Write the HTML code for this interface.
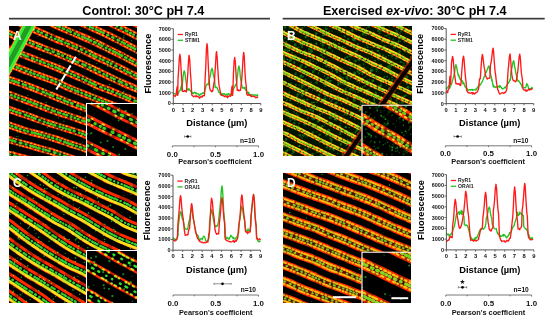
<!DOCTYPE html>
<html><head><meta charset="utf-8"><style>
html,body{margin:0;padding:0;background:#fff;}
svg{display:block;}
</style></head><body>
<svg width="550" height="322" viewBox="0 0 550 322" font-family='"Liberation Sans", Arial, sans-serif'>
<defs><filter id="bl" x="-5%" y="-5%" width="110%" height="110%"><feGaussianBlur stdDeviation="0.65"/></filter><filter id="bl2" x="-5%" y="-5%" width="110%" height="110%"><feGaussianBlur stdDeviation="0.7"/></filter><clipPath id="c1"><rect x="9" y="26" width="128" height="130"/></clipPath><clipPath id="ci1"><rect x="86" y="103" width="51" height="53"/></clipPath><clipPath id="c2"><rect x="283" y="26" width="129" height="130"/></clipPath><clipPath id="ci2"><rect x="361.5" y="104.7" width="51" height="51.3"/></clipPath><clipPath id="c3"><rect x="9" y="173" width="128" height="130"/></clipPath><clipPath id="ci3"><rect x="86" y="250" width="51" height="53"/></clipPath><clipPath id="c4"><rect x="283" y="173" width="128" height="130"/></clipPath><clipPath id="ci4"><rect x="361.5" y="251.7" width="50" height="51.3"/></clipPath></defs>
<rect width="550" height="322" fill="#fff"/>
<text x="82.3" y="14.7" font-size="12.6" font-weight="bold">Control: 30°C pH 7.4</text>
<text x="322.9" y="14.7" font-size="12.6" font-weight="bold">Exercised <tspan font-style="italic">ex-vivo</tspan>: 30°C pH 7.4</text>
<rect x="9" y="17.8" width="261" height="1.7" fill="#3a3a3a"/>
<rect x="282.7" y="17.8" width="262" height="1.7" fill="#3a3a3a"/>
<g clip-path="url(#c1)">
<g filter="url(#bl)">
<rect x="6" y="23" width="134" height="136" fill="#000"/>
<g fill="none"><path d="M-1 -61.2C1.3 -59.9 8.3 -56.2 13 -53.7C17.7 -51.2 22.3 -48.5 27 -46.1C31.7 -43.7 36.3 -41.4 41 -39.2C45.7 -36.9 50.3 -34.9 55 -32.6C59.7 -30.4 64.3 -28.1 69 -25.7C73.7 -23.2 78.3 -20.4 83 -17.8C87.7 -15.1 92.3 -12.4 97 -9.8C101.7 -7.2 106.3 -4.6 111 -2C115.7 0.6 120.3 3.4 125 5.9C129.7 8.4 134.3 10.7 139 13.1C143.7 15.5 150.7 19 153 20.2" stroke="#ff2200" stroke-width="7.4"/><path d="M-1 -61.2C1.3 -59.9 8.3 -56.2 13 -53.7C17.7 -51.2 22.3 -48.5 27 -46.1C31.7 -43.7 36.3 -41.4 41 -39.2C45.7 -36.9 50.3 -34.9 55 -32.6C59.7 -30.4 64.3 -28.1 69 -25.7C73.7 -23.2 78.3 -20.4 83 -17.8C87.7 -15.1 92.3 -12.4 97 -9.8C101.7 -7.2 106.3 -4.6 111 -2C115.7 0.6 120.3 3.4 125 5.9C129.7 8.4 134.3 10.7 139 13.1C143.7 15.5 150.7 19 153 20.2" stroke="#000" stroke-width="3.0" opacity="1"/><path d="M-1 -61.2C1.3 -59.9 8.3 -56.2 13 -53.7C17.7 -51.2 22.3 -48.5 27 -46.1C31.7 -43.7 36.3 -41.4 41 -39.2C45.7 -36.9 50.3 -34.9 55 -32.6C59.7 -30.4 64.3 -28.1 69 -25.7C73.7 -23.2 78.3 -20.4 83 -17.8C87.7 -15.1 92.3 -12.4 97 -9.8C101.7 -7.2 106.3 -4.6 111 -2C115.7 0.6 120.3 3.4 125 5.9C129.7 8.4 134.3 10.7 139 13.1C143.7 15.5 150.7 19 153 20.2" stroke="#000" stroke-width="8.4" stroke-dasharray="8.2 13.4 6.2 18.4 6.1 15.6 6.3 7 5.3 22" stroke-dashoffset="24.5" opacity="0.3"/><path d="M-1 -45.6C1.3 -44.5 8.3 -41 13 -38.8C17.7 -36.6 22.3 -34.6 27 -32.4C31.7 -30.2 36.3 -27.7 41 -25.5C45.7 -23.3 50.3 -21.4 55 -19C59.7 -16.7 64.3 -14 69 -11.5C73.7 -8.9 78.3 -6.3 83 -3.7C87.7 -1.2 92.3 1.3 97 3.7C101.7 6.2 106.3 8.6 111 11C115.7 13.4 120.3 15.8 125 18.1C129.7 20.5 134.3 22.7 139 25.3C143.7 27.8 150.7 31.9 153 33.2" stroke="#ff2200" stroke-width="7.4"/><path d="M-1 -45.6C1.3 -44.5 8.3 -41 13 -38.8C17.7 -36.6 22.3 -34.6 27 -32.4C31.7 -30.2 36.3 -27.7 41 -25.5C45.7 -23.3 50.3 -21.4 55 -19C59.7 -16.7 64.3 -14 69 -11.5C73.7 -8.9 78.3 -6.3 83 -3.7C87.7 -1.2 92.3 1.3 97 3.7C101.7 6.2 106.3 8.6 111 11C115.7 13.4 120.3 15.8 125 18.1C129.7 20.5 134.3 22.7 139 25.3C143.7 27.8 150.7 31.9 153 33.2" stroke="#000" stroke-width="3.0" opacity="1"/><path d="M-1 -45.6C1.3 -44.5 8.3 -41 13 -38.8C17.7 -36.6 22.3 -34.6 27 -32.4C31.7 -30.2 36.3 -27.7 41 -25.5C45.7 -23.3 50.3 -21.4 55 -19C59.7 -16.7 64.3 -14 69 -11.5C73.7 -8.9 78.3 -6.3 83 -3.7C87.7 -1.2 92.3 1.3 97 3.7C101.7 6.2 106.3 8.6 111 11C115.7 13.4 120.3 15.8 125 18.1C129.7 20.5 134.3 22.7 139 25.3C143.7 27.8 150.7 31.9 153 33.2" stroke="#000" stroke-width="8.4" stroke-dasharray="7.2 7.2 8.6 13 6.4 9.1 4.7 24.9 8.4 17.2" stroke-dashoffset="23.4" opacity="0.3"/><path d="M-1 -31.1C1.3 -30.1 8.3 -27.2 13 -25.1C17.7 -22.9 22.3 -20.6 27 -18.4C31.7 -16.2 36.3 -14.2 41 -12C45.7 -9.8 50.3 -7.5 55 -5.1C59.7 -2.6 64.3 0.2 69 2.7C73.7 5.2 78.3 7.6 83 9.9C87.7 12.2 92.3 14.2 97 16.4C101.7 18.7 106.3 21.2 111 23.5C115.7 25.8 120.3 27.8 125 30.2C129.7 32.5 134.3 34.9 139 37.5C143.7 40.1 150.7 44.2 153 45.6" stroke="#ff2200" stroke-width="7.4"/><path d="M-1 -31.1C1.3 -30.1 8.3 -27.2 13 -25.1C17.7 -22.9 22.3 -20.6 27 -18.4C31.7 -16.2 36.3 -14.2 41 -12C45.7 -9.8 50.3 -7.5 55 -5.1C59.7 -2.6 64.3 0.2 69 2.7C73.7 5.2 78.3 7.6 83 9.9C87.7 12.2 92.3 14.2 97 16.4C101.7 18.7 106.3 21.2 111 23.5C115.7 25.8 120.3 27.8 125 30.2C129.7 32.5 134.3 34.9 139 37.5C143.7 40.1 150.7 44.2 153 45.6" stroke="#000" stroke-width="3.0" opacity="1"/><path d="M-1 -31.1C1.3 -30.1 8.3 -27.2 13 -25.1C17.7 -22.9 22.3 -20.6 27 -18.4C31.7 -16.2 36.3 -14.2 41 -12C45.7 -9.8 50.3 -7.5 55 -5.1C59.7 -2.6 64.3 0.2 69 2.7C73.7 5.2 78.3 7.6 83 9.9C87.7 12.2 92.3 14.2 97 16.4C101.7 18.7 106.3 21.2 111 23.5C115.7 25.8 120.3 27.8 125 30.2C129.7 32.5 134.3 34.9 139 37.5C143.7 40.1 150.7 44.2 153 45.6" stroke="#000" stroke-width="8.4" stroke-dasharray="5 14.2 5 19.4 11.7 17.6 5.1 21.4 6.3 7.7" stroke-dashoffset="4.6" opacity="0.3"/><path d="M-1 -16.3C1.3 -15.3 8.3 -12.2 13 -10.2C17.7 -8.2 22.3 -6.3 27 -4.1C31.7 -1.9 36.3 0.5 41 2.9C45.7 5.2 50.3 7.6 55 10C59.7 12.4 64.3 14.9 69 17.2C73.7 19.4 78.3 21.6 83 23.7C87.7 25.8 92.3 27.8 97 30C101.7 32.1 106.3 34.3 111 36.6C115.7 38.8 120.3 41.2 125 43.7C129.7 46.1 134.3 48.7 139 51.2C143.7 53.7 150.7 57.4 153 58.6" stroke="#ff2200" stroke-width="7.4"/><path d="M-1 -16.3C1.3 -15.3 8.3 -12.2 13 -10.2C17.7 -8.2 22.3 -6.3 27 -4.1C31.7 -1.9 36.3 0.5 41 2.9C45.7 5.2 50.3 7.6 55 10C59.7 12.4 64.3 14.9 69 17.2C73.7 19.4 78.3 21.6 83 23.7C87.7 25.8 92.3 27.8 97 30C101.7 32.1 106.3 34.3 111 36.6C115.7 38.8 120.3 41.2 125 43.7C129.7 46.1 134.3 48.7 139 51.2C143.7 53.7 150.7 57.4 153 58.6" stroke="#000" stroke-width="3.0" opacity="1"/><path d="M-1 -16.3C1.3 -15.3 8.3 -12.2 13 -10.2C17.7 -8.2 22.3 -6.3 27 -4.1C31.7 -1.9 36.3 0.5 41 2.9C45.7 5.2 50.3 7.6 55 10C59.7 12.4 64.3 14.9 69 17.2C73.7 19.4 78.3 21.6 83 23.7C87.7 25.8 92.3 27.8 97 30C101.7 32.1 106.3 34.3 111 36.6C115.7 38.8 120.3 41.2 125 43.7C129.7 46.1 134.3 48.7 139 51.2C143.7 53.7 150.7 57.4 153 58.6" stroke="#000" stroke-width="8.4" stroke-dasharray="9.1 24.7 9.1 12.4 11.4 7.5 9.1 8.1 4.6 13.3" stroke-dashoffset="15" opacity="0.3"/><path d="M-1 -1.2C1.3 -0.2 8.3 2.7 13 4.8C17.7 6.9 22.3 9.2 27 11.4C31.7 13.6 36.3 15.9 41 18.1C45.7 20.4 50.3 22.7 55 24.9C59.7 27 64.3 29.1 69 31.1C73.7 33.1 78.3 34.9 83 37C87.7 39 92.3 41.1 97 43.3C101.7 45.5 106.3 47.9 111 50.2C115.7 52.5 120.3 54.8 125 57.2C129.7 59.6 134.3 62.3 139 64.6C143.7 66.9 150.7 70.2 153 71.3" stroke="#ff2200" stroke-width="7.4"/><path d="M-1 -1.2C1.3 -0.2 8.3 2.7 13 4.8C17.7 6.9 22.3 9.2 27 11.4C31.7 13.6 36.3 15.9 41 18.1C45.7 20.4 50.3 22.7 55 24.9C59.7 27 64.3 29.1 69 31.1C73.7 33.1 78.3 34.9 83 37C87.7 39 92.3 41.1 97 43.3C101.7 45.5 106.3 47.9 111 50.2C115.7 52.5 120.3 54.8 125 57.2C129.7 59.6 134.3 62.3 139 64.6C143.7 66.9 150.7 70.2 153 71.3" stroke="#000" stroke-width="3.0" opacity="1"/><path d="M-1 -1.2C1.3 -0.2 8.3 2.7 13 4.8C17.7 6.9 22.3 9.2 27 11.4C31.7 13.6 36.3 15.9 41 18.1C45.7 20.4 50.3 22.7 55 24.9C59.7 27 64.3 29.1 69 31.1C73.7 33.1 78.3 34.9 83 37C87.7 39 92.3 41.1 97 43.3C101.7 45.5 106.3 47.9 111 50.2C115.7 52.5 120.3 54.8 125 57.2C129.7 59.6 134.3 62.3 139 64.6C143.7 66.9 150.7 70.2 153 71.3" stroke="#000" stroke-width="8.4" stroke-dasharray="8.1 7.5 7.3 14.2 7.1 23.3 5.7 24.6 7.2 15.1" stroke-dashoffset="21.4" opacity="0.3"/><path d="M-1 13.7C1.3 14.7 8.3 17.9 13 20C17.7 22.1 22.3 24.3 27 26.4C31.7 28.5 36.3 30.6 41 32.7C45.7 34.7 50.3 36.8 55 38.7C59.7 40.7 64.3 42.3 69 44.2C73.7 46.2 78.3 48.1 83 50.3C87.7 52.5 92.3 55 97 57.2C101.7 59.5 106.3 61.3 111 63.6C115.7 65.8 120.3 68.3 125 70.6C129.7 72.9 134.3 75.2 139 77.4C143.7 79.5 150.7 82.4 153 83.4" stroke="#ff2200" stroke-width="7.4"/><path d="M-1 13.7C1.3 14.7 8.3 17.9 13 20C17.7 22.1 22.3 24.3 27 26.4C31.7 28.5 36.3 30.6 41 32.7C45.7 34.7 50.3 36.8 55 38.7C59.7 40.7 64.3 42.3 69 44.2C73.7 46.2 78.3 48.1 83 50.3C87.7 52.5 92.3 55 97 57.2C101.7 59.5 106.3 61.3 111 63.6C115.7 65.8 120.3 68.3 125 70.6C129.7 72.9 134.3 75.2 139 77.4C143.7 79.5 150.7 82.4 153 83.4" stroke="#000" stroke-width="3.0" opacity="1"/><path d="M-1 13.7C1.3 14.7 8.3 17.9 13 20C17.7 22.1 22.3 24.3 27 26.4C31.7 28.5 36.3 30.6 41 32.7C45.7 34.7 50.3 36.8 55 38.7C59.7 40.7 64.3 42.3 69 44.2C73.7 46.2 78.3 48.1 83 50.3C87.7 52.5 92.3 55 97 57.2C101.7 59.5 106.3 61.3 111 63.6C115.7 65.8 120.3 68.3 125 70.6C129.7 72.9 134.3 75.2 139 77.4C143.7 79.5 150.7 82.4 153 83.4" stroke="#000" stroke-width="8.4" stroke-dasharray="11 11 6.5 24.8 8.6 8.5 4.6 10.9 11.4 21.4" stroke-dashoffset="0.5" opacity="0.3"/><path d="M-1 29.6C1.3 30.6 8.3 33.3 13 35.3C17.7 37.3 22.3 39.6 27 41.6C31.7 43.6 36.3 45.4 41 47.2C45.7 49.1 50.3 50.7 55 52.5C59.7 54.4 64.3 56.4 69 58.4C73.7 60.4 78.3 62.4 83 64.4C87.7 66.5 92.3 68.6 97 70.8C101.7 73 106.3 75.4 111 77.6C115.7 79.8 120.3 81.9 125 84C129.7 86.1 134.3 88 139 89.9C143.7 91.9 150.7 94.8 153 95.8" stroke="#ff2200" stroke-width="7.4"/><path d="M-1 29.6C1.3 30.6 8.3 33.3 13 35.3C17.7 37.3 22.3 39.6 27 41.6C31.7 43.6 36.3 45.4 41 47.2C45.7 49.1 50.3 50.7 55 52.5C59.7 54.4 64.3 56.4 69 58.4C73.7 60.4 78.3 62.4 83 64.4C87.7 66.5 92.3 68.6 97 70.8C101.7 73 106.3 75.4 111 77.6C115.7 79.8 120.3 81.9 125 84C129.7 86.1 134.3 88 139 89.9C143.7 91.9 150.7 94.8 153 95.8" stroke="#000" stroke-width="3.0" opacity="1"/><path d="M-1 29.6C1.3 30.6 8.3 33.3 13 35.3C17.7 37.3 22.3 39.6 27 41.6C31.7 43.6 36.3 45.4 41 47.2C45.7 49.1 50.3 50.7 55 52.5C59.7 54.4 64.3 56.4 69 58.4C73.7 60.4 78.3 62.4 83 64.4C87.7 66.5 92.3 68.6 97 70.8C101.7 73 106.3 75.4 111 77.6C115.7 79.8 120.3 81.9 125 84C129.7 86.1 134.3 88 139 89.9C143.7 91.9 150.7 94.8 153 95.8" stroke="#000" stroke-width="8.4" stroke-dasharray="11.3 20.9 8.4 19.2 10.6 9 5.1 17 7.3 23.7" stroke-dashoffset="9.9" opacity="0.3"/><path d="M-1 45.4C1.3 46.4 8.3 49.1 13 50.9C17.7 52.7 22.3 54.5 27 56.3C31.7 58.1 36.3 59.8 41 61.6C45.7 63.3 50.3 65.1 55 67C59.7 68.9 64.3 71 69 73C73.7 75 78.3 77 83 79.1C87.7 81.2 92.3 83.6 97 85.6C101.7 87.6 106.3 89.1 111 90.9C115.7 92.8 120.3 94.8 125 96.7C129.7 98.7 134.3 100.5 139 102.5C143.7 104.6 150.7 108.1 153 109.2" stroke="#ff2200" stroke-width="7.4"/><path d="M-1 45.4C1.3 46.4 8.3 49.1 13 50.9C17.7 52.7 22.3 54.5 27 56.3C31.7 58.1 36.3 59.8 41 61.6C45.7 63.3 50.3 65.1 55 67C59.7 68.9 64.3 71 69 73C73.7 75 78.3 77 83 79.1C87.7 81.2 92.3 83.6 97 85.6C101.7 87.6 106.3 89.1 111 90.9C115.7 92.8 120.3 94.8 125 96.7C129.7 98.7 134.3 100.5 139 102.5C143.7 104.6 150.7 108.1 153 109.2" stroke="#000" stroke-width="3.0" opacity="1"/><path d="M-1 45.4C1.3 46.4 8.3 49.1 13 50.9C17.7 52.7 22.3 54.5 27 56.3C31.7 58.1 36.3 59.8 41 61.6C45.7 63.3 50.3 65.1 55 67C59.7 68.9 64.3 71 69 73C73.7 75 78.3 77 83 79.1C87.7 81.2 92.3 83.6 97 85.6C101.7 87.6 106.3 89.1 111 90.9C115.7 92.8 120.3 94.8 125 96.7C129.7 98.7 134.3 100.5 139 102.5C143.7 104.6 150.7 108.1 153 109.2" stroke="#000" stroke-width="8.4" stroke-dasharray="11.1 15.1 3.4 11.2 8.9 8.4 6.1 24.6 4.2 14.3" stroke-dashoffset="19.5" opacity="0.3"/><path d="M-1 61.1C1.3 61.9 8.3 64.2 13 65.8C17.7 67.5 22.3 69.4 27 71.2C31.7 72.9 36.3 74.6 41 76.3C45.7 78 50.3 79.5 55 81.4C59.7 83.4 64.3 85.9 69 87.9C73.7 89.9 78.3 91.7 83 93.5C87.7 95.4 92.3 97.2 97 99C101.7 100.8 106.3 102.6 111 104.4C115.7 106.1 120.3 107.7 125 109.6C129.7 111.5 134.3 113.6 139 115.7C143.7 117.8 150.7 121.1 153 122.2" stroke="#ff2200" stroke-width="7.4"/><path d="M-1 61.1C1.3 61.9 8.3 64.2 13 65.8C17.7 67.5 22.3 69.4 27 71.2C31.7 72.9 36.3 74.6 41 76.3C45.7 78 50.3 79.5 55 81.4C59.7 83.4 64.3 85.9 69 87.9C73.7 89.9 78.3 91.7 83 93.5C87.7 95.4 92.3 97.2 97 99C101.7 100.8 106.3 102.6 111 104.4C115.7 106.1 120.3 107.7 125 109.6C129.7 111.5 134.3 113.6 139 115.7C143.7 117.8 150.7 121.1 153 122.2" stroke="#000" stroke-width="3.0" opacity="1"/><path d="M-1 61.1C1.3 61.9 8.3 64.2 13 65.8C17.7 67.5 22.3 69.4 27 71.2C31.7 72.9 36.3 74.6 41 76.3C45.7 78 50.3 79.5 55 81.4C59.7 83.4 64.3 85.9 69 87.9C73.7 89.9 78.3 91.7 83 93.5C87.7 95.4 92.3 97.2 97 99C101.7 100.8 106.3 102.6 111 104.4C115.7 106.1 120.3 107.7 125 109.6C129.7 111.5 134.3 113.6 139 115.7C143.7 117.8 150.7 121.1 153 122.2" stroke="#000" stroke-width="8.4" stroke-dasharray="8 22.9 3.2 15.7 8 23.4 3.5 13.6 9.4 9.9" stroke-dashoffset="19.9" opacity="0.3"/><path d="M-1 76.2C1.3 77 8.3 79.3 13 80.8C17.7 82.4 22.3 84 27 85.7C31.7 87.4 36.3 89.2 41 91.1C45.7 92.9 50.3 95 55 96.8C59.7 98.7 64.3 100.6 69 102.4C73.7 104.1 78.3 105.7 83 107.4C87.7 109.1 92.3 111 97 112.6C101.7 114.3 106.3 115.7 111 117.5C115.7 119.2 120.3 121.2 125 123.3C129.7 125.3 134.3 127.5 139 129.6C143.7 131.6 150.7 134.6 153 135.6" stroke="#ff2200" stroke-width="7.4"/><path d="M-1 76.2C1.3 77 8.3 79.3 13 80.8C17.7 82.4 22.3 84 27 85.7C31.7 87.4 36.3 89.2 41 91.1C45.7 92.9 50.3 95 55 96.8C59.7 98.7 64.3 100.6 69 102.4C73.7 104.1 78.3 105.7 83 107.4C87.7 109.1 92.3 111 97 112.6C101.7 114.3 106.3 115.7 111 117.5C115.7 119.2 120.3 121.2 125 123.3C129.7 125.3 134.3 127.5 139 129.6C143.7 131.6 150.7 134.6 153 135.6" stroke="#000" stroke-width="3.0" opacity="1"/><path d="M-1 76.2C1.3 77 8.3 79.3 13 80.8C17.7 82.4 22.3 84 27 85.7C31.7 87.4 36.3 89.2 41 91.1C45.7 92.9 50.3 95 55 96.8C59.7 98.7 64.3 100.6 69 102.4C73.7 104.1 78.3 105.7 83 107.4C87.7 109.1 92.3 111 97 112.6C101.7 114.3 106.3 115.7 111 117.5C115.7 119.2 120.3 121.2 125 123.3C129.7 125.3 134.3 127.5 139 129.6C143.7 131.6 150.7 134.6 153 135.6" stroke="#000" stroke-width="8.4" stroke-dasharray="7.7 13.1 5.2 20.2 5.3 19.8 8.9 12 10.2 12.1" stroke-dashoffset="25.1" opacity="0.3"/><path d="M-1 90.8C1.3 91.6 8.3 94.1 13 95.8C17.7 97.5 22.3 99.1 27 100.9C31.7 102.6 36.3 104.3 41 106.1C45.7 107.8 50.3 109.8 55 111.4C59.7 113.1 64.3 114.3 69 115.9C73.7 117.4 78.3 119.2 83 120.8C87.7 122.5 92.3 124.2 97 125.9C101.7 127.6 106.3 129.2 111 131.1C115.7 132.9 120.3 135.1 125 137.1C129.7 139 134.3 140.9 139 142.8C143.7 144.6 150.7 147.1 153 148" stroke="#ff2200" stroke-width="7.4"/><path d="M-1 90.8C1.3 91.6 8.3 94.1 13 95.8C17.7 97.5 22.3 99.1 27 100.9C31.7 102.6 36.3 104.3 41 106.1C45.7 107.8 50.3 109.8 55 111.4C59.7 113.1 64.3 114.3 69 115.9C73.7 117.4 78.3 119.2 83 120.8C87.7 122.5 92.3 124.2 97 125.9C101.7 127.6 106.3 129.2 111 131.1C115.7 132.9 120.3 135.1 125 137.1C129.7 139 134.3 140.9 139 142.8C143.7 144.6 150.7 147.1 153 148" stroke="#000" stroke-width="3.0" opacity="1"/><path d="M-1 90.8C1.3 91.6 8.3 94.1 13 95.8C17.7 97.5 22.3 99.1 27 100.9C31.7 102.6 36.3 104.3 41 106.1C45.7 107.8 50.3 109.8 55 111.4C59.7 113.1 64.3 114.3 69 115.9C73.7 117.4 78.3 119.2 83 120.8C87.7 122.5 92.3 124.2 97 125.9C101.7 127.6 106.3 129.2 111 131.1C115.7 132.9 120.3 135.1 125 137.1C129.7 139 134.3 140.9 139 142.8C143.7 144.6 150.7 147.1 153 148" stroke="#000" stroke-width="8.4" stroke-dasharray="3.5 21.4 11.9 15.5 3.7 7.8 11.2 9.4 9.9 20.4" stroke-dashoffset="12.1" opacity="0.3"/><path d="M-1 105.8C1.3 106.6 8.3 109.2 13 110.8C17.7 112.5 22.3 113.9 27 115.5C31.7 117.2 36.3 119 41 120.6C45.7 122.3 50.3 123.8 55 125.3C59.7 126.7 64.3 128 69 129.5C73.7 130.9 78.3 132.3 83 134C87.7 135.7 92.3 137.8 97 139.6C101.7 141.5 106.3 143.3 111 145.1C115.7 146.9 120.3 148.6 125 150.3C129.7 151.9 134.3 153.5 139 155.2C143.7 156.9 150.7 159.6 153 160.4" stroke="#ff2200" stroke-width="7.4"/><path d="M-1 105.8C1.3 106.6 8.3 109.2 13 110.8C17.7 112.5 22.3 113.9 27 115.5C31.7 117.2 36.3 119 41 120.6C45.7 122.3 50.3 123.8 55 125.3C59.7 126.7 64.3 128 69 129.5C73.7 130.9 78.3 132.3 83 134C87.7 135.7 92.3 137.8 97 139.6C101.7 141.5 106.3 143.3 111 145.1C115.7 146.9 120.3 148.6 125 150.3C129.7 151.9 134.3 153.5 139 155.2C143.7 156.9 150.7 159.6 153 160.4" stroke="#000" stroke-width="3.0" opacity="1"/><path d="M-1 105.8C1.3 106.6 8.3 109.2 13 110.8C17.7 112.5 22.3 113.9 27 115.5C31.7 117.2 36.3 119 41 120.6C45.7 122.3 50.3 123.8 55 125.3C59.7 126.7 64.3 128 69 129.5C73.7 130.9 78.3 132.3 83 134C87.7 135.7 92.3 137.8 97 139.6C101.7 141.5 106.3 143.3 111 145.1C115.7 146.9 120.3 148.6 125 150.3C129.7 151.9 134.3 153.5 139 155.2C143.7 156.9 150.7 159.6 153 160.4" stroke="#000" stroke-width="8.4" stroke-dasharray="5.1 10.3 11.1 19.9 5.3 9.1 9.3 8.7 11.3 8.4" stroke-dashoffset="20.1" opacity="0.3"/><path d="M-1 121.7C1.3 122.5 8.3 124.9 13 126.5C17.7 128 22.3 129.8 27 131.1C31.7 132.5 36.3 133.4 41 134.6C45.7 135.9 50.3 137.2 55 138.7C59.7 140.1 64.3 142 69 143.5C73.7 145.1 78.3 146.5 83 148.1C87.7 149.8 92.3 151.8 97 153.6C101.7 155.4 106.3 157.4 111 159C115.7 160.6 120.3 161.7 125 163.2C129.7 164.8 134.3 166.8 139 168.3C143.7 169.8 150.7 171.7 153 172.4" stroke="#ff2200" stroke-width="7.4"/><path d="M-1 121.7C1.3 122.5 8.3 124.9 13 126.5C17.7 128 22.3 129.8 27 131.1C31.7 132.5 36.3 133.4 41 134.6C45.7 135.9 50.3 137.2 55 138.7C59.7 140.1 64.3 142 69 143.5C73.7 145.1 78.3 146.5 83 148.1C87.7 149.8 92.3 151.8 97 153.6C101.7 155.4 106.3 157.4 111 159C115.7 160.6 120.3 161.7 125 163.2C129.7 164.8 134.3 166.8 139 168.3C143.7 169.8 150.7 171.7 153 172.4" stroke="#000" stroke-width="3.0" opacity="1"/><path d="M-1 121.7C1.3 122.5 8.3 124.9 13 126.5C17.7 128 22.3 129.8 27 131.1C31.7 132.5 36.3 133.4 41 134.6C45.7 135.9 50.3 137.2 55 138.7C59.7 140.1 64.3 142 69 143.5C73.7 145.1 78.3 146.5 83 148.1C87.7 149.8 92.3 151.8 97 153.6C101.7 155.4 106.3 157.4 111 159C115.7 160.6 120.3 161.7 125 163.2C129.7 164.8 134.3 166.8 139 168.3C143.7 169.8 150.7 171.7 153 172.4" stroke="#000" stroke-width="8.4" stroke-dasharray="6.4 7 9.3 6.6 5.7 21.6 7.2 11.6 10.7 10.3" stroke-dashoffset="29.5" opacity="0.3"/><path d="M-1 137C1.3 137.6 8.3 139.6 13 140.8C17.7 142.1 22.3 143.4 27 144.7C31.7 146 36.3 147.4 41 148.8C45.7 150.1 50.3 151.3 55 152.7C59.7 154.2 64.3 155.9 69 157.5C73.7 159.1 78.3 160.6 83 162.2C87.7 163.9 92.3 165.6 97 167.2C101.7 168.7 106.3 170 111 171.4C115.7 172.8 120.3 174 125 175.4C129.7 176.8 134.3 178.2 139 179.7C143.7 181.3 150.7 183.9 153 184.8" stroke="#ff2200" stroke-width="7.4"/><path d="M-1 137C1.3 137.6 8.3 139.6 13 140.8C17.7 142.1 22.3 143.4 27 144.7C31.7 146 36.3 147.4 41 148.8C45.7 150.1 50.3 151.3 55 152.7C59.7 154.2 64.3 155.9 69 157.5C73.7 159.1 78.3 160.6 83 162.2C87.7 163.9 92.3 165.6 97 167.2C101.7 168.7 106.3 170 111 171.4C115.7 172.8 120.3 174 125 175.4C129.7 176.8 134.3 178.2 139 179.7C143.7 181.3 150.7 183.9 153 184.8" stroke="#000" stroke-width="3.0" opacity="1"/><path d="M-1 137C1.3 137.6 8.3 139.6 13 140.8C17.7 142.1 22.3 143.4 27 144.7C31.7 146 36.3 147.4 41 148.8C45.7 150.1 50.3 151.3 55 152.7C59.7 154.2 64.3 155.9 69 157.5C73.7 159.1 78.3 160.6 83 162.2C87.7 163.9 92.3 165.6 97 167.2C101.7 168.7 106.3 170 111 171.4C115.7 172.8 120.3 174 125 175.4C129.7 176.8 134.3 178.2 139 179.7C143.7 181.3 150.7 183.9 153 184.8" stroke="#000" stroke-width="8.4" stroke-dasharray="9.3 11.9 11.9 21.5 8.1 7.7 6.3 17.4 11.5 8.9" stroke-dashoffset="9" opacity="0.3"/><path d="M-1 151.9C1.3 152.5 8.3 154.2 13 155.3C17.7 156.5 22.3 157.7 27 158.9C31.7 160.2 36.3 161.3 41 162.7C45.7 164 50.3 165.7 55 167.1C59.7 168.6 64.3 170 69 171.5C73.7 173.1 78.3 174.9 83 176.4C87.7 177.8 92.3 178.9 97 180.2C101.7 181.5 106.3 182.9 111 184.2C115.7 185.5 120.3 186.6 125 188.1C129.7 189.5 134.3 191.2 139 192.9C143.7 194.6 150.7 197.2 153 198.1" stroke="#ff2200" stroke-width="7.4"/><path d="M-1 151.9C1.3 152.5 8.3 154.2 13 155.3C17.7 156.5 22.3 157.7 27 158.9C31.7 160.2 36.3 161.3 41 162.7C45.7 164 50.3 165.7 55 167.1C59.7 168.6 64.3 170 69 171.5C73.7 173.1 78.3 174.9 83 176.4C87.7 177.8 92.3 178.9 97 180.2C101.7 181.5 106.3 182.9 111 184.2C115.7 185.5 120.3 186.6 125 188.1C129.7 189.5 134.3 191.2 139 192.9C143.7 194.6 150.7 197.2 153 198.1" stroke="#000" stroke-width="3.0" opacity="1"/><path d="M-1 151.9C1.3 152.5 8.3 154.2 13 155.3C17.7 156.5 22.3 157.7 27 158.9C31.7 160.2 36.3 161.3 41 162.7C45.7 164 50.3 165.7 55 167.1C59.7 168.6 64.3 170 69 171.5C73.7 173.1 78.3 174.9 83 176.4C87.7 177.8 92.3 178.9 97 180.2C101.7 181.5 106.3 182.9 111 184.2C115.7 185.5 120.3 186.6 125 188.1C129.7 189.5 134.3 191.2 139 192.9C143.7 194.6 150.7 197.2 153 198.1" stroke="#000" stroke-width="8.4" stroke-dasharray="4.6 10 10.6 21.5 8.5 14.8 9.1 10.5 3.3 12.7" stroke-dashoffset="18.7" opacity="0.3"/><path d="M33 18 L0.1 80" stroke="#ff2a10" stroke-width="13"/><path d="M33 18 L0.1 80" stroke="#000" stroke-width="10.6"/></g>
<g fill="none" style="mix-blend-mode:screen">
<g fill="#1a8a1a" opacity="0.9"><circle cx="95.8" cy="143.5" r="0.6"/><circle cx="124.4" cy="155.9" r="0.7"/><circle cx="50.1" cy="52.5" r="0.7"/><circle cx="125.8" cy="30.8" r="0.6"/><circle cx="135.4" cy="128.8" r="0.7"/><circle cx="45.2" cy="31.2" r="0.7"/><circle cx="115.1" cy="42.7" r="0.5"/><circle cx="30.9" cy="99.3" r="0.7"/><circle cx="58" cy="152.7" r="0.7"/><circle cx="76.1" cy="49.9" r="0.4"/><circle cx="71.1" cy="143.3" r="0.7"/><circle cx="126.1" cy="61.2" r="0.6"/><circle cx="70.2" cy="55.2" r="0.7"/><circle cx="27.8" cy="95.4" r="0.6"/><circle cx="49.5" cy="33.2" r="0.5"/><circle cx="59.2" cy="63.3" r="0.6"/><circle cx="52.5" cy="77.3" r="0.5"/><circle cx="20.5" cy="41.3" r="0.6"/><circle cx="100.2" cy="72.7" r="0.5"/><circle cx="89.2" cy="61.3" r="0.6"/><circle cx="115.3" cy="82.1" r="0.5"/><circle cx="46.1" cy="102.5" r="0.8"/><circle cx="81.6" cy="132.2" r="0.4"/><circle cx="135.7" cy="91" r="0.8"/><circle cx="134.7" cy="101.6" r="0.8"/><circle cx="18.1" cy="136.4" r="0.5"/><circle cx="14.1" cy="66.5" r="0.6"/><circle cx="90.8" cy="50.3" r="0.7"/><circle cx="13.5" cy="151.7" r="0.8"/><circle cx="61.8" cy="70.3" r="0.6"/><circle cx="131.3" cy="112.8" r="0.8"/><circle cx="93.9" cy="155.6" r="0.4"/><circle cx="122.6" cy="69.1" r="0.4"/><circle cx="45.9" cy="37" r="0.8"/><circle cx="93.9" cy="89.2" r="0.8"/><circle cx="52.4" cy="92.4" r="0.7"/><circle cx="69.5" cy="48.9" r="0.7"/><circle cx="38" cy="36.5" r="0.5"/><circle cx="58.6" cy="117.9" r="0.6"/><circle cx="127.5" cy="95.7" r="0.5"/><circle cx="123" cy="29.9" r="0.5"/><circle cx="107.6" cy="66.5" r="0.8"/><circle cx="19.6" cy="37.2" r="0.5"/><circle cx="98.8" cy="137" r="0.5"/><circle cx="55" cy="122.9" r="0.7"/><circle cx="80.2" cy="112.9" r="0.6"/><circle cx="21.6" cy="41.7" r="0.6"/><circle cx="11.6" cy="71.5" r="0.6"/><circle cx="135" cy="101.7" r="0.5"/><circle cx="72.2" cy="89.5" r="0.7"/><circle cx="99.7" cy="68" r="0.8"/><circle cx="72.9" cy="30.9" r="0.6"/><circle cx="28.8" cy="109.1" r="0.7"/><circle cx="91.4" cy="70" r="0.5"/><circle cx="19.8" cy="69.9" r="0.6"/><circle cx="17.9" cy="132.4" r="0.6"/><circle cx="19.1" cy="63.5" r="0.5"/><circle cx="43.2" cy="72.1" r="0.5"/><circle cx="16.9" cy="136.6" r="0.7"/><circle cx="85.1" cy="121.5" r="0.7"/><circle cx="79.1" cy="54.1" r="0.7"/><circle cx="72.9" cy="129.4" r="0.8"/><circle cx="95.8" cy="89.2" r="0.4"/><circle cx="123.6" cy="91.7" r="0.8"/><circle cx="19.5" cy="33.6" r="0.7"/><circle cx="11.9" cy="150.7" r="0.4"/><circle cx="108.6" cy="124.3" r="0.7"/><circle cx="85" cy="116.9" r="0.8"/><circle cx="122.1" cy="82.4" r="0.4"/><circle cx="106" cy="63.3" r="0.6"/><circle cx="44.3" cy="45.7" r="0.5"/><circle cx="94.2" cy="95.9" r="0.5"/><circle cx="106" cy="132" r="0.7"/><circle cx="82.4" cy="142.2" r="0.5"/><circle cx="97.1" cy="104.1" r="0.7"/><circle cx="53.7" cy="61.5" r="0.4"/><circle cx="63.9" cy="121.2" r="0.7"/><circle cx="131.4" cy="40.7" r="0.6"/><circle cx="19.3" cy="146.8" r="0.5"/><circle cx="52.8" cy="125.8" r="0.8"/><circle cx="132.9" cy="83.8" r="0.5"/><circle cx="128.4" cy="104.1" r="0.8"/><circle cx="32.3" cy="133.6" r="0.8"/><circle cx="134.1" cy="74" r="0.6"/><circle cx="96.9" cy="63.6" r="0.7"/><circle cx="130.1" cy="95" r="0.7"/><circle cx="40.6" cy="54.3" r="0.5"/><circle cx="47.4" cy="127.5" r="0.7"/><circle cx="39.5" cy="76.9" r="0.8"/><circle cx="60.4" cy="79.7" r="0.8"/><circle cx="109.8" cy="84.6" r="0.8"/><circle cx="53.2" cy="30.8" r="0.5"/><circle cx="123.8" cy="37.6" r="0.8"/><circle cx="72.1" cy="57.2" r="0.5"/><circle cx="125.2" cy="133.3" r="0.7"/><circle cx="107.8" cy="135.4" r="0.6"/><circle cx="56" cy="55" r="0.4"/><circle cx="80.1" cy="29.8" r="0.7"/><circle cx="83.8" cy="138.1" r="0.5"/><circle cx="110.8" cy="91.1" r="0.5"/><circle cx="91.7" cy="102.4" r="0.8"/><circle cx="106.8" cy="120.3" r="0.6"/><circle cx="128.2" cy="30.1" r="0.6"/><circle cx="124.1" cy="35.7" r="0.6"/><circle cx="107.9" cy="32.3" r="0.6"/><circle cx="93.9" cy="69.8" r="0.7"/><circle cx="56.3" cy="115.3" r="0.6"/><circle cx="24.1" cy="100.2" r="0.6"/><circle cx="59.2" cy="137.7" r="0.7"/><circle cx="96.8" cy="44.9" r="0.6"/></g>
<path d="M-1 -61.2C1.3 -59.9 8.3 -56.2 13 -53.7C17.7 -51.2 22.3 -48.5 27 -46.1C31.7 -43.7 36.3 -41.4 41 -39.2C45.7 -36.9 50.3 -34.9 55 -32.6C59.7 -30.4 64.3 -28.1 69 -25.7C73.7 -23.2 78.3 -20.4 83 -17.8C87.7 -15.1 92.3 -12.4 97 -9.8C101.7 -7.2 106.3 -4.6 111 -2C115.7 0.6 120.3 3.4 125 5.9C129.7 8.4 134.3 10.7 139 13.1C143.7 15.5 150.7 19 153 20.2" stroke="#0a4a0a" stroke-width="2.4" stroke-dasharray="6 2.4 7.8 3.5 3.5 2.7 7.7 3.4 4.2 2.4 5.1 3.7" opacity="0.9"/>
<path d="M-1 -61.2C1.3 -59.9 8.3 -56.2 13 -53.7C17.7 -51.2 22.3 -48.5 27 -46.1C31.7 -43.7 36.3 -41.4 41 -39.2C45.7 -36.9 50.3 -34.9 55 -32.6C59.7 -30.4 64.3 -28.1 69 -25.7C73.7 -23.2 78.3 -20.4 83 -17.8C87.7 -15.1 92.3 -12.4 97 -9.8C101.7 -7.2 106.3 -4.6 111 -2C115.7 0.6 120.3 3.4 125 5.9C129.7 8.4 134.3 10.7 139 13.1C143.7 15.5 150.7 19 153 20.2" stroke="#40c820" stroke-width="2.6" stroke-linecap="round" stroke-dasharray="1 3.2 0.7 2.3 0.7 2.7 0.2 2.3 0.4 4.1 0.3 3.7 0.9 4.9 0.7 4.3 0.1 3.9" stroke-dashoffset="8.8" opacity="1"/>
<path d="M-1 -63.8C1.3 -62.6 8.3 -58.9 13 -56.4C17.7 -53.8 22.3 -51.1 27 -48.7C31.7 -46.2 36.3 -43.9 41 -41.7C45.7 -39.4 50.3 -37.4 55 -35.1C59.7 -32.9 64.3 -30.7 69 -28.3C73.7 -25.8 78.3 -23.1 83 -20.4C87.7 -17.8 92.3 -15.1 97 -12.5C101.7 -9.8 106.3 -7.3 111 -4.7C115.7 -2 120.3 0.8 125 3.3C129.7 5.9 134.3 8.2 139 10.6C143.7 13 150.7 16.5 153 17.7" stroke="#60d020" stroke-width="1.5" stroke-linecap="round" stroke-dasharray="0.2 4.7 0.4 4 0.2 2.2 0.3 4.7 1 4 0.8 2.9 0.7 3.4 1.2 3.4" stroke-dashoffset="6.7" opacity="0.8"/>
<path d="M-1 -58.5C1.3 -57.2 8.3 -53.5 13 -51C17.7 -48.5 22.3 -45.9 27 -43.5C31.7 -41.1 36.3 -38.9 41 -36.6C45.7 -34.4 50.3 -32.3 55 -30.1C59.7 -27.8 64.3 -25.5 69 -23C73.7 -20.5 78.3 -17.7 83 -15.1C87.7 -12.4 92.3 -9.7 97 -7.1C101.7 -4.5 106.3 -2 111 0.6C115.7 3.2 120.3 5.9 125 8.4C129.7 10.9 134.3 13.2 139 15.6C143.7 18 150.7 21.6 153 22.8" stroke="#60d020" stroke-width="1.5" stroke-linecap="round" stroke-dasharray="0.6 4.8 1.1 5 0.4 4.6 0.7 3.5 0.7 2.3 1.1 3.8 0.3 4.2 0.3 3.1" stroke-dashoffset="6" opacity="0.8"/>
<path d="M-1 -45.6C1.3 -44.5 8.3 -41 13 -38.8C17.7 -36.6 22.3 -34.6 27 -32.4C31.7 -30.2 36.3 -27.7 41 -25.5C45.7 -23.3 50.3 -21.4 55 -19C59.7 -16.7 64.3 -14 69 -11.5C73.7 -8.9 78.3 -6.3 83 -3.7C87.7 -1.2 92.3 1.3 97 3.7C101.7 6.2 106.3 8.6 111 11C115.7 13.4 120.3 15.8 125 18.1C129.7 20.5 134.3 22.7 139 25.3C143.7 27.8 150.7 31.9 153 33.2" stroke="#0a4a0a" stroke-width="2.4" stroke-dasharray="4.3 1.5 5.6 2.2 4.4 1.3 4.5 1.2 7.4 2.1 6.3 2.8" opacity="0.9"/>
<path d="M-1 -45.6C1.3 -44.5 8.3 -41 13 -38.8C17.7 -36.6 22.3 -34.6 27 -32.4C31.7 -30.2 36.3 -27.7 41 -25.5C45.7 -23.3 50.3 -21.4 55 -19C59.7 -16.7 64.3 -14 69 -11.5C73.7 -8.9 78.3 -6.3 83 -3.7C87.7 -1.2 92.3 1.3 97 3.7C101.7 6.2 106.3 8.6 111 11C115.7 13.4 120.3 15.8 125 18.1C129.7 20.5 134.3 22.7 139 25.3C143.7 27.8 150.7 31.9 153 33.2" stroke="#40c820" stroke-width="2.6" stroke-linecap="round" stroke-dasharray="0.7 3 0.1 4 0.2 2.7 1.3 3.1 0.6 4.1 0.5 3.1 0.5 4.1 0.2 3.1 1.4 3.9" stroke-dashoffset="4.3" opacity="1"/>
<path d="M-1 -48.2C1.3 -47.1 8.3 -43.6 13 -41.4C17.7 -39.2 22.3 -37.1 27 -34.9C31.7 -32.7 36.3 -30.2 41 -28C45.7 -25.8 50.3 -24 55 -21.6C59.7 -19.3 64.3 -16.7 69 -14.2C73.7 -11.6 78.3 -9 83 -6.4C87.7 -3.9 92.3 -1.4 97 1.1C101.7 3.6 106.3 6 111 8.5C115.7 10.9 120.3 13.3 125 15.6C129.7 18 134.3 20.2 139 22.7C143.7 25.2 150.7 29.3 153 30.6" stroke="#60d020" stroke-width="1.5" stroke-linecap="round" stroke-dasharray="0.5 2.1 1.1 4.8 1.2 3.4 0.8 2.9 1 3.7 0.5 2.9 0.6 4 1 2.3" stroke-dashoffset="8.4" opacity="0.8"/>
<path d="M-1 -42.9C1.3 -41.8 8.3 -38.4 13 -36.3C17.7 -34.1 22.3 -32.1 27 -29.9C31.7 -27.7 36.3 -25.2 41 -23C45.7 -20.7 50.3 -18.8 55 -16.4C59.7 -14.1 64.3 -11.4 69 -8.8C73.7 -6.2 78.3 -3.6 83 -1C87.7 1.5 92.3 3.9 97 6.3C101.7 8.8 106.3 11.1 111 13.5C115.7 15.9 120.3 18.3 125 20.7C129.7 23 134.3 25.3 139 27.8C143.7 30.4 150.7 34.6 153 35.9" stroke="#60d020" stroke-width="1.5" stroke-linecap="round" stroke-dasharray="1 4.4 0.4 2.4 0.9 4.8 0.5 2.3 0.5 4.5 1 2.7 0.4 3.5 0.5 4.6" stroke-dashoffset="4.2" opacity="0.8"/>
<path d="M-1 -31.1C1.3 -30.1 8.3 -27.2 13 -25.1C17.7 -22.9 22.3 -20.6 27 -18.4C31.7 -16.2 36.3 -14.2 41 -12C45.7 -9.8 50.3 -7.5 55 -5.1C59.7 -2.6 64.3 0.2 69 2.7C73.7 5.2 78.3 7.6 83 9.9C87.7 12.2 92.3 14.2 97 16.4C101.7 18.7 106.3 21.2 111 23.5C115.7 25.8 120.3 27.8 125 30.2C129.7 32.5 134.3 34.9 139 37.5C143.7 40.1 150.7 44.2 153 45.6" stroke="#0a4a0a" stroke-width="2.4" stroke-dasharray="4.2 3.5 3.4 3.3 2.5 3.5 6.3 1.3 2.3 1.8 3.1 2.9" opacity="0.9"/>
<path d="M-1 -31.1C1.3 -30.1 8.3 -27.2 13 -25.1C17.7 -22.9 22.3 -20.6 27 -18.4C31.7 -16.2 36.3 -14.2 41 -12C45.7 -9.8 50.3 -7.5 55 -5.1C59.7 -2.6 64.3 0.2 69 2.7C73.7 5.2 78.3 7.6 83 9.9C87.7 12.2 92.3 14.2 97 16.4C101.7 18.7 106.3 21.2 111 23.5C115.7 25.8 120.3 27.8 125 30.2C129.7 32.5 134.3 34.9 139 37.5C143.7 40.1 150.7 44.2 153 45.6" stroke="#40c820" stroke-width="2.6" stroke-linecap="round" stroke-dasharray="0.7 3.7 0.5 4.9 0.2 4 0.8 5 1.3 3.4 0.7 3.1 0.3 4 1.3 3.4 1.3 2.7" stroke-dashoffset="2.4" opacity="1"/>
<path d="M-1 -33.6C1.3 -32.6 8.3 -29.7 13 -27.6C17.7 -25.5 22.3 -23.1 27 -20.9C31.7 -18.8 36.3 -16.8 41 -14.6C45.7 -12.4 50.3 -10.2 55 -7.7C59.7 -5.3 64.3 -2.5 69 -0C73.7 2.5 78.3 5 83 7.3C87.7 9.6 92.3 11.6 97 13.9C101.7 16.2 106.3 18.7 111 21C115.7 23.3 120.3 25.3 125 27.6C129.7 29.9 134.3 32.3 139 34.8C143.7 37.4 150.7 41.5 153 42.9" stroke="#60d020" stroke-width="1.5" stroke-linecap="round" stroke-dasharray="1.2 4.8 0.7 3.7 0.6 2.1 0.6 5 0.7 4.4 0.4 4.2 0.8 5 0.5 3.4" stroke-dashoffset="2.4" opacity="0.8"/>
<path d="M-1 -28.5C1.3 -27.5 8.3 -24.7 13 -22.5C17.7 -20.4 22.3 -18.1 27 -15.9C31.7 -13.7 36.3 -11.6 41 -9.4C45.7 -7.1 50.3 -4.8 55 -2.4C59.7 0.1 64.3 2.9 69 5.3C73.7 7.8 78.3 10.2 83 12.5C87.7 14.8 92.3 16.7 97 19C101.7 21.2 106.3 23.7 111 26C115.7 28.3 120.3 30.4 125 32.7C129.7 35.1 134.3 37.6 139 40.2C143.7 42.7 150.7 46.9 153 48.3" stroke="#60d020" stroke-width="1.5" stroke-linecap="round" stroke-dasharray="0.9 2.2 0.9 4.5 0.4 3.1 0.5 4.6 0.4 4.7 0.3 2.1 1 2.2 0.8 3.6" stroke-dashoffset="8" opacity="0.8"/>
<path d="M-1 -16.3C1.3 -15.3 8.3 -12.2 13 -10.2C17.7 -8.2 22.3 -6.3 27 -4.1C31.7 -1.9 36.3 0.5 41 2.9C45.7 5.2 50.3 7.6 55 10C59.7 12.4 64.3 14.9 69 17.2C73.7 19.4 78.3 21.6 83 23.7C87.7 25.8 92.3 27.8 97 30C101.7 32.1 106.3 34.3 111 36.6C115.7 38.8 120.3 41.2 125 43.7C129.7 46.1 134.3 48.7 139 51.2C143.7 53.7 150.7 57.4 153 58.6" stroke="#0a4a0a" stroke-width="2.4" stroke-dasharray="2.3 2.2 5.2 1.8 4.4 3.3 3.1 1.9 3.7 1.7 2.2 3.9" opacity="0.9"/>
<path d="M-1 -16.3C1.3 -15.3 8.3 -12.2 13 -10.2C17.7 -8.2 22.3 -6.3 27 -4.1C31.7 -1.9 36.3 0.5 41 2.9C45.7 5.2 50.3 7.6 55 10C59.7 12.4 64.3 14.9 69 17.2C73.7 19.4 78.3 21.6 83 23.7C87.7 25.8 92.3 27.8 97 30C101.7 32.1 106.3 34.3 111 36.6C115.7 38.8 120.3 41.2 125 43.7C129.7 46.1 134.3 48.7 139 51.2C143.7 53.7 150.7 57.4 153 58.6" stroke="#40c820" stroke-width="2.6" stroke-linecap="round" stroke-dasharray="0.8 3 1.2 2.1 0.2 2.1 0.1 2 0.9 4.2 0.6 4.8 1.1 5 1.1 3.6 0.2 2.4" stroke-dashoffset="2.9" opacity="1"/>
<path d="M-1 -18.8C1.3 -17.8 8.3 -14.8 13 -12.7C17.7 -10.7 22.3 -8.9 27 -6.7C31.7 -4.5 36.3 -2.1 41 0.2C45.7 2.5 50.3 4.9 55 7.3C59.7 9.7 64.3 12.2 69 14.6C73.7 16.9 78.3 19 83 21.2C87.7 23.3 92.3 25.3 97 27.4C101.7 29.6 106.3 31.7 111 34C115.7 36.3 120.3 38.6 125 41C129.7 43.4 134.3 46 139 48.5C143.7 51 150.7 54.7 153 56" stroke="#60d020" stroke-width="1.5" stroke-linecap="round" stroke-dasharray="0.3 3.9 0.3 3.6 0.6 3.2 0.3 4.2 1 3 0.6 4.1 0.3 3.8 0.5 4.1" stroke-dashoffset="5.7" opacity="0.8"/>
<path d="M-1 -13.8C1.3 -12.7 8.3 -9.7 13 -7.7C17.7 -5.6 22.3 -3.7 27 -1.5C31.7 0.7 36.3 3.2 41 5.6C45.7 7.9 50.3 10.3 55 12.7C59.7 15.1 64.3 17.5 69 19.8C73.7 22 78.3 24.1 83 26.2C87.7 28.4 92.3 30.3 97 32.5C101.7 34.6 106.3 36.8 111 39.2C115.7 41.5 120.3 43.9 125 46.3C129.7 48.8 134.3 51.4 139 53.9C143.7 56.4 150.7 60 153 61.2" stroke="#60d020" stroke-width="1.5" stroke-linecap="round" stroke-dasharray="0.5 2.8 0.6 2.9 1 4.4 0.7 2.7 0.7 4.3 0.7 2 0.3 3.2 1 3.3" stroke-dashoffset="5.6" opacity="0.8"/>
<path d="M-1 -1.2C1.3 -0.2 8.3 2.7 13 4.8C17.7 6.9 22.3 9.2 27 11.4C31.7 13.6 36.3 15.9 41 18.1C45.7 20.4 50.3 22.7 55 24.9C59.7 27 64.3 29.1 69 31.1C73.7 33.1 78.3 34.9 83 37C87.7 39 92.3 41.1 97 43.3C101.7 45.5 106.3 47.9 111 50.2C115.7 52.5 120.3 54.8 125 57.2C129.7 59.6 134.3 62.3 139 64.6C143.7 66.9 150.7 70.2 153 71.3" stroke="#0a4a0a" stroke-width="2.4" stroke-dasharray="4.9 1.2 5.4 1.3 7.6 1.9 7.6 2.6 6.7 2.5 3.3 4" opacity="0.9"/>
<path d="M-1 -1.2C1.3 -0.2 8.3 2.7 13 4.8C17.7 6.9 22.3 9.2 27 11.4C31.7 13.6 36.3 15.9 41 18.1C45.7 20.4 50.3 22.7 55 24.9C59.7 27 64.3 29.1 69 31.1C73.7 33.1 78.3 34.9 83 37C87.7 39 92.3 41.1 97 43.3C101.7 45.5 106.3 47.9 111 50.2C115.7 52.5 120.3 54.8 125 57.2C129.7 59.6 134.3 62.3 139 64.6C143.7 66.9 150.7 70.2 153 71.3" stroke="#40c820" stroke-width="2.6" stroke-linecap="round" stroke-dasharray="0.9 3.4 1.3 3.7 0.6 2.6 0.5 4.4 0.3 3.4 0.9 3.3 0.6 2.1 1.2 2.2 0.7 2.3" stroke-dashoffset="2.8" opacity="1"/>
<path d="M-1 -3.7C1.3 -2.7 8.3 0.1 13 2.2C17.7 4.3 22.3 6.5 27 8.7C31.7 10.9 36.3 13.2 41 15.5C45.7 17.7 50.3 20.1 55 22.3C59.7 24.5 64.3 26.6 69 28.6C73.7 30.6 78.3 32.4 83 34.5C87.7 36.5 92.3 38.5 97 40.7C101.7 42.9 106.3 45.3 111 47.6C115.7 49.9 120.3 52.1 125 54.5C129.7 56.9 134.3 59.6 139 62C143.7 64.3 150.7 67.6 153 68.7" stroke="#60d020" stroke-width="1.5" stroke-linecap="round" stroke-dasharray="1 4.8 0.2 2.9 0.9 3.1 1.2 2.4 0.3 4.2 0.9 4.8 0.3 2 0.3 4.8" stroke-dashoffset="3.9" opacity="0.8"/>
<path d="M-1 1.3C1.3 2.4 8.3 5.3 13 7.5C17.7 9.6 22.3 11.9 27 14.1C31.7 16.3 36.3 18.6 41 20.8C45.7 23 50.3 25.3 55 27.5C59.7 29.6 64.3 31.6 69 33.6C73.7 35.6 78.3 37.5 83 39.5C87.7 41.5 92.3 43.6 97 45.9C101.7 48.1 106.3 50.6 111 52.9C115.7 55.2 120.3 57.5 125 59.9C129.7 62.3 134.3 64.9 139 67.2C143.7 69.5 150.7 72.7 153 73.8" stroke="#60d020" stroke-width="1.5" stroke-linecap="round" stroke-dasharray="0.6 2.8 0.4 2.4 1 2.1 0.9 3.5 0.4 2.7 0.2 4.5 0.8 4.2 0.7 2.2" stroke-dashoffset="6.4" opacity="0.8"/>
<path d="M-1 13.7C1.3 14.7 8.3 17.9 13 20C17.7 22.1 22.3 24.3 27 26.4C31.7 28.5 36.3 30.6 41 32.7C45.7 34.7 50.3 36.8 55 38.7C59.7 40.7 64.3 42.3 69 44.2C73.7 46.2 78.3 48.1 83 50.3C87.7 52.5 92.3 55 97 57.2C101.7 59.5 106.3 61.3 111 63.6C115.7 65.8 120.3 68.3 125 70.6C129.7 72.9 134.3 75.2 139 77.4C143.7 79.5 150.7 82.4 153 83.4" stroke="#0a4a0a" stroke-width="2.4" stroke-dasharray="5.4 1.6 3.5 2.6 3.2 3.1 2.2 1.1 3.7 1.3 7.1 3.3" opacity="0.9"/>
<path d="M-1 13.7C1.3 14.7 8.3 17.9 13 20C17.7 22.1 22.3 24.3 27 26.4C31.7 28.5 36.3 30.6 41 32.7C45.7 34.7 50.3 36.8 55 38.7C59.7 40.7 64.3 42.3 69 44.2C73.7 46.2 78.3 48.1 83 50.3C87.7 52.5 92.3 55 97 57.2C101.7 59.5 106.3 61.3 111 63.6C115.7 65.8 120.3 68.3 125 70.6C129.7 72.9 134.3 75.2 139 77.4C143.7 79.5 150.7 82.4 153 83.4" stroke="#40c820" stroke-width="2.6" stroke-linecap="round" stroke-dasharray="0.8 4.2 0.1 2.7 0.8 4.4 0.9 3 0.4 4.6 0.8 4.6 0.2 4.4 0.2 3.1 0.6 2.2" stroke-dashoffset="8.4" opacity="1"/>
<path d="M-1 11.1C1.3 12.1 8.3 15.2 13 17.3C17.7 19.4 22.3 21.6 27 23.7C31.7 25.8 36.3 28 41 30.1C45.7 32.2 50.3 34.3 55 36.2C59.7 38.1 64.3 39.8 69 41.7C73.7 43.6 78.3 45.6 83 47.7C87.7 49.9 92.3 52.4 97 54.6C101.7 56.8 106.3 58.6 111 60.9C115.7 63.1 120.3 65.7 125 68C129.7 70.3 134.3 72.7 139 74.8C143.7 77 150.7 79.9 153 80.9" stroke="#60d020" stroke-width="1.5" stroke-linecap="round" stroke-dasharray="0.6 2.2 0.9 3 0.8 4 1.2 3.7 0.8 4.9 0.5 3 0.9 3.9 0.5 4.8" stroke-dashoffset="8.8" opacity="0.8"/>
<path d="M-1 16.3C1.3 17.4 8.3 20.6 13 22.7C17.7 24.8 22.3 27 27 29.1C31.7 31.2 36.3 33.2 41 35.3C45.7 37.3 50.3 39.3 55 41.2C59.7 43.2 64.3 44.8 69 46.8C73.7 48.7 78.3 50.7 83 52.9C87.7 55.1 92.3 57.7 97 59.9C101.7 62.1 106.3 64 111 66.3C115.7 68.5 120.3 71 125 73.3C129.7 75.5 134.3 77.8 139 79.9C143.7 82 150.7 84.9 153 85.9" stroke="#60d020" stroke-width="1.5" stroke-linecap="round" stroke-dasharray="1.2 4.1 1 4.7 0.8 4.7 0.8 3 0.7 2.5 1.2 2.5 0.5 2.4 1 4.2" stroke-dashoffset="7.6" opacity="0.8"/>
<path d="M-1 29.6C1.3 30.6 8.3 33.3 13 35.3C17.7 37.3 22.3 39.6 27 41.6C31.7 43.6 36.3 45.4 41 47.2C45.7 49.1 50.3 50.7 55 52.5C59.7 54.4 64.3 56.4 69 58.4C73.7 60.4 78.3 62.4 83 64.4C87.7 66.5 92.3 68.6 97 70.8C101.7 73 106.3 75.4 111 77.6C115.7 79.8 120.3 81.9 125 84C129.7 86.1 134.3 88 139 89.9C143.7 91.9 150.7 94.8 153 95.8" stroke="#0a4a0a" stroke-width="2.4" stroke-dasharray="2.4 1.9 3.1 2.3 2.6 2.9 4.3 1.7 7.3 4 6.1 1.3" opacity="0.9"/>
<path d="M-1 29.6C1.3 30.6 8.3 33.3 13 35.3C17.7 37.3 22.3 39.6 27 41.6C31.7 43.6 36.3 45.4 41 47.2C45.7 49.1 50.3 50.7 55 52.5C59.7 54.4 64.3 56.4 69 58.4C73.7 60.4 78.3 62.4 83 64.4C87.7 66.5 92.3 68.6 97 70.8C101.7 73 106.3 75.4 111 77.6C115.7 79.8 120.3 81.9 125 84C129.7 86.1 134.3 88 139 89.9C143.7 91.9 150.7 94.8 153 95.8" stroke="#40c820" stroke-width="2.6" stroke-linecap="round" stroke-dasharray="0.8 4.1 0.7 2.5 0.6 4.7 0.2 2.2 1 4.5 0.9 4.7 0.8 4 0.7 4.4 0.1 3.2" stroke-dashoffset="3.3" opacity="1"/>
<path d="M-1 26.9C1.3 27.9 8.3 30.6 13 32.6C17.7 34.6 22.3 37 27 39C31.7 41 36.3 42.9 41 44.7C45.7 46.6 50.3 48.1 55 50C59.7 51.8 64.3 53.9 69 55.8C73.7 57.8 78.3 59.7 83 61.7C87.7 63.8 92.3 65.9 97 68.1C101.7 70.3 106.3 72.7 111 74.9C115.7 77.2 120.3 79.4 125 81.5C129.7 83.5 134.3 85.5 139 87.4C143.7 89.4 150.7 92.3 153 93.2" stroke="#60d020" stroke-width="1.5" stroke-linecap="round" stroke-dasharray="0.3 3.4 0.9 2.4 1.2 2.6 1.1 2.1 0.7 2.2 0.5 4.4 0.8 4.7 0.7 2.3" stroke-dashoffset="0.7" opacity="0.8"/>
<path d="M-1 32.3C1.3 33.2 8.3 35.9 13 37.9C17.7 39.9 22.3 42.2 27 44.2C31.7 46.1 36.3 47.9 41 49.8C45.7 51.6 50.3 53.2 55 55C59.7 56.9 64.3 59 69 61C73.7 63 78.3 65 83 67.1C87.7 69.2 92.3 71.3 97 73.5C101.7 75.7 106.3 78 111 80.2C115.7 82.4 120.3 84.5 125 86.5C129.7 88.6 134.3 90.5 139 92.5C143.7 94.4 150.7 97.4 153 98.3" stroke="#60d020" stroke-width="1.5" stroke-linecap="round" stroke-dasharray="0.7 4.8 1.2 4.3 0.3 2.5 0.8 3.8 1.1 3.4 0.5 2.4 1 4.7 0.9 2.5" stroke-dashoffset="5.6" opacity="0.8"/>
<path d="M-1 45.4C1.3 46.4 8.3 49.1 13 50.9C17.7 52.7 22.3 54.5 27 56.3C31.7 58.1 36.3 59.8 41 61.6C45.7 63.3 50.3 65.1 55 67C59.7 68.9 64.3 71 69 73C73.7 75 78.3 77 83 79.1C87.7 81.2 92.3 83.6 97 85.6C101.7 87.6 106.3 89.1 111 90.9C115.7 92.8 120.3 94.8 125 96.7C129.7 98.7 134.3 100.5 139 102.5C143.7 104.6 150.7 108.1 153 109.2" stroke="#0a4a0a" stroke-width="2.4" stroke-dasharray="3.3 3.4 3 2.8 2.2 4 5.2 1.7 2.8 1.1 3.6 3.5" opacity="0.9"/>
<path d="M-1 45.4C1.3 46.4 8.3 49.1 13 50.9C17.7 52.7 22.3 54.5 27 56.3C31.7 58.1 36.3 59.8 41 61.6C45.7 63.3 50.3 65.1 55 67C59.7 68.9 64.3 71 69 73C73.7 75 78.3 77 83 79.1C87.7 81.2 92.3 83.6 97 85.6C101.7 87.6 106.3 89.1 111 90.9C115.7 92.8 120.3 94.8 125 96.7C129.7 98.7 134.3 100.5 139 102.5C143.7 104.6 150.7 108.1 153 109.2" stroke="#40c820" stroke-width="2.6" stroke-linecap="round" stroke-dasharray="0.4 4.8 1.4 3.7 0.3 3 1 3.1 0.9 4.1 0.3 2.9 1 3.5 0.8 2.4 1.3 2.1" stroke-dashoffset="6.8" opacity="1"/>
<path d="M-1 42.8C1.3 43.7 8.3 46.5 13 48.4C17.7 50.2 22.3 52 27 53.8C31.7 55.6 36.3 57.3 41 59C45.7 60.8 50.3 62.5 55 64.4C59.7 66.3 64.3 68.3 69 70.3C73.7 72.3 78.3 74.3 83 76.4C87.7 78.5 92.3 81 97 83C101.7 85 106.3 86.5 111 88.4C115.7 90.3 120.3 92.3 125 94.2C129.7 96.1 134.3 97.9 139 100C143.7 102 150.7 105.5 153 106.6" stroke="#60d020" stroke-width="1.5" stroke-linecap="round" stroke-dasharray="0.5 4.3 0.5 4.4 0.8 4.9 0.9 4.7 0.6 4.1 0.9 2.6 1 3.6 1.1 3.5" stroke-dashoffset="7.8" opacity="0.8"/>
<path d="M-1 48.1C1.3 49 8.3 51.7 13 53.5C17.7 55.3 22.3 57.1 27 58.8C31.7 60.6 36.3 62.3 41 64.1C45.7 65.9 50.3 67.7 55 69.6C59.7 71.6 64.3 73.7 69 75.7C73.7 77.7 78.3 79.6 83 81.7C87.7 83.8 92.3 86.3 97 88.2C101.7 90.2 106.3 91.6 111 93.5C115.7 95.3 120.3 97.3 125 99.2C129.7 101.2 134.3 103 139 105.1C143.7 107.2 150.7 110.8 153 111.9" stroke="#60d020" stroke-width="1.5" stroke-linecap="round" stroke-dasharray="0.5 3.1 0.8 2.2 0.6 4.7 0.9 4.8 1.1 2.3 0.5 4.2 0.6 4.4 0.7 2.6" stroke-dashoffset="2.6" opacity="0.8"/>
<path d="M-1 61.1C1.3 61.9 8.3 64.2 13 65.8C17.7 67.5 22.3 69.4 27 71.2C31.7 72.9 36.3 74.6 41 76.3C45.7 78 50.3 79.5 55 81.4C59.7 83.4 64.3 85.9 69 87.9C73.7 89.9 78.3 91.7 83 93.5C87.7 95.4 92.3 97.2 97 99C101.7 100.8 106.3 102.6 111 104.4C115.7 106.1 120.3 107.7 125 109.6C129.7 111.5 134.3 113.6 139 115.7C143.7 117.8 150.7 121.1 153 122.2" stroke="#0a4a0a" stroke-width="2.4" stroke-dasharray="3.5 2.6 5.3 1.3 5.3 2.5 3.3 1 6.7 2.4 5 2.1" opacity="0.9"/>
<path d="M-1 61.1C1.3 61.9 8.3 64.2 13 65.8C17.7 67.5 22.3 69.4 27 71.2C31.7 72.9 36.3 74.6 41 76.3C45.7 78 50.3 79.5 55 81.4C59.7 83.4 64.3 85.9 69 87.9C73.7 89.9 78.3 91.7 83 93.5C87.7 95.4 92.3 97.2 97 99C101.7 100.8 106.3 102.6 111 104.4C115.7 106.1 120.3 107.7 125 109.6C129.7 111.5 134.3 113.6 139 115.7C143.7 117.8 150.7 121.1 153 122.2" stroke="#40c820" stroke-width="2.6" stroke-linecap="round" stroke-dasharray="0.6 3.7 0.8 3.1 0.9 3.1 0.7 3.1 0.1 2.2 1.3 3.4 0.3 3.9 1.2 3.1 0.6 4.8" stroke-dashoffset="8.3" opacity="1"/>
<path d="M-1 58.5C1.3 59.3 8.3 61.6 13 63.3C17.7 65 22.3 66.9 27 68.6C31.7 70.4 36.3 72 41 73.7C45.7 75.4 50.3 76.8 55 78.8C59.7 80.7 64.3 83.2 69 85.2C73.7 87.3 78.3 89 83 90.9C87.7 92.8 92.3 94.6 97 96.5C101.7 98.3 106.3 100.1 111 101.8C115.7 103.6 120.3 105.2 125 107C129.7 108.9 134.3 110.9 139 113C143.7 115.1 150.7 118.4 153 119.5" stroke="#60d020" stroke-width="1.5" stroke-linecap="round" stroke-dasharray="1 3.4 0.6 2.2 0.9 2.6 1 4.6 0.7 3.8 0.8 2.8 0.5 2.9 0.8 4.6" stroke-dashoffset="6.7" opacity="0.8"/>
<path d="M-1 63.6C1.3 64.4 8.3 66.7 13 68.3C17.7 70 22.3 71.9 27 73.7C31.7 75.5 36.3 77.2 41 78.9C45.7 80.7 50.3 82.2 55 84.1C59.7 86.1 64.3 88.6 69 90.6C73.7 92.6 78.3 94.3 83 96.1C87.7 97.9 92.3 99.7 97 101.5C101.7 103.3 106.3 105.1 111 106.9C115.7 108.7 120.3 110.3 125 112.2C129.7 114.1 134.3 116.2 139 118.3C143.7 120.5 150.7 123.8 153 124.9" stroke="#60d020" stroke-width="1.5" stroke-linecap="round" stroke-dasharray="0.8 2.3 0.6 3.4 0.9 4.5 0.7 4.4 0.7 2.7 0.3 2.9 0.7 4.2 1.1 3.2" stroke-dashoffset="2.8" opacity="0.8"/>
<path d="M-1 76.2C1.3 77 8.3 79.3 13 80.8C17.7 82.4 22.3 84 27 85.7C31.7 87.4 36.3 89.2 41 91.1C45.7 92.9 50.3 95 55 96.8C59.7 98.7 64.3 100.6 69 102.4C73.7 104.1 78.3 105.7 83 107.4C87.7 109.1 92.3 111 97 112.6C101.7 114.3 106.3 115.7 111 117.5C115.7 119.2 120.3 121.2 125 123.3C129.7 125.3 134.3 127.5 139 129.6C143.7 131.6 150.7 134.6 153 135.6" stroke="#0a4a0a" stroke-width="2.4" stroke-dasharray="5.9 1.3 4.8 1.6 4.9 1.2 2.5 2.6 6.3 1.5 5.3 3.1" opacity="0.9"/>
<path d="M-1 76.2C1.3 77 8.3 79.3 13 80.8C17.7 82.4 22.3 84 27 85.7C31.7 87.4 36.3 89.2 41 91.1C45.7 92.9 50.3 95 55 96.8C59.7 98.7 64.3 100.6 69 102.4C73.7 104.1 78.3 105.7 83 107.4C87.7 109.1 92.3 111 97 112.6C101.7 114.3 106.3 115.7 111 117.5C115.7 119.2 120.3 121.2 125 123.3C129.7 125.3 134.3 127.5 139 129.6C143.7 131.6 150.7 134.6 153 135.6" stroke="#40c820" stroke-width="2.6" stroke-linecap="round" stroke-dasharray="1.2 3.3 1.4 4.9 1.2 3 0.3 2.6 1.3 2.2 0.6 4.5 0.4 2.4 0.4 4.1 0.9 2.3" stroke-dashoffset="1.4" opacity="1"/>
<path d="M-1 73.7C1.3 74.5 8.3 76.7 13 78.3C17.7 79.9 22.3 81.4 27 83.1C31.7 84.8 36.3 86.5 41 88.4C45.7 90.2 50.3 92.3 55 94.2C59.7 96.1 64.3 98 69 99.8C73.7 101.6 78.3 103.2 83 104.9C87.7 106.6 92.3 108.4 97 110.1C101.7 111.8 106.3 113.1 111 114.9C115.7 116.6 120.3 118.6 125 120.6C129.7 122.6 134.3 124.8 139 126.9C143.7 128.9 150.7 132 153 133" stroke="#60d020" stroke-width="1.5" stroke-linecap="round" stroke-dasharray="0.8 3.6 0.9 2.7 0.7 4.5 1.2 4.3 1.1 2.6 0.7 4.9 0.8 2.5 0.6 2.6" stroke-dashoffset="7.4" opacity="0.8"/>
<path d="M-1 78.7C1.3 79.5 8.3 81.8 13 83.4C17.7 85 22.3 86.6 27 88.4C31.7 90.1 36.3 91.9 41 93.7C45.7 95.6 50.3 97.6 55 99.5C59.7 101.4 64.3 103.2 69 105C73.7 106.7 78.3 108.2 83 109.9C87.7 111.6 92.3 113.5 97 115.1C101.7 116.8 106.3 118.3 111 120.1C115.7 121.9 120.3 123.9 125 125.9C129.7 128 134.3 130.2 139 132.2C143.7 134.3 150.7 137.2 153 138.2" stroke="#60d020" stroke-width="1.5" stroke-linecap="round" stroke-dasharray="0.4 3.3 0.7 3.5 1 2.1 0.4 2.6 0.6 4.7 0.9 3.3 0.5 4.4 0.8 4.1" stroke-dashoffset="8" opacity="0.8"/>
<path d="M-1 90.8C1.3 91.6 8.3 94.1 13 95.8C17.7 97.5 22.3 99.1 27 100.9C31.7 102.6 36.3 104.3 41 106.1C45.7 107.8 50.3 109.8 55 111.4C59.7 113.1 64.3 114.3 69 115.9C73.7 117.4 78.3 119.2 83 120.8C87.7 122.5 92.3 124.2 97 125.9C101.7 127.6 106.3 129.2 111 131.1C115.7 132.9 120.3 135.1 125 137.1C129.7 139 134.3 140.9 139 142.8C143.7 144.6 150.7 147.1 153 148" stroke="#0a4a0a" stroke-width="2.4" stroke-dasharray="3.4 1.4 3.7 2.9 7 2.4 2.7 3.5 5 2.3 6.4 1.1" opacity="0.9"/>
<path d="M-1 90.8C1.3 91.6 8.3 94.1 13 95.8C17.7 97.5 22.3 99.1 27 100.9C31.7 102.6 36.3 104.3 41 106.1C45.7 107.8 50.3 109.8 55 111.4C59.7 113.1 64.3 114.3 69 115.9C73.7 117.4 78.3 119.2 83 120.8C87.7 122.5 92.3 124.2 97 125.9C101.7 127.6 106.3 129.2 111 131.1C115.7 132.9 120.3 135.1 125 137.1C129.7 139 134.3 140.9 139 142.8C143.7 144.6 150.7 147.1 153 148" stroke="#40c820" stroke-width="2.6" stroke-linecap="round" stroke-dasharray="0.3 2.1 0.4 3.4 0.3 2.1 0.2 3.1 0.7 2.5 0.7 3.9 0.5 3.6 0.3 3.1 0.6 4" stroke-dashoffset="7" opacity="1"/>
<path d="M-1 88.2C1.3 89.1 8.3 91.5 13 93.2C17.7 94.8 22.3 96.5 27 98.2C31.7 99.9 36.3 101.6 41 103.4C45.7 105.2 50.3 107.2 55 108.8C59.7 110.5 64.3 111.8 69 113.4C73.7 114.9 78.3 116.6 83 118.3C87.7 120 92.3 121.7 97 123.3C101.7 125 106.3 126.5 111 128.4C115.7 130.2 120.3 132.4 125 134.4C129.7 136.3 134.3 138.3 139 140.1C143.7 142 150.7 144.5 153 145.4" stroke="#60d020" stroke-width="1.5" stroke-linecap="round" stroke-dasharray="0.5 4 0.5 4.6 0.3 3.8 0.4 3 0.6 2.6 0.7 4.7 1.2 2.3 0.3 3.2" stroke-dashoffset="8.6" opacity="0.8"/>
<path d="M-1 93.3C1.3 94.2 8.3 96.7 13 98.4C17.7 100.1 22.3 101.8 27 103.5C31.7 105.3 36.3 107 41 108.7C45.7 110.5 50.3 112.4 55 114C59.7 115.6 64.3 116.8 69 118.4C73.7 120 78.3 121.7 83 123.4C87.7 125 92.3 126.8 97 128.5C101.7 130.3 106.3 131.9 111 133.7C115.7 135.6 120.3 137.8 125 139.8C129.7 141.7 134.3 143.6 139 145.4C143.7 147.2 150.7 149.6 153 150.5" stroke="#60d020" stroke-width="1.5" stroke-linecap="round" stroke-dasharray="0.9 3.1 1.2 4.7 0.6 4.8 1 4.1 1 4.8 0.9 4 0.7 4.9 0.5 4.6" stroke-dashoffset="2.1" opacity="0.8"/>
<path d="M-1 105.8C1.3 106.6 8.3 109.2 13 110.8C17.7 112.5 22.3 113.9 27 115.5C31.7 117.2 36.3 119 41 120.6C45.7 122.3 50.3 123.8 55 125.3C59.7 126.7 64.3 128 69 129.5C73.7 130.9 78.3 132.3 83 134C87.7 135.7 92.3 137.8 97 139.6C101.7 141.5 106.3 143.3 111 145.1C115.7 146.9 120.3 148.6 125 150.3C129.7 151.9 134.3 153.5 139 155.2C143.7 156.9 150.7 159.6 153 160.4" stroke="#0a4a0a" stroke-width="2.4" stroke-dasharray="3.3 2.9 7.5 3.5 5.7 2.5 4.6 3.1 6.6 3 4.9 3.2" opacity="0.9"/>
<path d="M-1 105.8C1.3 106.6 8.3 109.2 13 110.8C17.7 112.5 22.3 113.9 27 115.5C31.7 117.2 36.3 119 41 120.6C45.7 122.3 50.3 123.8 55 125.3C59.7 126.7 64.3 128 69 129.5C73.7 130.9 78.3 132.3 83 134C87.7 135.7 92.3 137.8 97 139.6C101.7 141.5 106.3 143.3 111 145.1C115.7 146.9 120.3 148.6 125 150.3C129.7 151.9 134.3 153.5 139 155.2C143.7 156.9 150.7 159.6 153 160.4" stroke="#40c820" stroke-width="2.6" stroke-linecap="round" stroke-dasharray="0.6 2.8 0.2 2.6 1.4 3.9 0.6 4.9 0.2 3 0.6 2.7 1.2 2.8 0.7 4.9 0.7 2.7" stroke-dashoffset="5.4" opacity="1"/>
<path d="M-1 103.2C1.3 104 8.3 106.5 13 108.2C17.7 109.8 22.3 111.2 27 112.9C31.7 114.5 36.3 116.4 41 118.1C45.7 119.7 50.3 121.3 55 122.7C59.7 124.2 64.3 125.5 69 126.9C73.7 128.4 78.3 129.7 83 131.4C87.7 133.1 92.3 135.1 97 136.9C101.7 138.8 106.3 140.6 111 142.4C115.7 144.2 120.3 145.9 125 147.6C129.7 149.3 134.3 150.9 139 152.7C143.7 154.4 150.7 157.1 153 157.9" stroke="#60d020" stroke-width="1.5" stroke-linecap="round" stroke-dasharray="1.1 3.1 0.3 3.3 1 2.5 0.5 2.6 1.1 4.5 0.3 2.4 0.4 4.3 0.3 3.7" stroke-dashoffset="6.3" opacity="0.8"/>
<path d="M-1 108.4C1.3 109.3 8.3 111.9 13 113.5C17.7 115.2 22.3 116.6 27 118.2C31.7 119.8 36.3 121.6 41 123.2C45.7 124.8 50.3 126.3 55 127.8C59.7 129.2 64.3 130.5 69 132C73.7 133.5 78.3 134.9 83 136.6C87.7 138.3 92.3 140.4 97 142.3C101.7 144.2 106.3 146 111 147.8C115.7 149.5 120.3 151.2 125 152.9C129.7 154.5 134.3 156.1 139 157.7C143.7 159.4 150.7 162.1 153 162.9" stroke="#60d020" stroke-width="1.5" stroke-linecap="round" stroke-dasharray="1.1 4.9 0.6 4.6 1.2 5 1 3.8 0.3 3.7 0.2 4.4 0.4 3.4 0.3 4.4" stroke-dashoffset="4" opacity="0.8"/>
<path d="M-1 121.7C1.3 122.5 8.3 124.9 13 126.5C17.7 128 22.3 129.8 27 131.1C31.7 132.5 36.3 133.4 41 134.6C45.7 135.9 50.3 137.2 55 138.7C59.7 140.1 64.3 142 69 143.5C73.7 145.1 78.3 146.5 83 148.1C87.7 149.8 92.3 151.8 97 153.6C101.7 155.4 106.3 157.4 111 159C115.7 160.6 120.3 161.7 125 163.2C129.7 164.8 134.3 166.8 139 168.3C143.7 169.8 150.7 171.7 153 172.4" stroke="#0a4a0a" stroke-width="2.4" stroke-dasharray="3.7 1.7 7.4 1.1 7.3 2.7 6.8 2.3 3.5 2.3 3.1 1.1" opacity="0.9"/>
<path d="M-1 121.7C1.3 122.5 8.3 124.9 13 126.5C17.7 128 22.3 129.8 27 131.1C31.7 132.5 36.3 133.4 41 134.6C45.7 135.9 50.3 137.2 55 138.7C59.7 140.1 64.3 142 69 143.5C73.7 145.1 78.3 146.5 83 148.1C87.7 149.8 92.3 151.8 97 153.6C101.7 155.4 106.3 157.4 111 159C115.7 160.6 120.3 161.7 125 163.2C129.7 164.8 134.3 166.8 139 168.3C143.7 169.8 150.7 171.7 153 172.4" stroke="#40c820" stroke-width="2.6" stroke-linecap="round" stroke-dasharray="0.5 3.9 0.4 2.3 1 2 1.2 2 0.4 3.3 0.4 3.6 1.1 3.5 0.7 3.8 0.5 3.2" stroke-dashoffset="3.6" opacity="1"/>
<path d="M-1 119C1.3 119.8 8.3 122.2 13 123.8C17.7 125.4 22.3 127.2 27 128.6C31.7 130 36.3 130.9 41 132.1C45.7 133.4 50.3 134.7 55 136.1C59.7 137.6 64.3 139.4 69 140.9C73.7 142.5 78.3 143.8 83 145.5C87.7 147.1 92.3 149.1 97 150.9C101.7 152.7 106.3 154.7 111 156.4C115.7 158 120.3 159.1 125 160.7C129.7 162.3 134.3 164.2 139 165.8C143.7 167.3 150.7 169.2 153 169.9" stroke="#60d020" stroke-width="1.5" stroke-linecap="round" stroke-dasharray="0.5 3.6 1.2 3.9 0.3 2.8 0.7 2.3 0.8 4.1 0.8 3.6 0.5 3.1 0.5 3.5" stroke-dashoffset="7.8" opacity="0.8"/>
<path d="M-1 124.4C1.3 125.2 8.3 127.6 13 129.1C17.7 130.7 22.3 132.4 27 133.7C31.7 135 36.3 135.9 41 137.1C45.7 138.4 50.3 139.7 55 141.2C59.7 142.7 64.3 144.5 69 146.2C73.7 147.8 78.3 149.1 83 150.8C87.7 152.5 92.3 154.5 97 156.3C101.7 158.1 106.3 160 111 161.6C115.7 163.2 120.3 164.2 125 165.8C129.7 167.3 134.3 169.3 139 170.8C143.7 172.3 150.7 174.3 153 175" stroke="#60d020" stroke-width="1.5" stroke-linecap="round" stroke-dasharray="0.6 4.1 0.6 3.4 1.1 2.8 1.1 2.3 0.9 3.1 1.1 2.3 1 4.5 1.2 4.2" stroke-dashoffset="1.7" opacity="0.8"/>
<path d="M-1 137C1.3 137.6 8.3 139.6 13 140.8C17.7 142.1 22.3 143.4 27 144.7C31.7 146 36.3 147.4 41 148.8C45.7 150.1 50.3 151.3 55 152.7C59.7 154.2 64.3 155.9 69 157.5C73.7 159.1 78.3 160.6 83 162.2C87.7 163.9 92.3 165.6 97 167.2C101.7 168.7 106.3 170 111 171.4C115.7 172.8 120.3 174 125 175.4C129.7 176.8 134.3 178.2 139 179.7C143.7 181.3 150.7 183.9 153 184.8" stroke="#0a4a0a" stroke-width="2.4" stroke-dasharray="6.5 3.9 8 1.8 6.4 1.5 2.4 2.8 4.4 2.8 4.1 1" opacity="0.9"/>
<path d="M-1 137C1.3 137.6 8.3 139.6 13 140.8C17.7 142.1 22.3 143.4 27 144.7C31.7 146 36.3 147.4 41 148.8C45.7 150.1 50.3 151.3 55 152.7C59.7 154.2 64.3 155.9 69 157.5C73.7 159.1 78.3 160.6 83 162.2C87.7 163.9 92.3 165.6 97 167.2C101.7 168.7 106.3 170 111 171.4C115.7 172.8 120.3 174 125 175.4C129.7 176.8 134.3 178.2 139 179.7C143.7 181.3 150.7 183.9 153 184.8" stroke="#40c820" stroke-width="2.6" stroke-linecap="round" stroke-dasharray="0.4 2.1 1.2 2.3 0.3 2.2 1.2 3.8 0.3 2.6 0.4 2.5 0.7 4.8 1.3 4.9 0.2 4.3" stroke-dashoffset="3.1" opacity="1"/>
<path d="M-1 134.3C1.3 135 8.3 137 13 138.3C17.7 139.6 22.3 140.8 27 142.2C31.7 143.5 36.3 144.9 41 146.2C45.7 147.6 50.3 148.7 55 150.1C59.7 151.5 64.3 153.2 69 154.8C73.7 156.4 78.3 157.9 83 159.6C87.7 161.2 92.3 163 97 164.5C101.7 166.1 106.3 167.5 111 168.9C115.7 170.3 120.3 171.5 125 172.9C129.7 174.3 134.3 175.6 139 177.2C143.7 178.7 150.7 181.3 153 182.1" stroke="#60d020" stroke-width="1.5" stroke-linecap="round" stroke-dasharray="0.7 2.9 0.9 3 1.1 2.6 0.6 4.2 0.3 2.2 0.3 4.1 1.2 3.4 0.6 2.3" stroke-dashoffset="0.9" opacity="0.8"/>
<path d="M-1 139.6C1.3 140.3 8.3 142.1 13 143.4C17.7 144.7 22.3 145.9 27 147.2C31.7 148.5 36.3 149.9 41 151.3C45.7 152.7 50.3 153.9 55 155.3C59.7 156.8 64.3 158.6 69 160.2C73.7 161.8 78.3 163.3 83 164.9C87.7 166.5 92.3 168.3 97 169.8C101.7 171.3 106.3 172.5 111 173.9C115.7 175.3 120.3 176.5 125 178C129.7 179.4 134.3 180.7 139 182.3C143.7 183.9 150.7 186.6 153 187.4" stroke="#60d020" stroke-width="1.5" stroke-linecap="round" stroke-dasharray="0.4 3.5 0.5 3 0.8 4.7 0.3 2.4 0.4 4.5 0.6 4.6 0.7 2.5 0.8 2.5" stroke-dashoffset="7.4" opacity="0.8"/>
<path d="M-1 151.9C1.3 152.5 8.3 154.2 13 155.3C17.7 156.5 22.3 157.7 27 158.9C31.7 160.2 36.3 161.3 41 162.7C45.7 164 50.3 165.7 55 167.1C59.7 168.6 64.3 170 69 171.5C73.7 173.1 78.3 174.9 83 176.4C87.7 177.8 92.3 178.9 97 180.2C101.7 181.5 106.3 182.9 111 184.2C115.7 185.5 120.3 186.6 125 188.1C129.7 189.5 134.3 191.2 139 192.9C143.7 194.6 150.7 197.2 153 198.1" stroke="#0a4a0a" stroke-width="2.4" stroke-dasharray="3.1 3.2 7.2 2.2 4 1.4 6.8 2.1 7.8 2.4 5.4 2" opacity="0.9"/>
<path d="M-1 151.9C1.3 152.5 8.3 154.2 13 155.3C17.7 156.5 22.3 157.7 27 158.9C31.7 160.2 36.3 161.3 41 162.7C45.7 164 50.3 165.7 55 167.1C59.7 168.6 64.3 170 69 171.5C73.7 173.1 78.3 174.9 83 176.4C87.7 177.8 92.3 178.9 97 180.2C101.7 181.5 106.3 182.9 111 184.2C115.7 185.5 120.3 186.6 125 188.1C129.7 189.5 134.3 191.2 139 192.9C143.7 194.6 150.7 197.2 153 198.1" stroke="#40c820" stroke-width="2.6" stroke-linecap="round" stroke-dasharray="0.8 4.2 0.4 3.9 1.4 3.1 0.3 4.8 0.2 4.9 1.3 3 0.7 2.4 0.9 2.1 1.2 2.3" stroke-dashoffset="8.3" opacity="1"/>
<path d="M-1 149.3C1.3 149.9 8.3 151.6 13 152.8C17.7 154 22.3 155.2 27 156.4C31.7 157.6 36.3 158.7 41 160.1C45.7 161.4 50.3 163 55 164.5C59.7 165.9 64.3 167.3 69 168.8C73.7 170.4 78.3 172.3 83 173.7C87.7 175.2 92.3 176.4 97 177.7C101.7 179 106.3 180.4 111 181.7C115.7 183 120.3 184.1 125 185.5C129.7 186.9 134.3 188.6 139 190.2C143.7 191.9 150.7 194.5 153 195.4" stroke="#60d020" stroke-width="1.5" stroke-linecap="round" stroke-dasharray="0.4 3.1 0.2 3.1 0.3 4.8 1 4.9 0.6 3.9 0.7 4.9 0.8 4.4 0.5 4.2" stroke-dashoffset="6.7" opacity="0.8"/>
<path d="M-1 154.5C1.3 155 8.3 156.7 13 157.8C17.7 159 22.3 160.2 27 161.5C31.7 162.7 36.3 163.9 41 165.3C45.7 166.7 50.3 168.3 55 169.8C59.7 171.3 64.3 172.7 69 174.2C73.7 175.7 78.3 177.5 83 178.9C87.7 180.4 92.3 181.4 97 182.7C101.7 184 106.3 185.4 111 186.8C115.7 188.1 120.3 189.2 125 190.7C129.7 192.1 134.3 193.9 139 195.6C143.7 197.3 150.7 199.9 153 200.8" stroke="#60d020" stroke-width="1.5" stroke-linecap="round" stroke-dasharray="0.6 2.7 0.3 4.4 1.1 2.6 0.7 3.9 0.3 4.6 0.4 4 0.7 4.1 0.8 2.5" stroke-dashoffset="0.5" opacity="0.8"/>
<path d="M33 18 L0.1 80" stroke="#34f034" stroke-width="11.4"/>
<path d="M33 18 L0.1 80" stroke="#000" stroke-width="5" opacity="0.35"/>
</g>
</g>
<g clip-path="url(#ci1)"><g filter="url(#bl2)"><rect x="83" y="100" width="57" height="59" fill="#000"/>
<g fill="none"><path d="M76 92C78.3 93.2 85.3 96.6 90 98.9C94.7 101.2 99.3 103.5 104 105.9C108.7 108.3 113.3 111 118 113.3C122.7 115.7 127.3 117.7 132 120C136.7 122.3 143.7 125.9 146 127.1" stroke="#ff2a0a" stroke-width="10"/><path d="M76 92C78.3 93.2 85.3 96.6 90 98.9C94.7 101.2 99.3 103.5 104 105.9C108.7 108.3 113.3 111 118 113.3C122.7 115.7 127.3 117.7 132 120C136.7 122.3 143.7 125.9 146 127.1" stroke="#000" stroke-width="4.2" opacity="1"/><path d="M76 92C78.3 93.2 85.3 96.6 90 98.9C94.7 101.2 99.3 103.5 104 105.9C108.7 108.3 113.3 111 118 113.3C122.7 115.7 127.3 117.7 132 120C136.7 122.3 143.7 125.9 146 127.1" stroke="#000" stroke-width="11" stroke-dasharray="5.8 20 4.1 12 6.6 13.9 9.6 10.5 6.1 8.2" stroke-dashoffset="22.8" opacity="0.3"/><path d="M76 113.5C78.3 114.7 85.3 118.5 90 121C94.7 123.4 99.3 125.9 104 128.2C108.7 130.5 113.3 132.6 118 134.9C122.7 137.2 127.3 139.6 132 141.9C136.7 144.3 143.7 147.9 146 149.1" stroke="#ff2a0a" stroke-width="10"/><path d="M76 113.5C78.3 114.7 85.3 118.5 90 121C94.7 123.4 99.3 125.9 104 128.2C108.7 130.5 113.3 132.6 118 134.9C122.7 137.2 127.3 139.6 132 141.9C136.7 144.3 143.7 147.9 146 149.1" stroke="#000" stroke-width="4.2" opacity="1"/><path d="M76 113.5C78.3 114.7 85.3 118.5 90 121C94.7 123.4 99.3 125.9 104 128.2C108.7 130.5 113.3 132.6 118 134.9C122.7 137.2 127.3 139.6 132 141.9C136.7 144.3 143.7 147.9 146 149.1" stroke="#000" stroke-width="11" stroke-dasharray="3.6 24.9 10.3 21.9 9.1 11.6 3.9 21.2 8 6.9" stroke-dashoffset="24" opacity="0.3"/><path d="M76 140.2C78.3 141.3 85.3 144.6 90 146.9C94.7 149.2 99.3 151.7 104 154C108.7 156.4 113.3 158.7 118 161.1C122.7 163.4 127.3 165.8 132 168.1C136.7 170.4 143.7 173.7 146 174.8" stroke="#ff2a0a" stroke-width="10"/><path d="M76 140.2C78.3 141.3 85.3 144.6 90 146.9C94.7 149.2 99.3 151.7 104 154C108.7 156.4 113.3 158.7 118 161.1C122.7 163.4 127.3 165.8 132 168.1C136.7 170.4 143.7 173.7 146 174.8" stroke="#000" stroke-width="4.2" opacity="1"/><path d="M76 140.2C78.3 141.3 85.3 144.6 90 146.9C94.7 149.2 99.3 151.7 104 154C108.7 156.4 113.3 158.7 118 161.1C122.7 163.4 127.3 165.8 132 168.1C136.7 170.4 143.7 173.7 146 174.8" stroke="#000" stroke-width="11" stroke-dasharray="3.9 16.2 7 14.5 3.3 6.6 4.1 24.2 9.9 11.5" stroke-dashoffset="8.9" opacity="0.3"/></g>
<g fill="none" style="mix-blend-mode:screen"><g fill="#1fa01f" opacity="0.8"><circle cx="135.7" cy="120.8" r="0.6"/><circle cx="118.7" cy="120.6" r="1"/><circle cx="118.2" cy="111.6" r="0.6"/><circle cx="86" cy="112.3" r="0.7"/><circle cx="90.3" cy="134" r="0.7"/><circle cx="99.5" cy="129.4" r="0.8"/><circle cx="125.7" cy="110.9" r="1.2"/><circle cx="131.6" cy="123.4" r="0.7"/><circle cx="87.8" cy="124.8" r="0.7"/><circle cx="115.7" cy="116.4" r="1.1"/><circle cx="100.8" cy="142.4" r="1"/><circle cx="92.8" cy="103.8" r="0.7"/><circle cx="113.2" cy="147.1" r="1"/><circle cx="87.6" cy="133.8" r="0.8"/><circle cx="119.1" cy="154.7" r="1.1"/><circle cx="124.6" cy="134.5" r="0.8"/><circle cx="132.1" cy="113.6" r="0.8"/><circle cx="119.4" cy="108.3" r="0.8"/><circle cx="92.3" cy="104.3" r="1"/><circle cx="125.3" cy="149.1" r="1.1"/><circle cx="91.4" cy="133" r="1"/><circle cx="107.5" cy="141.1" r="1.1"/></g><path d="M76 92C78.3 93.2 85.3 96.6 90 98.9C94.7 101.2 99.3 103.5 104 105.9C108.7 108.3 113.3 111 118 113.3C122.7 115.7 127.3 117.7 132 120C136.7 122.3 143.7 125.9 146 127.1" stroke="#0a3a0a" stroke-width="3.5" stroke-dasharray="3.5 2 3.9 2.4 6.9 3 5 3.7 5.8 4 5.9 1.2" opacity="0.9"/><path d="M76 92C78.3 93.2 85.3 96.6 90 98.9C94.7 101.2 99.3 103.5 104 105.9C108.7 108.3 113.3 111 118 113.3C122.7 115.7 127.3 117.7 132 120C136.7 122.3 143.7 125.9 146 127.1" stroke="#40d020" stroke-width="3.0" stroke-linecap="round" stroke-dasharray="1.2 5.9 1.4 8.1 0.9 7.1 1.1 5.4 1.5 3.7 0.2 6.7 0.8 5.3 1.4 7.2 1.5 8.4" stroke-dashoffset="7" opacity="1"/><path d="M76 88.7C78.3 89.9 85.3 93.3 90 95.6C94.7 97.9 99.3 100.2 104 102.6C108.7 105 113.3 107.7 118 110C122.7 112.4 127.3 114.4 132 116.7C136.7 119 143.7 122.6 146 123.8" stroke="#60e020" stroke-width="1.8" stroke-linecap="round" stroke-dasharray="0.6 8.9 1.4 11.1 1.1 5.7 0.5 8.6 1.7 12 1.2 9.6 1.7 9.3 1.3 5.5" stroke-dashoffset="4.7" opacity="0.9"/><path d="M76 95.3C78.3 96.5 85.3 99.9 90 102.2C94.7 104.5 99.3 106.8 104 109.2C108.7 111.6 113.3 114.3 118 116.6C122.7 119 127.3 121 132 123.3C136.7 125.6 143.7 129.2 146 130.4" stroke="#60e020" stroke-width="1.8" stroke-linecap="round" stroke-dasharray="1.7 8.9 0.7 5.5 1.7 6.6 1.8 5.5 0.9 12 1.4 5.1 0.6 10.5 1.7 9.4" stroke-dashoffset="1.3" opacity="0.9"/><path d="M76 113.5C78.3 114.7 85.3 118.5 90 121C94.7 123.4 99.3 125.9 104 128.2C108.7 130.5 113.3 132.6 118 134.9C122.7 137.2 127.3 139.6 132 141.9C136.7 144.3 143.7 147.9 146 149.1" stroke="#0a3a0a" stroke-width="3.5" stroke-dasharray="5.1 3 2.1 2.9 4.3 2.4 5.4 2.8 6.8 3.5 3.1 3.9" opacity="0.9"/><path d="M76 113.5C78.3 114.7 85.3 118.5 90 121C94.7 123.4 99.3 125.9 104 128.2C108.7 130.5 113.3 132.6 118 134.9C122.7 137.2 127.3 139.6 132 141.9C136.7 144.3 143.7 147.9 146 149.1" stroke="#40d020" stroke-width="3.0" stroke-linecap="round" stroke-dasharray="1.5 4.4 1.1 5.6 1.5 6.3 0.9 7 0.2 5.5 0.4 4.1 0.4 8.7 0.9 6.5 1.1 3.7" stroke-dashoffset="6.8" opacity="1"/><path d="M76 110.2C78.3 111.4 85.3 115.2 90 117.7C94.7 120.1 99.3 122.6 104 124.9C108.7 127.2 113.3 129.3 118 131.6C122.7 133.9 127.3 136.3 132 138.6C136.7 141 143.7 144.6 146 145.8" stroke="#60e020" stroke-width="1.8" stroke-linecap="round" stroke-dasharray="1.7 7.9 1.6 7.2 0.8 7.3 0.9 11.1 1.7 10.1 0.9 12.5 0.6 11.9 1.7 10.8" stroke-dashoffset="8.6" opacity="0.9"/><path d="M76 116.8C78.3 118 85.3 121.8 90 124.3C94.7 126.7 99.3 129.2 104 131.5C108.7 133.8 113.3 135.9 118 138.2C122.7 140.5 127.3 142.9 132 145.2C136.7 147.6 143.7 151.2 146 152.4" stroke="#60e020" stroke-width="1.8" stroke-linecap="round" stroke-dasharray="0.4 11.9 1.2 11.7 0.6 11.4 1.7 7.1 0.7 11 1.5 5.1 1.4 8.3 0.7 7.5" stroke-dashoffset="7.3" opacity="0.9"/><path d="M76 140.2C78.3 141.3 85.3 144.6 90 146.9C94.7 149.2 99.3 151.7 104 154C108.7 156.4 113.3 158.7 118 161.1C122.7 163.4 127.3 165.8 132 168.1C136.7 170.4 143.7 173.7 146 174.8" stroke="#0a3a0a" stroke-width="3.5" stroke-dasharray="5.2 3.5 4.9 1.4 7.4 1.8 6.8 3.9 6.6 3.3 5.1 2.7" opacity="0.9"/><path d="M76 140.2C78.3 141.3 85.3 144.6 90 146.9C94.7 149.2 99.3 151.7 104 154C108.7 156.4 113.3 158.7 118 161.1C122.7 163.4 127.3 165.8 132 168.1C136.7 170.4 143.7 173.7 146 174.8" stroke="#40d020" stroke-width="3.0" stroke-linecap="round" stroke-dasharray="0.9 3.7 0.3 7 0.4 6 1.5 8.5 1.5 6.7 0.7 6.2 1 5.7 0.4 3.9 0.3 7.1" stroke-dashoffset="6.7" opacity="1"/><path d="M76 136.9C78.3 138 85.3 141.3 90 143.6C94.7 145.9 99.3 148.4 104 150.7C108.7 153.1 113.3 155.4 118 157.8C122.7 160.1 127.3 162.5 132 164.8C136.7 167.1 143.7 170.4 146 171.5" stroke="#60e020" stroke-width="1.8" stroke-linecap="round" stroke-dasharray="0.4 8.7 0.8 10.9 0.9 11.8 0.7 6.1 1.6 8.3 1.5 10.3 1.6 10.1 1.8 5.8" stroke-dashoffset="3.6" opacity="0.9"/><path d="M76 143.5C78.3 144.6 85.3 147.9 90 150.2C94.7 152.5 99.3 155 104 157.3C108.7 159.7 113.3 162 118 164.4C122.7 166.7 127.3 169.1 132 171.4C136.7 173.7 143.7 177 146 178.1" stroke="#60e020" stroke-width="1.8" stroke-linecap="round" stroke-dasharray="0.4 5.9 0.6 6.1 0.7 11.9 1.6 8.6 1.7 11.4 0.7 8.1 1.2 11.2 0.7 6" stroke-dashoffset="2" opacity="0.9"/></g>
</g></g>
<path d="M86.5 156V103.5H137" fill="none" stroke="#fff" stroke-width="1.1"/>
</g>
<text x="13" y="39.5" font-size="12" font-weight="bold" fill="#fff">A</text>
<g clip-path="url(#c2)">
<g filter="url(#bl)">
<rect x="280" y="23" width="135" height="136" fill="#051505"/>
<g fill="none"><path d="M273 -72.5C275.3 -71.5 282.3 -68.3 287 -66.3C291.7 -64.3 296.3 -62.5 301 -60.5C305.7 -58.6 310.3 -56.4 315 -54.3C319.7 -52.2 324.3 -50 329 -47.7C333.7 -45.5 338.3 -43.1 343 -40.6C347.7 -38.2 352.3 -35.3 357 -33.1C361.7 -30.8 366.3 -29.1 371 -27C375.7 -24.9 380.3 -22.7 385 -20.7C389.7 -18.6 394.3 -17.1 399 -15C403.7 -12.8 408.3 -10.2 413 -8C417.7 -5.7 424.7 -2.3 427 -1.2" stroke="#ff2a00" stroke-width="4.2"/><path d="M273 -72.5C275.3 -71.5 282.3 -68.3 287 -66.3C291.7 -64.3 296.3 -62.5 301 -60.5C305.7 -58.6 310.3 -56.4 315 -54.3C319.7 -52.2 324.3 -50 329 -47.7C333.7 -45.5 338.3 -43.1 343 -40.6C347.7 -38.2 352.3 -35.3 357 -33.1C361.7 -30.8 366.3 -29.1 371 -27C375.7 -24.9 380.3 -22.7 385 -20.7C389.7 -18.6 394.3 -17.1 399 -15C403.7 -12.8 408.3 -10.2 413 -8C417.7 -5.7 424.7 -2.3 427 -1.2" stroke="#000" stroke-width="1.2" opacity="0.7"/><path d="M273 -72.5C275.3 -71.5 282.3 -68.3 287 -66.3C291.7 -64.3 296.3 -62.5 301 -60.5C305.7 -58.6 310.3 -56.4 315 -54.3C319.7 -52.2 324.3 -50 329 -47.7C333.7 -45.5 338.3 -43.1 343 -40.6C347.7 -38.2 352.3 -35.3 357 -33.1C361.7 -30.8 366.3 -29.1 371 -27C375.7 -24.9 380.3 -22.7 385 -20.7C389.7 -18.6 394.3 -17.1 399 -15C403.7 -12.8 408.3 -10.2 413 -8C417.7 -5.7 424.7 -2.3 427 -1.2" stroke="#000" stroke-width="5.2" stroke-dasharray="9.7 16.9 4.1 8.2 7.7 15.4 7.8 24.6 11.8 11.6" stroke-dashoffset="2.2" opacity="0.3"/><path d="M273 -62.9C275.3 -62 282.3 -59.4 287 -57.3C291.7 -55.2 296.3 -52.4 301 -50.2C305.7 -48.1 310.3 -46.6 315 -44.4C319.7 -42.1 324.3 -39 329 -36.7C333.7 -34.3 338.3 -32.4 343 -30.2C347.7 -28.1 352.3 -25.9 357 -23.8C361.7 -21.7 366.3 -19.5 371 -17.4C375.7 -15.4 380.3 -13.5 385 -11.4C389.7 -9.3 394.3 -7.3 399 -4.9C403.7 -2.5 408.3 0.6 413 3C417.7 5.5 424.7 8.6 427 9.7" stroke="#ff2a00" stroke-width="4.2"/><path d="M273 -62.9C275.3 -62 282.3 -59.4 287 -57.3C291.7 -55.2 296.3 -52.4 301 -50.2C305.7 -48.1 310.3 -46.6 315 -44.4C319.7 -42.1 324.3 -39 329 -36.7C333.7 -34.3 338.3 -32.4 343 -30.2C347.7 -28.1 352.3 -25.9 357 -23.8C361.7 -21.7 366.3 -19.5 371 -17.4C375.7 -15.4 380.3 -13.5 385 -11.4C389.7 -9.3 394.3 -7.3 399 -4.9C403.7 -2.5 408.3 0.6 413 3C417.7 5.5 424.7 8.6 427 9.7" stroke="#000" stroke-width="1.2" opacity="0.7"/><path d="M273 -62.9C275.3 -62 282.3 -59.4 287 -57.3C291.7 -55.2 296.3 -52.4 301 -50.2C305.7 -48.1 310.3 -46.6 315 -44.4C319.7 -42.1 324.3 -39 329 -36.7C333.7 -34.3 338.3 -32.4 343 -30.2C347.7 -28.1 352.3 -25.9 357 -23.8C361.7 -21.7 366.3 -19.5 371 -17.4C375.7 -15.4 380.3 -13.5 385 -11.4C389.7 -9.3 394.3 -7.3 399 -4.9C403.7 -2.5 408.3 0.6 413 3C417.7 5.5 424.7 8.6 427 9.7" stroke="#000" stroke-width="5.2" stroke-dasharray="3.6 19.2 6.3 15.6 4.6 9.3 5.6 21.2 10.5 21" stroke-dashoffset="10.1" opacity="0.3"/><path d="M273 -53C275.3 -52 282.3 -49.3 287 -47.1C291.7 -44.9 296.3 -42.2 301 -39.8C305.7 -37.4 310.3 -35.2 315 -32.8C319.7 -30.4 324.3 -27.7 329 -25.5C333.7 -23.2 338.3 -21.2 343 -19.1C347.7 -17.1 352.3 -15.1 357 -13.1C361.7 -11.1 366.3 -9.1 371 -7.1C375.7 -5 380.3 -2.8 385 -0.6C389.7 1.6 394.3 3.8 399 6.1C403.7 8.5 408.3 11 413 13.4C417.7 15.7 424.7 19.1 427 20.2" stroke="#ff2a00" stroke-width="4.2"/><path d="M273 -53C275.3 -52 282.3 -49.3 287 -47.1C291.7 -44.9 296.3 -42.2 301 -39.8C305.7 -37.4 310.3 -35.2 315 -32.8C319.7 -30.4 324.3 -27.7 329 -25.5C333.7 -23.2 338.3 -21.2 343 -19.1C347.7 -17.1 352.3 -15.1 357 -13.1C361.7 -11.1 366.3 -9.1 371 -7.1C375.7 -5 380.3 -2.8 385 -0.6C389.7 1.6 394.3 3.8 399 6.1C403.7 8.5 408.3 11 413 13.4C417.7 15.7 424.7 19.1 427 20.2" stroke="#000" stroke-width="1.2" opacity="0.7"/><path d="M273 -53C275.3 -52 282.3 -49.3 287 -47.1C291.7 -44.9 296.3 -42.2 301 -39.8C305.7 -37.4 310.3 -35.2 315 -32.8C319.7 -30.4 324.3 -27.7 329 -25.5C333.7 -23.2 338.3 -21.2 343 -19.1C347.7 -17.1 352.3 -15.1 357 -13.1C361.7 -11.1 366.3 -9.1 371 -7.1C375.7 -5 380.3 -2.8 385 -0.6C389.7 1.6 394.3 3.8 399 6.1C403.7 8.5 408.3 11 413 13.4C417.7 15.7 424.7 19.1 427 20.2" stroke="#000" stroke-width="5.2" stroke-dasharray="4.4 13.6 10.7 11.6 10.4 22.7 5 21.6 7.2 15.9" stroke-dashoffset="23.3" opacity="0.3"/><path d="M273 -43.1C275.3 -41.9 282.3 -38.5 287 -36.1C291.7 -33.7 296.3 -31.2 301 -28.8C305.7 -26.3 310.3 -23.7 315 -21.5C319.7 -19.2 324.3 -17.3 329 -15.3C333.7 -13.3 338.3 -11.7 343 -9.6C347.7 -7.6 352.3 -5.2 357 -3C361.7 -0.8 366.3 1.2 371 3.4C375.7 5.6 380.3 8.1 385 10.4C389.7 12.7 394.3 14.8 399 17.1C403.7 19.3 408.3 21.7 413 23.8C417.7 26 424.7 29 427 30.1" stroke="#ff2a00" stroke-width="4.2"/><path d="M273 -43.1C275.3 -41.9 282.3 -38.5 287 -36.1C291.7 -33.7 296.3 -31.2 301 -28.8C305.7 -26.3 310.3 -23.7 315 -21.5C319.7 -19.2 324.3 -17.3 329 -15.3C333.7 -13.3 338.3 -11.7 343 -9.6C347.7 -7.6 352.3 -5.2 357 -3C361.7 -0.8 366.3 1.2 371 3.4C375.7 5.6 380.3 8.1 385 10.4C389.7 12.7 394.3 14.8 399 17.1C403.7 19.3 408.3 21.7 413 23.8C417.7 26 424.7 29 427 30.1" stroke="#000" stroke-width="1.2" opacity="0.7"/><path d="M273 -43.1C275.3 -41.9 282.3 -38.5 287 -36.1C291.7 -33.7 296.3 -31.2 301 -28.8C305.7 -26.3 310.3 -23.7 315 -21.5C319.7 -19.2 324.3 -17.3 329 -15.3C333.7 -13.3 338.3 -11.7 343 -9.6C347.7 -7.6 352.3 -5.2 357 -3C361.7 -0.8 366.3 1.2 371 3.4C375.7 5.6 380.3 8.1 385 10.4C389.7 12.7 394.3 14.8 399 17.1C403.7 19.3 408.3 21.7 413 23.8C417.7 26 424.7 29 427 30.1" stroke="#000" stroke-width="5.2" stroke-dasharray="7 19.4 9.5 10.7 7.4 22.8 8.3 11 4.4 9.3" stroke-dashoffset="10.5" opacity="0.3"/><path d="M273 -32.8C275.3 -31.6 282.3 -27.9 287 -25.6C291.7 -23.2 296.3 -20.9 301 -18.8C305.7 -16.6 310.3 -14.5 315 -12.5C319.7 -10.5 324.3 -8.8 329 -6.8C333.7 -4.8 338.3 -3 343 -0.7C347.7 1.5 352.3 4.5 357 6.8C361.7 9.2 366.3 11.2 371 13.5C375.7 15.8 380.3 18.4 385 20.6C389.7 22.8 394.3 24.6 399 26.8C403.7 29 408.3 31.6 413 33.7C417.7 35.9 424.7 38.6 427 39.5" stroke="#ff2a00" stroke-width="4.2"/><path d="M273 -32.8C275.3 -31.6 282.3 -27.9 287 -25.6C291.7 -23.2 296.3 -20.9 301 -18.8C305.7 -16.6 310.3 -14.5 315 -12.5C319.7 -10.5 324.3 -8.8 329 -6.8C333.7 -4.8 338.3 -3 343 -0.7C347.7 1.5 352.3 4.5 357 6.8C361.7 9.2 366.3 11.2 371 13.5C375.7 15.8 380.3 18.4 385 20.6C389.7 22.8 394.3 24.6 399 26.8C403.7 29 408.3 31.6 413 33.7C417.7 35.9 424.7 38.6 427 39.5" stroke="#000" stroke-width="1.2" opacity="0.7"/><path d="M273 -32.8C275.3 -31.6 282.3 -27.9 287 -25.6C291.7 -23.2 296.3 -20.9 301 -18.8C305.7 -16.6 310.3 -14.5 315 -12.5C319.7 -10.5 324.3 -8.8 329 -6.8C333.7 -4.8 338.3 -3 343 -0.7C347.7 1.5 352.3 4.5 357 6.8C361.7 9.2 366.3 11.2 371 13.5C375.7 15.8 380.3 18.4 385 20.6C389.7 22.8 394.3 24.6 399 26.8C403.7 29 408.3 31.6 413 33.7C417.7 35.9 424.7 38.6 427 39.5" stroke="#000" stroke-width="5.2" stroke-dasharray="7.1 24 10.8 15.3 10.8 16.7 4.1 7.9 6.6 23.6" stroke-dashoffset="22.7" opacity="0.3"/><path d="M273 -22.1C275.3 -21 282.3 -17.7 287 -15.5C291.7 -13.4 296.3 -11.3 301 -9.3C305.7 -7.2 310.3 -5.4 315 -3.4C319.7 -1.4 324.3 0.6 329 2.8C333.7 5 338.3 7.6 343 9.9C347.7 12.2 352.3 14.4 357 16.7C361.7 19.1 366.3 21.7 371 23.9C375.7 26.2 380.3 28.2 385 30.2C389.7 32.3 394.3 34 399 36.1C403.7 38.2 408.3 40.9 413 43C417.7 45 424.7 47.5 427 48.4" stroke="#ff2a00" stroke-width="4.2"/><path d="M273 -22.1C275.3 -21 282.3 -17.7 287 -15.5C291.7 -13.4 296.3 -11.3 301 -9.3C305.7 -7.2 310.3 -5.4 315 -3.4C319.7 -1.4 324.3 0.6 329 2.8C333.7 5 338.3 7.6 343 9.9C347.7 12.2 352.3 14.4 357 16.7C361.7 19.1 366.3 21.7 371 23.9C375.7 26.2 380.3 28.2 385 30.2C389.7 32.3 394.3 34 399 36.1C403.7 38.2 408.3 40.9 413 43C417.7 45 424.7 47.5 427 48.4" stroke="#000" stroke-width="1.2" opacity="0.7"/><path d="M273 -22.1C275.3 -21 282.3 -17.7 287 -15.5C291.7 -13.4 296.3 -11.3 301 -9.3C305.7 -7.2 310.3 -5.4 315 -3.4C319.7 -1.4 324.3 0.6 329 2.8C333.7 5 338.3 7.6 343 9.9C347.7 12.2 352.3 14.4 357 16.7C361.7 19.1 366.3 21.7 371 23.9C375.7 26.2 380.3 28.2 385 30.2C389.7 32.3 394.3 34 399 36.1C403.7 38.2 408.3 40.9 413 43C417.7 45 424.7 47.5 427 48.4" stroke="#000" stroke-width="5.2" stroke-dasharray="6.2 14.1 10.7 10.7 9.7 14.3 9.4 18.7 11 18.9" stroke-dashoffset="7.5" opacity="0.3"/><path d="M273 -11.8C275.3 -10.9 282.3 -8 287 -6.1C291.7 -4.2 296.3 -2.5 301 -0.3C305.7 1.8 310.3 4.6 315 6.9C319.7 9.1 324.3 10.9 329 13.2C333.7 15.6 338.3 18.6 343 21C347.7 23.5 352.3 25.8 357 27.9C361.7 30 366.3 31.6 371 33.7C375.7 35.7 380.3 38.2 385 40.2C389.7 42.2 394.3 43.8 399 45.9C403.7 48.1 408.3 50.8 413 53C417.7 55.3 424.7 58.6 427 59.7" stroke="#ff2a00" stroke-width="4.2"/><path d="M273 -11.8C275.3 -10.9 282.3 -8 287 -6.1C291.7 -4.2 296.3 -2.5 301 -0.3C305.7 1.8 310.3 4.6 315 6.9C319.7 9.1 324.3 10.9 329 13.2C333.7 15.6 338.3 18.6 343 21C347.7 23.5 352.3 25.8 357 27.9C361.7 30 366.3 31.6 371 33.7C375.7 35.7 380.3 38.2 385 40.2C389.7 42.2 394.3 43.8 399 45.9C403.7 48.1 408.3 50.8 413 53C417.7 55.3 424.7 58.6 427 59.7" stroke="#000" stroke-width="1.2" opacity="0.7"/><path d="M273 -11.8C275.3 -10.9 282.3 -8 287 -6.1C291.7 -4.2 296.3 -2.5 301 -0.3C305.7 1.8 310.3 4.6 315 6.9C319.7 9.1 324.3 10.9 329 13.2C333.7 15.6 338.3 18.6 343 21C347.7 23.5 352.3 25.8 357 27.9C361.7 30 366.3 31.6 371 33.7C375.7 35.7 380.3 38.2 385 40.2C389.7 42.2 394.3 43.8 399 45.9C403.7 48.1 408.3 50.8 413 53C417.7 55.3 424.7 58.6 427 59.7" stroke="#000" stroke-width="5.2" stroke-dasharray="11.7 20.5 5.8 11.8 3.7 12 7.2 11.2 3.8 10" stroke-dashoffset="1.5" opacity="0.3"/><path d="M273 -2.5C275.3 -1.4 282.3 1.9 287 3.9C291.7 5.9 296.3 7.4 301 9.6C305.7 11.8 310.3 14.5 315 17C319.7 19.4 324.3 21.9 329 24.2C333.7 26.4 338.3 28.3 343 30.6C347.7 32.8 352.3 35.4 357 37.5C361.7 39.7 366.3 41.4 371 43.4C375.7 45.3 380.3 47.1 385 49.2C389.7 51.3 394.3 53.5 399 55.8C403.7 58.2 408.3 61 413 63.4C417.7 65.8 424.7 69 427 70.1" stroke="#ff2a00" stroke-width="4.2"/><path d="M273 -2.5C275.3 -1.4 282.3 1.9 287 3.9C291.7 5.9 296.3 7.4 301 9.6C305.7 11.8 310.3 14.5 315 17C319.7 19.4 324.3 21.9 329 24.2C333.7 26.4 338.3 28.3 343 30.6C347.7 32.8 352.3 35.4 357 37.5C361.7 39.7 366.3 41.4 371 43.4C375.7 45.3 380.3 47.1 385 49.2C389.7 51.3 394.3 53.5 399 55.8C403.7 58.2 408.3 61 413 63.4C417.7 65.8 424.7 69 427 70.1" stroke="#000" stroke-width="1.2" opacity="0.7"/><path d="M273 -2.5C275.3 -1.4 282.3 1.9 287 3.9C291.7 5.9 296.3 7.4 301 9.6C305.7 11.8 310.3 14.5 315 17C319.7 19.4 324.3 21.9 329 24.2C333.7 26.4 338.3 28.3 343 30.6C347.7 32.8 352.3 35.4 357 37.5C361.7 39.7 366.3 41.4 371 43.4C375.7 45.3 380.3 47.1 385 49.2C389.7 51.3 394.3 53.5 399 55.8C403.7 58.2 408.3 61 413 63.4C417.7 65.8 424.7 69 427 70.1" stroke="#000" stroke-width="5.2" stroke-dasharray="10.4 18.5 3.3 23.4 10.2 15.3 6.9 19.7 3.5 13.3" stroke-dashoffset="11.5" opacity="0.3"/><path d="M273 7.1C275.3 8.2 282.3 11.1 287 13.5C291.7 15.8 296.3 18.8 301 21.1C305.7 23.5 310.3 25.6 315 27.8C319.7 30.1 324.3 32.4 329 34.6C333.7 36.8 338.3 38.7 343 40.8C347.7 42.9 352.3 45.2 357 47.2C361.7 49.3 366.3 50.9 371 53C375.7 55.1 380.3 57.6 385 59.9C389.7 62.2 394.3 64.4 399 66.8C403.7 69.2 408.3 71.7 413 74.1C417.7 76.4 424.7 79.7 427 80.8" stroke="#ff2a00" stroke-width="4.2"/><path d="M273 7.1C275.3 8.2 282.3 11.1 287 13.5C291.7 15.8 296.3 18.8 301 21.1C305.7 23.5 310.3 25.6 315 27.8C319.7 30.1 324.3 32.4 329 34.6C333.7 36.8 338.3 38.7 343 40.8C347.7 42.9 352.3 45.2 357 47.2C361.7 49.3 366.3 50.9 371 53C375.7 55.1 380.3 57.6 385 59.9C389.7 62.2 394.3 64.4 399 66.8C403.7 69.2 408.3 71.7 413 74.1C417.7 76.4 424.7 79.7 427 80.8" stroke="#000" stroke-width="1.2" opacity="0.7"/><path d="M273 7.1C275.3 8.2 282.3 11.1 287 13.5C291.7 15.8 296.3 18.8 301 21.1C305.7 23.5 310.3 25.6 315 27.8C319.7 30.1 324.3 32.4 329 34.6C333.7 36.8 338.3 38.7 343 40.8C347.7 42.9 352.3 45.2 357 47.2C361.7 49.3 366.3 50.9 371 53C375.7 55.1 380.3 57.6 385 59.9C389.7 62.2 394.3 64.4 399 66.8C403.7 69.2 408.3 71.7 413 74.1C417.7 76.4 424.7 79.7 427 80.8" stroke="#000" stroke-width="5.2" stroke-dasharray="4.1 12.7 3.9 15.5 11.1 20.5 9 14.6 4.4 8.5" stroke-dashoffset="15.9" opacity="0.3"/><path d="M273 16.9C275.3 18 282.3 20.7 287 23.1C291.7 25.4 296.3 28.7 301 31.1C305.7 33.5 310.3 35.2 315 37.3C319.7 39.3 324.3 41.2 329 43.3C333.7 45.4 338.3 47.7 343 49.9C347.7 52 352.3 53.7 357 55.9C361.7 58.1 366.3 60.7 371 63C375.7 65.2 380.3 67.1 385 69.4C389.7 71.7 394.3 74.4 399 76.8C403.7 79.2 408.3 81.4 413 83.6C417.7 85.7 424.7 88.6 427 89.6" stroke="#ff2a00" stroke-width="4.2"/><path d="M273 16.9C275.3 18 282.3 20.7 287 23.1C291.7 25.4 296.3 28.7 301 31.1C305.7 33.5 310.3 35.2 315 37.3C319.7 39.3 324.3 41.2 329 43.3C333.7 45.4 338.3 47.7 343 49.9C347.7 52 352.3 53.7 357 55.9C361.7 58.1 366.3 60.7 371 63C375.7 65.2 380.3 67.1 385 69.4C389.7 71.7 394.3 74.4 399 76.8C403.7 79.2 408.3 81.4 413 83.6C417.7 85.7 424.7 88.6 427 89.6" stroke="#000" stroke-width="1.2" opacity="0.7"/><path d="M273 16.9C275.3 18 282.3 20.7 287 23.1C291.7 25.4 296.3 28.7 301 31.1C305.7 33.5 310.3 35.2 315 37.3C319.7 39.3 324.3 41.2 329 43.3C333.7 45.4 338.3 47.7 343 49.9C347.7 52 352.3 53.7 357 55.9C361.7 58.1 366.3 60.7 371 63C375.7 65.2 380.3 67.1 385 69.4C389.7 71.7 394.3 74.4 399 76.8C403.7 79.2 408.3 81.4 413 83.6C417.7 85.7 424.7 88.6 427 89.6" stroke="#000" stroke-width="5.2" stroke-dasharray="10.3 20.7 5.3 24.6 9.4 8.6 4.5 9.9 11.6 20.4" stroke-dashoffset="29.1" opacity="0.3"/><path d="M273 27.6C275.3 28.7 282.3 32.3 287 34.7C291.7 37 296.3 39.5 301 41.6C305.7 43.8 310.3 45.4 315 47.5C319.7 49.6 324.3 52 329 54.2C333.7 56.4 338.3 58.7 343 60.9C347.7 63 352.3 64.7 357 67C361.7 69.3 366.3 72.5 371 74.8C375.7 77.2 380.3 79.1 385 81.2C389.7 83.3 394.3 85.2 399 87.3C403.7 89.4 408.3 91.7 413 93.8C417.7 95.9 424.7 98.8 427 99.8" stroke="#ff2a00" stroke-width="4.2"/><path d="M273 27.6C275.3 28.7 282.3 32.3 287 34.7C291.7 37 296.3 39.5 301 41.6C305.7 43.8 310.3 45.4 315 47.5C319.7 49.6 324.3 52 329 54.2C333.7 56.4 338.3 58.7 343 60.9C347.7 63 352.3 64.7 357 67C361.7 69.3 366.3 72.5 371 74.8C375.7 77.2 380.3 79.1 385 81.2C389.7 83.3 394.3 85.2 399 87.3C403.7 89.4 408.3 91.7 413 93.8C417.7 95.9 424.7 98.8 427 99.8" stroke="#000" stroke-width="1.2" opacity="0.7"/><path d="M273 27.6C275.3 28.7 282.3 32.3 287 34.7C291.7 37 296.3 39.5 301 41.6C305.7 43.8 310.3 45.4 315 47.5C319.7 49.6 324.3 52 329 54.2C333.7 56.4 338.3 58.7 343 60.9C347.7 63 352.3 64.7 357 67C361.7 69.3 366.3 72.5 371 74.8C375.7 77.2 380.3 79.1 385 81.2C389.7 83.3 394.3 85.2 399 87.3C403.7 89.4 408.3 91.7 413 93.8C417.7 95.9 424.7 98.8 427 99.8" stroke="#000" stroke-width="5.2" stroke-dasharray="6.8 24.9 4.7 7.5 5.2 13.5 11.2 23.7 6.6 17" stroke-dashoffset="11.8" opacity="0.3"/><path d="M273 38.6C275.3 39.7 282.3 43.2 287 45.4C291.7 47.6 296.3 49.9 301 51.9C305.7 53.9 310.3 55.4 315 57.4C319.7 59.4 324.3 61.7 329 64C333.7 66.3 338.3 68.8 343 71.2C347.7 73.5 352.3 75.7 357 78C361.7 80.3 366.3 82.7 371 84.9C375.7 87.1 380.3 89.2 385 91.3C389.7 93.4 394.3 95.5 399 97.6C403.7 99.7 408.3 101.7 413 103.8C417.7 105.9 424.7 109.1 427 110.1" stroke="#ff2a00" stroke-width="4.2"/><path d="M273 38.6C275.3 39.7 282.3 43.2 287 45.4C291.7 47.6 296.3 49.9 301 51.9C305.7 53.9 310.3 55.4 315 57.4C319.7 59.4 324.3 61.7 329 64C333.7 66.3 338.3 68.8 343 71.2C347.7 73.5 352.3 75.7 357 78C361.7 80.3 366.3 82.7 371 84.9C375.7 87.1 380.3 89.2 385 91.3C389.7 93.4 394.3 95.5 399 97.6C403.7 99.7 408.3 101.7 413 103.8C417.7 105.9 424.7 109.1 427 110.1" stroke="#000" stroke-width="1.2" opacity="0.7"/><path d="M273 38.6C275.3 39.7 282.3 43.2 287 45.4C291.7 47.6 296.3 49.9 301 51.9C305.7 53.9 310.3 55.4 315 57.4C319.7 59.4 324.3 61.7 329 64C333.7 66.3 338.3 68.8 343 71.2C347.7 73.5 352.3 75.7 357 78C361.7 80.3 366.3 82.7 371 84.9C375.7 87.1 380.3 89.2 385 91.3C389.7 93.4 394.3 95.5 399 97.6C403.7 99.7 408.3 101.7 413 103.8C417.7 105.9 424.7 109.1 427 110.1" stroke="#000" stroke-width="5.2" stroke-dasharray="6.6 6.6 8.8 8.6 6.1 20.5 4.1 12.9 10.6 17.4" stroke-dashoffset="1.8" opacity="0.3"/><path d="M273 48C275.3 49.1 282.3 52.5 287 54.5C291.7 56.6 296.3 58.3 301 60.3C305.7 62.4 310.3 64.7 315 67C319.7 69.2 324.3 71.3 329 73.7C333.7 76.1 338.3 79.2 343 81.6C347.7 83.9 352.3 85.9 357 88C361.7 90.1 366.3 92 371 94.1C375.7 96.1 380.3 98.2 385 100.3C389.7 102.4 394.3 104.4 399 106.7C403.7 109 408.3 111.7 413 114C417.7 116.4 424.7 119.6 427 120.7" stroke="#ff2a00" stroke-width="4.2"/><path d="M273 48C275.3 49.1 282.3 52.5 287 54.5C291.7 56.6 296.3 58.3 301 60.3C305.7 62.4 310.3 64.7 315 67C319.7 69.2 324.3 71.3 329 73.7C333.7 76.1 338.3 79.2 343 81.6C347.7 83.9 352.3 85.9 357 88C361.7 90.1 366.3 92 371 94.1C375.7 96.1 380.3 98.2 385 100.3C389.7 102.4 394.3 104.4 399 106.7C403.7 109 408.3 111.7 413 114C417.7 116.4 424.7 119.6 427 120.7" stroke="#000" stroke-width="1.2" opacity="0.7"/><path d="M273 48C275.3 49.1 282.3 52.5 287 54.5C291.7 56.6 296.3 58.3 301 60.3C305.7 62.4 310.3 64.7 315 67C319.7 69.2 324.3 71.3 329 73.7C333.7 76.1 338.3 79.2 343 81.6C347.7 83.9 352.3 85.9 357 88C361.7 90.1 366.3 92 371 94.1C375.7 96.1 380.3 98.2 385 100.3C389.7 102.4 394.3 104.4 399 106.7C403.7 109 408.3 111.7 413 114C417.7 116.4 424.7 119.6 427 120.7" stroke="#000" stroke-width="5.2" stroke-dasharray="10.1 23.3 10.1 13.9 9.4 20.4 6.7 11.4 7.3 7.6" stroke-dashoffset="11.4" opacity="0.3"/><path d="M273 57.6C275.3 58.6 282.3 61.8 287 63.9C291.7 66.1 296.3 68.3 301 70.5C305.7 72.8 310.3 75 315 77.3C319.7 79.6 324.3 82.1 329 84.5C333.7 86.8 338.3 89.4 343 91.6C347.7 93.7 352.3 95.2 357 97.2C361.7 99.3 366.3 101.6 371 103.8C375.7 105.9 380.3 107.8 385 110C389.7 112.3 394.3 114.7 399 117C403.7 119.3 408.3 121.4 413 123.8C417.7 126.1 424.7 129.9 427 131.1" stroke="#ff2a00" stroke-width="4.2"/><path d="M273 57.6C275.3 58.6 282.3 61.8 287 63.9C291.7 66.1 296.3 68.3 301 70.5C305.7 72.8 310.3 75 315 77.3C319.7 79.6 324.3 82.1 329 84.5C333.7 86.8 338.3 89.4 343 91.6C347.7 93.7 352.3 95.2 357 97.2C361.7 99.3 366.3 101.6 371 103.8C375.7 105.9 380.3 107.8 385 110C389.7 112.3 394.3 114.7 399 117C403.7 119.3 408.3 121.4 413 123.8C417.7 126.1 424.7 129.9 427 131.1" stroke="#000" stroke-width="1.2" opacity="0.7"/><path d="M273 57.6C275.3 58.6 282.3 61.8 287 63.9C291.7 66.1 296.3 68.3 301 70.5C305.7 72.8 310.3 75 315 77.3C319.7 79.6 324.3 82.1 329 84.5C333.7 86.8 338.3 89.4 343 91.6C347.7 93.7 352.3 95.2 357 97.2C361.7 99.3 366.3 101.6 371 103.8C375.7 105.9 380.3 107.8 385 110C389.7 112.3 394.3 114.7 399 117C403.7 119.3 408.3 121.4 413 123.8C417.7 126.1 424.7 129.9 427 131.1" stroke="#000" stroke-width="5.2" stroke-dasharray="8.9 6.3 6.1 7.4 3.5 11.2 10.3 10.7 7.4 19.1" stroke-dashoffset="13.8" opacity="0.3"/><path d="M273 66.9C275.3 68.1 282.3 71.8 287 74.1C291.7 76.5 296.3 78.6 301 80.9C305.7 83.2 310.3 85.5 315 87.8C319.7 90.1 324.3 92.7 329 94.8C333.7 96.8 338.3 98.3 343 100.3C347.7 102.3 352.3 104.7 357 106.8C361.7 108.9 366.3 110.8 371 113.1C375.7 115.3 380.3 117.9 385 120.3C389.7 122.7 394.3 125 399 127.3C403.7 129.6 408.3 132 413 134.2C417.7 136.5 424.7 139.7 427 140.8" stroke="#ff2a00" stroke-width="4.2"/><path d="M273 66.9C275.3 68.1 282.3 71.8 287 74.1C291.7 76.5 296.3 78.6 301 80.9C305.7 83.2 310.3 85.5 315 87.8C319.7 90.1 324.3 92.7 329 94.8C333.7 96.8 338.3 98.3 343 100.3C347.7 102.3 352.3 104.7 357 106.8C361.7 108.9 366.3 110.8 371 113.1C375.7 115.3 380.3 117.9 385 120.3C389.7 122.7 394.3 125 399 127.3C403.7 129.6 408.3 132 413 134.2C417.7 136.5 424.7 139.7 427 140.8" stroke="#000" stroke-width="1.2" opacity="0.7"/><path d="M273 66.9C275.3 68.1 282.3 71.8 287 74.1C291.7 76.5 296.3 78.6 301 80.9C305.7 83.2 310.3 85.5 315 87.8C319.7 90.1 324.3 92.7 329 94.8C333.7 96.8 338.3 98.3 343 100.3C347.7 102.3 352.3 104.7 357 106.8C361.7 108.9 366.3 110.8 371 113.1C375.7 115.3 380.3 117.9 385 120.3C389.7 122.7 394.3 125 399 127.3C403.7 129.6 408.3 132 413 134.2C417.7 136.5 424.7 139.7 427 140.8" stroke="#000" stroke-width="5.2" stroke-dasharray="9 9.7 7.1 7.2 3.3 14.9 10.9 16.7 3.1 12.9" stroke-dashoffset="8.2" opacity="0.3"/><path d="M273 77.1C275.3 78.3 282.3 82 287 84.4C291.7 86.7 296.3 89.2 301 91.4C305.7 93.6 310.3 95.4 315 97.6C319.7 99.7 324.3 102 329 104C333.7 106.1 338.3 107.9 343 110C347.7 112 352.3 114.2 357 116.4C361.7 118.6 366.3 120.8 371 123.2C375.7 125.5 380.3 128 385 130.4C389.7 132.8 394.3 135.4 399 137.6C403.7 139.8 408.3 141.8 413 143.7C417.7 145.7 424.7 148.4 427 149.4" stroke="#ff2a00" stroke-width="4.2"/><path d="M273 77.1C275.3 78.3 282.3 82 287 84.4C291.7 86.7 296.3 89.2 301 91.4C305.7 93.6 310.3 95.4 315 97.6C319.7 99.7 324.3 102 329 104C333.7 106.1 338.3 107.9 343 110C347.7 112 352.3 114.2 357 116.4C361.7 118.6 366.3 120.8 371 123.2C375.7 125.5 380.3 128 385 130.4C389.7 132.8 394.3 135.4 399 137.6C403.7 139.8 408.3 141.8 413 143.7C417.7 145.7 424.7 148.4 427 149.4" stroke="#000" stroke-width="1.2" opacity="0.7"/><path d="M273 77.1C275.3 78.3 282.3 82 287 84.4C291.7 86.7 296.3 89.2 301 91.4C305.7 93.6 310.3 95.4 315 97.6C319.7 99.7 324.3 102 329 104C333.7 106.1 338.3 107.9 343 110C347.7 112 352.3 114.2 357 116.4C361.7 118.6 366.3 120.8 371 123.2C375.7 125.5 380.3 128 385 130.4C389.7 132.8 394.3 135.4 399 137.6C403.7 139.8 408.3 141.8 413 143.7C417.7 145.7 424.7 148.4 427 149.4" stroke="#000" stroke-width="5.2" stroke-dasharray="7 11.2 3.1 13.4 11.9 6.6 9.7 14.6 6 24.3" stroke-dashoffset="26.6" opacity="0.3"/><path d="M273 87.5C275.3 88.8 282.3 92.9 287 95.2C291.7 97.5 296.3 99.3 301 101.4C305.7 103.5 310.3 105.7 315 107.6C319.7 109.6 324.3 111.1 329 113.2C333.7 115.3 338.3 117.8 343 120C347.7 122.3 352.3 124.6 357 127C361.7 129.4 366.3 132 371 134.4C375.7 136.8 380.3 139.2 385 141.3C389.7 143.5 394.3 145.2 399 147.2C403.7 149.1 408.3 151 413 153C417.7 155 424.7 158.3 427 159.4" stroke="#ff2a00" stroke-width="4.2"/><path d="M273 87.5C275.3 88.8 282.3 92.9 287 95.2C291.7 97.5 296.3 99.3 301 101.4C305.7 103.5 310.3 105.7 315 107.6C319.7 109.6 324.3 111.1 329 113.2C333.7 115.3 338.3 117.8 343 120C347.7 122.3 352.3 124.6 357 127C361.7 129.4 366.3 132 371 134.4C375.7 136.8 380.3 139.2 385 141.3C389.7 143.5 394.3 145.2 399 147.2C403.7 149.1 408.3 151 413 153C417.7 155 424.7 158.3 427 159.4" stroke="#000" stroke-width="1.2" opacity="0.7"/><path d="M273 87.5C275.3 88.8 282.3 92.9 287 95.2C291.7 97.5 296.3 99.3 301 101.4C305.7 103.5 310.3 105.7 315 107.6C319.7 109.6 324.3 111.1 329 113.2C333.7 115.3 338.3 117.8 343 120C347.7 122.3 352.3 124.6 357 127C361.7 129.4 366.3 132 371 134.4C375.7 136.8 380.3 139.2 385 141.3C389.7 143.5 394.3 145.2 399 147.2C403.7 149.1 408.3 151 413 153C417.7 155 424.7 158.3 427 159.4" stroke="#000" stroke-width="5.2" stroke-dasharray="7.6 17.5 10.8 19.9 5.6 9.7 8.9 12.5 8 21.2" stroke-dashoffset="29.6" opacity="0.3"/><path d="M273 98.7C275.3 99.7 282.3 102.4 287 104.5C291.7 106.6 296.3 109.1 301 111C305.7 113 310.3 114.2 315 116.3C319.7 118.3 324.3 120.9 329 123.3C333.7 125.7 338.3 128.2 343 130.6C347.7 133.1 352.3 135.9 357 138.1C361.7 140.3 366.3 141.6 371 143.7C375.7 145.9 380.3 148.8 385 150.8C389.7 152.9 394.3 154.1 399 156.1C403.7 158 408.3 160.1 413 162.5C417.7 164.9 424.7 168.9 427 170.2" stroke="#ff2a00" stroke-width="4.2"/><path d="M273 98.7C275.3 99.7 282.3 102.4 287 104.5C291.7 106.6 296.3 109.1 301 111C305.7 113 310.3 114.2 315 116.3C319.7 118.3 324.3 120.9 329 123.3C333.7 125.7 338.3 128.2 343 130.6C347.7 133.1 352.3 135.9 357 138.1C361.7 140.3 366.3 141.6 371 143.7C375.7 145.9 380.3 148.8 385 150.8C389.7 152.9 394.3 154.1 399 156.1C403.7 158 408.3 160.1 413 162.5C417.7 164.9 424.7 168.9 427 170.2" stroke="#000" stroke-width="1.2" opacity="0.7"/><path d="M273 98.7C275.3 99.7 282.3 102.4 287 104.5C291.7 106.6 296.3 109.1 301 111C305.7 113 310.3 114.2 315 116.3C319.7 118.3 324.3 120.9 329 123.3C333.7 125.7 338.3 128.2 343 130.6C347.7 133.1 352.3 135.9 357 138.1C361.7 140.3 366.3 141.6 371 143.7C375.7 145.9 380.3 148.8 385 150.8C389.7 152.9 394.3 154.1 399 156.1C403.7 158 408.3 160.1 413 162.5C417.7 164.9 424.7 168.9 427 170.2" stroke="#000" stroke-width="5.2" stroke-dasharray="5.9 20.6 8.3 18.4 6.8 23.1 7.8 8.1 12 7.6" stroke-dashoffset="24.3" opacity="0.3"/><path d="M273 108C275.3 108.9 282.3 111.9 287 113.9C291.7 115.9 296.3 117.8 301 119.9C305.7 122 310.3 124.1 315 126.4C319.7 128.7 324.3 131.3 329 133.7C333.7 136.1 338.3 138.5 343 140.7C347.7 143 352.3 145.2 357 147.3C361.7 149.3 366.3 151 371 153.1C375.7 155.1 380.3 157.4 385 159.6C389.7 161.7 394.3 163.6 399 165.9C403.7 168.2 408.3 171.2 413 173.6C417.7 175.9 424.7 178.9 427 179.9" stroke="#ff2a00" stroke-width="4.2"/><path d="M273 108C275.3 108.9 282.3 111.9 287 113.9C291.7 115.9 296.3 117.8 301 119.9C305.7 122 310.3 124.1 315 126.4C319.7 128.7 324.3 131.3 329 133.7C333.7 136.1 338.3 138.5 343 140.7C347.7 143 352.3 145.2 357 147.3C361.7 149.3 366.3 151 371 153.1C375.7 155.1 380.3 157.4 385 159.6C389.7 161.7 394.3 163.6 399 165.9C403.7 168.2 408.3 171.2 413 173.6C417.7 175.9 424.7 178.9 427 179.9" stroke="#000" stroke-width="1.2" opacity="0.7"/><path d="M273 108C275.3 108.9 282.3 111.9 287 113.9C291.7 115.9 296.3 117.8 301 119.9C305.7 122 310.3 124.1 315 126.4C319.7 128.7 324.3 131.3 329 133.7C333.7 136.1 338.3 138.5 343 140.7C347.7 143 352.3 145.2 357 147.3C361.7 149.3 366.3 151 371 153.1C375.7 155.1 380.3 157.4 385 159.6C389.7 161.7 394.3 163.6 399 165.9C403.7 168.2 408.3 171.2 413 173.6C417.7 175.9 424.7 178.9 427 179.9" stroke="#000" stroke-width="5.2" stroke-dasharray="4.8 14.9 6.9 20.1 9.2 8.8 9 8.1 8.7 20.3" stroke-dashoffset="6.8" opacity="0.3"/><path d="M273 117.3C275.3 118.4 282.3 121.9 287 124C291.7 126.1 296.3 127.9 301 130.1C305.7 132.3 310.3 134.9 315 137.2C319.7 139.6 324.3 142 329 144.3C333.7 146.5 338.3 148.7 343 150.8C347.7 152.9 352.3 154.7 357 156.8C361.7 158.8 366.3 160.9 371 163.1C375.7 165.3 380.3 167.6 385 169.9C389.7 172.1 394.3 174.3 399 176.7C403.7 179 408.3 181.5 413 183.9C417.7 186.2 424.7 189.5 427 190.6" stroke="#ff2a00" stroke-width="4.2"/><path d="M273 117.3C275.3 118.4 282.3 121.9 287 124C291.7 126.1 296.3 127.9 301 130.1C305.7 132.3 310.3 134.9 315 137.2C319.7 139.6 324.3 142 329 144.3C333.7 146.5 338.3 148.7 343 150.8C347.7 152.9 352.3 154.7 357 156.8C361.7 158.8 366.3 160.9 371 163.1C375.7 165.3 380.3 167.6 385 169.9C389.7 172.1 394.3 174.3 399 176.7C403.7 179 408.3 181.5 413 183.9C417.7 186.2 424.7 189.5 427 190.6" stroke="#000" stroke-width="1.2" opacity="0.7"/><path d="M273 117.3C275.3 118.4 282.3 121.9 287 124C291.7 126.1 296.3 127.9 301 130.1C305.7 132.3 310.3 134.9 315 137.2C319.7 139.6 324.3 142 329 144.3C333.7 146.5 338.3 148.7 343 150.8C347.7 152.9 352.3 154.7 357 156.8C361.7 158.8 366.3 160.9 371 163.1C375.7 165.3 380.3 167.6 385 169.9C389.7 172.1 394.3 174.3 399 176.7C403.7 179 408.3 181.5 413 183.9C417.7 186.2 424.7 189.5 427 190.6" stroke="#000" stroke-width="5.2" stroke-dasharray="3.2 6.7 4.7 7.5 3.3 11.2 7.4 21.4 6.2 15.2" stroke-dashoffset="15.4" opacity="0.3"/><path d="M273 127.8C275.3 128.9 282.3 132.1 287 134.4C291.7 136.7 296.3 139.6 301 141.9C305.7 144.1 310.3 145.8 315 148C319.7 150.1 324.3 152.6 329 154.7C333.7 156.9 338.3 158.8 343 160.8C347.7 162.9 352.3 164.9 357 167.1C361.7 169.2 366.3 171.5 371 173.7C375.7 175.9 380.3 177.8 385 180.2C389.7 182.6 394.3 185.8 399 188.1C403.7 190.5 408.3 192.1 413 194.2C417.7 196.3 424.7 199.7 427 200.7" stroke="#ff2a00" stroke-width="4.2"/><path d="M273 127.8C275.3 128.9 282.3 132.1 287 134.4C291.7 136.7 296.3 139.6 301 141.9C305.7 144.1 310.3 145.8 315 148C319.7 150.1 324.3 152.6 329 154.7C333.7 156.9 338.3 158.8 343 160.8C347.7 162.9 352.3 164.9 357 167.1C361.7 169.2 366.3 171.5 371 173.7C375.7 175.9 380.3 177.8 385 180.2C389.7 182.6 394.3 185.8 399 188.1C403.7 190.5 408.3 192.1 413 194.2C417.7 196.3 424.7 199.7 427 200.7" stroke="#000" stroke-width="1.2" opacity="0.7"/><path d="M273 127.8C275.3 128.9 282.3 132.1 287 134.4C291.7 136.7 296.3 139.6 301 141.9C305.7 144.1 310.3 145.8 315 148C319.7 150.1 324.3 152.6 329 154.7C333.7 156.9 338.3 158.8 343 160.8C347.7 162.9 352.3 164.9 357 167.1C361.7 169.2 366.3 171.5 371 173.7C375.7 175.9 380.3 177.8 385 180.2C389.7 182.6 394.3 185.8 399 188.1C403.7 190.5 408.3 192.1 413 194.2C417.7 196.3 424.7 199.7 427 200.7" stroke="#000" stroke-width="5.2" stroke-dasharray="11.8 11.6 10.2 23.5 9.8 14.3 4.7 17 3.6 21.1" stroke-dashoffset="20.7" opacity="0.3"/><path d="M273 137.7C275.3 138.8 282.3 142.3 287 144.6C291.7 146.9 296.3 149.2 301 151.5C305.7 153.8 310.3 156.3 315 158.4C319.7 160.5 324.3 162.1 329 164.1C333.7 166 338.3 168 343 170.1C347.7 172.3 352.3 174.8 357 177C361.7 179.2 366.3 181 371 183.3C375.7 185.6 380.3 188.6 385 190.9C389.7 193.2 394.3 195 399 197.2C403.7 199.4 408.3 201.8 413 203.9C417.7 206 424.7 208.8 427 209.7" stroke="#ff2a00" stroke-width="4.2"/><path d="M273 137.7C275.3 138.8 282.3 142.3 287 144.6C291.7 146.9 296.3 149.2 301 151.5C305.7 153.8 310.3 156.3 315 158.4C319.7 160.5 324.3 162.1 329 164.1C333.7 166 338.3 168 343 170.1C347.7 172.3 352.3 174.8 357 177C361.7 179.2 366.3 181 371 183.3C375.7 185.6 380.3 188.6 385 190.9C389.7 193.2 394.3 195 399 197.2C403.7 199.4 408.3 201.8 413 203.9C417.7 206 424.7 208.8 427 209.7" stroke="#000" stroke-width="1.2" opacity="0.7"/><path d="M273 137.7C275.3 138.8 282.3 142.3 287 144.6C291.7 146.9 296.3 149.2 301 151.5C305.7 153.8 310.3 156.3 315 158.4C319.7 160.5 324.3 162.1 329 164.1C333.7 166 338.3 168 343 170.1C347.7 172.3 352.3 174.8 357 177C361.7 179.2 366.3 181 371 183.3C375.7 185.6 380.3 188.6 385 190.9C389.7 193.2 394.3 195 399 197.2C403.7 199.4 408.3 201.8 413 203.9C417.7 206 424.7 208.8 427 209.7" stroke="#000" stroke-width="5.2" stroke-dasharray="11.3 14.9 8.9 22.3 5.1 24.5 7.9 11.8 4 23.3" stroke-dashoffset="14.2" opacity="0.3"/><path d="M273 149.2C275.3 150.2 282.3 152.8 287 155C291.7 157.1 296.3 160.1 301 162.1C305.7 164.1 310.3 165.1 315 167.1C319.7 169 324.3 171.7 329 173.9C333.7 176.1 338.3 178.4 343 180.5C347.7 182.7 352.3 184.6 357 186.9C361.7 189.3 366.3 192.2 371 194.6C375.7 197 380.3 199.4 385 201.4C389.7 203.3 394.3 204.4 399 206.4C403.7 208.3 408.3 210.6 413 212.9C417.7 215.2 424.7 218.7 427 219.9" stroke="#ff2a00" stroke-width="4.2"/><path d="M273 149.2C275.3 150.2 282.3 152.8 287 155C291.7 157.1 296.3 160.1 301 162.1C305.7 164.1 310.3 165.1 315 167.1C319.7 169 324.3 171.7 329 173.9C333.7 176.1 338.3 178.4 343 180.5C347.7 182.7 352.3 184.6 357 186.9C361.7 189.3 366.3 192.2 371 194.6C375.7 197 380.3 199.4 385 201.4C389.7 203.3 394.3 204.4 399 206.4C403.7 208.3 408.3 210.6 413 212.9C417.7 215.2 424.7 218.7 427 219.9" stroke="#000" stroke-width="1.2" opacity="0.7"/><path d="M273 149.2C275.3 150.2 282.3 152.8 287 155C291.7 157.1 296.3 160.1 301 162.1C305.7 164.1 310.3 165.1 315 167.1C319.7 169 324.3 171.7 329 173.9C333.7 176.1 338.3 178.4 343 180.5C347.7 182.7 352.3 184.6 357 186.9C361.7 189.3 366.3 192.2 371 194.6C375.7 197 380.3 199.4 385 201.4C389.7 203.3 394.3 204.4 399 206.4C403.7 208.3 408.3 210.6 413 212.9C417.7 215.2 424.7 218.7 427 219.9" stroke="#000" stroke-width="5.2" stroke-dasharray="3.8 13 7.4 13.6 7.6 6 4.4 19.1 4.9 11" stroke-dashoffset="1.7" opacity="0.3"/><path d="M273 158.4C275.3 159.5 282.3 162.9 287 164.8C291.7 166.8 296.3 168.1 301 170.1C305.7 172.1 310.3 174.6 315 176.8C319.7 179.1 324.3 181 329 183.4C333.7 185.7 338.3 188.6 343 191C347.7 193.4 352.3 195.5 357 197.6C361.7 199.8 366.3 201.6 371 203.7C375.7 205.7 380.3 207.9 385 210C389.7 212.1 394.3 214.1 399 216.2C403.7 218.4 408.3 220.7 413 222.9C417.7 225.2 424.7 228.6 427 229.7" stroke="#ff2a00" stroke-width="4.2"/><path d="M273 158.4C275.3 159.5 282.3 162.9 287 164.8C291.7 166.8 296.3 168.1 301 170.1C305.7 172.1 310.3 174.6 315 176.8C319.7 179.1 324.3 181 329 183.4C333.7 185.7 338.3 188.6 343 191C347.7 193.4 352.3 195.5 357 197.6C361.7 199.8 366.3 201.6 371 203.7C375.7 205.7 380.3 207.9 385 210C389.7 212.1 394.3 214.1 399 216.2C403.7 218.4 408.3 220.7 413 222.9C417.7 225.2 424.7 228.6 427 229.7" stroke="#000" stroke-width="1.2" opacity="0.7"/><path d="M273 158.4C275.3 159.5 282.3 162.9 287 164.8C291.7 166.8 296.3 168.1 301 170.1C305.7 172.1 310.3 174.6 315 176.8C319.7 179.1 324.3 181 329 183.4C333.7 185.7 338.3 188.6 343 191C347.7 193.4 352.3 195.5 357 197.6C361.7 199.8 366.3 201.6 371 203.7C375.7 205.7 380.3 207.9 385 210C389.7 212.1 394.3 214.1 399 216.2C403.7 218.4 408.3 220.7 413 222.9C417.7 225.2 424.7 228.6 427 229.7" stroke="#000" stroke-width="5.2" stroke-dasharray="11.6 20.5 9.2 21 9.6 17.4 9.8 7.5 7 24.9" stroke-dashoffset="3" opacity="0.3"/></g>
<g fill="none" style="mix-blend-mode:screen">
<g fill="#0d5a0d" opacity="0.9"><circle cx="327.3" cy="96.7" r="0.6"/><circle cx="410" cy="109.7" r="1.4"/><circle cx="302.6" cy="91.7" r="1.2"/><circle cx="386.5" cy="108.1" r="1.1"/><circle cx="353.1" cy="39.8" r="1.2"/><circle cx="313.3" cy="124.2" r="1"/><circle cx="310.8" cy="46.2" r="1"/><circle cx="410.4" cy="150.3" r="1.3"/><circle cx="285.3" cy="132.6" r="0.9"/><circle cx="314.4" cy="69.9" r="0.9"/><circle cx="335.9" cy="87.6" r="1"/><circle cx="337.5" cy="60.9" r="0.6"/><circle cx="292.3" cy="27.5" r="0.6"/><circle cx="394.3" cy="96.4" r="1"/><circle cx="321.5" cy="81" r="1.1"/><circle cx="396.9" cy="77.5" r="0.7"/><circle cx="382.3" cy="148" r="0.9"/><circle cx="294.1" cy="58.9" r="1.3"/><circle cx="338.9" cy="108.7" r="1.1"/><circle cx="395.9" cy="45.4" r="0.9"/><circle cx="372.7" cy="80.5" r="1.3"/><circle cx="389.3" cy="79" r="0.9"/><circle cx="394.2" cy="73.4" r="0.6"/><circle cx="299" cy="89" r="1.4"/><circle cx="396.6" cy="100.3" r="1.1"/><circle cx="396.7" cy="32.7" r="1.2"/><circle cx="381" cy="85.6" r="1.2"/><circle cx="336.1" cy="98.3" r="1.2"/><circle cx="285.8" cy="155.6" r="1.2"/><circle cx="392.4" cy="80.1" r="1.1"/><circle cx="409" cy="115.8" r="0.9"/><circle cx="347.5" cy="82.8" r="0.8"/><circle cx="398.2" cy="154.7" r="1.2"/><circle cx="375.4" cy="103.4" r="1"/><circle cx="408.8" cy="69.1" r="0.7"/><circle cx="295.2" cy="55.7" r="1.3"/><circle cx="370.8" cy="69.1" r="0.8"/><circle cx="375.4" cy="92" r="0.8"/><circle cx="326.8" cy="143.2" r="0.9"/><circle cx="345.3" cy="26.3" r="0.8"/><circle cx="342.3" cy="150.3" r="0.8"/><circle cx="387.4" cy="91.9" r="0.6"/><circle cx="394.5" cy="111.4" r="1.1"/><circle cx="379.5" cy="33.3" r="1"/><circle cx="361.7" cy="144.7" r="1.2"/><circle cx="346.5" cy="151" r="0.8"/><circle cx="397.3" cy="132.2" r="0.6"/><circle cx="305.3" cy="149.3" r="1.1"/><circle cx="372.3" cy="126.4" r="0.8"/><circle cx="403" cy="74.8" r="1.3"/><circle cx="387.8" cy="81.1" r="1.1"/><circle cx="407" cy="77" r="1.4"/><circle cx="323.2" cy="48.5" r="0.7"/><circle cx="401.5" cy="152.6" r="0.7"/><circle cx="384.7" cy="35.7" r="0.6"/><circle cx="297.3" cy="152.1" r="0.6"/><circle cx="391.6" cy="116.7" r="1.2"/><circle cx="286.6" cy="135.3" r="1.2"/><circle cx="329.5" cy="131.7" r="1"/><circle cx="313.8" cy="118.8" r="1.2"/><circle cx="387.6" cy="61.4" r="1.1"/><circle cx="299.4" cy="130.6" r="0.7"/><circle cx="351.9" cy="138.6" r="1.1"/><circle cx="354.6" cy="118.8" r="0.9"/><circle cx="307.8" cy="148.9" r="0.7"/><circle cx="362.6" cy="78.8" r="1.4"/><circle cx="366.2" cy="61.9" r="1.2"/><circle cx="376.4" cy="149.2" r="1.1"/><circle cx="305.9" cy="32.1" r="1.2"/><circle cx="368.6" cy="58.7" r="0.7"/><circle cx="326.3" cy="135.4" r="1.1"/><circle cx="291.2" cy="103.8" r="1.1"/><circle cx="384.3" cy="112.1" r="0.7"/><circle cx="312.4" cy="90.1" r="0.7"/><circle cx="410" cy="102.3" r="1"/><circle cx="380.4" cy="109.2" r="1.3"/><circle cx="299.5" cy="108.2" r="1.1"/><circle cx="329" cy="31.4" r="0.8"/><circle cx="296.9" cy="100.4" r="1.3"/><circle cx="402.6" cy="29.1" r="1.3"/><circle cx="359.6" cy="65.6" r="1.3"/><circle cx="378.5" cy="36.4" r="0.6"/><circle cx="404.1" cy="123.4" r="0.6"/><circle cx="295.2" cy="150.5" r="0.7"/><circle cx="302" cy="70.6" r="0.8"/><circle cx="352.4" cy="28.9" r="0.6"/><circle cx="371" cy="119.1" r="0.8"/><circle cx="354.4" cy="152.7" r="0.8"/><circle cx="398.3" cy="128.7" r="1.1"/><circle cx="385.6" cy="119.2" r="1.1"/><circle cx="299.6" cy="123.2" r="0.7"/><circle cx="334.1" cy="128.7" r="0.6"/><circle cx="324.1" cy="50.3" r="1.2"/><circle cx="314.5" cy="49.3" r="1"/><circle cx="312" cy="47.3" r="0.8"/><circle cx="341.6" cy="148.2" r="0.8"/><circle cx="340.1" cy="89.8" r="0.7"/><circle cx="288.4" cy="133.2" r="1"/><circle cx="347.8" cy="140.3" r="1"/><circle cx="289.4" cy="92.4" r="0.9"/><circle cx="330" cy="149.5" r="0.8"/><circle cx="354.3" cy="107" r="1.2"/><circle cx="383.1" cy="129.6" r="0.9"/><circle cx="331.1" cy="101.2" r="1"/><circle cx="348.9" cy="86.7" r="0.7"/><circle cx="298.9" cy="123.4" r="0.8"/><circle cx="357.4" cy="133.7" r="0.6"/><circle cx="339.6" cy="108.9" r="0.8"/><circle cx="327.8" cy="123.5" r="0.8"/><circle cx="286.6" cy="86.4" r="0.7"/><circle cx="290.4" cy="97.9" r="1.3"/><circle cx="313.4" cy="61.3" r="0.8"/><circle cx="297.1" cy="96.7" r="1.1"/><circle cx="379.2" cy="153.7" r="0.8"/><circle cx="330.1" cy="81.2" r="1.3"/><circle cx="373.4" cy="65.8" r="0.8"/><circle cx="399.9" cy="33.1" r="0.9"/><circle cx="353.7" cy="146.9" r="1.1"/><circle cx="287.9" cy="115.7" r="1.4"/><circle cx="396.8" cy="103.2" r="1"/><circle cx="395.5" cy="42.9" r="1.2"/><circle cx="329.1" cy="81.1" r="1.2"/><circle cx="397.2" cy="148" r="1.2"/><circle cx="357.5" cy="137.5" r="1.2"/><circle cx="398.7" cy="46.7" r="1.1"/><circle cx="324.6" cy="142.2" r="1.2"/><circle cx="288.9" cy="30.7" r="0.8"/><circle cx="357.2" cy="49.4" r="0.7"/><circle cx="363.1" cy="73" r="1.1"/><circle cx="290.9" cy="59.5" r="1.4"/><circle cx="306.7" cy="82.2" r="0.9"/><circle cx="363.2" cy="34.1" r="1.3"/><circle cx="286.9" cy="110.2" r="1"/><circle cx="327" cy="147.2" r="1.2"/><circle cx="405.9" cy="143.2" r="0.6"/><circle cx="308.3" cy="144.6" r="0.9"/><circle cx="301.7" cy="39.8" r="0.7"/><circle cx="311" cy="47.1" r="0.8"/><circle cx="394.2" cy="42" r="1"/><circle cx="324.8" cy="124.9" r="0.7"/><circle cx="389.3" cy="108.7" r="1.1"/><circle cx="316.7" cy="63.1" r="0.7"/><circle cx="359.1" cy="69.6" r="1.1"/><circle cx="403.9" cy="127" r="1"/><circle cx="288.3" cy="111.9" r="0.9"/><circle cx="326.1" cy="153.7" r="0.8"/><circle cx="338.6" cy="70.1" r="0.6"/><circle cx="378.1" cy="50.9" r="1.2"/><circle cx="284.4" cy="97.9" r="1.1"/><circle cx="395.8" cy="33.2" r="1.1"/><circle cx="389.9" cy="39" r="0.6"/><circle cx="287.8" cy="47.9" r="1.4"/><circle cx="353.6" cy="98.3" r="1"/><circle cx="293.9" cy="136" r="0.9"/><circle cx="365.8" cy="58.2" r="0.8"/><circle cx="407.2" cy="83.2" r="1.2"/><circle cx="364.7" cy="133.7" r="1.1"/><circle cx="290" cy="114.3" r="1"/><circle cx="297.8" cy="115.7" r="1.3"/><circle cx="296" cy="128" r="0.7"/><circle cx="372.1" cy="57.6" r="0.7"/><circle cx="328.4" cy="130.6" r="1.3"/><circle cx="397.6" cy="65.1" r="0.8"/><circle cx="357.5" cy="44.1" r="0.7"/><circle cx="315.7" cy="27.9" r="1.1"/><circle cx="404.3" cy="47.7" r="0.8"/><circle cx="337.7" cy="153.5" r="0.7"/><circle cx="370.8" cy="75.8" r="1.4"/><circle cx="409.1" cy="101.7" r="0.7"/><circle cx="408.6" cy="72.7" r="1"/><circle cx="347.1" cy="86.9" r="0.8"/><circle cx="370.5" cy="47.5" r="0.7"/><circle cx="284.1" cy="30.9" r="1.1"/><circle cx="383.4" cy="47.8" r="0.6"/><circle cx="292.8" cy="119" r="1.2"/><circle cx="285.1" cy="38.1" r="1.1"/><circle cx="360" cy="46.6" r="0.7"/><circle cx="404.5" cy="112.1" r="1.3"/><circle cx="339.9" cy="75.1" r="0.7"/><circle cx="298.7" cy="100.2" r="0.6"/><circle cx="344.3" cy="119.9" r="0.7"/><circle cx="295.8" cy="84.9" r="1.1"/><circle cx="283" cy="143.6" r="0.9"/><circle cx="359.6" cy="152.2" r="0.8"/><circle cx="370.1" cy="107.6" r="0.8"/><circle cx="398.1" cy="129" r="0.8"/><circle cx="290.2" cy="32" r="1"/><circle cx="284" cy="55.9" r="0.9"/><circle cx="292.8" cy="150.5" r="1.3"/><circle cx="284.3" cy="50" r="1.1"/><circle cx="322.9" cy="45.3" r="1.2"/><circle cx="300.7" cy="104.1" r="0.8"/><circle cx="295.5" cy="137.5" r="0.7"/><circle cx="367.7" cy="81.1" r="0.8"/><circle cx="394.4" cy="94.6" r="1.2"/><circle cx="316.6" cy="82.5" r="1.2"/><circle cx="302.9" cy="61.4" r="1.4"/><circle cx="321.4" cy="54.8" r="1.2"/><circle cx="305.8" cy="67" r="1.2"/><circle cx="321.2" cy="118.2" r="1.1"/><circle cx="388.8" cy="140.6" r="1.3"/><circle cx="371.5" cy="124.9" r="0.8"/><circle cx="345.6" cy="127.1" r="1.1"/><circle cx="369.2" cy="116.3" r="1.3"/><circle cx="363" cy="90.1" r="0.6"/><circle cx="359.8" cy="77.1" r="0.6"/><circle cx="308.7" cy="106.8" r="0.8"/><circle cx="372.9" cy="85.5" r="1.2"/><circle cx="293.2" cy="40.9" r="1"/><circle cx="387.4" cy="139.3" r="0.9"/><circle cx="352.3" cy="134" r="1.4"/><circle cx="389.2" cy="96.9" r="1.2"/><circle cx="374" cy="46.6" r="1.2"/><circle cx="303.3" cy="84.1" r="0.9"/><circle cx="388.5" cy="143.9" r="1"/><circle cx="335.9" cy="118.7" r="0.8"/><circle cx="291.1" cy="83.2" r="0.8"/><circle cx="289.8" cy="60.9" r="1.3"/><circle cx="329.7" cy="98.9" r="0.8"/><circle cx="330.6" cy="147.7" r="1.3"/><circle cx="369.3" cy="92.4" r="1.2"/><circle cx="366.2" cy="151.7" r="1.4"/><circle cx="354.7" cy="100.8" r="0.9"/><circle cx="403.3" cy="71.7" r="0.8"/><circle cx="394.5" cy="91.1" r="1.1"/><circle cx="384.1" cy="131.9" r="1.3"/><circle cx="373.9" cy="46.5" r="1.3"/><circle cx="318" cy="121.2" r="1.2"/><circle cx="344.1" cy="91.7" r="0.8"/><circle cx="312.5" cy="118.4" r="1.2"/><circle cx="355.2" cy="105.5" r="1.4"/><circle cx="302.3" cy="85.6" r="1.4"/><circle cx="303" cy="153.3" r="1.2"/><circle cx="392.2" cy="117.8" r="0.8"/><circle cx="303.2" cy="100" r="1.3"/><circle cx="318.9" cy="138" r="0.6"/><circle cx="330.7" cy="117.7" r="0.6"/><circle cx="355.2" cy="154.3" r="0.7"/><circle cx="286.1" cy="139.4" r="1.3"/><circle cx="289.9" cy="117.9" r="0.9"/><circle cx="284.3" cy="153" r="0.8"/><circle cx="320.8" cy="43.6" r="0.9"/><circle cx="378.4" cy="59.5" r="1.1"/><circle cx="400.2" cy="120.3" r="0.7"/><circle cx="318.5" cy="79.6" r="1.1"/><circle cx="393" cy="89.5" r="0.9"/><circle cx="392.1" cy="55.8" r="1.3"/><circle cx="408.4" cy="93.3" r="1.2"/><circle cx="297.7" cy="94.5" r="1.2"/><circle cx="313.1" cy="118" r="1"/><circle cx="406.7" cy="137.3" r="0.8"/><circle cx="299.6" cy="94.1" r="0.7"/><circle cx="300.8" cy="109.6" r="0.9"/><circle cx="371.5" cy="65.4" r="0.7"/><circle cx="356.1" cy="55.6" r="1.3"/><circle cx="308.5" cy="65.8" r="0.8"/><circle cx="317.4" cy="151.9" r="1.2"/><circle cx="329.4" cy="47.5" r="1.3"/><circle cx="373.7" cy="143.3" r="1.3"/><circle cx="305.2" cy="149.5" r="1.1"/><circle cx="311" cy="82.5" r="0.9"/><circle cx="387.9" cy="133.5" r="1.1"/><circle cx="391.6" cy="149.1" r="1.2"/><circle cx="363.1" cy="152.2" r="1.2"/><circle cx="301.8" cy="130" r="1.4"/><circle cx="389.8" cy="65.1" r="0.9"/><circle cx="368" cy="122.6" r="1.1"/><circle cx="317.1" cy="132" r="0.7"/><circle cx="308.7" cy="88.1" r="0.9"/><circle cx="392" cy="34.8" r="0.7"/><circle cx="372.3" cy="94.9" r="0.7"/><circle cx="380.2" cy="139.4" r="1.3"/><circle cx="339.2" cy="109.4" r="0.9"/><circle cx="312.8" cy="64.8" r="0.7"/><circle cx="395.1" cy="104.7" r="0.7"/><circle cx="360.1" cy="137.8" r="1"/><circle cx="389.4" cy="37.7" r="0.9"/><circle cx="410.7" cy="132" r="1.2"/><circle cx="319.7" cy="127.3" r="1.1"/><circle cx="368.7" cy="126.3" r="0.7"/><circle cx="393.9" cy="122.1" r="0.6"/><circle cx="373.9" cy="98.6" r="0.8"/><circle cx="397.4" cy="118.5" r="1.2"/><circle cx="396.5" cy="103" r="1"/><circle cx="340.4" cy="77.4" r="1.1"/><circle cx="389" cy="72.2" r="0.9"/><circle cx="373.4" cy="120.8" r="0.7"/><circle cx="298.5" cy="126.7" r="1.1"/><circle cx="283.8" cy="57.9" r="1.3"/><circle cx="360.3" cy="104.3" r="0.9"/><circle cx="364.8" cy="32.8" r="1.2"/><circle cx="356.6" cy="128" r="0.8"/><circle cx="310.4" cy="53" r="1.2"/><circle cx="349.9" cy="46.6" r="0.6"/><circle cx="368.7" cy="26.5" r="1.3"/><circle cx="327.3" cy="78.6" r="0.7"/><circle cx="309.2" cy="49.2" r="1.2"/><circle cx="290.9" cy="61.4" r="0.8"/><circle cx="307.8" cy="40.8" r="1.2"/><circle cx="285.6" cy="46.1" r="1.1"/><circle cx="300.9" cy="75.9" r="1.3"/><circle cx="333.7" cy="89.8" r="0.6"/><circle cx="355" cy="75.3" r="1.3"/><circle cx="373.4" cy="33.1" r="1.3"/><circle cx="376.3" cy="63.6" r="0.8"/><circle cx="327.9" cy="77.8" r="1.4"/><circle cx="411.9" cy="147" r="0.9"/><circle cx="305.3" cy="79.5" r="1"/><circle cx="390.1" cy="93.7" r="0.8"/><circle cx="292.9" cy="58.4" r="1"/><circle cx="324.2" cy="84.3" r="1.1"/><circle cx="292.2" cy="55.3" r="0.9"/><circle cx="368.7" cy="89.3" r="0.8"/><circle cx="306.8" cy="109.3" r="0.9"/><circle cx="391" cy="65.7" r="1.4"/><circle cx="321.7" cy="155.7" r="1.3"/><circle cx="386.8" cy="138.9" r="1.1"/><circle cx="377.4" cy="115.8" r="0.9"/><circle cx="370.4" cy="152.8" r="0.7"/><circle cx="290.5" cy="120.7" r="0.9"/><circle cx="372" cy="51.1" r="1.3"/><circle cx="350.3" cy="141.7" r="1.2"/><circle cx="359.8" cy="35.9" r="0.9"/><circle cx="355.2" cy="151.2" r="1.3"/><circle cx="396.6" cy="43.9" r="0.7"/><circle cx="404.6" cy="41.7" r="0.9"/><circle cx="376.8" cy="69.2" r="1.3"/><circle cx="295.5" cy="74.1" r="1.1"/><circle cx="385.1" cy="102.6" r="1.3"/><circle cx="322.8" cy="119.9" r="1"/><circle cx="304.3" cy="44.4" r="0.7"/><circle cx="396.2" cy="30.3" r="1"/><circle cx="318.6" cy="61.5" r="0.8"/><circle cx="360.1" cy="98.6" r="1.3"/><circle cx="382.7" cy="38.7" r="0.9"/><circle cx="310.4" cy="109.6" r="1.3"/><circle cx="332.6" cy="99.4" r="1"/><circle cx="323.9" cy="109.3" r="0.7"/><circle cx="400.2" cy="41.4" r="0.8"/><circle cx="312.9" cy="110.9" r="1.4"/><circle cx="292.3" cy="57.2" r="0.9"/><circle cx="326.5" cy="84.9" r="0.9"/><circle cx="313.1" cy="71.9" r="1.3"/><circle cx="303.3" cy="102.4" r="1.3"/><circle cx="324.2" cy="57.3" r="0.6"/><circle cx="304.9" cy="43.3" r="1.4"/><circle cx="314.5" cy="104.6" r="0.8"/><circle cx="361.6" cy="142.8" r="1.4"/><circle cx="343" cy="78" r="0.9"/><circle cx="379.6" cy="86.3" r="1.4"/><circle cx="394.1" cy="102.7" r="1"/><circle cx="338" cy="49.6" r="0.7"/><circle cx="355.3" cy="132.5" r="0.8"/><circle cx="344.3" cy="36.1" r="0.9"/><circle cx="397.5" cy="31.4" r="1"/><circle cx="302.2" cy="28.3" r="1.2"/><circle cx="367.6" cy="31.5" r="0.6"/><circle cx="330.3" cy="117.7" r="1.4"/><circle cx="371.3" cy="133.5" r="0.8"/><circle cx="286.8" cy="146.4" r="1.4"/><circle cx="292" cy="52.8" r="0.8"/><circle cx="409" cy="73.1" r="1.1"/><circle cx="326.3" cy="29.1" r="1.3"/><circle cx="366" cy="35.5" r="0.8"/><circle cx="389" cy="26.7" r="0.8"/><circle cx="321.6" cy="41.7" r="1.1"/><circle cx="384.3" cy="142.2" r="0.8"/><circle cx="350.6" cy="56.2" r="1.4"/><circle cx="400.7" cy="62.1" r="1.1"/><circle cx="364.4" cy="48.4" r="1.1"/><circle cx="325" cy="34.9" r="1"/><circle cx="335" cy="104.3" r="1.2"/><circle cx="293.2" cy="108.5" r="0.8"/><circle cx="291.1" cy="47.9" r="1.2"/><circle cx="353.2" cy="38.8" r="1.3"/><circle cx="332.7" cy="27.9" r="1"/><circle cx="349.2" cy="59.8" r="1"/><circle cx="338.2" cy="27.4" r="1.3"/><circle cx="372.2" cy="70.4" r="1.3"/><circle cx="363.6" cy="64.1" r="0.9"/><circle cx="381.9" cy="116.3" r="1"/><circle cx="357.1" cy="115.8" r="1.1"/><circle cx="333.8" cy="42.9" r="0.9"/><circle cx="286.6" cy="150.9" r="1.3"/><circle cx="283.6" cy="74.2" r="1.1"/><circle cx="322.5" cy="113.4" r="0.9"/><circle cx="405.5" cy="142.5" r="0.8"/><circle cx="283.4" cy="40.2" r="0.7"/><circle cx="299.3" cy="79" r="0.9"/><circle cx="328.6" cy="129.7" r="1"/><circle cx="397.2" cy="117.3" r="0.7"/><circle cx="352.3" cy="90.7" r="0.6"/><circle cx="364.5" cy="90.6" r="0.8"/><circle cx="330.9" cy="155" r="1.3"/><circle cx="308.9" cy="51.8" r="0.9"/><circle cx="345.1" cy="60.1" r="0.8"/><circle cx="398.1" cy="83.3" r="0.9"/><circle cx="317.3" cy="107.4" r="0.9"/><circle cx="333.7" cy="150.4" r="0.8"/><circle cx="402.1" cy="132.9" r="0.7"/><circle cx="352.4" cy="30.6" r="1.3"/><circle cx="351.1" cy="43.1" r="0.7"/><circle cx="357.2" cy="129.8" r="1.4"/><circle cx="329.6" cy="47.5" r="1.3"/><circle cx="364" cy="86.2" r="0.6"/><circle cx="401.7" cy="31.3" r="0.7"/><circle cx="394" cy="154.7" r="1.4"/><circle cx="343.7" cy="83.9" r="1.4"/><circle cx="295.1" cy="43.8" r="0.8"/><circle cx="398.3" cy="41.8" r="1"/><circle cx="323.2" cy="82.7" r="1"/><circle cx="378" cy="143.1" r="1.2"/><circle cx="393" cy="120.9" r="1.3"/><circle cx="332.4" cy="51.3" r="0.8"/><circle cx="301.1" cy="136.9" r="0.7"/><circle cx="345.6" cy="102.6" r="0.9"/><circle cx="308.4" cy="148.1" r="0.9"/><circle cx="396.6" cy="136.6" r="0.9"/><circle cx="340.9" cy="144.1" r="1.2"/><circle cx="342.4" cy="98.6" r="0.6"/><circle cx="363" cy="94.1" r="0.7"/><circle cx="290.9" cy="48" r="0.7"/><circle cx="386" cy="57" r="0.9"/><circle cx="397.9" cy="93.3" r="0.6"/><circle cx="384.2" cy="122.9" r="1"/><circle cx="403.5" cy="118" r="0.7"/><circle cx="342.2" cy="131" r="1.1"/><circle cx="291.6" cy="35.5" r="0.7"/><circle cx="340.5" cy="83.7" r="1.1"/><circle cx="361.8" cy="131.9" r="0.6"/><circle cx="340.1" cy="32" r="0.8"/><circle cx="347.3" cy="111.5" r="1.3"/><circle cx="291.4" cy="65" r="0.9"/><circle cx="296.4" cy="113.4" r="0.9"/><circle cx="396.4" cy="58.2" r="1.2"/><circle cx="340.3" cy="120.5" r="1"/><circle cx="335.2" cy="119" r="1.3"/><circle cx="289.3" cy="33.7" r="0.8"/><circle cx="306.3" cy="110.7" r="1.2"/><circle cx="369.3" cy="130.5" r="0.8"/><circle cx="285.2" cy="154" r="0.7"/><circle cx="307.1" cy="111.8" r="1.1"/><circle cx="380.4" cy="98.3" r="1.3"/><circle cx="316.6" cy="99.2" r="1.1"/><circle cx="312.8" cy="132.6" r="1.3"/><circle cx="340.4" cy="89" r="0.6"/><circle cx="409" cy="123.5" r="0.9"/><circle cx="312.2" cy="59.6" r="0.7"/><circle cx="358.2" cy="133.8" r="1.2"/><circle cx="302.8" cy="76.6" r="1.2"/><circle cx="410.1" cy="101.1" r="0.9"/><circle cx="319.7" cy="134.8" r="1.2"/><circle cx="292.7" cy="125.7" r="0.8"/><circle cx="393.1" cy="39.5" r="0.9"/><circle cx="367.7" cy="99.9" r="0.9"/><circle cx="336.8" cy="48.3" r="0.8"/><circle cx="392.6" cy="43.2" r="1.3"/><circle cx="372.3" cy="149" r="0.6"/><circle cx="350.4" cy="89.1" r="1.3"/><circle cx="375.4" cy="144.6" r="1.2"/><circle cx="403.6" cy="65.7" r="1.1"/><circle cx="322.1" cy="48.4" r="0.9"/><circle cx="301.5" cy="65.2" r="1.2"/><circle cx="319.2" cy="118.6" r="1"/><circle cx="289" cy="76.8" r="1.2"/><circle cx="383.1" cy="26.3" r="1.2"/><circle cx="336.3" cy="120.7" r="0.6"/><circle cx="331.9" cy="30.9" r="0.6"/><circle cx="301.1" cy="110.9" r="1.1"/><circle cx="288.4" cy="39.6" r="1.1"/><circle cx="347.5" cy="120.2" r="0.9"/><circle cx="389.4" cy="88.7" r="0.8"/><circle cx="371.4" cy="83.2" r="1.3"/><circle cx="350.3" cy="104.3" r="1"/><circle cx="376.1" cy="93.2" r="1.1"/><circle cx="393.4" cy="132.1" r="1.2"/><circle cx="325.2" cy="91.4" r="1"/><circle cx="302" cy="93.7" r="0.6"/><circle cx="379.3" cy="152.6" r="0.7"/><circle cx="405.4" cy="95.6" r="1.2"/><circle cx="360.5" cy="135.4" r="0.6"/><circle cx="362.4" cy="87.1" r="0.8"/><circle cx="387.2" cy="35.9" r="0.7"/><circle cx="408.9" cy="68.8" r="0.7"/><circle cx="399.2" cy="141.6" r="0.9"/><circle cx="335.8" cy="146.5" r="0.8"/><circle cx="330.5" cy="125.9" r="0.8"/><circle cx="351.3" cy="45.2" r="1.2"/><circle cx="404.7" cy="138.5" r="1.3"/><circle cx="373.2" cy="119.6" r="1.1"/><circle cx="389.7" cy="68.8" r="1.3"/><circle cx="286.4" cy="41.9" r="1"/><circle cx="379.6" cy="55.6" r="0.9"/><circle cx="302.1" cy="138.3" r="0.7"/><circle cx="329" cy="134.5" r="0.6"/><circle cx="303" cy="141.5" r="1.1"/><circle cx="409.3" cy="123.6" r="1.1"/><circle cx="345.7" cy="112.9" r="1"/><circle cx="287.6" cy="50.7" r="1.2"/><circle cx="342.4" cy="50.1" r="1.1"/><circle cx="379.5" cy="54.4" r="1.3"/><circle cx="306.3" cy="57.8" r="0.7"/><circle cx="300.6" cy="77.2" r="1"/><circle cx="295.5" cy="119.4" r="1.3"/><circle cx="283.1" cy="83.2" r="0.9"/><circle cx="316.7" cy="127.5" r="1"/><circle cx="317.4" cy="115.2" r="0.7"/><circle cx="364.7" cy="151.2" r="1.2"/><circle cx="388" cy="34.1" r="0.7"/><circle cx="376.2" cy="50.9" r="0.7"/><circle cx="283.9" cy="59.4" r="1.2"/><circle cx="357.5" cy="124.4" r="0.7"/><circle cx="366.8" cy="105.9" r="1.1"/><circle cx="318.3" cy="73.6" r="0.8"/><circle cx="396.8" cy="138.1" r="1.2"/><circle cx="284.9" cy="27.3" r="1.2"/><circle cx="344.2" cy="74.1" r="1.2"/><circle cx="379.6" cy="140.5" r="1.4"/><circle cx="346.7" cy="77.7" r="1.4"/><circle cx="284.9" cy="113.9" r="1"/><circle cx="339.6" cy="82.6" r="0.6"/><circle cx="366.5" cy="28.1" r="0.7"/><circle cx="401.1" cy="28.6" r="1.3"/><circle cx="322.1" cy="60.8" r="0.9"/><circle cx="323.1" cy="131.4" r="0.8"/><circle cx="289.7" cy="149" r="1.4"/><circle cx="399.5" cy="51.6" r="1.3"/><circle cx="340.6" cy="145.6" r="0.7"/><circle cx="290.1" cy="100.3" r="1.1"/><circle cx="316.7" cy="91.3" r="0.6"/><circle cx="292.1" cy="153.6" r="0.9"/><circle cx="324.9" cy="96.5" r="0.9"/><circle cx="373.1" cy="149.8" r="0.8"/><circle cx="339.8" cy="88.9" r="0.9"/><circle cx="365.1" cy="85.9" r="0.9"/><circle cx="397.8" cy="130.3" r="0.9"/><circle cx="302" cy="87.3" r="1"/><circle cx="380.9" cy="84.1" r="0.8"/><circle cx="295" cy="119.8" r="1.4"/><circle cx="319.1" cy="95.1" r="1.3"/><circle cx="401.1" cy="30.1" r="0.8"/><circle cx="294" cy="111.8" r="0.8"/><circle cx="410.8" cy="120.2" r="0.9"/><circle cx="360" cy="144.1" r="0.9"/><circle cx="368.3" cy="100.3" r="1"/><circle cx="285.5" cy="109.8" r="1"/><circle cx="289.2" cy="146.2" r="1.2"/><circle cx="382.6" cy="27.9" r="0.8"/><circle cx="318.9" cy="121" r="1.2"/><circle cx="395.3" cy="73.4" r="1.2"/><circle cx="389.1" cy="126.4" r="0.9"/><circle cx="382.1" cy="41.7" r="1.1"/><circle cx="376.3" cy="71.4" r="0.7"/><circle cx="347.3" cy="34.6" r="1.2"/><circle cx="304.6" cy="124.2" r="1.2"/><circle cx="331" cy="77.3" r="1.1"/><circle cx="347.6" cy="79.3" r="1"/><circle cx="339.6" cy="126.1" r="1.3"/><circle cx="331.1" cy="142.3" r="1.1"/><circle cx="397.3" cy="52.4" r="0.7"/><circle cx="400" cy="137.6" r="1"/><circle cx="383.8" cy="91.6" r="0.7"/><circle cx="341.4" cy="103.6" r="0.9"/><circle cx="390.7" cy="60.9" r="0.6"/><circle cx="399.3" cy="152.1" r="1.2"/><circle cx="375.6" cy="111.7" r="0.8"/><circle cx="399.8" cy="102.6" r="0.8"/><circle cx="297.6" cy="103.5" r="0.6"/><circle cx="326.3" cy="59.8" r="1.1"/><circle cx="411.4" cy="154.7" r="1"/><circle cx="324.8" cy="122.1" r="0.9"/><circle cx="402.8" cy="96.5" r="0.8"/><circle cx="350.2" cy="143.6" r="1.1"/><circle cx="381.7" cy="105.6" r="1.1"/><circle cx="402.5" cy="125.2" r="0.8"/><circle cx="403.6" cy="101.7" r="1"/><circle cx="380.2" cy="30.9" r="0.9"/><circle cx="408.4" cy="71.5" r="1.2"/><circle cx="375" cy="141.1" r="1.3"/><circle cx="306.3" cy="90.1" r="1.4"/><circle cx="329.2" cy="153.8" r="1.2"/><circle cx="350.9" cy="144.8" r="1.2"/><circle cx="283.4" cy="152" r="1.2"/><circle cx="391.5" cy="154.4" r="0.8"/><circle cx="368.4" cy="111.2" r="1.2"/><circle cx="384.1" cy="28.5" r="1.4"/><circle cx="361.4" cy="123.7" r="1.1"/><circle cx="328.9" cy="129.9" r="0.8"/><circle cx="306.2" cy="152.6" r="1.3"/><circle cx="367.6" cy="47.3" r="1"/><circle cx="394.5" cy="47.2" r="1.4"/><circle cx="343.2" cy="108.2" r="1"/><circle cx="388.8" cy="89" r="0.9"/><circle cx="285.3" cy="50" r="1"/><circle cx="336.3" cy="102.9" r="1.3"/><circle cx="411.5" cy="123.3" r="1.4"/><circle cx="312.5" cy="154" r="1.2"/><circle cx="363.8" cy="68" r="1.2"/><circle cx="406.2" cy="121.6" r="1.4"/><circle cx="325.9" cy="111.5" r="1.4"/><circle cx="392" cy="77.2" r="0.9"/><circle cx="305.5" cy="103.3" r="1.2"/><circle cx="367" cy="43.6" r="1"/><circle cx="386.1" cy="151.4" r="1.4"/><circle cx="341.5" cy="92" r="1.4"/><circle cx="382.8" cy="46.7" r="0.7"/><circle cx="285.7" cy="111.8" r="0.7"/><circle cx="381.2" cy="81.3" r="1.3"/><circle cx="288.1" cy="129.9" r="0.8"/><circle cx="355.3" cy="91.8" r="0.7"/><circle cx="316.9" cy="102.3" r="0.7"/><circle cx="356.8" cy="51" r="1.2"/><circle cx="364.2" cy="102.6" r="0.6"/><circle cx="290.9" cy="105.7" r="1.1"/><circle cx="283.3" cy="61.9" r="0.7"/><circle cx="370" cy="95.1" r="0.9"/><circle cx="362.8" cy="34.6" r="0.8"/><circle cx="307.6" cy="136.1" r="0.8"/><circle cx="373.8" cy="120" r="0.8"/><circle cx="302" cy="47" r="1"/><circle cx="345" cy="36.9" r="0.8"/><circle cx="401.7" cy="78.7" r="0.8"/><circle cx="312.8" cy="27.6" r="1.1"/><circle cx="335.8" cy="70.4" r="0.9"/><circle cx="384.5" cy="46.2" r="1.1"/><circle cx="307.4" cy="99.6" r="1.2"/><circle cx="384.9" cy="100.3" r="0.8"/><circle cx="291.5" cy="78" r="0.6"/><circle cx="398.6" cy="154.5" r="1.3"/><circle cx="385.9" cy="121.4" r="1.2"/><circle cx="407.2" cy="79.1" r="0.7"/><circle cx="360.9" cy="136" r="0.8"/><circle cx="368.3" cy="75.4" r="0.8"/><circle cx="375" cy="145.3" r="0.9"/><circle cx="298.6" cy="40.4" r="0.8"/><circle cx="366.6" cy="82" r="0.8"/><circle cx="306.8" cy="150.9" r="0.6"/><circle cx="325.8" cy="62.2" r="1.4"/><circle cx="358.2" cy="144.1" r="0.7"/><circle cx="324.6" cy="141.1" r="1.3"/><circle cx="404.9" cy="77" r="0.7"/><circle cx="409.3" cy="154" r="1.2"/><circle cx="364.8" cy="81.8" r="0.6"/><circle cx="361.2" cy="140.5" r="0.9"/><circle cx="333.2" cy="116.7" r="1.1"/><circle cx="303.3" cy="91.3" r="1"/><circle cx="358" cy="71.4" r="1.4"/><circle cx="325.1" cy="27" r="0.7"/><circle cx="410.8" cy="139.2" r="0.9"/><circle cx="294.2" cy="62.5" r="1.3"/><circle cx="347.1" cy="77" r="1.3"/><circle cx="369.1" cy="149.1" r="1.3"/><circle cx="304" cy="100.1" r="1"/><circle cx="311.6" cy="51.2" r="1.4"/><circle cx="347.4" cy="142.4" r="1.1"/><circle cx="389.9" cy="125.7" r="1"/><circle cx="291" cy="63.7" r="0.7"/><circle cx="364.4" cy="67.7" r="0.9"/><circle cx="411" cy="57" r="0.7"/><circle cx="354" cy="47.4" r="1.1"/><circle cx="379" cy="130" r="1.3"/><circle cx="338.1" cy="100.6" r="0.9"/><circle cx="362.8" cy="42.3" r="0.6"/><circle cx="333.1" cy="149.2" r="1.2"/><circle cx="283" cy="41.5" r="0.9"/><circle cx="297" cy="76.7" r="0.9"/><circle cx="331.5" cy="139.7" r="1.2"/><circle cx="355.5" cy="61.1" r="1.3"/><circle cx="323" cy="42.6" r="1.2"/><circle cx="298.6" cy="128.1" r="1.1"/><circle cx="307.6" cy="32.9" r="1"/><circle cx="370.4" cy="102.8" r="0.9"/><circle cx="375.4" cy="35.6" r="1.2"/><circle cx="368" cy="131.5" r="0.6"/><circle cx="293.6" cy="151.9" r="1.2"/><circle cx="325.3" cy="86.1" r="1"/><circle cx="393.2" cy="128.8" r="1"/><circle cx="314.8" cy="77.4" r="0.9"/><circle cx="382.7" cy="56.2" r="0.9"/><circle cx="338.9" cy="29.7" r="0.7"/><circle cx="319.3" cy="57.5" r="0.8"/><circle cx="346.4" cy="145.2" r="0.9"/><circle cx="378.4" cy="29.9" r="0.7"/><circle cx="410.7" cy="132.6" r="1"/><circle cx="372.4" cy="66.7" r="1.1"/><circle cx="371.9" cy="135" r="1.4"/><circle cx="373.4" cy="129.5" r="1.2"/><circle cx="320" cy="114.5" r="1.1"/><circle cx="308.3" cy="117.6" r="0.6"/><circle cx="374.3" cy="100.5" r="0.9"/><circle cx="289.6" cy="27.7" r="0.9"/><circle cx="313.2" cy="35.8" r="0.6"/><circle cx="370.4" cy="114.1" r="1.4"/><circle cx="383.2" cy="55.6" r="1.1"/><circle cx="363.7" cy="128" r="0.7"/><circle cx="291.4" cy="127.6" r="0.8"/><circle cx="341.5" cy="130.6" r="1.2"/><circle cx="385.2" cy="113.1" r="1.2"/><circle cx="319.1" cy="37.3" r="1.1"/><circle cx="398.6" cy="144.8" r="1.4"/><circle cx="373.3" cy="149" r="0.8"/><circle cx="352.6" cy="38.2" r="0.9"/><circle cx="354.6" cy="73" r="1.4"/><circle cx="327.2" cy="26.2" r="0.8"/><circle cx="385" cy="90" r="1.1"/><circle cx="302.6" cy="32.8" r="1"/><circle cx="404.6" cy="51.2" r="1.1"/><circle cx="294.6" cy="29.3" r="1.1"/><circle cx="383.1" cy="81.7" r="1.3"/><circle cx="302.5" cy="45.1" r="0.9"/><circle cx="408.5" cy="111.3" r="1"/><circle cx="405.3" cy="152.6" r="0.8"/><circle cx="347.4" cy="57.1" r="1.2"/><circle cx="411.7" cy="41.7" r="1.3"/><circle cx="395.7" cy="75.4" r="1.1"/><circle cx="354.1" cy="100" r="1.4"/><circle cx="316.7" cy="77.3" r="1.2"/><circle cx="355.4" cy="51.9" r="0.8"/><circle cx="366.5" cy="94.8" r="0.9"/><circle cx="325.7" cy="98.3" r="0.9"/><circle cx="343.2" cy="115.5" r="0.6"/><circle cx="396.2" cy="36.2" r="0.9"/><circle cx="371" cy="71.1" r="1.3"/><circle cx="363.3" cy="103" r="1.3"/><circle cx="386.7" cy="139.4" r="1.4"/><circle cx="295.5" cy="88.1" r="1.3"/><circle cx="386.4" cy="85.1" r="0.7"/><circle cx="353.1" cy="84.4" r="1.2"/><circle cx="303.3" cy="62.4" r="1.1"/><circle cx="360.8" cy="118.7" r="0.8"/><circle cx="288.8" cy="121.7" r="0.6"/><circle cx="332.9" cy="155.5" r="0.9"/><circle cx="374.5" cy="137.3" r="0.8"/><circle cx="365.3" cy="76.6" r="0.7"/><circle cx="305.8" cy="37" r="1.2"/><circle cx="399.6" cy="74.2" r="0.9"/><circle cx="345" cy="58.1" r="1.1"/><circle cx="317.6" cy="68.6" r="0.7"/><circle cx="408.6" cy="104.6" r="0.7"/><circle cx="344.7" cy="114.3" r="0.9"/><circle cx="368.4" cy="111.4" r="0.9"/><circle cx="311.9" cy="102.5" r="1"/><circle cx="401.3" cy="56.9" r="1.3"/><circle cx="316.2" cy="33.6" r="1.3"/><circle cx="307.6" cy="32.5" r="1.2"/><circle cx="302" cy="95.4" r="1.3"/><circle cx="359.3" cy="82.9" r="0.8"/><circle cx="345.7" cy="89.3" r="1.1"/><circle cx="392.9" cy="51.6" r="1.1"/><circle cx="373.3" cy="74.4" r="0.7"/><circle cx="354.5" cy="40.1" r="1.4"/><circle cx="324.7" cy="99.2" r="1.4"/><circle cx="304.6" cy="26.6" r="0.8"/><circle cx="410.6" cy="30.5" r="1.2"/><circle cx="329.7" cy="117.9" r="1"/><circle cx="296.9" cy="126.1" r="0.9"/><circle cx="398.4" cy="29" r="0.8"/><circle cx="379.8" cy="103" r="1"/><circle cx="410.1" cy="148.8" r="0.8"/><circle cx="298.9" cy="107.9" r="0.8"/><circle cx="347.5" cy="98.3" r="1.1"/><circle cx="300.8" cy="44.2" r="1.3"/><circle cx="304.1" cy="86.7" r="0.6"/><circle cx="349.9" cy="92.4" r="1"/><circle cx="375.1" cy="44" r="0.7"/><circle cx="384.4" cy="121.4" r="0.9"/><circle cx="324.3" cy="101.1" r="0.9"/><circle cx="386.2" cy="35.8" r="0.9"/><circle cx="393.1" cy="63.7" r="1.2"/><circle cx="395.4" cy="35.3" r="1.3"/><circle cx="368.5" cy="83" r="1.2"/><circle cx="322.1" cy="126.3" r="1.4"/><circle cx="408.7" cy="27.1" r="0.7"/><circle cx="399.3" cy="121.4" r="1"/><circle cx="289.6" cy="103.2" r="0.6"/><circle cx="303.6" cy="135.3" r="1.4"/><circle cx="386.2" cy="105.2" r="0.8"/><circle cx="314.9" cy="76.9" r="0.6"/><circle cx="284.4" cy="132.8" r="1.2"/><circle cx="377.9" cy="121.3" r="1"/><circle cx="362.1" cy="129.3" r="0.9"/><circle cx="300.3" cy="42.3" r="0.7"/><circle cx="411.2" cy="150.1" r="0.9"/><circle cx="309.9" cy="60.6" r="1.3"/><circle cx="379.8" cy="102.4" r="1"/><circle cx="399.5" cy="38.2" r="1.2"/><circle cx="299.9" cy="135.2" r="1.3"/><circle cx="409.2" cy="80.7" r="0.8"/><circle cx="400" cy="155.5" r="0.6"/><circle cx="317.4" cy="100.7" r="0.8"/><circle cx="380.8" cy="99.1" r="1.2"/><circle cx="349.2" cy="31.1" r="1.1"/><circle cx="355.1" cy="135.8" r="1.2"/><circle cx="333.9" cy="147.9" r="1.1"/><circle cx="315.3" cy="36.3" r="1.1"/><circle cx="298.4" cy="41.2" r="1.3"/><circle cx="352.5" cy="88.4" r="1.3"/><circle cx="296" cy="72.7" r="0.6"/><circle cx="402.6" cy="148.3" r="1.2"/><circle cx="310.3" cy="134.3" r="0.9"/><circle cx="288" cy="144.9" r="0.6"/><circle cx="361.3" cy="101.7" r="1.4"/><circle cx="378.4" cy="30.8" r="1.3"/><circle cx="379.7" cy="146.6" r="0.8"/><circle cx="326.5" cy="65.9" r="1.2"/><circle cx="286.7" cy="100.2" r="1.1"/><circle cx="335.7" cy="139.3" r="0.8"/><circle cx="316.5" cy="43.9" r="1.1"/><circle cx="367.4" cy="90.3" r="1.3"/><circle cx="382.1" cy="136.6" r="1.1"/><circle cx="367.2" cy="31" r="0.7"/><circle cx="355.5" cy="27.5" r="0.9"/><circle cx="357.9" cy="43.9" r="0.9"/><circle cx="358.5" cy="37.7" r="1.3"/><circle cx="408.3" cy="52.4" r="1"/><circle cx="295.2" cy="45" r="1.4"/><circle cx="299.1" cy="80" r="1.1"/><circle cx="311.9" cy="116.3" r="1.2"/><circle cx="332.3" cy="71.4" r="0.8"/><circle cx="341.8" cy="138.3" r="0.8"/><circle cx="401.5" cy="109.8" r="0.9"/><circle cx="391.2" cy="120.9" r="1.1"/><circle cx="300.3" cy="67.6" r="1.3"/><circle cx="315.9" cy="69.2" r="0.9"/><circle cx="409.5" cy="144.8" r="0.7"/><circle cx="369.2" cy="33.3" r="0.9"/><circle cx="310.9" cy="49.9" r="1"/><circle cx="337.1" cy="72" r="1.2"/><circle cx="300.5" cy="66.7" r="0.9"/><circle cx="318.6" cy="72.7" r="0.8"/><circle cx="381.1" cy="119.9" r="0.9"/><circle cx="399.5" cy="36.8" r="1.2"/><circle cx="391.2" cy="98.8" r="0.8"/><circle cx="348.2" cy="38.9" r="1.2"/><circle cx="389.3" cy="88.3" r="1.1"/><circle cx="389.1" cy="145" r="1.4"/><circle cx="384.3" cy="76.9" r="1"/><circle cx="368.8" cy="63" r="0.6"/><circle cx="297.4" cy="47.6" r="0.9"/><circle cx="402.1" cy="141.6" r="1.3"/><circle cx="320.8" cy="108.4" r="0.7"/><circle cx="408.1" cy="87" r="1.3"/><circle cx="324.3" cy="144" r="1.2"/><circle cx="338.3" cy="82.8" r="1"/><circle cx="406.8" cy="116.4" r="0.8"/><circle cx="326" cy="79.8" r="1.4"/><circle cx="353.9" cy="89.8" r="1"/><circle cx="340.6" cy="132.4" r="1.1"/><circle cx="307.4" cy="135.6" r="1.2"/><circle cx="346.1" cy="85.1" r="0.9"/><circle cx="381.4" cy="112.9" r="0.8"/><circle cx="346.8" cy="115.1" r="0.8"/><circle cx="364.7" cy="61.6" r="0.7"/><circle cx="402.2" cy="139" r="0.7"/><circle cx="402.9" cy="54.3" r="0.6"/><circle cx="409.2" cy="71.6" r="1.3"/><circle cx="388.5" cy="66.9" r="1.3"/><circle cx="290.9" cy="28.4" r="0.7"/><circle cx="359.2" cy="60.1" r="1.2"/><circle cx="358.1" cy="144.1" r="1.3"/><circle cx="391.1" cy="129.5" r="1.1"/><circle cx="400.6" cy="31.1" r="0.6"/><circle cx="366.3" cy="90.8" r="1.2"/><circle cx="323.1" cy="33.1" r="1.2"/><circle cx="373.9" cy="35.9" r="0.6"/><circle cx="307.2" cy="65" r="1"/><circle cx="320.6" cy="154.7" r="1"/><circle cx="369.3" cy="79.8" r="0.8"/><circle cx="355" cy="56.1" r="0.8"/><circle cx="307.1" cy="75.1" r="0.8"/><circle cx="337.3" cy="78.9" r="0.8"/><circle cx="300.3" cy="52.4" r="1"/><circle cx="327.8" cy="131.1" r="0.9"/><circle cx="350.2" cy="78.5" r="0.9"/><circle cx="376" cy="116.7" r="0.8"/><circle cx="287.5" cy="97.2" r="1.2"/><circle cx="372.2" cy="125.2" r="1.1"/><circle cx="294.2" cy="123.3" r="1.2"/><circle cx="377.4" cy="96.8" r="0.8"/><circle cx="304.3" cy="53.9" r="0.6"/><circle cx="378.2" cy="95.9" r="0.6"/><circle cx="355.4" cy="95.2" r="0.7"/><circle cx="384.2" cy="105.9" r="0.7"/><circle cx="377.5" cy="88.5" r="1.2"/><circle cx="319.4" cy="127.1" r="0.9"/><circle cx="402.3" cy="102.4" r="1.3"/><circle cx="408.5" cy="65.3" r="1.1"/><circle cx="390.3" cy="144" r="1"/><circle cx="316.3" cy="124.5" r="0.7"/><circle cx="303.5" cy="103.2" r="1"/><circle cx="392.6" cy="72.4" r="1.4"/><circle cx="317.4" cy="109.2" r="1.1"/><circle cx="299.4" cy="29.7" r="1"/><circle cx="285.3" cy="49.6" r="1"/><circle cx="358.3" cy="92.1" r="0.9"/><circle cx="411.1" cy="87.7" r="0.8"/><circle cx="400.9" cy="66.7" r="0.7"/><circle cx="362.2" cy="123.1" r="1.3"/><circle cx="302.1" cy="109.9" r="0.9"/><circle cx="335.5" cy="113.4" r="1"/></g>
<g fill="#1a9a1a" opacity="0.9"><circle cx="351.9" cy="114.9" r="0.7"/><circle cx="376.9" cy="134.9" r="0.5"/><circle cx="325.6" cy="49.6" r="0.8"/><circle cx="380.9" cy="64.6" r="0.8"/><circle cx="295.3" cy="142.7" r="0.4"/><circle cx="347.5" cy="121.8" r="0.8"/><circle cx="311.6" cy="125.7" r="0.5"/><circle cx="340.8" cy="123" r="0.5"/><circle cx="347.3" cy="114.2" r="0.5"/><circle cx="360.1" cy="88.8" r="0.7"/><circle cx="330.2" cy="138.4" r="0.7"/><circle cx="375.1" cy="60.8" r="0.7"/><circle cx="408.2" cy="88.8" r="0.5"/><circle cx="388.8" cy="55.6" r="0.6"/><circle cx="343.2" cy="109" r="0.8"/><circle cx="338.9" cy="43.8" r="0.8"/><circle cx="395.2" cy="129.1" r="0.6"/><circle cx="398.8" cy="41.2" r="0.7"/><circle cx="314.8" cy="67.5" r="0.6"/><circle cx="286.6" cy="153.3" r="0.5"/><circle cx="361" cy="72.7" r="0.6"/><circle cx="333.8" cy="148.6" r="0.8"/><circle cx="362.8" cy="80.5" r="0.8"/><circle cx="381.6" cy="148.1" r="0.6"/><circle cx="331.6" cy="77.1" r="0.8"/><circle cx="390.1" cy="53" r="0.8"/><circle cx="288.7" cy="84.3" r="0.5"/><circle cx="311.7" cy="43.6" r="0.5"/><circle cx="373.1" cy="80.9" r="0.6"/><circle cx="403.7" cy="72.9" r="0.5"/><circle cx="291" cy="124.6" r="0.4"/><circle cx="382.3" cy="93.6" r="0.5"/><circle cx="331.9" cy="68.7" r="0.7"/><circle cx="288.8" cy="48.6" r="0.4"/><circle cx="295.1" cy="57.5" r="0.6"/><circle cx="381.7" cy="97" r="0.8"/><circle cx="287.3" cy="59.5" r="0.8"/><circle cx="368" cy="92.4" r="0.5"/><circle cx="383.9" cy="68" r="0.6"/><circle cx="405.7" cy="80.8" r="0.7"/><circle cx="407.7" cy="32.7" r="0.4"/><circle cx="289.6" cy="125.8" r="0.4"/><circle cx="290.9" cy="27" r="0.4"/><circle cx="387.1" cy="76.8" r="0.7"/><circle cx="405.8" cy="59.7" r="0.6"/><circle cx="346" cy="127" r="0.7"/><circle cx="393.5" cy="62.3" r="0.5"/><circle cx="362.2" cy="74.6" r="0.7"/><circle cx="305.5" cy="106.8" r="0.5"/><circle cx="387.4" cy="51.8" r="0.4"/><circle cx="299.2" cy="145.9" r="0.8"/><circle cx="323" cy="35.4" r="0.8"/><circle cx="319.1" cy="59.6" r="0.5"/><circle cx="391" cy="45.3" r="0.5"/><circle cx="298.8" cy="46.9" r="0.5"/><circle cx="391.7" cy="81.3" r="0.6"/><circle cx="385.9" cy="58.6" r="0.5"/><circle cx="344.7" cy="51.5" r="0.8"/><circle cx="357.1" cy="81.2" r="0.8"/><circle cx="380.4" cy="150.2" r="0.7"/><circle cx="284.8" cy="66.4" r="0.5"/><circle cx="374.1" cy="124.9" r="0.6"/><circle cx="399.8" cy="53.9" r="0.7"/><circle cx="304.7" cy="102.7" r="0.6"/><circle cx="324.4" cy="53.8" r="0.8"/><circle cx="360.4" cy="26.8" r="0.5"/><circle cx="338.2" cy="84.8" r="0.8"/><circle cx="283.5" cy="145.5" r="0.8"/><circle cx="368.1" cy="111.7" r="0.5"/><circle cx="346.5" cy="43" r="0.4"/><circle cx="362.4" cy="102.2" r="0.6"/><circle cx="346.4" cy="103" r="0.7"/><circle cx="308.9" cy="64" r="0.6"/><circle cx="367" cy="136.3" r="0.6"/><circle cx="382.5" cy="150.3" r="0.8"/><circle cx="405.9" cy="68.3" r="0.6"/><circle cx="323.3" cy="154.4" r="0.6"/><circle cx="355.1" cy="74.1" r="0.5"/><circle cx="382.4" cy="107.4" r="0.8"/><circle cx="361.6" cy="91" r="0.7"/><circle cx="301.2" cy="75.1" r="0.7"/><circle cx="293.9" cy="32.9" r="0.5"/><circle cx="299.3" cy="85" r="0.6"/><circle cx="338" cy="136.3" r="0.5"/><circle cx="340.2" cy="134.3" r="0.8"/><circle cx="402.8" cy="62.3" r="0.5"/><circle cx="350.5" cy="68.2" r="0.5"/><circle cx="319.3" cy="142.4" r="0.5"/><circle cx="342.8" cy="46.5" r="0.8"/><circle cx="336.7" cy="139.8" r="0.6"/><circle cx="337.8" cy="126.7" r="0.6"/><circle cx="407.2" cy="87.2" r="0.5"/><circle cx="305.1" cy="51.2" r="0.7"/><circle cx="300.3" cy="142.8" r="0.5"/><circle cx="374.3" cy="154.9" r="0.4"/><circle cx="294.8" cy="116.5" r="0.5"/><circle cx="388.3" cy="80.2" r="0.7"/><circle cx="311.8" cy="46.2" r="0.8"/><circle cx="402.9" cy="108.6" r="0.6"/><circle cx="329.2" cy="95.2" r="0.8"/><circle cx="354.7" cy="64" r="0.8"/><circle cx="359.2" cy="73.6" r="0.8"/><circle cx="313.3" cy="147.5" r="0.5"/><circle cx="387.1" cy="145" r="0.8"/><circle cx="389" cy="34.8" r="0.7"/><circle cx="305.8" cy="137.4" r="0.4"/><circle cx="370" cy="152.8" r="0.5"/><circle cx="370.7" cy="70.2" r="0.8"/><circle cx="349.5" cy="54.6" r="0.8"/><circle cx="385.7" cy="71.6" r="0.5"/><circle cx="367.2" cy="136.6" r="0.8"/><circle cx="377.2" cy="56" r="0.6"/><circle cx="333" cy="77.5" r="0.7"/><circle cx="324.4" cy="75.9" r="0.6"/><circle cx="369.7" cy="81.8" r="0.5"/><circle cx="354.5" cy="38.6" r="0.8"/><circle cx="303.6" cy="33.2" r="0.4"/><circle cx="369.5" cy="153.9" r="0.5"/><circle cx="411.8" cy="59" r="0.4"/><circle cx="349.1" cy="127.6" r="0.6"/><circle cx="368.2" cy="49.5" r="0.6"/><circle cx="302.9" cy="44.6" r="0.5"/><circle cx="344.9" cy="139.1" r="0.5"/><circle cx="284" cy="146.7" r="0.8"/><circle cx="408" cy="63.5" r="0.8"/><circle cx="367.2" cy="132.9" r="0.7"/><circle cx="292.4" cy="46.7" r="0.5"/><circle cx="384.6" cy="42" r="0.6"/><circle cx="304.3" cy="152.8" r="0.6"/><circle cx="394.1" cy="113.2" r="0.8"/><circle cx="334.5" cy="54.9" r="0.7"/><circle cx="404.8" cy="49.9" r="0.7"/><circle cx="379.7" cy="97.7" r="0.8"/><circle cx="307.8" cy="118.1" r="0.6"/><circle cx="371.6" cy="95.8" r="0.6"/><circle cx="342.8" cy="111.9" r="0.4"/><circle cx="300.6" cy="97.8" r="0.4"/><circle cx="396.9" cy="74.4" r="0.6"/><circle cx="389.8" cy="110.9" r="0.6"/><circle cx="358" cy="59.6" r="0.6"/><circle cx="378.6" cy="71.8" r="0.4"/><circle cx="314" cy="102.2" r="0.8"/><circle cx="329.1" cy="67.5" r="0.6"/><circle cx="376.2" cy="55.4" r="0.8"/><circle cx="335.1" cy="119.4" r="0.8"/><circle cx="366.9" cy="82.2" r="0.7"/><circle cx="405.8" cy="52.5" r="0.4"/><circle cx="344.8" cy="47.6" r="0.7"/><circle cx="390.9" cy="100" r="0.8"/><circle cx="363.8" cy="70.5" r="0.8"/><circle cx="353.5" cy="106.4" r="0.8"/><circle cx="297.3" cy="91.5" r="0.6"/><circle cx="287.7" cy="103.3" r="0.8"/><circle cx="322.9" cy="56.8" r="0.6"/><circle cx="335.4" cy="40.3" r="0.5"/><circle cx="376.3" cy="112.9" r="0.6"/><circle cx="341.1" cy="48.8" r="0.8"/><circle cx="385.7" cy="129.2" r="0.4"/><circle cx="384.9" cy="72.5" r="0.4"/><circle cx="302.3" cy="121.1" r="0.5"/><circle cx="350.6" cy="117.2" r="0.7"/><circle cx="308.3" cy="123" r="0.6"/><circle cx="352.3" cy="52.3" r="0.4"/><circle cx="335.1" cy="47.1" r="0.8"/><circle cx="406.1" cy="79.5" r="0.4"/><circle cx="390.2" cy="153.2" r="0.6"/><circle cx="374.2" cy="102.4" r="0.7"/><circle cx="350.7" cy="134.9" r="0.6"/><circle cx="410.4" cy="57.1" r="0.6"/><circle cx="381.1" cy="150.2" r="0.8"/><circle cx="365" cy="146.4" r="0.4"/><circle cx="374.2" cy="132.8" r="0.8"/><circle cx="334.4" cy="64.8" r="0.5"/><circle cx="341.5" cy="32.3" r="0.7"/><circle cx="289.2" cy="56.2" r="0.8"/><circle cx="342.4" cy="154.2" r="0.6"/><circle cx="402.6" cy="48.3" r="0.4"/><circle cx="404" cy="63.5" r="0.5"/><circle cx="356" cy="131.7" r="0.6"/><circle cx="331" cy="80.2" r="0.5"/><circle cx="339.9" cy="140.3" r="0.8"/><circle cx="287.6" cy="150.3" r="0.8"/><circle cx="404.2" cy="96.6" r="0.6"/><circle cx="398.2" cy="35.6" r="0.6"/><circle cx="391.4" cy="30.1" r="0.4"/><circle cx="313.8" cy="126.8" r="0.5"/><circle cx="335.3" cy="43.8" r="0.4"/><circle cx="374.5" cy="99.2" r="0.6"/><circle cx="301.2" cy="89.3" r="0.7"/><circle cx="333.9" cy="86.1" r="0.7"/><circle cx="322.1" cy="128.7" r="0.5"/><circle cx="405.8" cy="33.3" r="0.4"/><circle cx="382.7" cy="112.1" r="0.8"/><circle cx="367" cy="153.3" r="0.5"/><circle cx="314.2" cy="118.3" r="0.7"/><circle cx="289.4" cy="50.4" r="0.8"/><circle cx="367" cy="45.5" r="0.5"/><circle cx="376.3" cy="97.8" r="0.5"/><circle cx="321.9" cy="129.3" r="0.7"/><circle cx="394.7" cy="102.5" r="0.6"/><circle cx="406.5" cy="62.9" r="0.4"/><circle cx="356" cy="35.3" r="0.5"/><circle cx="400.7" cy="47.7" r="0.8"/><circle cx="312.3" cy="103.4" r="0.4"/><circle cx="291" cy="40.5" r="0.7"/><circle cx="311.4" cy="85.2" r="0.7"/><circle cx="325.9" cy="156" r="0.8"/><circle cx="338.2" cy="95.6" r="0.6"/><circle cx="407.7" cy="67" r="0.7"/><circle cx="358.5" cy="80.5" r="0.5"/><circle cx="374" cy="119.6" r="0.7"/><circle cx="356.1" cy="30.7" r="0.5"/><circle cx="379.1" cy="66.9" r="0.5"/><circle cx="367.2" cy="80" r="0.5"/><circle cx="359.3" cy="110.7" r="0.8"/><circle cx="312" cy="48.9" r="0.7"/><circle cx="299.8" cy="146.2" r="0.8"/><circle cx="405.8" cy="110.7" r="0.5"/><circle cx="316" cy="43.1" r="0.7"/><circle cx="373.1" cy="114.2" r="0.6"/></g>
<path d="M273 -73.1C275.3 -72.1 282.3 -68.8 287 -66.8C291.7 -64.8 296.3 -63.1 301 -61.1C305.7 -59.1 310.3 -57 315 -54.9C319.7 -52.8 324.3 -50.6 329 -48.4C333.7 -46.1 338.3 -43.7 343 -41.3C347.7 -38.8 352.3 -36 357 -33.7C361.7 -31.4 366.3 -29.7 371 -27.6C375.7 -25.5 380.3 -23.2 385 -21.2C389.7 -19.2 394.3 -17.6 399 -15.5C403.7 -13.4 408.3 -10.8 413 -8.6C417.7 -6.3 424.7 -2.9 427 -1.8" stroke="#38d820" stroke-width="2.2" stroke-linecap="round" stroke-dasharray="0.9 3.1 0.8 1.5 1.4 2.8 0.6 1.3 0.6 1.7 1 2.5 2 2 1.5 2.7 0.8 2.5" stroke-dashoffset="8.8" opacity="1"/>
<path d="M273 -73.9C275.3 -72.8 282.3 -69.6 287 -67.6C291.7 -65.5 296.3 -63.8 301 -61.8C305.7 -59.8 310.3 -57.7 315 -55.6C319.7 -53.5 324.3 -51.4 329 -49.1C333.7 -46.9 338.3 -44.5 343 -42.1C347.7 -39.6 352.3 -36.8 357 -34.5C361.7 -32.2 366.3 -30.4 371 -28.3C375.7 -26.2 380.3 -23.9 385 -21.9C389.7 -19.9 394.3 -18.3 399 -16.2C403.7 -14.1 408.3 -11.6 413 -9.3C417.7 -7 424.7 -3.7 427 -2.6" stroke="#40e020" stroke-width="1.2" stroke-linecap="round" stroke-dasharray="3 1.8 2.6 1.7 2.5 1.8 2.4 1.2 1 2.3 1 1.6 2.2 1.6 1.3 2.6" stroke-dashoffset="1.1" opacity="0.9"/>
<path d="M273 -71.1C275.3 -70.1 282.3 -67 287 -65C291.7 -63 296.3 -61.3 301 -59.3C305.7 -57.3 310.3 -55.1 315 -53C319.7 -50.8 324.3 -48.6 329 -46.3C333.7 -44 338.3 -41.7 343 -39.2C347.7 -36.8 352.3 -33.9 357 -31.7C361.7 -29.4 366.3 -27.8 371 -25.7C375.7 -23.7 380.3 -21.4 385 -19.4C389.7 -17.4 394.3 -15.8 399 -13.7C403.7 -11.5 408.3 -8.9 413 -6.6C417.7 -4.3 424.7 -0.9 427 0.3" stroke="#40e020" stroke-width="1.2" stroke-linecap="round" stroke-dasharray="0.6 2.7 2.8 2.4 2.1 2.8 1.8 1.2 1.4 1.9 2.6 2.2 0.7 2.3 2.6 1.2" stroke-dashoffset="8.3" opacity="0.9"/>
<path d="M273 -63.5C275.3 -62.6 282.3 -60 287 -57.9C291.7 -55.8 296.3 -53 301 -50.8C305.7 -48.7 310.3 -47.2 315 -45C319.7 -42.7 324.3 -39.7 329 -37.3C333.7 -35 338.3 -33 343 -30.9C347.7 -28.7 352.3 -26.5 357 -24.4C361.7 -22.2 366.3 -20.1 371 -18C375.7 -15.9 380.3 -14.1 385 -12C389.7 -9.9 394.3 -7.9 399 -5.5C403.7 -3.1 408.3 -0.1 413 2.4C417.7 4.8 424.7 7.9 427 9.1" stroke="#38d820" stroke-width="2.2" stroke-linecap="round" stroke-dasharray="0.9 2.2 0.6 2.1 1.3 1.9 0.6 1.4 1.2 2.4 0.9 1.2 1.2 3.4 1.4 2.3 1.2 2" stroke-dashoffset="5.3" opacity="1"/>
<path d="M273 -64.2C275.3 -63.3 282.3 -60.7 287 -58.6C291.7 -56.5 296.3 -53.7 301 -51.5C305.7 -49.4 310.3 -48 315 -45.8C319.7 -43.5 324.3 -40.5 329 -38.1C333.7 -35.8 338.3 -33.8 343 -31.6C347.7 -29.5 352.3 -27.3 357 -25.1C361.7 -23 366.3 -20.8 371 -18.7C375.7 -16.6 380.3 -14.8 385 -12.7C389.7 -10.7 394.3 -8.7 399 -6.3C403.7 -3.9 408.3 -0.9 413 1.6C417.7 4 424.7 7.2 427 8.3" stroke="#40e020" stroke-width="1.2" stroke-linecap="round" stroke-dasharray="1 2.8 1.6 2.3 0.7 1.7 0.9 1.4 2.1 2.3 2.1 1.7 2.6 2.6 2 1.8" stroke-dashoffset="6.6" opacity="0.9"/>
<path d="M273 -61.6C275.3 -60.7 282.3 -58.2 287 -56.1C291.7 -53.9 296.3 -51.1 301 -48.9C305.7 -46.7 310.3 -45.2 315 -42.9C319.7 -40.7 324.3 -37.6 329 -35.2C333.7 -32.9 338.3 -31 343 -28.9C347.7 -26.7 352.3 -24.6 357 -22.5C361.7 -20.4 366.3 -18.2 371 -16.2C375.7 -14.1 380.3 -12.2 385 -10.1C389.7 -8 394.3 -6 399 -3.5C403.7 -1.1 408.3 2 413 4.5C417.7 6.9 424.7 10 427 11.1" stroke="#40e020" stroke-width="1.2" stroke-linecap="round" stroke-dasharray="1.2 1.5 0.6 2.5 0.9 1.7 1.7 2 2.5 1.3 2.1 2 1.1 1.6 1.5 1.2" stroke-dashoffset="0.5" opacity="0.9"/>
<path d="M273 -53.5C275.3 -52.5 282.3 -49.8 287 -47.7C291.7 -45.5 296.3 -42.8 301 -40.4C305.7 -38.1 310.3 -35.8 315 -33.4C319.7 -31 324.3 -28.4 329 -26.1C333.7 -23.8 338.3 -21.8 343 -19.7C347.7 -17.6 352.3 -15.6 357 -13.6C361.7 -11.6 366.3 -9.7 371 -7.6C375.7 -5.6 380.3 -3.4 385 -1.2C389.7 1 394.3 3.2 399 5.5C403.7 7.8 408.3 10.4 413 12.7C417.7 15.1 424.7 18.5 427 19.6" stroke="#38d820" stroke-width="2.2" stroke-linecap="round" stroke-dasharray="1.2 2.7 0.6 1.3 1.9 2.4 0.4 2.9 1.7 1.8 1.6 3.4 1.4 3.2 0.5 1.4 1 1.5" stroke-dashoffset="8.9" opacity="1"/>
<path d="M273 -54.2C275.3 -53.3 282.3 -50.6 287 -48.4C291.7 -46.2 296.3 -43.6 301 -41.2C305.7 -38.9 310.3 -36.6 315 -34.2C319.7 -31.8 324.3 -29.1 329 -26.8C333.7 -24.5 338.3 -22.5 343 -20.4C347.7 -18.3 352.3 -16.3 357 -14.3C361.7 -12.3 366.3 -10.4 371 -8.4C375.7 -6.3 380.3 -4.1 385 -2C389.7 0.2 394.3 2.4 399 4.7C403.7 7 408.3 9.6 413 12C417.7 14.3 424.7 17.7 427 18.9" stroke="#40e020" stroke-width="1.2" stroke-linecap="round" stroke-dasharray="0.9 2 0.7 1.1 2.4 2.3 1.5 2.7 2.3 2 2.4 2.2 0.7 1.5 1.8 1.6" stroke-dashoffset="5" opacity="0.9"/>
<path d="M273 -51.7C275.3 -50.7 282.3 -47.9 287 -45.7C291.7 -43.5 296.3 -40.8 301 -38.4C305.7 -36 310.3 -33.7 315 -31.4C319.7 -29 324.3 -26.3 329 -24.1C333.7 -21.8 338.3 -19.9 343 -17.8C347.7 -15.8 352.3 -13.8 357 -11.8C361.7 -9.8 366.3 -7.8 371 -5.7C375.7 -3.6 380.3 -1.4 385 0.8C389.7 3 394.3 5.3 399 7.6C403.7 9.9 408.3 12.4 413 14.8C417.7 17.1 424.7 20.4 427 21.5" stroke="#40e020" stroke-width="1.2" stroke-linecap="round" stroke-dasharray="2.2 1.6 2 1.6 2.2 1 2.9 2.1 1.4 1.9 0.9 2.8 1.7 2 0.8 2" stroke-dashoffset="2.4" opacity="0.9"/>
<path d="M273 -43.7C275.3 -42.5 282.3 -39.1 287 -36.7C291.7 -34.3 296.3 -31.8 301 -29.4C305.7 -26.9 310.3 -24.3 315 -22.1C319.7 -19.8 324.3 -17.8 329 -15.9C333.7 -13.9 338.3 -12.2 343 -10.2C347.7 -8.1 352.3 -5.8 357 -3.6C361.7 -1.4 366.3 0.5 371 2.8C375.7 5 380.3 7.5 385 9.7C389.7 12 394.3 14.2 399 16.4C403.7 18.7 408.3 21.1 413 23.3C417.7 25.4 424.7 28.5 427 29.5" stroke="#38d820" stroke-width="2.2" stroke-linecap="round" stroke-dasharray="0.6 3 2.1 3.5 1.6 2.4 1.8 2.2 0.4 3.4 0.5 1.3 1.7 2.4 1.5 2.7 1.1 1.4" stroke-dashoffset="4.8" opacity="1"/>
<path d="M273 -44.4C275.3 -43.3 282.3 -39.9 287 -37.5C291.7 -35.1 296.3 -32.6 301 -30.2C305.7 -27.7 310.3 -25.1 315 -22.8C319.7 -20.6 324.3 -18.6 329 -16.6C333.7 -14.6 338.3 -12.9 343 -10.9C347.7 -8.8 352.3 -6.5 357 -4.3C361.7 -2.2 366.3 -0.2 371 2C375.7 4.2 380.3 6.7 385 8.9C389.7 11.2 394.3 13.4 399 15.7C403.7 17.9 408.3 20.3 413 22.5C417.7 24.7 424.7 27.8 427 28.8" stroke="#40e020" stroke-width="1.2" stroke-linecap="round" stroke-dasharray="3 2.1 2.7 2.8 2.2 1.4 2.8 2.6 2.5 1.1 2.7 2.3 2 1.2 2.5 2.5" stroke-dashoffset="2.4" opacity="0.9"/>
<path d="M273 -41.7C275.3 -40.5 282.3 -37 287 -34.7C291.7 -32.3 296.3 -29.7 301 -27.3C305.7 -24.9 310.3 -22.3 315 -20.1C319.7 -17.9 324.3 -16 329 -14C333.7 -12.1 338.3 -10.4 343 -8.4C347.7 -6.3 352.3 -3.9 357 -1.7C361.7 0.5 366.3 2.6 371 4.8C375.7 7.1 380.3 9.5 385 11.8C389.7 14.1 394.3 16.2 399 18.5C403.7 20.7 408.3 23 413 25.1C417.7 27.3 424.7 30.3 427 31.3" stroke="#40e020" stroke-width="1.2" stroke-linecap="round" stroke-dasharray="0.8 2.4 1 1.8 2.3 2 2.4 1.3 2.6 2.1 1.8 1.2 1.9 1.8 2.8 1.3" stroke-dashoffset="4.9" opacity="0.9"/>
<path d="M273 -33.5C275.3 -32.3 282.3 -28.5 287 -26.2C291.7 -23.8 296.3 -21.6 301 -19.4C305.7 -17.2 310.3 -15.1 315 -13.1C319.7 -11.1 324.3 -9.3 329 -7.4C333.7 -5.4 338.3 -3.6 343 -1.3C347.7 0.9 352.3 3.8 357 6.2C361.7 8.6 366.3 10.6 371 12.9C375.7 15.2 380.3 17.7 385 20C389.7 22.2 394.3 24 399 26.2C403.7 28.5 408.3 31.1 413 33.2C417.7 35.3 424.7 38 427 39" stroke="#38d820" stroke-width="2.2" stroke-linecap="round" stroke-dasharray="2 3.4 1.7 2.1 0.8 3 1.8 3.4 1.5 3.2 0.8 1.8 1.2 1.5 1.9 3.1 2 1.6" stroke-dashoffset="5.9" opacity="1"/>
<path d="M273 -34.3C275.3 -33.1 282.3 -29.3 287 -27C291.7 -24.6 296.3 -22.3 301 -20.1C305.7 -17.9 310.3 -15.8 315 -13.8C319.7 -11.8 324.3 -10 329 -8.1C333.7 -6.1 338.3 -4.3 343 -2.1C347.7 0.2 352.3 3.1 357 5.4C361.7 7.8 366.3 9.8 371 12.1C375.7 14.4 380.3 16.9 385 19.2C389.7 21.4 394.3 23.3 399 25.5C403.7 27.7 408.3 30.4 413 32.5C417.7 34.6 424.7 37.3 427 38.2" stroke="#40e020" stroke-width="1.2" stroke-linecap="round" stroke-dasharray="0.6 1.2 1.8 2.4 2.1 1.2 1.3 2 0.5 2.2 1.7 2.1 3 1.9 2.9 2.2" stroke-dashoffset="4.1" opacity="0.9"/>
<path d="M273 -31.4C275.3 -30.2 282.3 -26.5 287 -24.1C291.7 -21.8 296.3 -19.6 301 -17.4C305.7 -15.3 310.3 -13.2 315 -11.3C319.7 -9.3 324.3 -7.5 329 -5.5C333.7 -3.5 338.3 -1.7 343 0.6C347.7 2.9 352.3 5.9 357 8.3C361.7 10.6 366.3 12.7 371 15C375.7 17.2 380.3 19.8 385 22C389.7 24.1 394.3 26 399 28.1C403.7 30.3 408.3 32.9 413 35C417.7 37.1 424.7 39.9 427 40.8" stroke="#40e020" stroke-width="1.2" stroke-linecap="round" stroke-dasharray="1 2.6 1.3 1.6 1.4 2 1.4 2.6 1 1.5 2.1 1 1.4 2.7 2.8 2.3" stroke-dashoffset="1.7" opacity="0.9"/>
<path d="M273 -22.8C275.3 -21.7 282.3 -18.3 287 -16.1C291.7 -14 296.3 -11.9 301 -9.8C305.7 -7.8 310.3 -5.9 315 -3.9C319.7 -1.9 324.3 0 329 2.2C333.7 4.4 338.3 7 343 9.3C347.7 11.6 352.3 13.8 357 16.1C361.7 18.4 366.3 21 371 23.3C375.7 25.6 380.3 27.6 385 29.7C389.7 31.7 394.3 33.4 399 35.5C403.7 37.7 408.3 40.4 413 42.4C417.7 44.5 424.7 46.9 427 47.8" stroke="#38d820" stroke-width="2.2" stroke-linecap="round" stroke-dasharray="1.1 2.2 0.6 3.3 0.7 1.9 2.2 2.7 1.9 1.2 1.5 2.1 2.1 3.2 1.5 3.4 1.7 1.4" stroke-dashoffset="5.4" opacity="1"/>
<path d="M273 -23.5C275.3 -22.4 282.3 -19 287 -16.9C291.7 -14.7 296.3 -12.6 301 -10.5C305.7 -8.5 310.3 -6.6 315 -4.6C319.7 -2.6 324.3 -0.7 329 1.5C333.7 3.7 338.3 6.2 343 8.5C347.7 10.8 352.3 13 357 15.3C361.7 17.6 366.3 20.3 371 22.5C375.7 24.8 380.3 26.9 385 28.9C389.7 31 394.3 32.7 399 34.8C403.7 36.9 408.3 39.7 413 41.7C417.7 43.7 424.7 46.1 427 47" stroke="#40e020" stroke-width="1.2" stroke-linecap="round" stroke-dasharray="2.9 1.3 2 1.1 1.6 2.5 1.6 2.9 1.3 2.6 0.6 1.8 2.7 2.4 2.4 1.8" stroke-dashoffset="5.3" opacity="0.9"/>
<path d="M273 -20.7C275.3 -19.6 282.3 -16.3 287 -14.2C291.7 -12.1 296.3 -10 301 -8C305.7 -6 310.3 -4.1 315 -2.1C319.7 -0.1 324.3 1.9 329 4.2C333.7 6.4 338.3 9 343 11.3C347.7 13.7 352.3 15.8 357 18.2C361.7 20.5 366.3 23.1 371 25.3C375.7 27.5 380.3 29.5 385 31.5C389.7 33.5 394.3 35.2 399 37.3C403.7 39.5 408.3 42.2 413 44.3C417.7 46.4 424.7 48.9 427 49.8" stroke="#40e020" stroke-width="1.2" stroke-linecap="round" stroke-dasharray="2.2 1.9 2 2.1 1.5 2 1.9 2.2 2.3 2.4 2.8 2.9 0.5 2.4 2.6 2.1" stroke-dashoffset="1.3" opacity="0.9"/>
<path d="M273 -12.4C275.3 -11.5 282.3 -8.6 287 -6.7C291.7 -4.8 296.3 -3.1 301 -0.9C305.7 1.3 310.3 4 315 6.3C319.7 8.5 324.3 10.2 329 12.6C333.7 15 338.3 17.9 343 20.4C347.7 22.8 352.3 25.2 357 27.3C361.7 29.4 366.3 31.1 371 33.1C375.7 35.2 380.3 37.6 385 39.6C389.7 41.7 394.3 43.2 399 45.3C403.7 47.5 408.3 50.1 413 52.4C417.7 54.7 424.7 57.9 427 59" stroke="#38d820" stroke-width="2.2" stroke-linecap="round" stroke-dasharray="1.1 2.6 1.9 3.1 0.9 2.5 1.5 1.5 1.5 2.2 1.4 3.2 0.8 1.4 1.2 1.3 2.1 3.1" stroke-dashoffset="1.8" opacity="1"/>
<path d="M273 -13.2C275.3 -12.2 282.3 -9.3 287 -7.4C291.7 -5.5 296.3 -3.8 301 -1.6C305.7 0.5 310.3 3.3 315 5.5C319.7 7.7 324.3 9.5 329 11.8C333.7 14.2 338.3 17.1 343 19.6C347.7 22.1 352.3 24.4 357 26.6C361.7 28.7 366.3 30.3 371 32.4C375.7 34.5 380.3 36.9 385 38.9C389.7 41 394.3 42.5 399 44.6C403.7 46.7 408.3 49.4 413 51.6C417.7 53.9 424.7 57.1 427 58.2" stroke="#40e020" stroke-width="1.2" stroke-linecap="round" stroke-dasharray="1.7 2.9 0.6 2.5 1.5 1.3 2.7 2.3 1.5 1.4 2.7 1.3 2 2.3 1.3 2.9" stroke-dashoffset="8.7" opacity="0.9"/>
<path d="M273 -10.5C275.3 -9.6 282.3 -6.8 287 -4.9C291.7 -3 296.3 -1.2 301 1C305.7 3.1 310.3 5.9 315 8.2C319.7 10.5 324.3 12.3 329 14.7C333.7 17 338.3 20 343 22.5C347.7 24.9 352.3 27.2 357 29.3C361.7 31.4 366.3 32.9 371 35C375.7 37 380.3 39.4 385 41.5C389.7 43.5 394.3 45.1 399 47.2C403.7 49.4 408.3 52.1 413 54.5C417.7 56.8 424.7 60 427 61.1" stroke="#40e020" stroke-width="1.2" stroke-linecap="round" stroke-dasharray="2.5 1.4 3 2.8 2.9 2.8 1.9 1.2 1.5 1.9 1.9 2.5 2.4 1.7 2.4 1.4" stroke-dashoffset="4" opacity="0.9"/>
<path d="M273 -3C275.3 -2 282.3 1.3 287 3.3C291.7 5.3 296.3 6.8 301 9C305.7 11.2 310.3 13.9 315 16.3C319.7 18.8 324.3 21.3 329 23.5C333.7 25.8 338.3 27.7 343 30C347.7 32.2 352.3 34.8 357 37C361.7 39.1 366.3 40.9 371 42.8C375.7 44.8 380.3 46.5 385 48.6C389.7 50.7 394.3 52.8 399 55.2C403.7 57.6 408.3 60.4 413 62.8C417.7 65.2 424.7 68.4 427 69.5" stroke="#38d820" stroke-width="2.2" stroke-linecap="round" stroke-dasharray="2 1.8 0.5 2.5 1 1.5 1.4 2.4 1.4 2.8 1.6 3.2 0.8 1.6 1.2 1.7 0.8 2.7" stroke-dashoffset="1.9" opacity="1"/>
<path d="M273 -3.7C275.3 -2.7 282.3 0.6 287 2.6C291.7 4.6 296.3 6.1 301 8.3C305.7 10.4 310.3 13.1 315 15.5C319.7 18 324.3 20.5 329 22.7C333.7 25 338.3 27 343 29.2C347.7 31.5 352.3 34.1 357 36.3C361.7 38.4 366.3 40.2 371 42.1C375.7 44.1 380.3 45.8 385 47.9C389.7 49.9 394.3 52.1 399 54.4C403.7 56.8 408.3 59.6 413 62C417.7 64.4 424.7 67.6 427 68.7" stroke="#40e020" stroke-width="1.2" stroke-linecap="round" stroke-dasharray="2.7 2.1 2.3 2 2.9 2.2 2.5 2.6 1.3 1.4 1.8 1.9 2.5 1.7 1.8 1.2" stroke-dashoffset="3.3" opacity="0.9"/>
<path d="M273 -1.2C275.3 -0.1 282.3 3.1 287 5.2C291.7 7.2 296.3 8.8 301 11C305.7 13.2 310.3 16 315 18.4C319.7 20.8 324.3 23.3 329 25.6C333.7 27.8 338.3 29.7 343 31.9C347.7 34.1 352.3 36.7 357 38.8C361.7 40.9 366.3 42.7 371 44.7C375.7 46.6 380.3 48.4 385 50.5C389.7 52.6 394.3 54.9 399 57.2C403.7 59.6 408.3 62.5 413 64.9C417.7 67.2 424.7 70.4 427 71.5" stroke="#40e020" stroke-width="1.2" stroke-linecap="round" stroke-dasharray="1.2 1.7 2.9 2.6 1.7 1.8 1.1 1.8 2.9 1.4 2.6 2.2 2.8 2.5 1 2.9" stroke-dashoffset="8.5" opacity="0.9"/>
<path d="M273 6.6C275.3 7.6 282.3 10.5 287 12.9C291.7 15.2 296.3 18.1 301 20.5C305.7 22.9 310.3 24.9 315 27.2C319.7 29.4 324.3 31.8 329 34C333.7 36.2 338.3 38.2 343 40.3C347.7 42.4 352.3 44.6 357 46.7C361.7 48.7 366.3 50.4 371 52.4C375.7 54.5 380.3 56.9 385 59.2C389.7 61.5 394.3 63.8 399 66.2C403.7 68.5 408.3 71.1 413 73.5C417.7 75.8 424.7 79.1 427 80.2" stroke="#38d820" stroke-width="2.2" stroke-linecap="round" stroke-dasharray="1 3.1 1.7 2.9 0.7 2.7 1.6 2.7 1.3 2.5 1.7 3.4 0.3 1.8 1.8 2.5 0.6 1.7" stroke-dashoffset="6.3" opacity="1"/>
<path d="M273 5.8C275.3 6.9 282.3 9.8 287 12.1C291.7 14.4 296.3 17.3 301 19.7C305.7 22.1 310.3 24.1 315 26.4C319.7 28.7 324.3 31.1 329 33.3C333.7 35.5 338.3 37.5 343 39.6C347.7 41.7 352.3 43.9 357 46C361.7 48 366.3 49.6 371 51.7C375.7 53.8 380.3 56.2 385 58.4C389.7 60.7 394.3 63 399 65.4C403.7 67.7 408.3 70.3 413 72.7C417.7 75 424.7 78.4 427 79.5" stroke="#40e020" stroke-width="1.2" stroke-linecap="round" stroke-dasharray="1.5 2.5 2.9 1.8 2.6 1.9 2.4 1.8 0.8 1.6 2.1 2.9 1.3 2 2.8 2.4" stroke-dashoffset="2.4" opacity="0.9"/>
<path d="M273 8.4C275.3 9.5 282.3 12.5 287 14.9C291.7 17.2 296.3 20.2 301 22.6C305.7 25 310.3 27 315 29.2C319.7 31.5 324.3 33.8 329 35.9C333.7 38.1 338.3 40 343 42.1C347.7 44.2 352.3 46.5 357 48.5C361.7 50.6 366.3 52.3 371 54.4C375.7 56.5 380.3 59 385 61.3C389.7 63.6 394.3 65.9 399 68.2C403.7 70.6 408.3 73.1 413 75.4C417.7 77.7 424.7 81 427 82.1" stroke="#40e020" stroke-width="1.2" stroke-linecap="round" stroke-dasharray="2 1.8 0.7 1.9 3 2.3 2.1 2.2 2.7 1.8 0.6 1.8 0.5 2.1 2.7 1.7" stroke-dashoffset="4.3" opacity="0.9"/>
<path d="M273 16.3C275.3 17.3 282.3 20.1 287 22.4C291.7 24.8 296.3 28.1 301 30.5C305.7 32.8 310.3 34.6 315 36.7C319.7 38.7 324.3 40.6 329 42.7C333.7 44.8 338.3 47.2 343 49.3C347.7 51.4 352.3 53.1 357 55.3C361.7 57.5 366.3 60.1 371 62.3C375.7 64.6 380.3 66.4 385 68.7C389.7 71.1 394.3 73.8 399 76.2C403.7 78.6 408.3 80.9 413 83C417.7 85.1 424.7 88 427 89" stroke="#38d820" stroke-width="2.2" stroke-linecap="round" stroke-dasharray="1.9 2.4 1.9 1.8 1.5 2.8 1.8 3.2 2 1.5 0.3 2.2 1.7 2 2.2 3.4 1.4 3.2" stroke-dashoffset="6.4" opacity="1"/>
<path d="M273 15.6C275.3 16.6 282.3 19.3 287 21.6C291.7 24 296.3 27.3 301 29.7C305.7 32.1 310.3 33.9 315 35.9C319.7 38 324.3 39.9 329 42C333.7 44.1 338.3 46.5 343 48.6C347.7 50.7 352.3 52.4 357 54.6C361.7 56.7 366.3 59.3 371 61.6C375.7 63.8 380.3 65.6 385 67.9C389.7 70.3 394.3 73 399 75.4C403.7 77.8 408.3 80.1 413 82.3C417.7 84.4 424.7 87.3 427 88.3" stroke="#40e020" stroke-width="1.2" stroke-linecap="round" stroke-dasharray="1.3 2.6 2.3 2.7 0.7 1.6 1.7 2.5 2.9 1 0.9 2 1.4 1.6 1.6 2" stroke-dashoffset="7.2" opacity="0.9"/>
<path d="M273 18.3C275.3 19.4 282.3 22.2 287 24.5C291.7 26.9 296.3 30.1 301 32.5C305.7 34.8 310.3 36.6 315 38.6C319.7 40.6 324.3 42.5 329 44.6C333.7 46.7 338.3 49 343 51.1C347.7 53.2 352.3 55.1 357 57.3C361.7 59.5 366.3 62.1 371 64.4C375.7 66.7 380.3 68.5 385 70.8C389.7 73.1 394.3 75.8 399 78.2C403.7 80.5 408.3 82.7 413 84.9C417.7 87 424.7 89.8 427 90.8" stroke="#40e020" stroke-width="1.2" stroke-linecap="round" stroke-dasharray="2.4 2 1.3 2 2.2 2.7 1.3 1.5 0.7 1.2 1.8 1.4 2.9 2 2.4 2.7" stroke-dashoffset="0.9" opacity="0.9"/>
<path d="M273 26.9C275.3 28.1 282.3 31.7 287 34C291.7 36.4 296.3 38.9 301 41.1C305.7 43.2 310.3 44.8 315 46.9C319.7 49 324.3 51.4 329 53.6C333.7 55.9 338.3 58.1 343 60.2C347.7 62.4 352.3 64.1 357 66.4C361.7 68.7 366.3 71.8 371 74.2C375.7 76.6 380.3 78.5 385 80.6C389.7 82.7 394.3 84.6 399 86.7C403.7 88.8 408.3 91.1 413 93.2C417.7 95.3 424.7 98.2 427 99.2" stroke="#38d820" stroke-width="2.2" stroke-linecap="round" stroke-dasharray="1.8 2.5 1.3 3 1.4 2.7 0.8 2 1.6 1.4 1.9 2.6 0.8 3 1.1 1.7 1.7 3.1" stroke-dashoffset="1.3" opacity="1"/>
<path d="M273 26.1C275.3 27.3 282.3 30.9 287 33.3C291.7 35.6 296.3 38.2 301 40.3C305.7 42.5 310.3 44.1 315 46.2C319.7 48.3 324.3 50.7 329 52.9C333.7 55.1 338.3 57.4 343 59.5C347.7 61.6 352.3 63.3 357 65.6C361.7 67.9 366.3 71 371 73.4C375.7 75.8 380.3 77.7 385 79.8C389.7 81.9 394.3 83.9 399 86C403.7 88.1 408.3 90.5 413 92.5C417.7 94.6 424.7 97.5 427 98.4" stroke="#40e020" stroke-width="1.2" stroke-linecap="round" stroke-dasharray="0.8 2.5 2.9 2.6 2.2 1.3 1 1.4 2.6 3 0.9 1.8 2.7 2.9 1.7 1" stroke-dashoffset="6.3" opacity="0.9"/>
<path d="M273 29C275.3 30.2 282.3 33.7 287 36C291.7 38.4 296.3 40.8 301 43C305.7 45.1 310.3 46.7 315 48.8C319.7 50.9 324.3 53.3 329 55.5C333.7 57.8 338.3 60.1 343 62.2C347.7 64.4 352.3 66.1 357 68.5C361.7 70.8 366.3 73.9 371 76.3C375.7 78.6 380.3 80.5 385 82.5C389.7 84.6 394.3 86.5 399 88.6C403.7 90.7 408.3 93 413 95.1C417.7 97.1 424.7 100.1 427 101.1" stroke="#40e020" stroke-width="1.2" stroke-linecap="round" stroke-dasharray="2.5 1.3 2.4 1.5 0.7 2.4 0.8 2 2.6 2.3 1.2 2.6 1.4 1.6 2.5 1.5" stroke-dashoffset="2.7" opacity="0.9"/>
<path d="M273 38C275.3 39.1 282.3 42.6 287 44.8C291.7 47.1 296.3 49.4 301 51.4C305.7 53.4 310.3 54.8 315 56.8C319.7 58.8 324.3 61.1 329 63.4C333.7 65.7 338.3 68.2 343 70.5C347.7 72.8 352.3 75 357 77.3C361.7 79.6 366.3 82.1 371 84.3C375.7 86.5 380.3 88.6 385 90.7C389.7 92.9 394.3 95 399 97C403.7 99.1 408.3 101.1 413 103.2C417.7 105.3 424.7 108.4 427 109.5" stroke="#38d820" stroke-width="2.2" stroke-linecap="round" stroke-dasharray="0.8 2.8 1.7 1.2 1 2.2 1.2 2.8 1.9 3.5 1.6 2.1 1.9 3.3 1.3 2.1 1.5 1.6" stroke-dashoffset="5.2" opacity="1"/>
<path d="M273 37.2C275.3 38.4 282.3 41.9 287 44.1C291.7 46.3 296.3 48.7 301 50.7C305.7 52.7 310.3 54.1 315 56.1C319.7 58.1 324.3 60.4 329 62.7C333.7 64.9 338.3 67.4 343 69.7C347.7 72 352.3 74.2 357 76.5C361.7 78.8 366.3 81.3 371 83.6C375.7 85.8 380.3 87.9 385 90C389.7 92.2 394.3 94.3 399 96.3C403.7 98.4 408.3 100.4 413 102.4C417.7 104.5 424.7 107.7 427 108.7" stroke="#40e020" stroke-width="1.2" stroke-linecap="round" stroke-dasharray="1.9 2.6 0.7 1.1 1.5 1.9 1.9 2.8 0.5 2.9 2.7 3 1.2 2.5 2.3 2.2" stroke-dashoffset="2" opacity="0.9"/>
<path d="M273 40C275.3 41.1 282.3 44.5 287 46.7C291.7 48.9 296.3 51.2 301 53.2C305.7 55.2 310.3 56.6 315 58.7C319.7 60.7 324.3 63.1 329 65.4C333.7 67.7 338.3 70.3 343 72.6C347.7 74.9 352.3 77.1 357 79.4C361.7 81.6 366.3 84 371 86.2C375.7 88.4 380.3 90.5 385 92.6C389.7 94.7 394.3 96.8 399 98.9C403.7 101 408.3 103 413 105.1C417.7 107.2 424.7 110.5 427 111.5" stroke="#40e020" stroke-width="1.2" stroke-linecap="round" stroke-dasharray="1.9 2.3 2.6 2.2 1.8 2.9 1.7 2.4 2.4 2.3 1.9 1.6 0.9 2.6 2.3 2.3" stroke-dashoffset="8.3" opacity="0.9"/>
<path d="M273 47.5C275.3 48.6 282.3 51.9 287 54C291.7 56 296.3 57.7 301 59.8C305.7 61.8 310.3 64.1 315 66.4C319.7 68.6 324.3 70.6 329 73.1C333.7 75.5 338.3 78.5 343 80.9C347.7 83.3 352.3 85.3 357 87.4C361.7 89.5 366.3 91.5 371 93.5C375.7 95.6 380.3 97.7 385 99.8C389.7 101.9 394.3 103.8 399 106.1C403.7 108.4 408.3 111.1 413 113.4C417.7 115.7 424.7 119 427 120.1" stroke="#38d820" stroke-width="2.2" stroke-linecap="round" stroke-dasharray="1.8 2.6 1.8 2.1 2.1 2.6 1.9 1.4 0.8 1.3 0.3 1.7 2 2.1 0.4 1.4 1.5 2.7" stroke-dashoffset="3.2" opacity="1"/>
<path d="M273 46.7C275.3 47.8 282.3 51.2 287 53.3C291.7 55.3 296.3 57 301 59C305.7 61.1 310.3 63.4 315 65.6C319.7 67.8 324.3 69.8 329 72.3C333.7 74.7 338.3 77.7 343 80.1C347.7 82.5 352.3 84.6 357 86.7C361.7 88.8 366.3 90.7 371 92.8C375.7 94.9 380.3 97 385 99.1C389.7 101.2 394.3 103.1 399 105.3C403.7 107.6 408.3 110.3 413 112.6C417.7 114.9 424.7 118.2 427 119.3" stroke="#40e020" stroke-width="1.2" stroke-linecap="round" stroke-dasharray="2.9 1 1 2.1 1.1 2.6 0.8 1.7 2.2 1.2 1 1.7 2.1 2 2.9 2.9" stroke-dashoffset="4.2" opacity="0.9"/>
<path d="M273 49.3C275.3 50.4 282.3 53.7 287 55.8C291.7 57.8 296.3 59.5 301 61.6C305.7 63.7 310.3 66.1 315 68.4C319.7 70.6 324.3 72.7 329 75.1C333.7 77.6 338.3 80.6 343 83C347.7 85.3 352.3 87.3 357 89.3C361.7 91.4 366.3 93.3 371 95.3C375.7 97.4 380.3 99.5 385 101.6C389.7 103.7 394.3 105.7 399 108.1C403.7 110.4 408.3 113.1 413 115.5C417.7 117.8 424.7 121 427 122.2" stroke="#40e020" stroke-width="1.2" stroke-linecap="round" stroke-dasharray="1 1.6 2.2 1.2 0.7 1.5 1.9 2.9 1.3 1.2 2.5 2.7 1.4 2 2.2 2.4" stroke-dashoffset="6.5" opacity="0.9"/>
<path d="M273 57C275.3 58.1 282.3 61.2 287 63.3C291.7 65.5 296.3 67.7 301 69.9C305.7 72.1 310.3 74.3 315 76.7C319.7 79 324.3 81.4 329 83.8C333.7 86.2 338.3 88.8 343 91C347.7 93.1 352.3 94.6 357 96.7C361.7 98.7 366.3 101.1 371 103.2C375.7 105.3 380.3 107.2 385 109.4C389.7 111.6 394.3 114.1 399 116.4C403.7 118.7 408.3 120.8 413 123.1C417.7 125.5 424.7 129.3 427 130.5" stroke="#38d820" stroke-width="2.2" stroke-linecap="round" stroke-dasharray="1.6 3.3 2 1.8 1.2 1.9 1.8 1.8 1 1.5 0.7 2.5 0.4 3.1 0.7 1.8 0.3 3.5" stroke-dashoffset="8.8" opacity="1"/>
<path d="M273 56.3C275.3 57.4 282.3 60.5 287 62.6C291.7 64.8 296.3 67 301 69.2C305.7 71.4 310.3 73.5 315 75.9C319.7 78.2 324.3 80.7 329 83C333.7 85.4 338.3 88.1 343 90.2C347.7 92.4 352.3 93.9 357 96C361.7 98 366.3 100.4 371 102.5C375.7 104.6 380.3 106.5 385 108.7C389.7 110.9 394.3 113.3 399 115.6C403.7 117.9 408.3 120 413 122.3C417.7 124.7 424.7 128.5 427 129.8" stroke="#40e020" stroke-width="1.2" stroke-linecap="round" stroke-dasharray="2.3 2.4 0.5 1.9 1 2.4 2.4 1.9 1.5 2.1 0.9 1.1 2 2.5 1.9 2.2" stroke-dashoffset="2.2" opacity="0.9"/>
<path d="M273 58.9C275.3 59.9 282.3 63.1 287 65.3C291.7 67.4 296.3 69.7 301 72C305.7 74.2 310.3 76.4 315 78.7C319.7 81.1 324.3 83.5 329 85.9C333.7 88.2 338.3 90.8 343 92.9C347.7 95 352.3 96.5 357 98.5C361.7 100.5 366.3 102.9 371 105.1C375.7 107.2 380.3 109.2 385 111.4C389.7 113.6 394.3 116.1 399 118.4C403.7 120.7 408.3 122.9 413 125.2C417.7 127.5 424.7 131.3 427 132.5" stroke="#40e020" stroke-width="1.2" stroke-linecap="round" stroke-dasharray="2.1 1.3 0.6 1.6 0.8 2.1 2.7 1.5 2.3 2 1.6 2.2 1.6 2.1 1.1 2.7" stroke-dashoffset="4.6" opacity="0.9"/>
<path d="M273 66.3C275.3 67.5 282.3 71.2 287 73.5C291.7 75.8 296.3 78 301 80.2C305.7 82.5 310.3 84.9 315 87.2C319.7 89.5 324.3 92.1 329 94.2C333.7 96.3 338.3 97.7 343 99.7C347.7 101.7 352.3 104.1 357 106.2C361.7 108.4 366.3 110.2 371 112.5C375.7 114.7 380.3 117.3 385 119.6C389.7 122 394.3 124.4 399 126.7C403.7 129 408.3 131.4 413 133.6C417.7 135.9 424.7 139.1 427 140.2" stroke="#38d820" stroke-width="2.2" stroke-linecap="round" stroke-dasharray="1.5 1.8 1.5 2.9 1 2.1 1.9 1.7 2 1.9 1.6 2 2.1 1.6 1.5 2.1 0.6 2.5" stroke-dashoffset="8.1" opacity="1"/>
<path d="M273 65.5C275.3 66.7 282.3 70.4 287 72.7C291.7 75.1 296.3 77.2 301 79.4C305.7 81.7 310.3 84.1 315 86.4C319.7 88.7 324.3 91.3 329 93.4C333.7 95.5 338.3 97 343 99C347.7 101 352.3 103.4 357 105.5C361.7 107.6 366.3 109.5 371 111.7C375.7 113.9 380.3 116.5 385 118.8C389.7 121.2 394.3 123.6 399 125.9C403.7 128.2 408.3 130.6 413 132.9C417.7 135.2 424.7 138.4 427 139.5" stroke="#40e020" stroke-width="1.2" stroke-linecap="round" stroke-dasharray="1 1.1 2.5 1.9 2.5 1.9 0.5 2.5 2.8 2.5 2.5 2.7 2.7 2.2 1.2 2.5" stroke-dashoffset="8.3" opacity="0.9"/>
<path d="M273 68.2C275.3 69.4 282.3 73.2 287 75.5C291.7 77.9 296.3 80.1 301 82.3C305.7 84.6 310.3 86.9 315 89.2C319.7 91.5 324.3 94 329 96.1C333.7 98.1 338.3 99.5 343 101.5C347.7 103.5 352.3 105.9 357 108.1C361.7 110.3 366.3 112.2 371 114.5C375.7 116.7 380.3 119.3 385 121.7C389.7 124.1 394.3 126.4 399 128.7C403.7 131 408.3 133.4 413 135.6C417.7 137.8 424.7 141 427 142.1" stroke="#40e020" stroke-width="1.2" stroke-linecap="round" stroke-dasharray="1.5 2.9 1.8 1.3 2.1 2.1 2.2 2.5 2.7 1.6 0.5 1.2 0.7 2.2 1.4 1.5" stroke-dashoffset="4.5" opacity="0.9"/>
<path d="M273 76.5C275.3 77.7 282.3 81.3 287 83.7C291.7 86.1 296.3 88.5 301 90.7C305.7 93 310.3 94.9 315 97C319.7 99.1 324.3 101.4 329 103.5C333.7 105.5 338.3 107.3 343 109.4C347.7 111.4 352.3 113.5 357 115.7C361.7 117.9 366.3 120.2 371 122.5C375.7 124.9 380.3 127.4 385 129.8C389.7 132.2 394.3 134.8 399 137C403.7 139.2 408.3 141.2 413 143.2C417.7 145.1 424.7 147.9 427 148.8" stroke="#38d820" stroke-width="2.2" stroke-linecap="round" stroke-dasharray="1.5 2.9 1.1 3.3 0.9 3.4 0.8 3.5 2.2 3.1 0.7 1.4 1.9 1.9 1.1 2.6 1.6 3.1" stroke-dashoffset="5" opacity="1"/>
<path d="M273 75.7C275.3 76.9 282.3 80.5 287 82.9C291.7 85.3 296.3 87.7 301 90C305.7 92.2 310.3 94.1 315 96.2C319.7 98.4 324.3 100.7 329 102.8C333.7 104.8 338.3 106.6 343 108.7C347.7 110.7 352.3 112.8 357 115C361.7 117.2 366.3 119.4 371 121.7C375.7 124.1 380.3 126.6 385 129C389.7 131.4 394.3 134 399 136.3C403.7 138.5 408.3 140.5 413 142.5C417.7 144.4 424.7 147.2 427 148.1" stroke="#40e020" stroke-width="1.2" stroke-linecap="round" stroke-dasharray="2 2.1 1.5 2.3 2.9 2.4 0.9 2.1 0.8 2.9 2.8 2.5 2.7 1.6 0.6 1.7" stroke-dashoffset="2.8" opacity="0.9"/>
<path d="M273 78.5C275.3 79.7 282.3 83.4 287 85.8C291.7 88.2 296.3 90.6 301 92.7C305.7 94.9 310.3 96.8 315 98.9C319.7 100.9 324.3 103.2 329 105.3C333.7 107.4 338.3 109.2 343 111.3C347.7 113.3 352.3 115.5 357 117.7C361.7 120 366.3 122.3 371 124.6C375.7 127 380.3 129.4 385 131.8C389.7 134.2 394.3 136.7 399 138.9C403.7 141.1 408.3 143.1 413 145C417.7 147 424.7 149.7 427 150.7" stroke="#40e020" stroke-width="1.2" stroke-linecap="round" stroke-dasharray="1.2 2.3 1.1 2.4 2.8 2.2 1.7 1.7 1.9 1.7 2.3 2.4 0.8 1.9 0.7 1.4" stroke-dashoffset="7.5" opacity="0.9"/>
<path d="M273 86.9C275.3 88.2 282.3 92.2 287 94.6C291.7 96.9 296.3 98.8 301 100.8C305.7 102.9 310.3 105.1 315 107.1C319.7 109 324.3 110.6 329 112.6C333.7 114.7 338.3 117.1 343 119.4C347.7 121.7 352.3 124 357 126.3C361.7 128.7 366.3 131.3 371 133.7C375.7 136.1 380.3 138.6 385 140.8C389.7 142.9 394.3 144.7 399 146.6C403.7 148.5 408.3 150.4 413 152.4C417.7 154.5 424.7 157.7 427 158.8" stroke="#38d820" stroke-width="2.2" stroke-linecap="round" stroke-dasharray="1.9 1.9 1.2 2.2 2.1 2.7 2.2 3.1 1.7 3 2.2 1.3 0.9 3 0.5 1.8 0.6 2.8" stroke-dashoffset="8.4" opacity="1"/>
<path d="M273 86.1C275.3 87.4 282.3 91.5 287 93.8C291.7 96.1 296.3 98 301 100.1C305.7 102.2 310.3 104.4 315 106.4C319.7 108.3 324.3 109.9 329 111.9C333.7 113.9 338.3 116.4 343 118.7C347.7 120.9 352.3 123.2 357 125.5C361.7 127.9 366.3 130.5 371 132.9C375.7 135.4 380.3 137.9 385 140C389.7 142.2 394.3 143.9 399 145.9C403.7 147.8 408.3 149.7 413 151.7C417.7 153.7 424.7 157 427 158" stroke="#40e020" stroke-width="1.2" stroke-linecap="round" stroke-dasharray="2.3 1.4 2.6 2.2 2 1.9 1.6 3 1.1 2.4 1.2 1.6 2.8 1.8 1.7 2.6" stroke-dashoffset="3.2" opacity="0.9"/>
<path d="M273 89C275.3 90.2 282.3 94.3 287 96.5C291.7 98.8 296.3 100.6 301 102.7C305.7 104.8 310.3 106.9 315 108.9C319.7 110.9 324.3 112.4 329 114.5C333.7 116.6 338.3 119.1 343 121.4C347.7 123.8 352.3 126 357 128.4C361.7 130.8 366.3 133.4 371 135.8C375.7 138.1 380.3 140.6 385 142.7C389.7 144.8 394.3 146.5 399 148.4C403.7 150.4 408.3 152.2 413 154.3C417.7 156.3 424.7 159.7 427 160.7" stroke="#40e020" stroke-width="1.2" stroke-linecap="round" stroke-dasharray="2.3 1.7 2 1.9 1.9 2.1 2.3 1.5 3 2 2.5 1.5 1.3 2.1 1.6 1.4" stroke-dashoffset="0.6" opacity="0.9"/>
<path d="M273 98.1C275.3 99.1 282.3 101.9 287 103.9C291.7 106 296.3 108.5 301 110.5C305.7 112.4 310.3 113.6 315 115.7C319.7 117.7 324.3 120.3 329 122.7C333.7 125.1 338.3 127.5 343 130C347.7 132.4 352.3 135.3 357 137.5C361.7 139.7 366.3 141 371 143.2C375.7 145.3 380.3 148.2 385 150.3C389.7 152.3 394.3 153.6 399 155.5C403.7 157.4 408.3 159.6 413 161.9C417.7 164.2 424.7 168.3 427 169.6" stroke="#38d820" stroke-width="2.2" stroke-linecap="round" stroke-dasharray="1.1 2.1 0.8 3 1.6 2.8 0.6 3.2 2.1 1.2 2.1 1.4 1.1 2.5 1.7 3.2 0.7 1.2" stroke-dashoffset="1.2" opacity="1"/>
<path d="M273 97.3C275.3 98.3 282.3 101.1 287 103.2C291.7 105.3 296.3 107.8 301 109.8C305.7 111.7 310.3 112.9 315 114.9C319.7 117 324.3 119.6 329 121.9C333.7 124.3 338.3 126.7 343 129.2C347.7 131.6 352.3 134.5 357 136.7C361.7 138.9 366.3 140.3 371 142.4C375.7 144.6 380.3 147.5 385 149.6C389.7 151.6 394.3 152.9 399 154.8C403.7 156.7 408.3 158.8 413 161.1C417.7 163.5 424.7 167.5 427 168.8" stroke="#40e020" stroke-width="1.2" stroke-linecap="round" stroke-dasharray="0.6 1.4 1.6 1.3 1.8 2.4 1.9 1.9 1.9 2.5 0.9 1.1 0.7 2.2 2.2 1.5" stroke-dashoffset="6.7" opacity="0.9"/>
<path d="M273 100C275.3 101 282.3 103.7 287 105.8C291.7 107.8 296.3 110.3 301 112.3C305.7 114.3 310.3 115.5 315 117.6C319.7 119.7 324.3 122.3 329 124.7C333.7 127.1 338.3 129.6 343 132.1C347.7 134.5 352.3 137.3 357 139.5C361.7 141.7 366.3 142.9 371 145C375.7 147.1 380.3 150 385 152.1C389.7 154.1 394.3 155.4 399 157.4C403.7 159.3 408.3 161.5 413 163.9C417.7 166.3 424.7 170.3 427 171.6" stroke="#40e020" stroke-width="1.2" stroke-linecap="round" stroke-dasharray="2.9 1.8 2.3 1.8 1.9 2 0.9 2.7 0.9 1 0.5 2.8 2 1.8 1.5 1.9" stroke-dashoffset="4.1" opacity="0.9"/>
<path d="M273 107.4C275.3 108.4 282.3 111.3 287 113.3C291.7 115.3 296.3 117.2 301 119.3C305.7 121.4 310.3 123.5 315 125.7C319.7 128 324.3 130.7 329 133.1C333.7 135.5 338.3 137.8 343 140.1C347.7 142.4 352.3 144.6 357 146.7C361.7 148.7 366.3 150.5 371 152.5C375.7 154.6 380.3 156.9 385 159C389.7 161.1 394.3 163 399 165.3C403.7 167.6 408.3 170.6 413 172.9C417.7 175.3 424.7 178.3 427 179.3" stroke="#38d820" stroke-width="2.2" stroke-linecap="round" stroke-dasharray="1.1 1.5 1.5 3.1 2 2.8 2.1 2.8 1.4 1.7 1.3 2.1 1.9 1.6 1.6 1.8 1.8 2" stroke-dashoffset="2.3" opacity="1"/>
<path d="M273 106.7C275.3 107.7 282.3 110.6 287 112.6C291.7 114.6 296.3 116.5 301 118.6C305.7 120.6 310.3 122.7 315 125C319.7 127.3 324.3 129.9 329 132.3C333.7 134.7 338.3 137 343 139.3C347.7 141.6 352.3 143.9 357 145.9C361.7 148 366.3 149.8 371 151.8C375.7 153.9 380.3 156.2 385 158.3C389.7 160.4 394.3 162.2 399 164.5C403.7 166.8 408.3 169.8 413 172.1C417.7 174.5 424.7 177.5 427 178.5" stroke="#40e020" stroke-width="1.2" stroke-linecap="round" stroke-dasharray="1.2 2.6 1.5 2.4 1.7 1.7 3 2.7 0.7 1.6 1 1.4 1.6 2 1.7 2" stroke-dashoffset="5.2" opacity="0.9"/>
<path d="M273 109.2C275.3 110.2 282.3 113.2 287 115.2C291.7 117.2 296.3 119.1 301 121.2C305.7 123.3 310.3 125.5 315 127.8C319.7 130.1 324.3 132.8 329 135.2C333.7 137.5 338.3 139.9 343 142.1C347.7 144.3 352.3 146.5 357 148.6C361.7 150.6 366.3 152.3 371 154.4C375.7 156.4 380.3 158.7 385 160.9C389.7 163 394.3 164.9 399 167.3C403.7 169.6 408.3 172.7 413 175C417.7 177.4 424.7 180.3 427 181.4" stroke="#40e020" stroke-width="1.2" stroke-linecap="round" stroke-dasharray="1.8 2.4 0.7 1.7 1 1.4 1.9 2.3 2 1.4 2.8 1.1 2.9 2.9 1.5 1.5" stroke-dashoffset="0" opacity="0.9"/>
<path d="M273 116.8C275.3 117.9 282.3 121.3 287 123.4C291.7 125.5 296.3 127.3 301 129.5C305.7 131.7 310.3 134.2 315 136.6C319.7 139 324.3 141.4 329 143.7C333.7 145.9 338.3 148.1 343 150.2C347.7 152.3 352.3 154.2 357 156.2C361.7 158.3 366.3 160.3 371 162.5C375.7 164.7 380.3 167 385 169.3C389.7 171.5 394.3 173.7 399 176C403.7 178.4 408.3 180.9 413 183.2C417.7 185.6 424.7 188.9 427 190" stroke="#38d820" stroke-width="2.2" stroke-linecap="round" stroke-dasharray="0.7 1.4 1.5 3.4 0.7 2.6 0.8 2.2 0.4 3.2 0.4 2.3 1.9 2.1 1.8 2.9 1.2 2.8" stroke-dashoffset="5.8" opacity="1"/>
<path d="M273 116.1C275.3 117.2 282.3 120.6 287 122.7C291.7 124.8 296.3 126.5 301 128.7C305.7 130.9 310.3 133.4 315 135.8C319.7 138.2 324.3 140.6 329 142.9C333.7 145.2 338.3 147.4 343 149.5C347.7 151.6 352.3 153.5 357 155.5C361.7 157.6 366.3 159.6 371 161.8C375.7 163.9 380.3 166.3 385 168.5C389.7 170.7 394.3 172.9 399 175.2C403.7 177.6 408.3 180.1 413 182.4C417.7 184.8 424.7 188.1 427 189.2" stroke="#40e020" stroke-width="1.2" stroke-linecap="round" stroke-dasharray="2.8 1.2 1.1 1.3 2.3 1.1 2.7 1.3 2.4 1.7 2 3 1.4 2.1 0.9 2.5" stroke-dashoffset="6.4" opacity="0.9"/>
<path d="M273 118.6C275.3 119.7 282.3 123.2 287 125.4C291.7 127.5 296.3 129.3 301 131.6C305.7 133.8 310.3 136.3 315 138.7C319.7 141 324.3 143.4 329 145.6C333.7 147.9 338.3 150 343 152.1C347.7 154.2 352.3 156 357 158C361.7 160.1 366.3 162.2 371 164.4C375.7 166.6 380.3 169 385 171.3C389.7 173.6 394.3 175.8 399 178.1C403.7 180.4 408.3 183 413 185.3C417.7 187.6 424.7 190.8 427 191.9" stroke="#40e020" stroke-width="1.2" stroke-linecap="round" stroke-dasharray="1.4 2.3 1.9 1.2 2.9 1.4 2.6 2.8 2.8 1.8 1.2 1.4 1.8 2.1 2.3 1.9" stroke-dashoffset="0.5" opacity="0.9"/>
<path d="M273 127.2C275.3 128.3 282.3 131.4 287 133.8C291.7 136.1 296.3 139 301 141.2C305.7 143.5 310.3 145.2 315 147.4C319.7 149.5 324.3 152 329 154.1C333.7 156.3 338.3 158.2 343 160.3C347.7 162.3 352.3 164.3 357 166.5C361.7 168.6 366.3 170.9 371 173.1C375.7 175.3 380.3 177.1 385 179.5C389.7 181.9 394.3 185.1 399 187.5C403.7 189.8 408.3 191.5 413 193.7C417.7 195.8 424.7 199.1 427 200.2" stroke="#38d820" stroke-width="2.2" stroke-linecap="round" stroke-dasharray="1.7 1.9 1.1 1.8 0.5 2.2 2.2 2.8 0.3 2.1 1.4 3 2.1 2.2 2.1 2.3 2.1 1.6" stroke-dashoffset="1.8" opacity="1"/>
<path d="M273 126.5C275.3 127.6 282.3 130.7 287 133C291.7 135.3 296.3 138.2 301 140.4C305.7 142.7 310.3 144.4 315 146.6C319.7 148.8 324.3 151.3 329 153.4C333.7 155.6 338.3 157.5 343 159.6C347.7 161.6 352.3 163.6 357 165.7C361.7 167.9 366.3 170.1 371 172.3C375.7 174.5 380.3 176.3 385 178.7C389.7 181.1 394.3 184.3 399 186.7C403.7 189.1 408.3 190.8 413 192.9C417.7 195.1 424.7 198.4 427 199.5" stroke="#40e020" stroke-width="1.2" stroke-linecap="round" stroke-dasharray="2.7 2.9 2.3 1.2 1.8 2.4 2.3 2.2 0.6 2.9 3 2.2 1.9 1.5 1.8 2.5" stroke-dashoffset="7.2" opacity="0.9"/>
<path d="M273 129.2C275.3 130.3 282.3 133.5 287 135.8C291.7 138.2 296.3 141.1 301 143.3C305.7 145.6 310.3 147.2 315 149.3C319.7 151.4 324.3 153.9 329 156C333.7 158.1 338.3 160 343 162.1C347.7 164.2 352.3 166.2 357 168.4C361.7 170.5 366.3 172.9 371 175.1C375.7 177.3 380.3 179.2 385 181.6C389.7 184 394.3 187.2 399 189.5C403.7 191.8 408.3 193.5 413 195.6C417.7 197.6 424.7 200.9 427 202" stroke="#40e020" stroke-width="1.2" stroke-linecap="round" stroke-dasharray="2.8 1.5 1.7 1.8 1 1.7 1.5 1.1 0.8 2.3 2 2.2 1.3 2 1.4 2.5" stroke-dashoffset="0" opacity="0.9"/>
<path d="M273 137C275.3 138.2 282.3 141.7 287 144C291.7 146.3 296.3 148.6 301 150.9C305.7 153.2 310.3 155.7 315 157.8C319.7 159.9 324.3 161.5 329 163.5C333.7 165.5 338.3 167.4 343 169.5C347.7 171.7 352.3 174.2 357 176.3C361.7 178.5 366.3 180.3 371 182.7C375.7 185 380.3 187.9 385 190.3C389.7 192.6 394.3 194.5 399 196.6C403.7 198.8 408.3 201.3 413 203.4C417.7 205.5 424.7 208.2 427 209.2" stroke="#38d820" stroke-width="2.2" stroke-linecap="round" stroke-dasharray="1.4 2.8 0.3 3.1 2.1 2.9 0.4 2.6 0.8 1.3 1.1 1.3 1.5 1.6 1.7 2.5 1.6 1.4" stroke-dashoffset="2.4" opacity="1"/>
<path d="M273 136.2C275.3 137.4 282.3 140.9 287 143.2C291.7 145.5 296.3 147.8 301 150.1C305.7 152.4 310.3 155 315 157.1C319.7 159.2 324.3 160.8 329 162.8C333.7 164.8 338.3 166.7 343 168.8C347.7 170.9 352.3 173.4 357 175.6C361.7 177.7 366.3 179.5 371 181.9C375.7 184.2 380.3 187.1 385 189.5C389.7 191.8 394.3 193.7 399 195.9C403.7 198.1 408.3 200.6 413 202.7C417.7 204.8 424.7 207.5 427 208.5" stroke="#40e020" stroke-width="1.2" stroke-linecap="round" stroke-dasharray="0.7 1.8 2.4 1.7 2.4 3 1.5 2.5 0.5 1.2 2.6 1.8 1.5 1.4 2.2 2.6" stroke-dashoffset="8.2" opacity="0.9"/>
<path d="M273 139.1C275.3 140.3 282.3 143.8 287 146.1C291.7 148.3 296.3 150.6 301 152.8C305.7 155.1 310.3 157.6 315 159.6C319.7 161.7 324.3 163.4 329 165.3C333.7 167.3 338.3 169.3 343 171.5C347.7 173.6 352.3 176.2 357 178.4C361.7 180.6 366.3 182.4 371 184.7C375.7 187 380.3 190 385 192.3C389.7 194.6 394.3 196.4 399 198.5C403.7 200.7 408.3 203.1 413 205.2C417.7 207.3 424.7 210.1 427 211" stroke="#40e020" stroke-width="1.2" stroke-linecap="round" stroke-dasharray="0.5 2.5 1.2 2.8 0.6 2.4 2.2 1.1 2.4 1.6 1.7 2.4 3 1.5 1.5 1" stroke-dashoffset="0.1" opacity="0.9"/>
<path d="M273 148.6C275.3 149.6 282.3 152.2 287 154.4C291.7 156.5 296.3 159.5 301 161.6C305.7 163.6 310.3 164.5 315 166.5C319.7 168.5 324.3 171.1 329 173.3C333.7 175.5 338.3 177.7 343 179.9C347.7 182.1 352.3 184 357 186.3C361.7 188.6 366.3 191.5 371 194C375.7 196.4 380.3 198.8 385 200.8C389.7 202.7 394.3 203.9 399 205.8C403.7 207.7 408.3 210.1 413 212.3C417.7 214.6 424.7 218.1 427 219.3" stroke="#38d820" stroke-width="2.2" stroke-linecap="round" stroke-dasharray="1 2.9 0.9 3.3 1.1 1.9 0.4 2.2 1.3 2.9 0.9 2.7 1 2.7 0.5 1.3 1.7 1.9" stroke-dashoffset="8" opacity="1"/>
<path d="M273 147.8C275.3 148.8 282.3 151.5 287 153.6C291.7 155.8 296.3 158.8 301 160.9C305.7 162.9 310.3 163.8 315 165.8C319.7 167.7 324.3 170.3 329 172.6C333.7 174.8 338.3 177 343 179.1C347.7 181.3 352.3 183.2 357 185.5C361.7 187.9 366.3 190.8 371 193.2C375.7 195.6 380.3 198.1 385 200C389.7 202 394.3 203.2 399 205.1C403.7 207 408.3 209.4 413 211.6C417.7 213.8 424.7 217.4 427 218.5" stroke="#40e020" stroke-width="1.2" stroke-linecap="round" stroke-dasharray="2 1.5 1 2.5 1 1.9 1.7 2.9 2.2 3 1.2 1.9 2.1 2.6 2.8 2.2" stroke-dashoffset="1.5" opacity="0.9"/>
<path d="M273 150.6C275.3 151.6 282.3 154.2 287 156.3C291.7 158.4 296.3 161.4 301 163.4C305.7 165.4 310.3 166.4 315 168.3C319.7 170.3 324.3 173 329 175.2C333.7 177.5 338.3 179.8 343 182C347.7 184.1 352.3 186 357 188.4C361.7 190.7 366.3 193.6 371 195.9C375.7 198.3 380.3 200.7 385 202.6C389.7 204.6 394.3 205.7 399 207.6C403.7 209.6 408.3 211.9 413 214.2C417.7 216.5 424.7 220.1 427 221.3" stroke="#40e020" stroke-width="1.2" stroke-linecap="round" stroke-dasharray="2.4 1.8 1.4 1.8 1.4 2.3 2.9 1.3 2 2.6 2.3 1.4 1.7 1.1 1.1 1.6" stroke-dashoffset="7" opacity="0.9"/>
<path d="M273 157.8C275.3 158.9 282.3 162.3 287 164.2C291.7 166.2 296.3 167.5 301 169.5C305.7 171.5 310.3 174 315 176.2C319.7 178.5 324.3 180.4 329 182.7C333.7 185.1 338.3 188 343 190.3C347.7 192.7 352.3 194.9 357 197C361.7 199.2 366.3 201 371 203.1C375.7 205.2 380.3 207.4 385 209.5C389.7 211.5 394.3 213.5 399 215.6C403.7 217.8 408.3 220.1 413 222.3C417.7 224.5 424.7 227.9 427 229.1" stroke="#38d820" stroke-width="2.2" stroke-linecap="round" stroke-dasharray="2.1 3.4 1.4 2.3 1.1 3.2 1.3 1.9 0.6 3.5 1.3 1.2 0.9 2.1 1.9 3.2 1.7 3.3" stroke-dashoffset="0.2" opacity="1"/>
<path d="M273 157.1C275.3 158.1 282.3 161.6 287 163.5C291.7 165.5 296.3 166.8 301 168.8C305.7 170.8 310.3 173.3 315 175.5C319.7 177.7 324.3 179.6 329 181.9C333.7 184.3 338.3 187.2 343 189.5C347.7 191.9 352.3 194.1 357 196.3C361.7 198.4 366.3 200.3 371 202.4C375.7 204.5 380.3 206.7 385 208.8C389.7 210.8 394.3 212.8 399 214.9C403.7 217 408.3 219.3 413 221.5C417.7 223.8 424.7 227.1 427 228.3" stroke="#40e020" stroke-width="1.2" stroke-linecap="round" stroke-dasharray="1.3 1.2 2.9 2.8 1.8 3 0.8 1.6 2.6 1 2.2 2 0.5 2.5 1.3 1" stroke-dashoffset="8.7" opacity="0.9"/>
<path d="M273 159.7C275.3 160.8 282.3 164.1 287 166.1C291.7 168 296.3 169.3 301 171.4C305.7 173.4 310.3 176 315 178.2C319.7 180.4 324.3 182.4 329 184.8C333.7 187.2 338.3 190 343 192.4C347.7 194.8 352.3 196.9 357 199C361.7 201.1 366.3 202.9 371 205C375.7 207 380.3 209.2 385 211.3C389.7 213.4 394.3 215.3 399 217.5C403.7 219.7 408.3 222.1 413 224.3C417.7 226.6 424.7 230 427 231.1" stroke="#40e020" stroke-width="1.2" stroke-linecap="round" stroke-dasharray="1.2 2 0.9 2.5 2.5 2.8 1.3 1.7 2.3 1.2 0.7 2.8 1 1.6 0.6 1.5" stroke-dashoffset="2.4" opacity="0.9"/>
</g>
<path d="M420 50 L341.5 162" stroke="#d02000" stroke-width="6.6" fill="none" opacity="0.6"/>
<path d="M420.4 50.3 L341.9 162.3" stroke="#000" stroke-width="4.2" fill="none" opacity="0.95"/>
</g>
<g clip-path="url(#ci2)"><g filter="url(#bl2)"><rect x="358.5" y="101.7" width="57" height="57.3" fill="#000"/>
<g fill="none"><path d="M351.5 81.8C353.8 83.2 360.8 87.3 365.5 90.2C370.2 93 374.8 95.9 379.5 98.7C384.2 101.4 388.8 104 393.5 106.8C398.2 109.6 402.8 112.6 407.5 115.4C412.2 118.2 419.2 122.3 421.5 123.6" stroke="#ff3000" stroke-width="9.5"/><path d="M351.5 81.8C353.8 83.2 360.8 87.3 365.5 90.2C370.2 93 374.8 95.9 379.5 98.7C384.2 101.4 388.8 104 393.5 106.8C398.2 109.6 402.8 112.6 407.5 115.4C412.2 118.2 419.2 122.3 421.5 123.6" stroke="#000" stroke-width="3.0" opacity="0.7"/><path d="M351.5 81.8C353.8 83.2 360.8 87.3 365.5 90.2C370.2 93 374.8 95.9 379.5 98.7C384.2 101.4 388.8 104 393.5 106.8C398.2 109.6 402.8 112.6 407.5 115.4C412.2 118.2 419.2 122.3 421.5 123.6" stroke="#000" stroke-width="10.5" stroke-dasharray="10.2 12.5 10.5 7.6 7 7.3 8.6 10.1 9.4 13.3" stroke-dashoffset="6.1" opacity="0.35"/><path d="M351.5 111.6C353.8 113 360.8 117.2 365.5 120.1C370.2 123 374.8 126 379.5 128.8C384.2 131.6 388.8 134.1 393.5 136.9C398.2 139.6 402.8 142.8 407.5 145.6C412.2 148.4 419.2 152.5 421.5 153.9" stroke="#ff3000" stroke-width="9.5"/><path d="M351.5 111.6C353.8 113 360.8 117.2 365.5 120.1C370.2 123 374.8 126 379.5 128.8C384.2 131.6 388.8 134.1 393.5 136.9C398.2 139.6 402.8 142.8 407.5 145.6C412.2 148.4 419.2 152.5 421.5 153.9" stroke="#000" stroke-width="3.0" opacity="0.7"/><path d="M351.5 111.6C353.8 113 360.8 117.2 365.5 120.1C370.2 123 374.8 126 379.5 128.8C384.2 131.6 388.8 134.1 393.5 136.9C398.2 139.6 402.8 142.8 407.5 145.6C412.2 148.4 419.2 152.5 421.5 153.9" stroke="#000" stroke-width="10.5" stroke-dasharray="9.6 8.8 3.2 16.2 7.2 17 8.2 13.8 5.4 18.7" stroke-dashoffset="0.8" opacity="0.35"/><path d="M351.5 141.6C353.8 143 360.8 147.1 365.5 150C370.2 152.8 374.8 155.8 379.5 158.7C384.2 161.5 388.8 164.1 393.5 166.9C398.2 169.7 402.8 172.7 407.5 175.5C412.2 178.3 419.2 182.3 421.5 183.7" stroke="#ff3000" stroke-width="9.5"/><path d="M351.5 141.6C353.8 143 360.8 147.1 365.5 150C370.2 152.8 374.8 155.8 379.5 158.7C384.2 161.5 388.8 164.1 393.5 166.9C398.2 169.7 402.8 172.7 407.5 175.5C412.2 178.3 419.2 182.3 421.5 183.7" stroke="#000" stroke-width="3.0" opacity="0.7"/><path d="M351.5 141.6C353.8 143 360.8 147.1 365.5 150C370.2 152.8 374.8 155.8 379.5 158.7C384.2 161.5 388.8 164.1 393.5 166.9C398.2 169.7 402.8 172.7 407.5 175.5C412.2 178.3 419.2 182.3 421.5 183.7" stroke="#000" stroke-width="10.5" stroke-dasharray="7.8 11.6 9.2 17 7.9 21.6 7.2 25 10.2 22.9" stroke-dashoffset="27.3" opacity="0.35"/></g>
<g fill="none" style="mix-blend-mode:screen"><g fill="#0a400a" opacity="0.8"><circle cx="373.1" cy="124.7" r="1.4"/><circle cx="396.6" cy="120.8" r="0.7"/><circle cx="390.4" cy="111.7" r="1.1"/><circle cx="392" cy="154.6" r="1.1"/><circle cx="371" cy="137.4" r="0.9"/><circle cx="388.3" cy="106.5" r="1.3"/><circle cx="402" cy="143.8" r="1.1"/><circle cx="367.3" cy="136.6" r="0.7"/><circle cx="393.5" cy="136.5" r="1.3"/><circle cx="368.6" cy="121.2" r="1.3"/><circle cx="372.9" cy="119.5" r="0.9"/><circle cx="367.3" cy="115.1" r="0.6"/><circle cx="406" cy="151.2" r="1.4"/><circle cx="408.9" cy="145.8" r="0.9"/><circle cx="400.1" cy="122.4" r="0.8"/><circle cx="408.7" cy="129.7" r="0.8"/><circle cx="401.3" cy="107.6" r="1.3"/><circle cx="397.2" cy="151.1" r="1.1"/><circle cx="410.6" cy="114.2" r="0.8"/><circle cx="399.2" cy="152.8" r="1"/><circle cx="393.1" cy="144.4" r="1.1"/><circle cx="389.9" cy="146.3" r="1.3"/><circle cx="393.4" cy="124" r="1"/><circle cx="382.1" cy="133.1" r="1.4"/><circle cx="382.3" cy="125.3" r="1.1"/><circle cx="392.1" cy="115.4" r="1.2"/><circle cx="383.9" cy="125.4" r="0.9"/><circle cx="383.9" cy="107.6" r="1"/><circle cx="386.5" cy="136.9" r="0.9"/><circle cx="385.3" cy="143.7" r="1"/><circle cx="363.4" cy="140.8" r="1"/><circle cx="378.1" cy="147.9" r="1.4"/><circle cx="406.6" cy="152.3" r="1.2"/><circle cx="384.1" cy="116.8" r="0.9"/><circle cx="406.8" cy="133.3" r="0.8"/><circle cx="370.5" cy="127.5" r="0.7"/><circle cx="380.8" cy="110.6" r="0.8"/><circle cx="395.8" cy="143.6" r="1.4"/><circle cx="407.5" cy="151.3" r="1.1"/><circle cx="377.8" cy="105.5" r="0.6"/><circle cx="386.3" cy="132.2" r="1"/><circle cx="410.5" cy="127.1" r="1.3"/><circle cx="379.8" cy="142.1" r="1.2"/><circle cx="366.2" cy="112.1" r="1.4"/><circle cx="374.7" cy="129.5" r="0.7"/><circle cx="388.6" cy="109.8" r="1"/><circle cx="397.8" cy="149.4" r="0.8"/><circle cx="380.8" cy="112.3" r="1"/><circle cx="408.9" cy="147.7" r="1"/><circle cx="400" cy="140.5" r="0.8"/><circle cx="375.3" cy="136.4" r="0.7"/><circle cx="375.8" cy="136.8" r="1.2"/><circle cx="403.5" cy="151.5" r="0.8"/><circle cx="411.9" cy="148.9" r="0.6"/><circle cx="385" cy="118.7" r="1"/><circle cx="383.2" cy="117.3" r="1.3"/><circle cx="370.3" cy="107.9" r="0.7"/><circle cx="399.4" cy="118.4" r="1.3"/><circle cx="395" cy="136.5" r="1"/><circle cx="409.1" cy="129.9" r="1.1"/><circle cx="371.8" cy="118.1" r="1.1"/><circle cx="408.3" cy="145.5" r="0.8"/><circle cx="375.7" cy="107.7" r="0.6"/><circle cx="388" cy="114.2" r="0.8"/><circle cx="410.4" cy="140.8" r="0.8"/><circle cx="374.3" cy="111.8" r="0.6"/><circle cx="386.7" cy="154.6" r="0.9"/><circle cx="372.8" cy="127.5" r="1.3"/><circle cx="365.9" cy="129.1" r="1.2"/><circle cx="398.6" cy="138.4" r="0.7"/><circle cx="381.2" cy="106.3" r="0.9"/><circle cx="403.8" cy="135.1" r="1.2"/><circle cx="370.7" cy="114" r="1"/><circle cx="403.6" cy="154.2" r="1.3"/><circle cx="395.5" cy="126.8" r="0.9"/><circle cx="372.5" cy="119.7" r="0.8"/><circle cx="401.4" cy="111" r="1"/><circle cx="410.5" cy="148.2" r="0.9"/><circle cx="376.5" cy="107.9" r="1.4"/><circle cx="374.2" cy="130.5" r="1.2"/><circle cx="385.9" cy="125.3" r="1.2"/><circle cx="375.1" cy="143.3" r="0.6"/><circle cx="395.7" cy="151" r="1.2"/><circle cx="409.3" cy="145.9" r="0.8"/><circle cx="387.8" cy="121.3" r="1.1"/><circle cx="394.1" cy="147" r="0.8"/><circle cx="379.2" cy="154.3" r="0.9"/><circle cx="374.8" cy="117.9" r="1.1"/><circle cx="402.9" cy="138.5" r="1.2"/><circle cx="388.8" cy="112.1" r="1.3"/><circle cx="400.2" cy="131" r="0.7"/><circle cx="400.5" cy="105.5" r="0.7"/><circle cx="409.7" cy="128.4" r="0.8"/><circle cx="366.5" cy="155.6" r="1.2"/><circle cx="390.5" cy="137.1" r="0.7"/><circle cx="409.1" cy="148.7" r="1.2"/><circle cx="386.9" cy="130.9" r="0.8"/><circle cx="378.9" cy="107.2" r="1"/><circle cx="383.8" cy="110.3" r="0.6"/><circle cx="391.9" cy="151" r="0.8"/><circle cx="392" cy="147.3" r="1.2"/><circle cx="361.8" cy="135.1" r="0.8"/><circle cx="370.9" cy="141.2" r="1.1"/><circle cx="367.4" cy="133.1" r="1.2"/><circle cx="389.8" cy="149.3" r="0.7"/><circle cx="375.4" cy="149" r="1.1"/><circle cx="369.9" cy="142.9" r="0.8"/><circle cx="384.5" cy="123.3" r="1.3"/><circle cx="411.4" cy="109.8" r="1.2"/><circle cx="370.3" cy="134.6" r="1"/></g><g fill="#1fa01f" opacity="0.8"><circle cx="387.7" cy="123.6" r="1.1"/><circle cx="398.2" cy="109.6" r="0.6"/><circle cx="392.4" cy="147.5" r="0.9"/><circle cx="403.5" cy="125.2" r="0.7"/><circle cx="412" cy="145.7" r="1.2"/><circle cx="392.2" cy="149.9" r="0.9"/><circle cx="405.6" cy="131.2" r="1"/><circle cx="365.1" cy="114.5" r="1"/><circle cx="395.6" cy="143" r="0.8"/><circle cx="410.8" cy="134.1" r="0.7"/><circle cx="395" cy="107.5" r="0.7"/><circle cx="381.2" cy="115.8" r="1.1"/><circle cx="382" cy="128.1" r="0.8"/><circle cx="392.3" cy="133.2" r="0.7"/><circle cx="400.1" cy="117.4" r="0.7"/><circle cx="363.8" cy="149.8" r="0.6"/><circle cx="385.6" cy="119.2" r="0.9"/><circle cx="383.2" cy="144.8" r="0.7"/><circle cx="400.1" cy="144.9" r="0.8"/><circle cx="382.8" cy="137.2" r="0.6"/><circle cx="364.4" cy="124.9" r="1.2"/><circle cx="394" cy="105.9" r="0.9"/><circle cx="400.9" cy="144.5" r="1.2"/><circle cx="397.3" cy="147.5" r="1.1"/><circle cx="377.3" cy="110.6" r="1"/><circle cx="402" cy="132.6" r="0.8"/><circle cx="370" cy="107.9" r="0.9"/><circle cx="369" cy="134.3" r="1.1"/><circle cx="386" cy="135.9" r="0.7"/><circle cx="379.3" cy="105.8" r="1"/><circle cx="391" cy="131.8" r="0.9"/><circle cx="405.8" cy="106.6" r="1.2"/><circle cx="374.6" cy="142.2" r="0.9"/><circle cx="400.3" cy="147" r="1"/><circle cx="408.9" cy="122.5" r="1"/><circle cx="391.4" cy="135.4" r="1.2"/><circle cx="406.8" cy="110" r="0.9"/><circle cx="371.2" cy="135.8" r="1"/><circle cx="365.1" cy="137.1" r="0.8"/><circle cx="374.1" cy="146.4" r="0.6"/><circle cx="395.7" cy="148.4" r="0.7"/><circle cx="403.2" cy="120.1" r="1.1"/><circle cx="369.1" cy="116.2" r="0.9"/><circle cx="387.6" cy="142.3" r="0.7"/><circle cx="382.2" cy="153.9" r="1.1"/></g><path d="M351.5 81.8C353.8 83.2 360.8 87.3 365.5 90.2C370.2 93 374.8 95.9 379.5 98.7C384.2 101.4 388.8 104 393.5 106.8C398.2 109.6 402.8 112.6 407.5 115.4C412.2 118.2 419.2 122.3 421.5 123.6" stroke="#30c020" stroke-width="2.8" stroke-linecap="round" stroke-dasharray="1.2 2.9 0.5 3.2 1.3 4.2 0.8 3.6 1.6 5.9 1.6 5.4 0.5 4.6 1.1 3.5 0.3 3" stroke-dashoffset="2.4" opacity="1"/><path d="M351.5 78.8C353.8 80.2 360.8 84.3 365.5 87.2C370.2 90 374.8 92.9 379.5 95.7C384.2 98.4 388.8 101 393.5 103.8C398.2 106.6 402.8 109.6 407.5 112.4C412.2 115.2 419.2 119.3 421.5 120.6" stroke="#80e020" stroke-width="2.0" stroke-linecap="round" stroke-dasharray="0.8 5.7 0.4 5.8 1.6 4.2 0.6 2.5 1.8 6 1.9 5.5 0.7 2.7 1.2 6" stroke-dashoffset="8" opacity="0.9"/><path d="M351.5 84.8C353.8 86.2 360.8 90.3 365.5 93.2C370.2 96 374.8 98.9 379.5 101.7C384.2 104.4 388.8 107 393.5 109.8C398.2 112.6 402.8 115.6 407.5 118.4C412.2 121.2 419.2 125.3 421.5 126.6" stroke="#80e020" stroke-width="2.0" stroke-linecap="round" stroke-dasharray="1.7 4 0.4 5.8 0.7 2.8 1.2 3.4 1.7 4.3 1.4 5.3 0.6 4.6 1.4 5.2" stroke-dashoffset="8.1" opacity="0.9"/><path d="M351.5 111.6C353.8 113 360.8 117.2 365.5 120.1C370.2 123 374.8 126 379.5 128.8C384.2 131.6 388.8 134.1 393.5 136.9C398.2 139.6 402.8 142.8 407.5 145.6C412.2 148.4 419.2 152.5 421.5 153.9" stroke="#30c020" stroke-width="2.8" stroke-linecap="round" stroke-dasharray="0.4 4.1 1.3 3.2 0.9 4.7 1.5 5 0.9 4.9 0.5 4.9 1 5.4 1.4 6 1.7 4.8" stroke-dashoffset="2.9" opacity="1"/><path d="M351.5 108.6C353.8 110 360.8 114.2 365.5 117.1C370.2 120 374.8 123 379.5 125.8C384.2 128.6 388.8 131.1 393.5 133.9C398.2 136.6 402.8 139.8 407.5 142.6C412.2 145.4 419.2 149.5 421.5 150.9" stroke="#80e020" stroke-width="2.0" stroke-linecap="round" stroke-dasharray="1 4.5 1.5 4.3 1.9 4 1.3 4.9 0.4 5.9 0.9 2.6 0.4 3.7 0.5 6.4" stroke-dashoffset="1.6" opacity="0.9"/><path d="M351.5 114.6C353.8 116 360.8 120.2 365.5 123.1C370.2 126 374.8 129 379.5 131.8C384.2 134.6 388.8 137.1 393.5 139.9C398.2 142.6 402.8 145.8 407.5 148.6C412.2 151.4 419.2 155.5 421.5 156.9" stroke="#80e020" stroke-width="2.0" stroke-linecap="round" stroke-dasharray="0.8 5 0.6 5.3 0.9 6 1.3 4 1.1 2.6 0.5 6 1.8 3.4 1.4 2.8" stroke-dashoffset="6.9" opacity="0.9"/><path d="M351.5 141.6C353.8 143 360.8 147.1 365.5 150C370.2 152.8 374.8 155.8 379.5 158.7C384.2 161.5 388.8 164.1 393.5 166.9C398.2 169.7 402.8 172.7 407.5 175.5C412.2 178.3 419.2 182.3 421.5 183.7" stroke="#30c020" stroke-width="2.8" stroke-linecap="round" stroke-dasharray="1.4 3.9 0.6 4.1 0.7 6.1 1.7 3.3 1.1 3.8 1.4 3.3 0.3 3.4 1.3 6.3 1.4 6.4" stroke-dashoffset="9" opacity="1"/><path d="M351.5 138.6C353.8 140 360.8 144.1 365.5 147C370.2 149.8 374.8 152.8 379.5 155.7C384.2 158.5 388.8 161.1 393.5 163.9C398.2 166.7 402.8 169.7 407.5 172.5C412.2 175.3 419.2 179.3 421.5 180.7" stroke="#80e020" stroke-width="2.0" stroke-linecap="round" stroke-dasharray="1 4.2 1.4 4.1 0.8 4.1 1.7 5.1 1.5 2.8 1.3 4.1 0.9 2.6 0.8 2.6" stroke-dashoffset="6" opacity="0.9"/><path d="M351.5 144.6C353.8 146 360.8 150.1 365.5 153C370.2 155.8 374.8 158.8 379.5 161.7C384.2 164.5 388.8 167.1 393.5 169.9C398.2 172.7 402.8 175.7 407.5 178.5C412.2 181.3 419.2 185.3 421.5 186.7" stroke="#80e020" stroke-width="2.0" stroke-linecap="round" stroke-dasharray="0.8 6.3 0.9 3.3 0.4 3 1.4 4.3 1.1 5.6 1.6 2.7 1.2 5 0.4 5.4" stroke-dashoffset="2.1" opacity="0.9"/></g>
</g></g>
<path d="M362.0 156V105.2H412" fill="none" stroke="#fff" stroke-width="1.1"/>
</g>
<text x="287" y="39.5" font-size="12" font-weight="bold" fill="#fff">B</text>
<g clip-path="url(#c3)">
<g filter="url(#bl)">
<rect x="6" y="170" width="134" height="136" fill="#000"/>
<g fill="none"><path d="M-1 39.9C1.3 41.6 8.3 46.7 13 49.9C17.7 53.1 22.3 56.2 27 59.1C31.7 62 36.3 64.6 41 67.4C45.7 70.1 50.3 72.8 55 75.6C59.7 78.4 64.3 81.5 69 84.4C73.7 87.2 78.3 89.9 83 92.7C87.7 95.5 92.3 98.4 97 101C101.7 103.6 106.3 106.2 111 108.3C115.7 110.5 120.3 112.3 125 114.2C129.7 116.1 134.3 117.7 139 119.7C143.7 121.7 150.7 125.1 153 126.1" stroke="#ff2a00" stroke-width="10.0"/><path d="M-1 39.9C1.3 41.6 8.3 46.7 13 49.9C17.7 53.1 22.3 56.2 27 59.1C31.7 62 36.3 64.6 41 67.4C45.7 70.1 50.3 72.8 55 75.6C59.7 78.4 64.3 81.5 69 84.4C73.7 87.2 78.3 89.9 83 92.7C87.7 95.5 92.3 98.4 97 101C101.7 103.6 106.3 106.2 111 108.3C115.7 110.5 120.3 112.3 125 114.2C129.7 116.1 134.3 117.7 139 119.7C143.7 121.7 150.7 125.1 153 126.1" stroke="#000" stroke-width="4.0" opacity="1"/><path d="M-1 39.9C1.3 41.6 8.3 46.7 13 49.9C17.7 53.1 22.3 56.2 27 59.1C31.7 62 36.3 64.6 41 67.4C45.7 70.1 50.3 72.8 55 75.6C59.7 78.4 64.3 81.5 69 84.4C73.7 87.2 78.3 89.9 83 92.7C87.7 95.5 92.3 98.4 97 101C101.7 103.6 106.3 106.2 111 108.3C115.7 110.5 120.3 112.3 125 114.2C129.7 116.1 134.3 117.7 139 119.7C143.7 121.7 150.7 125.1 153 126.1" stroke="#000" stroke-width="11.0" stroke-dasharray="4 10.8 3.5 23.5 8.8 9.7 3.3 22.1 6.3 10" stroke-dashoffset="12.2" opacity="0.25"/><path d="M-1 58.7C1.3 60.1 8.3 64.2 13 67.2C17.7 70.2 22.3 73.6 27 76.7C31.7 79.9 36.3 83.2 41 86.2C45.7 89.1 50.3 91.7 55 94.6C59.7 97.5 64.3 100.8 69 103.6C73.7 106.4 78.3 108.9 83 111.4C87.7 113.9 92.3 116.5 97 118.9C101.7 121.3 106.3 123.5 111 125.7C115.7 127.8 120.3 129.8 125 131.9C129.7 134 134.3 136.2 139 138.4C143.7 140.6 150.7 144.1 153 145.2" stroke="#ff2a00" stroke-width="10.0"/><path d="M-1 58.7C1.3 60.1 8.3 64.2 13 67.2C17.7 70.2 22.3 73.6 27 76.7C31.7 79.9 36.3 83.2 41 86.2C45.7 89.1 50.3 91.7 55 94.6C59.7 97.5 64.3 100.8 69 103.6C73.7 106.4 78.3 108.9 83 111.4C87.7 113.9 92.3 116.5 97 118.9C101.7 121.3 106.3 123.5 111 125.7C115.7 127.8 120.3 129.8 125 131.9C129.7 134 134.3 136.2 139 138.4C143.7 140.6 150.7 144.1 153 145.2" stroke="#000" stroke-width="4.0" opacity="1"/><path d="M-1 58.7C1.3 60.1 8.3 64.2 13 67.2C17.7 70.2 22.3 73.6 27 76.7C31.7 79.9 36.3 83.2 41 86.2C45.7 89.1 50.3 91.7 55 94.6C59.7 97.5 64.3 100.8 69 103.6C73.7 106.4 78.3 108.9 83 111.4C87.7 113.9 92.3 116.5 97 118.9C101.7 121.3 106.3 123.5 111 125.7C115.7 127.8 120.3 129.8 125 131.9C129.7 134 134.3 136.2 139 138.4C143.7 140.6 150.7 144.1 153 145.2" stroke="#000" stroke-width="11.0" stroke-dasharray="4.5 19.8 11.2 7.5 4.6 20.6 3.5 18.9 9.7 23" stroke-dashoffset="16.2" opacity="0.25"/><path d="M-1 74.9C1.3 76.5 8.3 81.1 13 84.3C17.7 87.5 22.3 90.8 27 94.1C31.7 97.4 36.3 101 41 104.2C45.7 107.3 50.3 110.3 55 113.1C59.7 116 64.3 118.8 69 121.5C73.7 124.2 78.3 126.9 83 129.3C87.7 131.7 92.3 133.7 97 136C101.7 138.2 106.3 140.3 111 142.7C115.7 145 120.3 147.6 125 150C129.7 152.4 134.3 155 139 157.1C143.7 159.1 150.7 161.5 153 162.4" stroke="#ff2a00" stroke-width="10.0"/><path d="M-1 74.9C1.3 76.5 8.3 81.1 13 84.3C17.7 87.5 22.3 90.8 27 94.1C31.7 97.4 36.3 101 41 104.2C45.7 107.3 50.3 110.3 55 113.1C59.7 116 64.3 118.8 69 121.5C73.7 124.2 78.3 126.9 83 129.3C87.7 131.7 92.3 133.7 97 136C101.7 138.2 106.3 140.3 111 142.7C115.7 145 120.3 147.6 125 150C129.7 152.4 134.3 155 139 157.1C143.7 159.1 150.7 161.5 153 162.4" stroke="#000" stroke-width="4.0" opacity="1"/><path d="M-1 74.9C1.3 76.5 8.3 81.1 13 84.3C17.7 87.5 22.3 90.8 27 94.1C31.7 97.4 36.3 101 41 104.2C45.7 107.3 50.3 110.3 55 113.1C59.7 116 64.3 118.8 69 121.5C73.7 124.2 78.3 126.9 83 129.3C87.7 131.7 92.3 133.7 97 136C101.7 138.2 106.3 140.3 111 142.7C115.7 145 120.3 147.6 125 150C129.7 152.4 134.3 155 139 157.1C143.7 159.1 150.7 161.5 153 162.4" stroke="#000" stroke-width="11.0" stroke-dasharray="6.8 10.1 8.2 14.4 7.6 17.7 11.8 19.6 8.6 19.3" stroke-dashoffset="8" opacity="0.25"/><path d="M-1 92.7C1.3 94.5 8.3 100 13 103.5C17.7 107.1 22.3 110.6 27 113.8C31.7 117.1 36.3 120.2 41 123.1C45.7 125.9 50.3 128.4 55 131C59.7 133.5 64.3 135.7 69 138.3C73.7 140.9 78.3 143.9 83 146.6C87.7 149.3 92.3 151.9 97 154.5C101.7 157 106.3 159.5 111 162.1C115.7 164.7 120.3 168 125 170.1C129.7 172.1 134.3 172.9 139 174.7C143.7 176.5 150.7 179.9 153 180.9" stroke="#ff2a00" stroke-width="10.0"/><path d="M-1 92.7C1.3 94.5 8.3 100 13 103.5C17.7 107.1 22.3 110.6 27 113.8C31.7 117.1 36.3 120.2 41 123.1C45.7 125.9 50.3 128.4 55 131C59.7 133.5 64.3 135.7 69 138.3C73.7 140.9 78.3 143.9 83 146.6C87.7 149.3 92.3 151.9 97 154.5C101.7 157 106.3 159.5 111 162.1C115.7 164.7 120.3 168 125 170.1C129.7 172.1 134.3 172.9 139 174.7C143.7 176.5 150.7 179.9 153 180.9" stroke="#000" stroke-width="4.0" opacity="1"/><path d="M-1 92.7C1.3 94.5 8.3 100 13 103.5C17.7 107.1 22.3 110.6 27 113.8C31.7 117.1 36.3 120.2 41 123.1C45.7 125.9 50.3 128.4 55 131C59.7 133.5 64.3 135.7 69 138.3C73.7 140.9 78.3 143.9 83 146.6C87.7 149.3 92.3 151.9 97 154.5C101.7 157 106.3 159.5 111 162.1C115.7 164.7 120.3 168 125 170.1C129.7 172.1 134.3 172.9 139 174.7C143.7 176.5 150.7 179.9 153 180.9" stroke="#000" stroke-width="11.0" stroke-dasharray="5.6 12.4 6.8 15.5 7.4 15.4 10.4 12.3 7.6 9.6" stroke-dashoffset="11" opacity="0.25"/><path d="M-1 111.3C1.3 113.2 8.3 119.2 13 122.4C17.7 125.6 22.3 127.7 27 130.5C31.7 133.3 36.3 136.2 41 139C45.7 141.9 50.3 144.6 55 147.5C59.7 150.4 64.3 153.6 69 156.5C73.7 159.3 78.3 162 83 164.7C87.7 167.4 92.3 170.1 97 172.6C101.7 175.1 106.3 177.7 111 179.8C115.7 182 120.3 183.6 125 185.6C129.7 187.6 134.3 189.6 139 191.6C143.7 193.7 150.7 196.7 153 197.7" stroke="#ff2a00" stroke-width="10.0"/><path d="M-1 111.3C1.3 113.2 8.3 119.2 13 122.4C17.7 125.6 22.3 127.7 27 130.5C31.7 133.3 36.3 136.2 41 139C45.7 141.9 50.3 144.6 55 147.5C59.7 150.4 64.3 153.6 69 156.5C73.7 159.3 78.3 162 83 164.7C87.7 167.4 92.3 170.1 97 172.6C101.7 175.1 106.3 177.7 111 179.8C115.7 182 120.3 183.6 125 185.6C129.7 187.6 134.3 189.6 139 191.6C143.7 193.7 150.7 196.7 153 197.7" stroke="#000" stroke-width="4.0" opacity="1"/><path d="M-1 111.3C1.3 113.2 8.3 119.2 13 122.4C17.7 125.6 22.3 127.7 27 130.5C31.7 133.3 36.3 136.2 41 139C45.7 141.9 50.3 144.6 55 147.5C59.7 150.4 64.3 153.6 69 156.5C73.7 159.3 78.3 162 83 164.7C87.7 167.4 92.3 170.1 97 172.6C101.7 175.1 106.3 177.7 111 179.8C115.7 182 120.3 183.6 125 185.6C129.7 187.6 134.3 189.6 139 191.6C143.7 193.7 150.7 196.7 153 197.7" stroke="#000" stroke-width="11.0" stroke-dasharray="4.9 22.9 7.6 8.1 5.4 15.2 5.9 18.4 7.9 14.7" stroke-dashoffset="21.8" opacity="0.25"/><path d="M-1 129.7C1.3 131.3 8.3 136.4 13 139.5C17.7 142.5 22.3 145.2 27 148.1C31.7 151 36.3 153.9 41 157C45.7 160 50.3 163.3 55 166.4C59.7 169.6 64.3 172.9 69 175.8C73.7 178.7 78.3 181.3 83 183.8C87.7 186.4 92.3 188.8 97 191C101.7 193.3 106.3 195.3 111 197.3C115.7 199.2 120.3 200.8 125 203C129.7 205.2 134.3 208.1 139 210.6C143.7 213 150.7 216.6 153 217.8" stroke="#ff2a00" stroke-width="10.0"/><path d="M-1 129.7C1.3 131.3 8.3 136.4 13 139.5C17.7 142.5 22.3 145.2 27 148.1C31.7 151 36.3 153.9 41 157C45.7 160 50.3 163.3 55 166.4C59.7 169.6 64.3 172.9 69 175.8C73.7 178.7 78.3 181.3 83 183.8C87.7 186.4 92.3 188.8 97 191C101.7 193.3 106.3 195.3 111 197.3C115.7 199.2 120.3 200.8 125 203C129.7 205.2 134.3 208.1 139 210.6C143.7 213 150.7 216.6 153 217.8" stroke="#000" stroke-width="4.0" opacity="1"/><path d="M-1 129.7C1.3 131.3 8.3 136.4 13 139.5C17.7 142.5 22.3 145.2 27 148.1C31.7 151 36.3 153.9 41 157C45.7 160 50.3 163.3 55 166.4C59.7 169.6 64.3 172.9 69 175.8C73.7 178.7 78.3 181.3 83 183.8C87.7 186.4 92.3 188.8 97 191C101.7 193.3 106.3 195.3 111 197.3C115.7 199.2 120.3 200.8 125 203C129.7 205.2 134.3 208.1 139 210.6C143.7 213 150.7 216.6 153 217.8" stroke="#000" stroke-width="11.0" stroke-dasharray="9.8 13.8 4.4 23.1 11.5 7.4 4 18.2 6.3 7.8" stroke-dashoffset="18.5" opacity="0.25"/><path d="M-1 146.6C1.3 148.2 8.3 153 13 156.3C17.7 159.5 22.3 162.9 27 166.1C31.7 169.3 36.3 172.2 41 175.4C45.7 178.6 50.3 182.3 55 185.3C59.7 188.2 64.3 190.7 69 193.1C73.7 195.5 78.3 197.4 83 199.8C87.7 202.1 92.3 204.6 97 207C101.7 209.4 106.3 211.6 111 214.2C115.7 216.8 120.3 220.3 125 222.7C129.7 225.1 134.3 226.6 139 228.6C143.7 230.6 150.7 233.7 153 234.7" stroke="#ff2a00" stroke-width="10.0"/><path d="M-1 146.6C1.3 148.2 8.3 153 13 156.3C17.7 159.5 22.3 162.9 27 166.1C31.7 169.3 36.3 172.2 41 175.4C45.7 178.6 50.3 182.3 55 185.3C59.7 188.2 64.3 190.7 69 193.1C73.7 195.5 78.3 197.4 83 199.8C87.7 202.1 92.3 204.6 97 207C101.7 209.4 106.3 211.6 111 214.2C115.7 216.8 120.3 220.3 125 222.7C129.7 225.1 134.3 226.6 139 228.6C143.7 230.6 150.7 233.7 153 234.7" stroke="#000" stroke-width="4.0" opacity="1"/><path d="M-1 146.6C1.3 148.2 8.3 153 13 156.3C17.7 159.5 22.3 162.9 27 166.1C31.7 169.3 36.3 172.2 41 175.4C45.7 178.6 50.3 182.3 55 185.3C59.7 188.2 64.3 190.7 69 193.1C73.7 195.5 78.3 197.4 83 199.8C87.7 202.1 92.3 204.6 97 207C101.7 209.4 106.3 211.6 111 214.2C115.7 216.8 120.3 220.3 125 222.7C129.7 225.1 134.3 226.6 139 228.6C143.7 230.6 150.7 233.7 153 234.7" stroke="#000" stroke-width="11.0" stroke-dasharray="5.5 8.5 8.1 15.3 9.5 24.9 7.2 7.4 9.7 6.8" stroke-dashoffset="5.9" opacity="0.25"/><path d="M-1 163.7C1.3 165.6 8.3 171.5 13 175C17.7 178.6 22.3 181.9 27 185C31.7 188.2 36.3 191 41 193.7C45.7 196.4 50.3 198.8 55 201.4C59.7 204.1 64.3 207.1 69 209.7C73.7 212.3 78.3 214.5 83 217.1C87.7 219.8 92.3 222.7 97 225.5C101.7 228.3 106.3 231.3 111 233.8C115.7 236.3 120.3 238.4 125 240.4C129.7 242.4 134.3 243.9 139 245.8C143.7 247.7 150.7 250.6 153 251.5" stroke="#ff2a00" stroke-width="10.0"/><path d="M-1 163.7C1.3 165.6 8.3 171.5 13 175C17.7 178.6 22.3 181.9 27 185C31.7 188.2 36.3 191 41 193.7C45.7 196.4 50.3 198.8 55 201.4C59.7 204.1 64.3 207.1 69 209.7C73.7 212.3 78.3 214.5 83 217.1C87.7 219.8 92.3 222.7 97 225.5C101.7 228.3 106.3 231.3 111 233.8C115.7 236.3 120.3 238.4 125 240.4C129.7 242.4 134.3 243.9 139 245.8C143.7 247.7 150.7 250.6 153 251.5" stroke="#000" stroke-width="4.0" opacity="1"/><path d="M-1 163.7C1.3 165.6 8.3 171.5 13 175C17.7 178.6 22.3 181.9 27 185C31.7 188.2 36.3 191 41 193.7C45.7 196.4 50.3 198.8 55 201.4C59.7 204.1 64.3 207.1 69 209.7C73.7 212.3 78.3 214.5 83 217.1C87.7 219.8 92.3 222.7 97 225.5C101.7 228.3 106.3 231.3 111 233.8C115.7 236.3 120.3 238.4 125 240.4C129.7 242.4 134.3 243.9 139 245.8C143.7 247.7 150.7 250.6 153 251.5" stroke="#000" stroke-width="11.0" stroke-dasharray="4.2 11 6.5 7.7 9.1 20.8 6.4 18.7 5.8 16.4" stroke-dashoffset="3.5" opacity="0.25"/><path d="M-1 183.4C1.3 184.9 8.3 189.7 13 192.7C17.7 195.7 22.3 198.5 27 201.4C31.7 204.4 36.3 207.6 41 210.5C45.7 213.5 50.3 216.6 55 219.2C59.7 221.9 64.3 223.8 69 226.6C73.7 229.4 78.3 233.1 83 236C87.7 238.9 92.3 241.7 97 244.2C101.7 246.6 106.3 248.6 111 250.8C115.7 253 120.3 255.4 125 257.4C129.7 259.3 134.3 260.5 139 262.5C143.7 264.4 150.7 268 153 269.1" stroke="#ff2a00" stroke-width="10.0"/><path d="M-1 183.4C1.3 184.9 8.3 189.7 13 192.7C17.7 195.7 22.3 198.5 27 201.4C31.7 204.4 36.3 207.6 41 210.5C45.7 213.5 50.3 216.6 55 219.2C59.7 221.9 64.3 223.8 69 226.6C73.7 229.4 78.3 233.1 83 236C87.7 238.9 92.3 241.7 97 244.2C101.7 246.6 106.3 248.6 111 250.8C115.7 253 120.3 255.4 125 257.4C129.7 259.3 134.3 260.5 139 262.5C143.7 264.4 150.7 268 153 269.1" stroke="#000" stroke-width="4.0" opacity="1"/><path d="M-1 183.4C1.3 184.9 8.3 189.7 13 192.7C17.7 195.7 22.3 198.5 27 201.4C31.7 204.4 36.3 207.6 41 210.5C45.7 213.5 50.3 216.6 55 219.2C59.7 221.9 64.3 223.8 69 226.6C73.7 229.4 78.3 233.1 83 236C87.7 238.9 92.3 241.7 97 244.2C101.7 246.6 106.3 248.6 111 250.8C115.7 253 120.3 255.4 125 257.4C129.7 259.3 134.3 260.5 139 262.5C143.7 264.4 150.7 268 153 269.1" stroke="#000" stroke-width="11.0" stroke-dasharray="9.2 7.5 10.3 11.5 5.7 8.3 3.4 11.5 4.1 14.1" stroke-dashoffset="11.4" opacity="0.25"/><path d="M-1 200.5C1.3 201.9 8.3 206.2 13 209.1C17.7 212.1 22.3 215.2 27 218.2C31.7 221.2 36.3 224.1 41 227.2C45.7 230.3 50.3 233.7 55 236.8C59.7 240 64.3 243.2 69 246.1C73.7 248.9 78.3 251.4 83 253.9C87.7 256.4 92.3 258.7 97 261C101.7 263.3 106.3 265.6 111 267.6C115.7 269.7 120.3 271.3 125 273.4C129.7 275.5 134.3 277.8 139 280.1C143.7 282.4 150.7 285.9 153 287.1" stroke="#ff2a00" stroke-width="10.0"/><path d="M-1 200.5C1.3 201.9 8.3 206.2 13 209.1C17.7 212.1 22.3 215.2 27 218.2C31.7 221.2 36.3 224.1 41 227.2C45.7 230.3 50.3 233.7 55 236.8C59.7 240 64.3 243.2 69 246.1C73.7 248.9 78.3 251.4 83 253.9C87.7 256.4 92.3 258.7 97 261C101.7 263.3 106.3 265.6 111 267.6C115.7 269.7 120.3 271.3 125 273.4C129.7 275.5 134.3 277.8 139 280.1C143.7 282.4 150.7 285.9 153 287.1" stroke="#000" stroke-width="4.0" opacity="1"/><path d="M-1 200.5C1.3 201.9 8.3 206.2 13 209.1C17.7 212.1 22.3 215.2 27 218.2C31.7 221.2 36.3 224.1 41 227.2C45.7 230.3 50.3 233.7 55 236.8C59.7 240 64.3 243.2 69 246.1C73.7 248.9 78.3 251.4 83 253.9C87.7 256.4 92.3 258.7 97 261C101.7 263.3 106.3 265.6 111 267.6C115.7 269.7 120.3 271.3 125 273.4C129.7 275.5 134.3 277.8 139 280.1C143.7 282.4 150.7 285.9 153 287.1" stroke="#000" stroke-width="11.0" stroke-dasharray="8.1 14.4 7 6.5 6.7 23.9 3.5 8.4 12 23.4" stroke-dashoffset="21.3" opacity="0.25"/><path d="M-1 217C1.3 218.7 8.3 223.6 13 227C17.7 230.5 22.3 234.4 27 237.7C31.7 241.1 36.3 244.2 41 247.3C45.7 250.4 50.3 253.4 55 256.2C59.7 259.1 64.3 261.9 69 264.3C73.7 266.7 78.3 268.3 83 270.7C87.7 273.1 92.3 276.1 97 278.5C101.7 280.9 106.3 282.6 111 285.1C115.7 287.6 120.3 290.9 125 293.4C129.7 295.8 134.3 297.6 139 299.7C143.7 301.7 150.7 304.6 153 305.6" stroke="#ff2a00" stroke-width="10.0"/><path d="M-1 217C1.3 218.7 8.3 223.6 13 227C17.7 230.5 22.3 234.4 27 237.7C31.7 241.1 36.3 244.2 41 247.3C45.7 250.4 50.3 253.4 55 256.2C59.7 259.1 64.3 261.9 69 264.3C73.7 266.7 78.3 268.3 83 270.7C87.7 273.1 92.3 276.1 97 278.5C101.7 280.9 106.3 282.6 111 285.1C115.7 287.6 120.3 290.9 125 293.4C129.7 295.8 134.3 297.6 139 299.7C143.7 301.7 150.7 304.6 153 305.6" stroke="#000" stroke-width="4.0" opacity="1"/><path d="M-1 217C1.3 218.7 8.3 223.6 13 227C17.7 230.5 22.3 234.4 27 237.7C31.7 241.1 36.3 244.2 41 247.3C45.7 250.4 50.3 253.4 55 256.2C59.7 259.1 64.3 261.9 69 264.3C73.7 266.7 78.3 268.3 83 270.7C87.7 273.1 92.3 276.1 97 278.5C101.7 280.9 106.3 282.6 111 285.1C115.7 287.6 120.3 290.9 125 293.4C129.7 295.8 134.3 297.6 139 299.7C143.7 301.7 150.7 304.6 153 305.6" stroke="#000" stroke-width="11.0" stroke-dasharray="11.5 22.7 10.4 24.2 7.3 24.3 4.1 17.2 4.6 15.3" stroke-dashoffset="1.6" opacity="0.25"/><path d="M-1 235C1.3 236.8 8.3 242.1 13 245.5C17.7 248.9 22.3 252.2 27 255.3C31.7 258.4 36.3 261.3 41 264.1C45.7 266.9 50.3 269.2 55 271.9C59.7 274.6 64.3 277.6 69 280.2C73.7 282.9 78.3 285.5 83 288.1C87.7 290.7 92.3 293.2 97 295.8C101.7 298.5 106.3 301.5 111 304.1C115.7 306.7 120.3 309.5 125 311.5C129.7 313.6 134.3 314.8 139 316.5C143.7 318.2 150.7 320.7 153 321.6" stroke="#ff2a00" stroke-width="10.0"/><path d="M-1 235C1.3 236.8 8.3 242.1 13 245.5C17.7 248.9 22.3 252.2 27 255.3C31.7 258.4 36.3 261.3 41 264.1C45.7 266.9 50.3 269.2 55 271.9C59.7 274.6 64.3 277.6 69 280.2C73.7 282.9 78.3 285.5 83 288.1C87.7 290.7 92.3 293.2 97 295.8C101.7 298.5 106.3 301.5 111 304.1C115.7 306.7 120.3 309.5 125 311.5C129.7 313.6 134.3 314.8 139 316.5C143.7 318.2 150.7 320.7 153 321.6" stroke="#000" stroke-width="4.0" opacity="1"/><path d="M-1 235C1.3 236.8 8.3 242.1 13 245.5C17.7 248.9 22.3 252.2 27 255.3C31.7 258.4 36.3 261.3 41 264.1C45.7 266.9 50.3 269.2 55 271.9C59.7 274.6 64.3 277.6 69 280.2C73.7 282.9 78.3 285.5 83 288.1C87.7 290.7 92.3 293.2 97 295.8C101.7 298.5 106.3 301.5 111 304.1C115.7 306.7 120.3 309.5 125 311.5C129.7 313.6 134.3 314.8 139 316.5C143.7 318.2 150.7 320.7 153 321.6" stroke="#000" stroke-width="11.0" stroke-dasharray="9.1 7.6 8 7.6 8.8 9 4.4 9.2 8 6.1" stroke-dashoffset="1" opacity="0.25"/><path d="M-1 253.8C1.3 255.4 8.3 260.3 13 263.4C17.7 266.5 22.3 269.5 27 272.4C31.7 275.3 36.3 277.9 41 280.7C45.7 283.6 50.3 286.5 55 289.3C59.7 292.2 64.3 295.1 69 297.9C73.7 300.7 78.3 303.5 83 306.3C87.7 309 92.3 312.1 97 314.7C101.7 317.2 106.3 319.3 111 321.5C115.7 323.7 120.3 325.8 125 327.7C129.7 329.6 134.3 331.1 139 332.8C143.7 334.6 150.7 337.4 153 338.3" stroke="#ff2a00" stroke-width="10.0"/><path d="M-1 253.8C1.3 255.4 8.3 260.3 13 263.4C17.7 266.5 22.3 269.5 27 272.4C31.7 275.3 36.3 277.9 41 280.7C45.7 283.6 50.3 286.5 55 289.3C59.7 292.2 64.3 295.1 69 297.9C73.7 300.7 78.3 303.5 83 306.3C87.7 309 92.3 312.1 97 314.7C101.7 317.2 106.3 319.3 111 321.5C115.7 323.7 120.3 325.8 125 327.7C129.7 329.6 134.3 331.1 139 332.8C143.7 334.6 150.7 337.4 153 338.3" stroke="#000" stroke-width="4.0" opacity="1"/><path d="M-1 253.8C1.3 255.4 8.3 260.3 13 263.4C17.7 266.5 22.3 269.5 27 272.4C31.7 275.3 36.3 277.9 41 280.7C45.7 283.6 50.3 286.5 55 289.3C59.7 292.2 64.3 295.1 69 297.9C73.7 300.7 78.3 303.5 83 306.3C87.7 309 92.3 312.1 97 314.7C101.7 317.2 106.3 319.3 111 321.5C115.7 323.7 120.3 325.8 125 327.7C129.7 329.6 134.3 331.1 139 332.8C143.7 334.6 150.7 337.4 153 338.3" stroke="#000" stroke-width="11.0" stroke-dasharray="7.9 9.2 9.6 10.5 8.5 9.4 3.6 7.4 11.1 19" stroke-dashoffset="12.6" opacity="0.25"/><path d="M-1 271.4C1.3 272.9 8.3 277.2 13 280.1C17.7 283.1 22.3 286.3 27 289.3C31.7 292.3 36.3 294.9 41 298C45.7 301.2 50.3 305 55 308.1C59.7 311.2 64.3 313.8 69 316.6C73.7 319.5 78.3 322.7 83 325.1C87.7 327.5 92.3 329 97 331.2C101.7 333.4 106.3 336.1 111 338.3C115.7 340.6 120.3 342.7 125 344.9C129.7 347 134.3 349 139 351.1C143.7 353.3 150.7 356.8 153 357.9" stroke="#ff2a00" stroke-width="10.0"/><path d="M-1 271.4C1.3 272.9 8.3 277.2 13 280.1C17.7 283.1 22.3 286.3 27 289.3C31.7 292.3 36.3 294.9 41 298C45.7 301.2 50.3 305 55 308.1C59.7 311.2 64.3 313.8 69 316.6C73.7 319.5 78.3 322.7 83 325.1C87.7 327.5 92.3 329 97 331.2C101.7 333.4 106.3 336.1 111 338.3C115.7 340.6 120.3 342.7 125 344.9C129.7 347 134.3 349 139 351.1C143.7 353.3 150.7 356.8 153 357.9" stroke="#000" stroke-width="4.0" opacity="1"/><path d="M-1 271.4C1.3 272.9 8.3 277.2 13 280.1C17.7 283.1 22.3 286.3 27 289.3C31.7 292.3 36.3 294.9 41 298C45.7 301.2 50.3 305 55 308.1C59.7 311.2 64.3 313.8 69 316.6C73.7 319.5 78.3 322.7 83 325.1C87.7 327.5 92.3 329 97 331.2C101.7 333.4 106.3 336.1 111 338.3C115.7 340.6 120.3 342.7 125 344.9C129.7 347 134.3 349 139 351.1C143.7 353.3 150.7 356.8 153 357.9" stroke="#000" stroke-width="11.0" stroke-dasharray="11.1 8 10.3 24.1 8.4 19.6 8.1 24.9 9.2 21.4" stroke-dashoffset="17.8" opacity="0.25"/><path d="M-1 287.8C1.3 289.4 8.3 294.5 13 297.9C17.7 301.3 22.3 304.8 27 308C31.7 311.2 36.3 314.2 41 317.3C45.7 320.5 50.3 324 55 327C59.7 329.9 64.3 332.7 69 335.1C73.7 337.6 78.3 339.3 83 341.6C87.7 343.9 92.3 346.7 97 349.1C101.7 351.5 106.3 353.7 111 356.2C115.7 358.7 120.3 361.9 125 364.2C129.7 366.6 134.3 368.5 139 370.5C143.7 372.4 150.7 375.2 153 376.1" stroke="#ff2a00" stroke-width="10.0"/><path d="M-1 287.8C1.3 289.4 8.3 294.5 13 297.9C17.7 301.3 22.3 304.8 27 308C31.7 311.2 36.3 314.2 41 317.3C45.7 320.5 50.3 324 55 327C59.7 329.9 64.3 332.7 69 335.1C73.7 337.6 78.3 339.3 83 341.6C87.7 343.9 92.3 346.7 97 349.1C101.7 351.5 106.3 353.7 111 356.2C115.7 358.7 120.3 361.9 125 364.2C129.7 366.6 134.3 368.5 139 370.5C143.7 372.4 150.7 375.2 153 376.1" stroke="#000" stroke-width="4.0" opacity="1"/><path d="M-1 287.8C1.3 289.4 8.3 294.5 13 297.9C17.7 301.3 22.3 304.8 27 308C31.7 311.2 36.3 314.2 41 317.3C45.7 320.5 50.3 324 55 327C59.7 329.9 64.3 332.7 69 335.1C73.7 337.6 78.3 339.3 83 341.6C87.7 343.9 92.3 346.7 97 349.1C101.7 351.5 106.3 353.7 111 356.2C115.7 358.7 120.3 361.9 125 364.2C129.7 366.6 134.3 368.5 139 370.5C143.7 372.4 150.7 375.2 153 376.1" stroke="#000" stroke-width="11.0" stroke-dasharray="10.9 9.4 7.9 18.2 4.7 21.5 11.6 20.7 7.3 21.4" stroke-dashoffset="29.2" opacity="0.25"/></g>
<g fill="none" style="mix-blend-mode:screen">
<g fill="#22c022" opacity="0.9"><circle cx="43.2" cy="244.8" r="0.5"/><circle cx="133.7" cy="175.9" r="0.8"/><circle cx="79.7" cy="236.7" r="0.7"/><circle cx="99.2" cy="302.3" r="0.6"/><circle cx="127.1" cy="246.8" r="0.4"/><circle cx="74" cy="283.1" r="0.8"/><circle cx="109.2" cy="216.1" r="0.8"/><circle cx="85.7" cy="191.5" r="0.5"/><circle cx="51.5" cy="296" r="0.4"/><circle cx="109.1" cy="293.9" r="0.8"/><circle cx="87.4" cy="243.2" r="0.4"/><circle cx="40.3" cy="184.8" r="0.7"/><circle cx="116.7" cy="241.6" r="0.6"/><circle cx="65.2" cy="261.4" r="0.6"/><circle cx="54.9" cy="217" r="0.4"/><circle cx="127.9" cy="208" r="0.5"/><circle cx="91.6" cy="182.7" r="0.6"/><circle cx="88.1" cy="206.5" r="0.4"/><circle cx="107" cy="277.6" r="0.7"/><circle cx="76.4" cy="209.5" r="0.5"/><circle cx="36.1" cy="290.8" r="0.6"/><circle cx="90.4" cy="300.3" r="0.5"/><circle cx="100.4" cy="177.2" r="0.7"/><circle cx="17.8" cy="257.9" r="0.5"/><circle cx="130.8" cy="194.3" r="0.5"/><circle cx="38.8" cy="256.5" r="0.4"/><circle cx="120.1" cy="259.9" r="0.6"/><circle cx="22.9" cy="216.4" r="0.7"/><circle cx="117.9" cy="182.3" r="0.8"/><circle cx="130.6" cy="248.4" r="0.6"/><circle cx="54.1" cy="188" r="0.7"/><circle cx="112" cy="258.4" r="0.5"/><circle cx="99.9" cy="175.1" r="0.4"/><circle cx="111.6" cy="273.1" r="0.8"/><circle cx="86.7" cy="282.5" r="0.4"/><circle cx="49" cy="221.2" r="0.4"/><circle cx="120.6" cy="284.6" r="0.8"/><circle cx="57.1" cy="205.4" r="0.7"/><circle cx="91.8" cy="180.5" r="0.7"/><circle cx="16.9" cy="203.6" r="0.7"/><circle cx="121.7" cy="273.1" r="0.7"/><circle cx="84.3" cy="262.4" r="0.6"/><circle cx="111.5" cy="288.2" r="0.5"/><circle cx="88.3" cy="173.3" r="0.6"/><circle cx="134" cy="277.3" r="0.5"/><circle cx="132.4" cy="227.6" r="0.4"/><circle cx="38.4" cy="266.6" r="0.6"/><circle cx="114.7" cy="283.6" r="0.5"/><circle cx="9.4" cy="239.1" r="0.8"/><circle cx="105" cy="224.2" r="0.6"/><circle cx="68.2" cy="197.8" r="0.8"/><circle cx="80.9" cy="178.8" r="0.7"/><circle cx="40.4" cy="232.3" r="0.5"/><circle cx="130.1" cy="217.2" r="0.8"/><circle cx="56.5" cy="183.8" r="0.5"/><circle cx="67.6" cy="246.3" r="0.7"/><circle cx="47.4" cy="198.1" r="0.8"/><circle cx="105.2" cy="258.5" r="0.8"/><circle cx="77.8" cy="267.3" r="0.6"/><circle cx="43.5" cy="185.3" r="0.5"/><circle cx="44.7" cy="188.9" r="0.8"/><circle cx="115.3" cy="235.6" r="0.6"/><circle cx="85.1" cy="250.5" r="0.8"/><circle cx="44" cy="191.7" r="0.7"/><circle cx="17.7" cy="244.1" r="0.4"/><circle cx="33.4" cy="209.1" r="0.4"/><circle cx="60" cy="203.3" r="0.4"/><circle cx="130.6" cy="274.9" r="0.4"/><circle cx="76" cy="177.8" r="0.6"/><circle cx="112" cy="283.2" r="0.6"/><circle cx="43.5" cy="279.3" r="0.8"/><circle cx="106.9" cy="200.4" r="0.4"/><circle cx="77.3" cy="238.8" r="0.5"/><circle cx="83.2" cy="300.7" r="0.5"/><circle cx="113.6" cy="291.2" r="0.6"/><circle cx="135.3" cy="257.5" r="0.7"/><circle cx="64.1" cy="279.5" r="0.8"/><circle cx="134.6" cy="293.4" r="0.7"/><circle cx="124.7" cy="276.8" r="0.6"/><circle cx="107.5" cy="255" r="0.7"/><circle cx="68" cy="281" r="0.8"/><circle cx="73.7" cy="290.1" r="0.7"/><circle cx="65.7" cy="293.7" r="0.5"/><circle cx="50.4" cy="266.5" r="0.6"/><circle cx="32.4" cy="225.7" r="0.5"/><circle cx="65.3" cy="188.7" r="0.4"/><circle cx="126.9" cy="226" r="0.6"/><circle cx="89.2" cy="273.2" r="0.7"/><circle cx="51.3" cy="183.6" r="0.6"/><circle cx="102.1" cy="259.4" r="0.7"/><circle cx="18.5" cy="198.6" r="0.7"/><circle cx="68.1" cy="239.2" r="0.5"/><circle cx="99.5" cy="253.1" r="0.8"/><circle cx="55.6" cy="253.6" r="0.5"/><circle cx="73.3" cy="204.7" r="0.5"/><circle cx="19.2" cy="239.3" r="0.6"/><circle cx="21.3" cy="277.3" r="0.7"/><circle cx="93.1" cy="202.5" r="0.5"/><circle cx="94.4" cy="295.8" r="0.7"/><circle cx="14.6" cy="262.2" r="0.7"/><circle cx="90.6" cy="253" r="0.7"/><circle cx="65.9" cy="260" r="0.8"/><circle cx="118.7" cy="267.2" r="0.5"/><circle cx="107" cy="274.6" r="0.6"/><circle cx="132.3" cy="229.9" r="0.7"/><circle cx="96.2" cy="209.4" r="0.7"/><circle cx="85.9" cy="195.3" r="0.4"/><circle cx="75.5" cy="213.3" r="0.4"/><circle cx="97.6" cy="197.7" r="0.8"/><circle cx="69.2" cy="180.1" r="0.7"/><circle cx="25" cy="222.4" r="0.6"/><circle cx="24.4" cy="236.5" r="0.7"/><circle cx="78.9" cy="245.9" r="0.8"/><circle cx="129.8" cy="244.4" r="0.6"/><circle cx="134.3" cy="214.2" r="0.5"/><circle cx="35.7" cy="218.5" r="0.5"/><circle cx="32" cy="226" r="0.5"/><circle cx="76.7" cy="238.4" r="0.6"/><circle cx="15.1" cy="196.9" r="0.7"/><circle cx="46.9" cy="188.7" r="0.6"/><circle cx="133.3" cy="265.4" r="0.4"/><circle cx="92.3" cy="281.7" r="0.7"/><circle cx="119.4" cy="249.7" r="0.7"/><circle cx="81.2" cy="215.7" r="0.4"/><circle cx="44.1" cy="256" r="0.8"/><circle cx="62.3" cy="212.7" r="0.5"/><circle cx="103" cy="246.3" r="0.5"/><circle cx="15.4" cy="206.4" r="0.7"/><circle cx="118.6" cy="259.6" r="0.8"/><circle cx="78.7" cy="281.5" r="0.7"/><circle cx="124.2" cy="266.3" r="0.6"/><circle cx="110.3" cy="250.5" r="0.8"/><circle cx="35.3" cy="276.4" r="0.7"/><circle cx="53.1" cy="272.9" r="0.8"/><circle cx="17.9" cy="274.6" r="0.4"/><circle cx="9.1" cy="233.3" r="0.8"/><circle cx="95.5" cy="274.9" r="0.8"/><circle cx="135.1" cy="279.7" r="0.6"/><circle cx="18.6" cy="229.7" r="0.6"/><circle cx="38" cy="242.5" r="0.8"/><circle cx="72.9" cy="250" r="0.4"/><circle cx="17.3" cy="295" r="0.4"/><circle cx="20.2" cy="294.8" r="0.8"/><circle cx="108.2" cy="254.3" r="0.8"/><circle cx="67.4" cy="206.3" r="0.4"/><circle cx="58.1" cy="194.7" r="0.6"/><circle cx="131.8" cy="186.4" r="0.6"/><circle cx="89.7" cy="255.2" r="0.4"/><circle cx="104.6" cy="210.5" r="0.5"/><circle cx="41.1" cy="189.3" r="0.5"/><circle cx="50" cy="233.6" r="0.5"/><circle cx="83" cy="179.4" r="0.6"/><circle cx="41" cy="178.2" r="0.4"/><circle cx="75.5" cy="240.1" r="0.6"/><circle cx="38.1" cy="268" r="0.6"/><circle cx="99" cy="260.1" r="0.8"/><circle cx="16.6" cy="174" r="0.8"/><circle cx="63.9" cy="214.6" r="0.7"/><circle cx="90.8" cy="205.3" r="0.5"/><circle cx="65.4" cy="277.7" r="0.4"/><circle cx="123.8" cy="195.5" r="0.4"/><circle cx="89" cy="188.1" r="0.7"/><circle cx="76.9" cy="200.9" r="0.6"/><circle cx="63.5" cy="263.1" r="0.6"/><circle cx="123" cy="270.8" r="0.6"/><circle cx="10.1" cy="192.5" r="0.8"/><circle cx="51.4" cy="235" r="0.7"/><circle cx="78.7" cy="287.1" r="0.7"/><circle cx="82.7" cy="230.7" r="0.6"/><circle cx="58.3" cy="183.4" r="0.6"/><circle cx="12.9" cy="268.8" r="0.6"/><circle cx="126.8" cy="240" r="0.4"/><circle cx="55.2" cy="291.6" r="0.5"/><circle cx="29.1" cy="201.1" r="0.5"/><circle cx="27.5" cy="175.5" r="0.7"/><circle cx="129.1" cy="292.4" r="0.4"/><circle cx="99.6" cy="227.7" r="0.6"/><circle cx="119.1" cy="250.4" r="0.8"/><circle cx="20.6" cy="223.5" r="0.6"/><circle cx="88.5" cy="212.9" r="0.8"/><circle cx="97.4" cy="247.9" r="0.4"/><circle cx="72.8" cy="234.3" r="0.7"/><circle cx="98.7" cy="174.3" r="0.7"/><circle cx="85.7" cy="185.8" r="0.4"/><circle cx="16.4" cy="212" r="0.6"/><circle cx="51.4" cy="283.3" r="0.6"/><circle cx="130.7" cy="286.8" r="0.6"/><circle cx="59.2" cy="219.6" r="0.7"/><circle cx="25.7" cy="199" r="0.8"/><circle cx="130.8" cy="185.8" r="0.5"/><circle cx="121.8" cy="212.6" r="0.4"/><circle cx="119.9" cy="265" r="0.7"/><circle cx="15.3" cy="259" r="0.5"/><circle cx="105.7" cy="285.8" r="0.6"/><circle cx="128.9" cy="265.5" r="0.7"/><circle cx="54.5" cy="178.9" r="0.4"/><circle cx="68" cy="178.7" r="0.7"/><circle cx="39.7" cy="277.2" r="0.8"/><circle cx="132.5" cy="191.9" r="0.4"/><circle cx="78.4" cy="208.5" r="0.6"/><circle cx="63.3" cy="210" r="0.4"/><circle cx="112.7" cy="290.8" r="0.7"/><circle cx="127.2" cy="273.6" r="0.6"/><circle cx="87.2" cy="260" r="0.5"/><circle cx="79.7" cy="294.3" r="0.8"/><circle cx="43.5" cy="251.5" r="0.5"/><circle cx="70.7" cy="197.8" r="0.7"/><circle cx="91.1" cy="254.4" r="0.8"/><circle cx="98.5" cy="201.6" r="0.8"/><circle cx="102" cy="268.8" r="0.4"/><circle cx="132" cy="276.2" r="0.4"/><circle cx="81.7" cy="216.9" r="0.7"/><circle cx="115.2" cy="231.2" r="0.8"/><circle cx="11.2" cy="228.6" r="0.5"/><circle cx="109.2" cy="250.6" r="0.5"/><circle cx="69.8" cy="190.1" r="0.4"/><circle cx="28.3" cy="209.5" r="0.6"/><circle cx="41.1" cy="241.4" r="0.5"/><circle cx="53.3" cy="299" r="0.7"/><circle cx="115.5" cy="222.8" r="0.6"/><circle cx="13.3" cy="188.7" r="0.6"/><circle cx="89.4" cy="235.5" r="0.8"/><circle cx="104.6" cy="241.5" r="0.5"/><circle cx="27.8" cy="265.8" r="0.8"/><circle cx="33.6" cy="260.4" r="0.4"/><circle cx="21.8" cy="179" r="0.4"/><circle cx="49.9" cy="292.7" r="0.4"/><circle cx="73.5" cy="267.3" r="0.8"/><circle cx="44.8" cy="213.1" r="0.8"/><circle cx="124.3" cy="173.8" r="0.8"/><circle cx="110.5" cy="205.4" r="0.8"/><circle cx="113.7" cy="277.7" r="0.8"/><circle cx="64.8" cy="238.6" r="0.8"/><circle cx="88.8" cy="203.7" r="0.7"/><circle cx="54.3" cy="205.7" r="0.8"/><circle cx="103.6" cy="235.4" r="0.7"/><circle cx="76.2" cy="284.5" r="0.8"/><circle cx="21" cy="259.3" r="0.8"/><circle cx="36" cy="233.5" r="0.5"/><circle cx="22.6" cy="176" r="0.4"/><circle cx="89.6" cy="238.8" r="0.4"/><circle cx="14" cy="287.3" r="0.5"/><circle cx="62.8" cy="196.6" r="0.6"/><circle cx="121.3" cy="220.7" r="0.7"/><circle cx="21.6" cy="295.1" r="0.4"/><circle cx="50.9" cy="232.2" r="0.5"/><circle cx="73.4" cy="182.1" r="0.8"/><circle cx="45.9" cy="224.4" r="0.5"/><circle cx="100.4" cy="232.2" r="0.7"/><circle cx="66.4" cy="179.5" r="0.8"/><circle cx="97.6" cy="293.8" r="0.7"/><circle cx="75.4" cy="258" r="0.8"/><circle cx="78" cy="276.6" r="0.6"/><circle cx="16.5" cy="231.4" r="0.5"/><circle cx="120.9" cy="200.8" r="0.7"/><circle cx="98.3" cy="243.1" r="0.7"/><circle cx="75.7" cy="239.4" r="0.6"/><circle cx="55" cy="255.4" r="0.4"/><circle cx="94.5" cy="265.9" r="0.5"/><circle cx="44.7" cy="280.6" r="0.6"/><circle cx="22.3" cy="293" r="0.5"/><circle cx="108.1" cy="250" r="0.5"/><circle cx="64.7" cy="302" r="0.8"/><circle cx="53.3" cy="301.5" r="0.6"/><circle cx="87.4" cy="185.4" r="0.4"/><circle cx="103.3" cy="278.6" r="0.4"/><circle cx="93.2" cy="259.2" r="0.7"/><circle cx="77.4" cy="285.8" r="0.6"/><circle cx="63.1" cy="179.1" r="0.4"/><circle cx="38.7" cy="237.2" r="0.8"/><circle cx="61.1" cy="276" r="0.7"/><circle cx="100.6" cy="265.5" r="0.6"/><circle cx="12.8" cy="191.7" r="0.5"/><circle cx="113.9" cy="229.4" r="0.7"/><circle cx="27.4" cy="228.7" r="0.4"/><circle cx="78" cy="213.4" r="0.7"/><circle cx="134.5" cy="251.8" r="0.8"/><circle cx="93.1" cy="204.1" r="0.7"/><circle cx="125.7" cy="185.5" r="0.6"/><circle cx="120.4" cy="293.8" r="0.7"/><circle cx="30.2" cy="299.5" r="0.6"/><circle cx="13.7" cy="275.4" r="0.6"/><circle cx="27.9" cy="235.7" r="0.5"/><circle cx="29" cy="253.5" r="0.7"/><circle cx="51.4" cy="214" r="0.8"/><circle cx="53.4" cy="251.8" r="0.5"/><circle cx="136.7" cy="192.4" r="0.8"/><circle cx="115.2" cy="287" r="0.7"/><circle cx="129.6" cy="285.9" r="0.8"/><circle cx="26.6" cy="178.7" r="0.4"/><circle cx="17.1" cy="260.9" r="0.7"/><circle cx="119.4" cy="275.4" r="0.4"/><circle cx="126.7" cy="239.7" r="0.8"/><circle cx="111.6" cy="221.3" r="0.8"/><circle cx="134.6" cy="207.5" r="0.8"/><circle cx="118.4" cy="218" r="0.6"/><circle cx="25.8" cy="276.8" r="0.5"/><circle cx="14.1" cy="283.2" r="0.6"/><circle cx="35" cy="175.9" r="0.6"/><circle cx="82.8" cy="272.7" r="0.5"/><circle cx="72.4" cy="289.8" r="0.6"/><circle cx="10.1" cy="214.4" r="0.7"/><circle cx="129.2" cy="289.6" r="0.7"/><circle cx="49.1" cy="241.3" r="0.7"/><circle cx="90.8" cy="257.9" r="0.8"/><circle cx="64" cy="236.8" r="0.7"/><circle cx="12.8" cy="292.7" r="0.6"/><circle cx="96.6" cy="274.8" r="0.8"/><circle cx="92.3" cy="228" r="0.6"/><circle cx="73.2" cy="200.7" r="0.7"/><circle cx="65.4" cy="253.2" r="0.5"/><circle cx="87.8" cy="247.7" r="0.7"/><circle cx="120.6" cy="234.9" r="0.4"/><circle cx="42.2" cy="210.1" r="0.5"/><circle cx="113.2" cy="252.2" r="0.7"/><circle cx="121.1" cy="286.9" r="0.8"/><circle cx="9.3" cy="299.4" r="0.6"/><circle cx="64.3" cy="275.5" r="0.7"/><circle cx="135.9" cy="289.2" r="0.8"/><circle cx="69.7" cy="225" r="0.7"/><circle cx="91" cy="174.8" r="0.7"/><circle cx="37" cy="177.3" r="0.7"/><circle cx="105.4" cy="194.7" r="0.6"/><circle cx="26.3" cy="301.3" r="0.8"/><circle cx="33.3" cy="198.5" r="0.8"/><circle cx="83.3" cy="198.4" r="0.8"/><circle cx="68.5" cy="178" r="0.7"/><circle cx="94.3" cy="297.2" r="0.4"/><circle cx="126.1" cy="180.6" r="0.4"/><circle cx="68.3" cy="258" r="0.7"/><circle cx="97" cy="186.3" r="0.5"/><circle cx="29.5" cy="226.3" r="0.6"/><circle cx="76.4" cy="187.7" r="0.8"/><circle cx="69.4" cy="239.4" r="0.7"/><circle cx="28.6" cy="228" r="0.7"/><circle cx="60.4" cy="221.4" r="0.5"/><circle cx="18.2" cy="237.9" r="0.8"/><circle cx="87.2" cy="259" r="0.5"/><circle cx="125.4" cy="240.4" r="0.8"/><circle cx="90" cy="283.1" r="0.6"/><circle cx="127.2" cy="276.7" r="0.4"/><circle cx="121.1" cy="219.7" r="0.4"/><circle cx="109.4" cy="262.5" r="0.5"/><circle cx="75.4" cy="261.5" r="0.7"/><circle cx="65.3" cy="290.1" r="0.6"/><circle cx="30.8" cy="280.1" r="0.5"/><circle cx="85.3" cy="177.2" r="0.7"/><circle cx="38.8" cy="290.5" r="0.7"/><circle cx="19.4" cy="181.4" r="0.7"/><circle cx="50.1" cy="197.8" r="0.5"/><circle cx="30.8" cy="220.6" r="0.7"/><circle cx="55.4" cy="202.1" r="0.6"/><circle cx="13.4" cy="291.3" r="0.7"/><circle cx="40.6" cy="284.8" r="0.4"/><circle cx="73.9" cy="187.6" r="0.8"/><circle cx="113.8" cy="227.8" r="0.4"/><circle cx="95.5" cy="254.9" r="0.8"/><circle cx="65.7" cy="261" r="0.8"/><circle cx="27.6" cy="278" r="0.6"/><circle cx="108.1" cy="275.5" r="0.6"/><circle cx="102" cy="176.7" r="0.6"/><circle cx="34.6" cy="226" r="0.8"/><circle cx="119.5" cy="241.1" r="0.7"/><circle cx="89" cy="296.6" r="0.8"/><circle cx="52.3" cy="275.2" r="0.6"/><circle cx="65" cy="192.5" r="0.5"/><circle cx="28" cy="259.2" r="0.7"/><circle cx="50.8" cy="225.5" r="0.4"/><circle cx="74.3" cy="277.4" r="0.8"/><circle cx="122.1" cy="285.5" r="0.8"/><circle cx="9.6" cy="258.2" r="0.8"/><circle cx="11.1" cy="176.2" r="0.8"/><circle cx="12.7" cy="187.3" r="0.6"/><circle cx="63.1" cy="281.8" r="0.7"/><circle cx="78.1" cy="248.7" r="0.8"/><circle cx="117.9" cy="274.3" r="0.6"/><circle cx="126.1" cy="252.4" r="0.8"/><circle cx="104.8" cy="239.2" r="0.7"/><circle cx="35.9" cy="183.5" r="0.4"/><circle cx="71.8" cy="214.8" r="0.5"/><circle cx="17.1" cy="246.4" r="0.4"/><circle cx="36.6" cy="202.7" r="0.8"/><circle cx="96.4" cy="206" r="0.7"/><circle cx="19.1" cy="298.9" r="0.5"/><circle cx="80.7" cy="193.9" r="0.7"/><circle cx="85.8" cy="215.6" r="0.5"/><circle cx="79.7" cy="207.6" r="0.5"/><circle cx="43.4" cy="228.5" r="0.6"/><circle cx="132.8" cy="294.2" r="0.7"/><circle cx="129.1" cy="204.7" r="0.5"/><circle cx="57.7" cy="252.4" r="0.8"/><circle cx="136.7" cy="182.6" r="0.6"/><circle cx="107.9" cy="260.5" r="0.7"/><circle cx="55.6" cy="296.6" r="0.6"/><circle cx="68.9" cy="201.2" r="0.6"/><circle cx="25" cy="266.2" r="0.5"/><circle cx="68" cy="281.1" r="0.7"/><circle cx="115.6" cy="198" r="0.7"/><circle cx="95.8" cy="230.8" r="0.8"/><circle cx="72.8" cy="285.1" r="0.5"/><circle cx="79.8" cy="227.9" r="0.5"/><circle cx="108.2" cy="206.3" r="0.7"/><circle cx="104.2" cy="270.4" r="0.7"/><circle cx="26.5" cy="220.3" r="0.7"/><circle cx="78.8" cy="242.1" r="0.6"/><circle cx="126.3" cy="206.2" r="0.7"/><circle cx="34.4" cy="230.1" r="0.6"/><circle cx="27.4" cy="218.2" r="0.4"/><circle cx="20.7" cy="223.9" r="0.4"/><circle cx="104.6" cy="227.1" r="0.6"/><circle cx="110.4" cy="179.2" r="0.7"/><circle cx="63.1" cy="184.2" r="0.4"/><circle cx="27.2" cy="266.1" r="0.4"/><circle cx="12.1" cy="247.2" r="0.5"/><circle cx="75.7" cy="213.6" r="0.5"/><circle cx="9.1" cy="213.5" r="0.8"/><circle cx="49.4" cy="200.6" r="0.6"/><circle cx="21.3" cy="203.1" r="0.5"/><circle cx="49.2" cy="280.5" r="0.7"/><circle cx="47.6" cy="247.7" r="0.4"/></g>
<path d="M-1 39.9C1.3 41.6 8.3 46.7 13 49.9C17.7 53.1 22.3 56.2 27 59.1C31.7 62 36.3 64.6 41 67.4C45.7 70.1 50.3 72.8 55 75.6C59.7 78.4 64.3 81.5 69 84.4C73.7 87.2 78.3 89.9 83 92.7C87.7 95.5 92.3 98.4 97 101C101.7 103.6 106.3 106.2 111 108.3C115.7 110.5 120.3 112.3 125 114.2C129.7 116.1 134.3 117.7 139 119.7C143.7 121.7 150.7 125.1 153 126.1" stroke="#30d030" stroke-width="2.4" stroke-linecap="round" stroke-dasharray="0.3 1.7 0.1 1.5 0.8 2.3 0.4 2.6 0.8 2.1 0.2 3.2 0.4 3.6 0.7 4 0.3 1.8" stroke-dashoffset="1.4" opacity="1"/>
<path d="M-1 43.6C1.3 45.2 8.3 50.2 13 53.4C17.7 56.5 22.3 59.5 27 62.4C31.7 65.3 36.3 67.9 41 70.7C45.7 73.4 50.3 76.2 55 79.1C59.7 82 64.3 85.2 69 88.1C73.7 91 78.3 93.7 83 96.4C87.7 99.2 92.3 102.1 97 104.6C101.7 107.2 106.3 109.6 111 111.7C115.7 113.8 120.3 115.5 125 117.4C129.7 119.3 134.3 121.1 139 123.1C143.7 125.2 150.7 128.6 153 129.7" stroke="#70f020" stroke-width="3.0" stroke-linecap="round" stroke-dasharray="3.9 2 2.6 1.4 1 0.8 3.3 1.6 4 0.8 3.5 1.1 4 1.1 1.3 1.6" stroke-dashoffset="4.7" opacity="0.9"/>
<path d="M-1 58.7C1.3 60.1 8.3 64.2 13 67.2C17.7 70.2 22.3 73.6 27 76.7C31.7 79.9 36.3 83.2 41 86.2C45.7 89.1 50.3 91.7 55 94.6C59.7 97.5 64.3 100.8 69 103.6C73.7 106.4 78.3 108.9 83 111.4C87.7 113.9 92.3 116.5 97 118.9C101.7 121.3 106.3 123.5 111 125.7C115.7 127.8 120.3 129.8 125 131.9C129.7 134 134.3 136.2 139 138.4C143.7 140.6 150.7 144.1 153 145.2" stroke="#30d030" stroke-width="2.4" stroke-linecap="round" stroke-dasharray="0.5 1.7 0.4 1.9 0.7 1.6 0.9 4 0.3 3.1 1.1 2.1 1.1 3.3 0.9 2.1 0.9 3.5" stroke-dashoffset="8.1" opacity="1"/>
<path d="M-1 62C1.3 63.4 8.3 67.4 13 70.4C17.7 73.4 22.3 76.9 27 80.1C31.7 83.3 36.3 86.7 41 89.8C45.7 92.8 50.3 95.4 55 98.3C59.7 101.3 64.3 104.5 69 107.3C73.7 110 78.3 112.3 83 114.8C87.7 117.3 92.3 119.8 97 122.2C101.7 124.5 106.3 126.8 111 129C115.7 131.2 120.3 133.2 125 135.4C129.7 137.6 134.3 139.8 139 142.1C143.7 144.4 150.7 147.8 153 149" stroke="#70f020" stroke-width="3.0" stroke-linecap="round" stroke-dasharray="2.5 1 2.8 1.5 3.6 1.4 2.6 1.7 0.9 2 2.1 1.7 2 0.8 0.9 1.7" stroke-dashoffset="3.7" opacity="0.9"/>
<path d="M-1 74.9C1.3 76.5 8.3 81.1 13 84.3C17.7 87.5 22.3 90.8 27 94.1C31.7 97.4 36.3 101 41 104.2C45.7 107.3 50.3 110.3 55 113.1C59.7 116 64.3 118.8 69 121.5C73.7 124.2 78.3 126.9 83 129.3C87.7 131.7 92.3 133.7 97 136C101.7 138.2 106.3 140.3 111 142.7C115.7 145 120.3 147.6 125 150C129.7 152.4 134.3 155 139 157.1C143.7 159.1 150.7 161.5 153 162.4" stroke="#30d030" stroke-width="2.4" stroke-linecap="round" stroke-dasharray="0.9 2.1 0.8 2.1 1 2.4 1.1 3.5 1.1 3.4 0.5 2 1.1 1.6 1.2 1.9 0.8 2.8" stroke-dashoffset="6.2" opacity="1"/>
<path d="M-1 78.3C1.3 79.9 8.3 84.6 13 87.9C17.7 91.1 22.3 94.5 27 97.8C31.7 101.2 36.3 104.7 41 107.9C45.7 111 50.3 113.8 55 116.7C59.7 119.5 64.3 122.2 69 124.8C73.7 127.4 78.3 130.1 83 132.5C87.7 135 92.3 137.1 97 139.4C101.7 141.7 106.3 143.9 111 146.3C115.7 148.7 120.3 151.4 125 153.8C129.7 156.2 134.3 158.7 139 160.7C143.7 162.7 150.7 164.9 153 165.7" stroke="#70f020" stroke-width="3.0" stroke-linecap="round" stroke-dasharray="1 1.4 2.5 2.2 2.5 1.9 1.4 1.5 2.7 1.4 3.3 2.2 0.5 1.5 1.3 1.9" stroke-dashoffset="8.2" opacity="0.9"/>
<path d="M-1 92.7C1.3 94.5 8.3 100 13 103.5C17.7 107.1 22.3 110.6 27 113.8C31.7 117.1 36.3 120.2 41 123.1C45.7 125.9 50.3 128.4 55 131C59.7 133.5 64.3 135.7 69 138.3C73.7 140.9 78.3 143.9 83 146.6C87.7 149.3 92.3 151.9 97 154.5C101.7 157 106.3 159.5 111 162.1C115.7 164.7 120.3 168 125 170.1C129.7 172.1 134.3 172.9 139 174.7C143.7 176.5 150.7 179.9 153 180.9" stroke="#30d030" stroke-width="2.4" stroke-linecap="round" stroke-dasharray="0.6 3.9 0.9 2.1 1.1 3.5 1.1 3.4 0.3 2.3 0.2 3.1 1 2.1 0.7 1.6 0.6 1.6" stroke-dashoffset="1.8" opacity="1"/>
<path d="M-1 96.4C1.3 98.2 8.3 103.8 13 107.3C17.7 110.8 22.3 114.2 27 117.4C31.7 120.6 36.3 123.6 41 126.4C45.7 129.2 50.3 131.7 55 134.2C59.7 136.8 64.3 139 69 141.7C73.7 144.3 78.3 147.5 83 150.2C87.7 153 92.3 155.6 97 158.2C101.7 160.8 106.3 163.3 111 165.8C115.7 168.4 120.3 171.5 125 173.5C129.7 175.5 134.3 176.2 139 177.9C143.7 179.7 150.7 183.1 153 184.2" stroke="#70f020" stroke-width="3.0" stroke-linecap="round" stroke-dasharray="2.7 2.4 3.3 1.9 1.9 1 3.5 2.1 2.9 1.2 2.2 1.3 1.7 1.9 2.9 1.4" stroke-dashoffset="6.5" opacity="0.9"/>
<path d="M-1 111.3C1.3 113.2 8.3 119.2 13 122.4C17.7 125.6 22.3 127.7 27 130.5C31.7 133.3 36.3 136.2 41 139C45.7 141.9 50.3 144.6 55 147.5C59.7 150.4 64.3 153.6 69 156.5C73.7 159.3 78.3 162 83 164.7C87.7 167.4 92.3 170.1 97 172.6C101.7 175.1 106.3 177.7 111 179.8C115.7 182 120.3 183.6 125 185.6C129.7 187.6 134.3 189.6 139 191.6C143.7 193.7 150.7 196.7 153 197.7" stroke="#30d030" stroke-width="2.4" stroke-linecap="round" stroke-dasharray="0.4 2.1 1 2.5 1.1 3.9 0.9 1.6 0.4 3.5 0.3 3.9 0.1 3.7 0.4 2.7 0.7 1.6" stroke-dashoffset="5.7" opacity="1"/>
<path d="M-1 115C1.3 116.8 8.3 122.8 13 125.9C17.7 129 22.3 131 27 133.8C31.7 136.5 36.3 139.4 41 142.3C45.7 145.2 50.3 148 55 151C59.7 154 64.3 157.3 69 160.2C73.7 163.1 78.3 165.8 83 168.5C87.7 171.1 92.3 173.7 97 176.2C101.7 178.6 106.3 181.1 111 183.2C115.7 185.3 120.3 186.9 125 188.9C129.7 190.8 134.3 193 139 195C143.7 197.1 150.7 200.3 153 201.3" stroke="#70f020" stroke-width="3.0" stroke-linecap="round" stroke-dasharray="2.6 2.3 1.7 2.5 0.7 2.5 3.8 1.6 3.8 1.3 2.1 1.3 3.8 1.1 0.8 0.8" stroke-dashoffset="5.3" opacity="0.9"/>
<path d="M-1 129.7C1.3 131.3 8.3 136.4 13 139.5C17.7 142.5 22.3 145.2 27 148.1C31.7 151 36.3 153.9 41 157C45.7 160 50.3 163.3 55 166.4C59.7 169.6 64.3 172.9 69 175.8C73.7 178.7 78.3 181.3 83 183.8C87.7 186.4 92.3 188.8 97 191C101.7 193.3 106.3 195.3 111 197.3C115.7 199.2 120.3 200.8 125 203C129.7 205.2 134.3 208.1 139 210.6C143.7 213 150.7 216.6 153 217.8" stroke="#30d030" stroke-width="2.4" stroke-linecap="round" stroke-dasharray="1.1 2.2 0.8 3.4 0.7 2.5 0.8 1.9 1 2.2 0.4 2.1 1 3.2 0.3 3.9 0.7 2.2" stroke-dashoffset="3.7" opacity="1"/>
<path d="M-1 133C1.3 134.6 8.3 139.6 13 142.7C17.7 145.8 22.3 148.6 27 151.5C31.7 154.5 36.3 157.5 41 160.6C45.7 163.7 50.3 167 55 170.2C59.7 173.3 64.3 176.6 69 179.4C73.7 182.3 78.3 184.7 83 187.2C87.7 189.7 92.3 192 97 194.3C101.7 196.5 106.3 198.5 111 200.6C115.7 202.6 120.3 204.3 125 206.6C129.7 208.9 134.3 211.8 139 214.3C143.7 216.8 150.7 220.3 153 221.5" stroke="#70f020" stroke-width="3.0" stroke-linecap="round" stroke-dasharray="1.9 1.2 3 2 3.4 1.6 3.9 1.9 0.8 1 1.8 1.8 1 1.7 4 2" stroke-dashoffset="5.9" opacity="0.9"/>
<path d="M-1 146.6C1.3 148.2 8.3 153 13 156.3C17.7 159.5 22.3 162.9 27 166.1C31.7 169.3 36.3 172.2 41 175.4C45.7 178.6 50.3 182.3 55 185.3C59.7 188.2 64.3 190.7 69 193.1C73.7 195.5 78.3 197.4 83 199.8C87.7 202.1 92.3 204.6 97 207C101.7 209.4 106.3 211.6 111 214.2C115.7 216.8 120.3 220.3 125 222.7C129.7 225.1 134.3 226.6 139 228.6C143.7 230.6 150.7 233.7 153 234.7" stroke="#30d030" stroke-width="2.4" stroke-linecap="round" stroke-dasharray="1 3.9 0.3 2.2 1.1 2.9 1 3.6 0.2 3.1 1 3.2 0.8 2.6 0.5 3.1 0.2 3.4" stroke-dashoffset="4.9" opacity="1"/>
<path d="M-1 149.9C1.3 151.6 8.3 156.5 13 159.9C17.7 163.2 22.3 166.7 27 169.9C31.7 173.1 36.3 175.9 41 179.1C45.7 182.2 50.3 185.9 55 188.7C59.7 191.6 64.3 194 69 196.4C73.7 198.7 78.3 200.7 83 203C87.7 205.4 92.3 208 97 210.5C101.7 212.9 106.3 215.3 111 217.9C115.7 220.6 120.3 224.1 125 226.4C129.7 228.8 134.3 230.2 139 232.1C143.7 234.1 150.7 237 153 238" stroke="#70f020" stroke-width="3.0" stroke-linecap="round" stroke-dasharray="0.8 1.6 1.9 1.1 2.7 1.7 3.9 1.1 2.5 1 3.8 2 3.2 1.4 3.4 0.9" stroke-dashoffset="2.2" opacity="0.9"/>
<path d="M-1 163.7C1.3 165.6 8.3 171.5 13 175C17.7 178.6 22.3 181.9 27 185C31.7 188.2 36.3 191 41 193.7C45.7 196.4 50.3 198.8 55 201.4C59.7 204.1 64.3 207.1 69 209.7C73.7 212.3 78.3 214.5 83 217.1C87.7 219.8 92.3 222.7 97 225.5C101.7 228.3 106.3 231.3 111 233.8C115.7 236.3 120.3 238.4 125 240.4C129.7 242.4 134.3 243.9 139 245.8C143.7 247.7 150.7 250.6 153 251.5" stroke="#30d030" stroke-width="2.4" stroke-linecap="round" stroke-dasharray="1.2 1.8 0.6 1.9 0.2 3 1.2 2.2 1 4 0.7 1.6 0.5 2.7 0.5 2.4 0.7 1.6" stroke-dashoffset="6.2" opacity="1"/>
<path d="M-1 167.4C1.3 169.3 8.3 175.2 13 178.8C17.7 182.3 22.3 185.6 27 188.6C31.7 191.7 36.3 194.4 41 197C45.7 199.7 50.3 202 55 204.7C59.7 207.4 64.3 210.4 69 213.1C73.7 215.8 78.3 218.1 83 220.8C87.7 223.5 92.3 226.5 97 229.3C101.7 232 106.3 235 111 237.4C115.7 239.9 120.3 241.9 125 243.8C129.7 245.8 134.3 247.2 139 249.1C143.7 250.9 150.7 253.9 153 254.8" stroke="#70f020" stroke-width="3.0" stroke-linecap="round" stroke-dasharray="2.2 1 0.8 1.3 1.9 2.4 3.3 1.7 3.1 1.7 1.9 1.1 3.7 1.2 0.6 2.2" stroke-dashoffset="4" opacity="0.9"/>
<path d="M-1 183.4C1.3 184.9 8.3 189.7 13 192.7C17.7 195.7 22.3 198.5 27 201.4C31.7 204.4 36.3 207.6 41 210.5C45.7 213.5 50.3 216.6 55 219.2C59.7 221.9 64.3 223.8 69 226.6C73.7 229.4 78.3 233.1 83 236C87.7 238.9 92.3 241.7 97 244.2C101.7 246.6 106.3 248.6 111 250.8C115.7 253 120.3 255.4 125 257.4C129.7 259.3 134.3 260.5 139 262.5C143.7 264.4 150.7 268 153 269.1" stroke="#30d030" stroke-width="2.4" stroke-linecap="round" stroke-dasharray="0.5 2.7 0.8 1.7 1 2 0.5 3.2 1.2 1.9 1.1 1.9 0.7 2.7 0.4 2.6 0.2 2.8" stroke-dashoffset="5.1" opacity="1"/>
<path d="M-1 187C1.3 188.5 8.3 193.2 13 196.1C17.7 199.1 22.3 201.7 27 204.7C31.7 207.6 36.3 210.8 41 213.8C45.7 216.9 50.3 220 55 222.8C59.7 225.5 64.3 227.5 69 230.4C73.7 233.2 78.3 236.8 83 239.7C87.7 242.6 92.3 245.3 97 247.7C101.7 250.1 106.3 251.9 111 254.1C115.7 256.2 120.3 258.7 125 260.6C129.7 262.6 134.3 263.9 139 265.9C143.7 267.9 150.7 271.6 153 272.7" stroke="#70f020" stroke-width="3.0" stroke-linecap="round" stroke-dasharray="2.3 1.5 1.7 1 1.9 1.3 1.3 2.4 3.7 0.9 1.2 2.5 0.5 1.1 3.9 2.3" stroke-dashoffset="2.3" opacity="0.9"/>
<path d="M-1 200.5C1.3 201.9 8.3 206.2 13 209.1C17.7 212.1 22.3 215.2 27 218.2C31.7 221.2 36.3 224.1 41 227.2C45.7 230.3 50.3 233.7 55 236.8C59.7 240 64.3 243.2 69 246.1C73.7 248.9 78.3 251.4 83 253.9C87.7 256.4 92.3 258.7 97 261C101.7 263.3 106.3 265.6 111 267.6C115.7 269.7 120.3 271.3 125 273.4C129.7 275.5 134.3 277.8 139 280.1C143.7 282.4 150.7 285.9 153 287.1" stroke="#30d030" stroke-width="2.4" stroke-linecap="round" stroke-dasharray="0.8 2.6 0.6 3.9 1.2 1.9 0.9 3.4 0.4 2.6 1.1 1.5 0.8 1.5 1 3.1 0.2 1.5" stroke-dashoffset="1.9" opacity="1"/>
<path d="M-1 203.8C1.3 205.2 8.3 209.4 13 212.4C17.7 215.4 22.3 218.5 27 221.6C31.7 224.7 36.3 227.7 41 230.8C45.7 234 50.3 237.5 55 240.6C59.7 243.7 64.3 246.9 69 249.7C73.7 252.4 78.3 254.8 83 257.3C87.7 259.7 92.3 262 97 264.3C101.7 266.6 106.3 268.9 111 271C115.7 273.1 120.3 274.8 125 277C129.7 279.1 134.3 281.5 139 283.8C143.7 286.1 150.7 289.6 153 290.8" stroke="#70f020" stroke-width="3.0" stroke-linecap="round" stroke-dasharray="3 2.1 1.2 1.8 1.8 2.4 2 1.1 2 2.4 1.1 2 1.2 1.9 3.6 2.1" stroke-dashoffset="2.8" opacity="0.9"/>
<path d="M-1 217C1.3 218.7 8.3 223.6 13 227C17.7 230.5 22.3 234.4 27 237.7C31.7 241.1 36.3 244.2 41 247.3C45.7 250.4 50.3 253.4 55 256.2C59.7 259.1 64.3 261.9 69 264.3C73.7 266.7 78.3 268.3 83 270.7C87.7 273.1 92.3 276.1 97 278.5C101.7 280.9 106.3 282.6 111 285.1C115.7 287.6 120.3 290.9 125 293.4C129.7 295.8 134.3 297.6 139 299.7C143.7 301.7 150.7 304.6 153 305.6" stroke="#30d030" stroke-width="2.4" stroke-linecap="round" stroke-dasharray="1 2.3 0.8 2.8 1 1.6 0.9 3.3 0.3 3.1 0.5 2.3 0.9 1.6 0.6 2 0.9 2.9" stroke-dashoffset="2" opacity="1"/>
<path d="M-1 220.4C1.3 222.1 8.3 227.1 13 230.6C17.7 234.1 22.3 238.1 27 241.5C31.7 244.9 36.3 247.9 41 251C45.7 254 50.3 256.9 55 259.7C59.7 262.5 64.3 265.2 69 267.6C73.7 269.9 78.3 271.6 83 274C87.7 276.4 92.3 279.5 97 282C101.7 284.5 106.3 286.3 111 288.8C115.7 291.3 120.3 294.7 125 297.1C129.7 299.5 134.3 301.3 139 303.2C143.7 305.2 150.7 308 153 308.9" stroke="#70f020" stroke-width="3.0" stroke-linecap="round" stroke-dasharray="1.1 1.3 1.6 2.3 1.1 2 0.5 0.9 3.5 2.2 2.3 1.9 3 2.4 2.5 1.7" stroke-dashoffset="5.3" opacity="0.9"/>
<path d="M-1 235C1.3 236.8 8.3 242.1 13 245.5C17.7 248.9 22.3 252.2 27 255.3C31.7 258.4 36.3 261.3 41 264.1C45.7 266.9 50.3 269.2 55 271.9C59.7 274.6 64.3 277.6 69 280.2C73.7 282.9 78.3 285.5 83 288.1C87.7 290.7 92.3 293.2 97 295.8C101.7 298.5 106.3 301.5 111 304.1C115.7 306.7 120.3 309.5 125 311.5C129.7 313.6 134.3 314.8 139 316.5C143.7 318.2 150.7 320.7 153 321.6" stroke="#30d030" stroke-width="2.4" stroke-linecap="round" stroke-dasharray="1 3.7 1 2 0.2 3.3 0.5 3.1 0.5 1.7 0.8 2.7 0.6 1.7 0.6 3.7 1.1 3" stroke-dashoffset="5.4" opacity="1"/>
<path d="M-1 238.7C1.3 240.5 8.3 245.9 13 249.2C17.7 252.6 22.3 255.8 27 258.9C31.7 261.9 36.3 264.7 41 267.4C45.7 270.1 50.3 272.4 55 275.1C59.7 277.8 64.3 280.9 69 283.6C73.7 286.4 78.3 289 83 291.7C87.7 294.4 92.3 296.9 97 299.6C101.7 302.3 106.3 305.2 111 307.7C115.7 310.3 120.3 313 125 315C129.7 317 134.3 318.1 139 319.7C143.7 321.4 150.7 324 153 324.9" stroke="#70f020" stroke-width="3.0" stroke-linecap="round" stroke-dasharray="2.3 1 3 1.7 3.8 2 0.5 1.8 1 1 1.3 0.9 2 1.6 2.5 1.5" stroke-dashoffset="1.6" opacity="0.9"/>
<path d="M-1 253.8C1.3 255.4 8.3 260.3 13 263.4C17.7 266.5 22.3 269.5 27 272.4C31.7 275.3 36.3 277.9 41 280.7C45.7 283.6 50.3 286.5 55 289.3C59.7 292.2 64.3 295.1 69 297.9C73.7 300.7 78.3 303.5 83 306.3C87.7 309 92.3 312.1 97 314.7C101.7 317.2 106.3 319.3 111 321.5C115.7 323.7 120.3 325.8 125 327.7C129.7 329.6 134.3 331.1 139 332.8C143.7 334.6 150.7 337.4 153 338.3" stroke="#30d030" stroke-width="2.4" stroke-linecap="round" stroke-dasharray="1 3.8 0.7 2 1 3.9 0.9 3.7 0.8 2.1 0.3 1.5 0.3 2.5 1.1 2.4 1.2 2.9" stroke-dashoffset="6.8" opacity="1"/>
<path d="M-1 257.4C1.3 259 8.3 263.8 13 266.8C17.7 269.9 22.3 272.8 27 275.7C31.7 278.6 36.3 281.2 41 284.1C45.7 286.9 50.3 290 55 292.9C59.7 295.8 64.3 298.8 69 301.6C73.7 304.5 78.3 307.2 83 310C87.7 312.7 92.3 315.7 97 318.2C101.7 320.7 106.3 322.7 111 324.8C115.7 327 120.3 329.1 125 331C129.7 332.9 134.3 334.4 139 336.3C143.7 338.1 150.7 341 153 342" stroke="#70f020" stroke-width="3.0" stroke-linecap="round" stroke-dasharray="3.3 2.3 1.4 0.8 3.5 2.4 0.9 1 1 1.6 1.1 2 2.9 1.7 3 2.1" stroke-dashoffset="4.7" opacity="0.9"/>
<path d="M-1 271.4C1.3 272.9 8.3 277.2 13 280.1C17.7 283.1 22.3 286.3 27 289.3C31.7 292.3 36.3 294.9 41 298C45.7 301.2 50.3 305 55 308.1C59.7 311.2 64.3 313.8 69 316.6C73.7 319.5 78.3 322.7 83 325.1C87.7 327.5 92.3 329 97 331.2C101.7 333.4 106.3 336.1 111 338.3C115.7 340.6 120.3 342.7 125 344.9C129.7 347 134.3 349 139 351.1C143.7 353.3 150.7 356.8 153 357.9" stroke="#30d030" stroke-width="2.4" stroke-linecap="round" stroke-dasharray="1.1 2.3 0.4 2.4 0.5 1.6 1 3.2 1 1.8 0.6 3.4 0.9 3.8 0.7 3.9 1 2.2" stroke-dashoffset="8.3" opacity="1"/>
<path d="M-1 274.7C1.3 276.1 8.3 280.4 13 283.4C17.7 286.4 22.3 289.7 27 292.7C31.7 295.8 36.3 298.5 41 301.7C45.7 304.9 50.3 308.7 55 311.8C59.7 314.9 64.3 317.5 69 320.2C73.7 323 78.3 326.1 83 328.4C87.7 330.8 92.3 332.2 97 334.4C101.7 336.6 106.3 339.4 111 341.7C115.7 344 120.3 346.3 125 348.5C129.7 350.7 134.3 352.7 139 354.9C143.7 357.1 150.7 360.5 153 361.6" stroke="#70f020" stroke-width="3.0" stroke-linecap="round" stroke-dasharray="3.8 1.6 0.9 1.7 3.7 2 3.9 2.2 1.5 1.7 2 1.2 1.4 0.9 3.2 1.8" stroke-dashoffset="2.5" opacity="0.9"/>
<path d="M-1 287.8C1.3 289.4 8.3 294.5 13 297.9C17.7 301.3 22.3 304.8 27 308C31.7 311.2 36.3 314.2 41 317.3C45.7 320.5 50.3 324 55 327C59.7 329.9 64.3 332.7 69 335.1C73.7 337.6 78.3 339.3 83 341.6C87.7 343.9 92.3 346.7 97 349.1C101.7 351.5 106.3 353.7 111 356.2C115.7 358.7 120.3 361.9 125 364.2C129.7 366.6 134.3 368.5 139 370.5C143.7 372.4 150.7 375.2 153 376.1" stroke="#30d030" stroke-width="2.4" stroke-linecap="round" stroke-dasharray="1 1.9 1.2 3.7 0.7 3 1.1 1.7 0.8 2 0.7 2.4 0.8 3.3 0.2 1.7 0.7 3.3" stroke-dashoffset="6" opacity="1"/>
<path d="M-1 291.1C1.3 292.9 8.3 298.1 13 301.5C17.7 305 22.3 308.5 27 311.7C31.7 315 36.3 317.9 41 321C45.7 324.1 50.3 327.5 55 330.4C59.7 333.3 64.3 336 69 338.4C73.7 340.8 78.3 342.5 83 344.9C87.7 347.3 92.3 350.1 97 352.6C101.7 355.1 106.3 357.4 111 359.9C115.7 362.5 120.3 365.6 125 368C129.7 370.3 134.3 372.1 139 374C143.7 375.9 150.7 378.5 153 379.4" stroke="#70f020" stroke-width="3.0" stroke-linecap="round" stroke-dasharray="0.5 2.1 3.1 1.4 2 1.9 1.7 1.6 0.5 2.2 2.6 1.4 2.4 2.4 3.2 1" stroke-dashoffset="6.6" opacity="0.9"/>
</g>
</g>
<g clip-path="url(#ci3)"><g filter="url(#bl2)"><rect x="83" y="247" width="57" height="59" fill="#000"/>
<g fill="none"><path d="M76 234C78.3 235.2 85.3 238.9 90 241.4C94.7 243.9 99.3 246.4 104 249C108.7 251.6 113.3 254.4 118 257C122.7 259.6 127.3 262 132 264.5C136.7 267 143.7 271 146 272.3" stroke="#ff2a00" stroke-width="12"/><path d="M76 234C78.3 235.2 85.3 238.9 90 241.4C94.7 243.9 99.3 246.4 104 249C108.7 251.6 113.3 254.4 118 257C122.7 259.6 127.3 262 132 264.5C136.7 267 143.7 271 146 272.3" stroke="#000" stroke-width="7.5" opacity="1"/><path d="M76 234C78.3 235.2 85.3 238.9 90 241.4C94.7 243.9 99.3 246.4 104 249C108.7 251.6 113.3 254.4 118 257C122.7 259.6 127.3 262 132 264.5C136.7 267 143.7 271 146 272.3" stroke="#000" stroke-width="13" stroke-dasharray="10.4 12 3.9 19 10.4 11.1 4.1 8.6 7.8 14.7" stroke-dashoffset="25.3" opacity="0.25"/><path d="M76 259.2C78.3 260.5 85.3 264.3 90 266.8C94.7 269.3 99.3 271.9 104 274.5C108.7 277.1 113.3 279.8 118 282.4C122.7 285 127.3 287.6 132 290.2C136.7 292.7 143.7 296.5 146 297.8" stroke="#ff2a00" stroke-width="12"/><path d="M76 259.2C78.3 260.5 85.3 264.3 90 266.8C94.7 269.3 99.3 271.9 104 274.5C108.7 277.1 113.3 279.8 118 282.4C122.7 285 127.3 287.6 132 290.2C136.7 292.7 143.7 296.5 146 297.8" stroke="#000" stroke-width="7.5" opacity="1"/><path d="M76 259.2C78.3 260.5 85.3 264.3 90 266.8C94.7 269.3 99.3 271.9 104 274.5C108.7 277.1 113.3 279.8 118 282.4C122.7 285 127.3 287.6 132 290.2C136.7 292.7 143.7 296.5 146 297.8" stroke="#000" stroke-width="13" stroke-dasharray="8.6 24 6.1 14.4 9 11.6 11.7 15.7 7.5 14.2" stroke-dashoffset="16.3" opacity="0.25"/><path d="M76 289.1C78.3 290.2 85.3 293.5 90 296C94.7 298.6 99.3 301.7 104 304.4C108.7 307 113.3 309.2 118 311.8C122.7 314.3 127.3 317.1 132 319.7C136.7 322.2 143.7 326 146 327.3" stroke="#ff2a00" stroke-width="12"/><path d="M76 289.1C78.3 290.2 85.3 293.5 90 296C94.7 298.6 99.3 301.7 104 304.4C108.7 307 113.3 309.2 118 311.8C122.7 314.3 127.3 317.1 132 319.7C136.7 322.2 143.7 326 146 327.3" stroke="#000" stroke-width="7.5" opacity="1"/><path d="M76 289.1C78.3 290.2 85.3 293.5 90 296C94.7 298.6 99.3 301.7 104 304.4C108.7 307 113.3 309.2 118 311.8C122.7 314.3 127.3 317.1 132 319.7C136.7 322.2 143.7 326 146 327.3" stroke="#000" stroke-width="13" stroke-dasharray="6 17.5 4.4 16.3 11.1 16.4 8.3 13.1 7.7 8.3" stroke-dashoffset="0" opacity="0.25"/></g>
<g fill="none" style="mix-blend-mode:screen"><g fill="#1fa01f" opacity="0.8"><circle cx="88.6" cy="286.8" r="1.1"/><circle cx="93.7" cy="285.1" r="0.6"/><circle cx="108.9" cy="288.9" r="1.1"/><circle cx="124.1" cy="289" r="1.1"/><circle cx="112.4" cy="296" r="1.2"/><circle cx="109.4" cy="261" r="1.2"/><circle cx="125.6" cy="282.6" r="1.1"/><circle cx="131.1" cy="262.1" r="0.9"/><circle cx="118.5" cy="278.6" r="0.7"/><circle cx="130.8" cy="282.3" r="1.2"/><circle cx="90.2" cy="263.7" r="1"/><circle cx="95.8" cy="293.7" r="0.9"/><circle cx="94.3" cy="262" r="1.2"/><circle cx="107.2" cy="281.6" r="1.1"/><circle cx="132.3" cy="301.2" r="0.7"/><circle cx="98" cy="299.3" r="0.7"/><circle cx="136.2" cy="266.8" r="0.9"/><circle cx="104.3" cy="288.3" r="1"/><circle cx="130" cy="270.3" r="0.7"/><circle cx="135.5" cy="298.6" r="0.7"/><circle cx="95" cy="271.1" r="0.7"/><circle cx="112.5" cy="302.2" r="0.8"/><circle cx="101.6" cy="269.6" r="1"/><circle cx="96" cy="256.7" r="1.1"/><circle cx="113.5" cy="256.1" r="0.8"/><circle cx="119.1" cy="250.4" r="1.1"/><circle cx="123.2" cy="274.2" r="1.1"/><circle cx="95.4" cy="293.3" r="0.7"/><circle cx="130.3" cy="265.3" r="1.1"/><circle cx="133.7" cy="258" r="0.7"/><circle cx="91.1" cy="257.9" r="1.1"/><circle cx="100.2" cy="267.7" r="0.9"/><circle cx="132.1" cy="276" r="0.6"/><circle cx="103.2" cy="272.1" r="1.2"/><circle cx="103.6" cy="285.2" r="1.1"/></g><path d="M76 234C78.3 235.2 85.3 238.9 90 241.4C94.7 243.9 99.3 246.4 104 249C108.7 251.6 113.3 254.4 118 257C122.7 259.6 127.3 262 132 264.5C136.7 267 143.7 271 146 272.3" stroke="#30e030" stroke-width="2.4" stroke-linecap="round" stroke-dasharray="2.1 7 1.3 6.8 0.7 6.5 1.5 6.6 2.1 6.4 1.8 5.4 1 7.9 0.9 7.7 0.8 5.7" stroke-dashoffset="5.5" opacity="1"/><path d="M76 229.4C78.3 230.6 85.3 234.3 90 236.8C94.7 239.3 99.3 241.8 104 244.4C108.7 247 113.3 249.8 118 252.4C122.7 255 127.3 257.4 132 259.9C136.7 262.4 143.7 266.4 146 267.7" stroke="#60f020" stroke-width="2.2" stroke-linecap="round" stroke-dasharray="1.8 2.4 2.1 2.5 2.3 3.7 2.2 7.2 1.2 4 0.9 3.9 2.3 5.6 1.8 5.9" stroke-dashoffset="1.2" opacity="0.9"/><path d="M76 238.6C78.3 239.8 85.3 243.5 90 246C94.7 248.5 99.3 251 104 253.6C108.7 256.2 113.3 259 118 261.6C122.7 264.2 127.3 266.6 132 269.1C136.7 271.6 143.7 275.6 146 276.9" stroke="#60f020" stroke-width="2.2" stroke-linecap="round" stroke-dasharray="2.4 6.5 2 6 2.3 5.4 2 7.3 1.4 5.2 1.6 6.7 0.6 5.8 0.7 5.9" stroke-dashoffset="7.4" opacity="0.9"/><path d="M76 259.2C78.3 260.5 85.3 264.3 90 266.8C94.7 269.3 99.3 271.9 104 274.5C108.7 277.1 113.3 279.8 118 282.4C122.7 285 127.3 287.6 132 290.2C136.7 292.7 143.7 296.5 146 297.8" stroke="#30e030" stroke-width="2.4" stroke-linecap="round" stroke-dasharray="1.1 5.3 1.1 7.4 0.6 8.6 1.9 5.3 1.2 7.9 0.3 6.4 0.2 8.9 0.8 5.4 2.1 8.5" stroke-dashoffset="6" opacity="1"/><path d="M76 254.6C78.3 255.9 85.3 259.7 90 262.2C94.7 264.7 99.3 267.3 104 269.9C108.7 272.5 113.3 275.2 118 277.8C122.7 280.4 127.3 283 132 285.6C136.7 288.1 143.7 291.9 146 293.2" stroke="#60f020" stroke-width="2.2" stroke-linecap="round" stroke-dasharray="0.7 7.4 0.9 2.6 0.6 4.2 1.3 6.6 1.9 7.9 0.8 5.4 0.4 6.9 1.6 2.6" stroke-dashoffset="3.2" opacity="0.9"/><path d="M76 263.8C78.3 265.1 85.3 268.9 90 271.4C94.7 273.9 99.3 276.5 104 279.1C108.7 281.7 113.3 284.4 118 287C122.7 289.6 127.3 292.2 132 294.8C136.7 297.3 143.7 301.1 146 302.4" stroke="#60f020" stroke-width="2.2" stroke-linecap="round" stroke-dasharray="0.4 3.2 1.5 4.4 0.6 7.6 0.5 4 1.2 5 2.2 7.7 2.2 2.7 0.2 6.1" stroke-dashoffset="9" opacity="0.9"/><path d="M76 289.1C78.3 290.2 85.3 293.5 90 296C94.7 298.6 99.3 301.7 104 304.4C108.7 307 113.3 309.2 118 311.8C122.7 314.3 127.3 317.1 132 319.7C136.7 322.2 143.7 326 146 327.3" stroke="#30e030" stroke-width="2.4" stroke-linecap="round" stroke-dasharray="0.6 7.9 2.2 6.2 0.9 6.3 1.6 7.9 1 6.6 0.6 5.3 0.4 8.1 0.7 6.7 0.4 7.7" stroke-dashoffset="8.2" opacity="1"/><path d="M76 284.5C78.3 285.6 85.3 288.9 90 291.4C94.7 294 99.3 297.1 104 299.8C108.7 302.4 113.3 304.6 118 307.2C122.7 309.7 127.3 312.5 132 315.1C136.7 317.6 143.7 321.4 146 322.7" stroke="#60f020" stroke-width="2.2" stroke-linecap="round" stroke-dasharray="1.6 7.4 0.6 7.5 0.4 4.4 1.2 4.9 1.2 3.6 0.6 4.3 0.6 6.9 1.1 5.3" stroke-dashoffset="4.7" opacity="0.9"/><path d="M76 293.7C78.3 294.8 85.3 298.1 90 300.6C94.7 303.2 99.3 306.3 104 309C108.7 311.6 113.3 313.8 118 316.4C122.7 318.9 127.3 321.7 132 324.3C136.7 326.8 143.7 330.6 146 331.9" stroke="#60f020" stroke-width="2.2" stroke-linecap="round" stroke-dasharray="0.5 7.3 0.7 7.2 0.7 5.1 1.6 7.5 0.9 6.9 1.2 3.5 1 7.1 0.2 7.2" stroke-dashoffset="7.3" opacity="0.9"/></g>
</g></g>
<path d="M86.5 303V250.5H137" fill="none" stroke="#fff" stroke-width="1.1"/>
</g>
<text x="13" y="186.5" font-size="12" font-weight="bold" fill="#fff">C</text>
<g clip-path="url(#c4)">
<g filter="url(#bl)">
<rect x="280" y="170" width="134" height="136" fill="#000"/>
<g fill="none"><path d="M273 83C275.3 83.9 282.3 86.5 287 88.1C291.7 89.8 296.3 91.2 301 92.8C305.7 94.5 310.3 96.2 315 98C319.7 99.8 324.3 101.6 329 103.4C333.7 105.3 338.3 107.1 343 109C347.7 111 352.3 113 357 115C361.7 117 366.3 119 371 121C375.7 122.9 380.3 124.9 385 126.7C389.7 128.5 394.3 130 399 131.8C403.7 133.6 408.3 135.6 413 137.5C417.7 139.4 424.7 142.2 427 143.1" stroke="#ff2a00" stroke-width="9.4"/><path d="M273 83C275.3 83.9 282.3 86.5 287 88.1C291.7 89.8 296.3 91.2 301 92.8C305.7 94.5 310.3 96.2 315 98C319.7 99.8 324.3 101.6 329 103.4C333.7 105.3 338.3 107.1 343 109C347.7 111 352.3 113 357 115C361.7 117 366.3 119 371 121C375.7 122.9 380.3 124.9 385 126.7C389.7 128.5 394.3 130 399 131.8C403.7 133.6 408.3 135.6 413 137.5C417.7 139.4 424.7 142.2 427 143.1" stroke="#000" stroke-width="3.4" opacity="0.6"/><path d="M273 83C275.3 83.9 282.3 86.5 287 88.1C291.7 89.8 296.3 91.2 301 92.8C305.7 94.5 310.3 96.2 315 98C319.7 99.8 324.3 101.6 329 103.4C333.7 105.3 338.3 107.1 343 109C347.7 111 352.3 113 357 115C361.7 117 366.3 119 371 121C375.7 122.9 380.3 124.9 385 126.7C389.7 128.5 394.3 130 399 131.8C403.7 133.6 408.3 135.6 413 137.5C417.7 139.4 424.7 142.2 427 143.1" stroke="#000" stroke-width="10.4" stroke-dasharray="5 15.2 6.3 11 10.2 16.6 8.1 11.1 9.3 7.1" stroke-dashoffset="29.1" opacity="0.25"/><path d="M273 99.5C275.3 100.3 282.3 102.6 287 104.2C291.7 105.7 296.3 107.3 301 108.9C305.7 110.6 310.3 112.3 315 114.1C319.7 115.9 324.3 117.9 329 119.8C333.7 121.7 338.3 123.7 343 125.6C347.7 127.6 352.3 129.6 357 131.6C361.7 133.5 366.3 135.6 371 137.4C375.7 139.3 380.3 140.9 385 142.7C389.7 144.5 394.3 146.5 399 148.3C403.7 150.1 408.3 151.6 413 153.5C417.7 155.4 424.7 158.7 427 159.8" stroke="#ff2a00" stroke-width="9.4"/><path d="M273 99.5C275.3 100.3 282.3 102.6 287 104.2C291.7 105.7 296.3 107.3 301 108.9C305.7 110.6 310.3 112.3 315 114.1C319.7 115.9 324.3 117.9 329 119.8C333.7 121.7 338.3 123.7 343 125.6C347.7 127.6 352.3 129.6 357 131.6C361.7 133.5 366.3 135.6 371 137.4C375.7 139.3 380.3 140.9 385 142.7C389.7 144.5 394.3 146.5 399 148.3C403.7 150.1 408.3 151.6 413 153.5C417.7 155.4 424.7 158.7 427 159.8" stroke="#000" stroke-width="3.4" opacity="0.6"/><path d="M273 99.5C275.3 100.3 282.3 102.6 287 104.2C291.7 105.7 296.3 107.3 301 108.9C305.7 110.6 310.3 112.3 315 114.1C319.7 115.9 324.3 117.9 329 119.8C333.7 121.7 338.3 123.7 343 125.6C347.7 127.6 352.3 129.6 357 131.6C361.7 133.5 366.3 135.6 371 137.4C375.7 139.3 380.3 140.9 385 142.7C389.7 144.5 394.3 146.5 399 148.3C403.7 150.1 408.3 151.6 413 153.5C417.7 155.4 424.7 158.7 427 159.8" stroke="#000" stroke-width="10.4" stroke-dasharray="6.7 17.8 9 16.6 11.9 23.4 7.4 12.1 7 7.5" stroke-dashoffset="15.1" opacity="0.25"/><path d="M273 115.3C275.3 116.1 282.3 118.6 287 120.2C291.7 121.9 296.3 123.4 301 125.1C305.7 126.8 310.3 128.5 315 130.4C319.7 132.3 324.3 134.8 329 136.7C333.7 138.6 338.3 140 343 141.9C347.7 143.9 352.3 146.3 357 148.1C361.7 150 366.3 151.4 371 153.1C375.7 154.9 380.3 156.8 385 158.6C389.7 160.4 394.3 162.3 399 164.2C403.7 166.1 408.3 168 413 170.1C417.7 172.1 424.7 175.5 427 176.6" stroke="#ff2a00" stroke-width="9.4"/><path d="M273 115.3C275.3 116.1 282.3 118.6 287 120.2C291.7 121.9 296.3 123.4 301 125.1C305.7 126.8 310.3 128.5 315 130.4C319.7 132.3 324.3 134.8 329 136.7C333.7 138.6 338.3 140 343 141.9C347.7 143.9 352.3 146.3 357 148.1C361.7 150 366.3 151.4 371 153.1C375.7 154.9 380.3 156.8 385 158.6C389.7 160.4 394.3 162.3 399 164.2C403.7 166.1 408.3 168 413 170.1C417.7 172.1 424.7 175.5 427 176.6" stroke="#000" stroke-width="3.4" opacity="0.6"/><path d="M273 115.3C275.3 116.1 282.3 118.6 287 120.2C291.7 121.9 296.3 123.4 301 125.1C305.7 126.8 310.3 128.5 315 130.4C319.7 132.3 324.3 134.8 329 136.7C333.7 138.6 338.3 140 343 141.9C347.7 143.9 352.3 146.3 357 148.1C361.7 150 366.3 151.4 371 153.1C375.7 154.9 380.3 156.8 385 158.6C389.7 160.4 394.3 162.3 399 164.2C403.7 166.1 408.3 168 413 170.1C417.7 172.1 424.7 175.5 427 176.6" stroke="#000" stroke-width="10.4" stroke-dasharray="8.6 9.5 7.3 12.8 10.6 13 11.8 24.4 9 18.8" stroke-dashoffset="4.4" opacity="0.25"/><path d="M273 131.3C275.3 132.1 282.3 134.5 287 136.2C291.7 137.9 296.3 139.7 301 141.5C305.7 143.3 310.3 145.2 315 147.1C319.7 149 324.3 151 329 152.8C333.7 154.7 338.3 156.4 343 158.3C347.7 160.1 352.3 162 357 163.8C361.7 165.7 366.3 167.4 371 169.1C375.7 170.8 380.3 172.4 385 174.3C389.7 176.1 394.3 178.1 399 180.2C403.7 182.2 408.3 184.4 413 186.6C417.7 188.7 424.7 191.8 427 192.8" stroke="#ff2a00" stroke-width="9.4"/><path d="M273 131.3C275.3 132.1 282.3 134.5 287 136.2C291.7 137.9 296.3 139.7 301 141.5C305.7 143.3 310.3 145.2 315 147.1C319.7 149 324.3 151 329 152.8C333.7 154.7 338.3 156.4 343 158.3C347.7 160.1 352.3 162 357 163.8C361.7 165.7 366.3 167.4 371 169.1C375.7 170.8 380.3 172.4 385 174.3C389.7 176.1 394.3 178.1 399 180.2C403.7 182.2 408.3 184.4 413 186.6C417.7 188.7 424.7 191.8 427 192.8" stroke="#000" stroke-width="3.4" opacity="0.6"/><path d="M273 131.3C275.3 132.1 282.3 134.5 287 136.2C291.7 137.9 296.3 139.7 301 141.5C305.7 143.3 310.3 145.2 315 147.1C319.7 149 324.3 151 329 152.8C333.7 154.7 338.3 156.4 343 158.3C347.7 160.1 352.3 162 357 163.8C361.7 165.7 366.3 167.4 371 169.1C375.7 170.8 380.3 172.4 385 174.3C389.7 176.1 394.3 178.1 399 180.2C403.7 182.2 408.3 184.4 413 186.6C417.7 188.7 424.7 191.8 427 192.8" stroke="#000" stroke-width="10.4" stroke-dasharray="6.1 18.6 11.9 13.7 3.2 10.5 11.7 19.9 9.1 19.7" stroke-dashoffset="14.3" opacity="0.25"/><path d="M273 147C275.3 147.8 282.3 150.4 287 152.2C291.7 154 296.3 156 301 158C305.7 159.9 310.3 161.8 315 163.6C319.7 165.5 324.3 167.1 329 169C333.7 170.8 338.3 172.9 343 174.7C347.7 176.4 352.3 178 357 179.7C361.7 181.4 366.3 183 371 184.8C375.7 186.6 380.3 188.7 385 190.6C389.7 192.6 394.3 194.6 399 196.6C403.7 198.7 408.3 201 413 203.1C417.7 205.2 424.7 208.1 427 209.1" stroke="#ff2a00" stroke-width="9.4"/><path d="M273 147C275.3 147.8 282.3 150.4 287 152.2C291.7 154 296.3 156 301 158C305.7 159.9 310.3 161.8 315 163.6C319.7 165.5 324.3 167.1 329 169C333.7 170.8 338.3 172.9 343 174.7C347.7 176.4 352.3 178 357 179.7C361.7 181.4 366.3 183 371 184.8C375.7 186.6 380.3 188.7 385 190.6C389.7 192.6 394.3 194.6 399 196.6C403.7 198.7 408.3 201 413 203.1C417.7 205.2 424.7 208.1 427 209.1" stroke="#000" stroke-width="3.4" opacity="0.6"/><path d="M273 147C275.3 147.8 282.3 150.4 287 152.2C291.7 154 296.3 156 301 158C305.7 159.9 310.3 161.8 315 163.6C319.7 165.5 324.3 167.1 329 169C333.7 170.8 338.3 172.9 343 174.7C347.7 176.4 352.3 178 357 179.7C361.7 181.4 366.3 183 371 184.8C375.7 186.6 380.3 188.7 385 190.6C389.7 192.6 394.3 194.6 399 196.6C403.7 198.7 408.3 201 413 203.1C417.7 205.2 424.7 208.1 427 209.1" stroke="#000" stroke-width="10.4" stroke-dasharray="6.4 11.5 7.4 17.8 11.9 15.1 4.7 24.3 5.2 23.8" stroke-dashoffset="3.8" opacity="0.25"/><path d="M273 163.3C275.3 164.2 282.3 167 287 168.8C291.7 170.7 296.3 172.7 301 174.6C305.7 176.5 310.3 178.3 315 180.1C319.7 181.9 324.3 183.5 329 185.2C333.7 186.9 338.3 188.7 343 190.4C347.7 192.1 352.3 193.7 357 195.5C361.7 197.2 366.3 199 371 201C375.7 202.9 380.3 205.1 385 207.2C389.7 209.3 394.3 211.7 399 213.7C403.7 215.8 408.3 217.7 413 219.6C417.7 221.5 424.7 224.2 427 225.2" stroke="#ff2a00" stroke-width="9.4"/><path d="M273 163.3C275.3 164.2 282.3 167 287 168.8C291.7 170.7 296.3 172.7 301 174.6C305.7 176.5 310.3 178.3 315 180.1C319.7 181.9 324.3 183.5 329 185.2C333.7 186.9 338.3 188.7 343 190.4C347.7 192.1 352.3 193.7 357 195.5C361.7 197.2 366.3 199 371 201C375.7 202.9 380.3 205.1 385 207.2C389.7 209.3 394.3 211.7 399 213.7C403.7 215.8 408.3 217.7 413 219.6C417.7 221.5 424.7 224.2 427 225.2" stroke="#000" stroke-width="3.4" opacity="0.6"/><path d="M273 163.3C275.3 164.2 282.3 167 287 168.8C291.7 170.7 296.3 172.7 301 174.6C305.7 176.5 310.3 178.3 315 180.1C319.7 181.9 324.3 183.5 329 185.2C333.7 186.9 338.3 188.7 343 190.4C347.7 192.1 352.3 193.7 357 195.5C361.7 197.2 366.3 199 371 201C375.7 202.9 380.3 205.1 385 207.2C389.7 209.3 394.3 211.7 399 213.7C403.7 215.8 408.3 217.7 413 219.6C417.7 221.5 424.7 224.2 427 225.2" stroke="#000" stroke-width="10.4" stroke-dasharray="11.7 17.5 4 12.9 11.4 9 11.8 7.5 11.4 17.7" stroke-dashoffset="2.5" opacity="0.25"/><path d="M273 179.7C275.3 180.7 282.3 183.7 287 185.6C291.7 187.5 296.3 189.3 301 191C305.7 192.8 310.3 194.4 315 196C319.7 197.6 324.3 199.1 329 200.8C333.7 202.5 338.3 204.6 343 206.3C347.7 208.1 352.3 209.6 357 211.5C361.7 213.3 366.3 215.4 371 217.5C375.7 219.6 380.3 221.8 385 223.8C389.7 225.9 394.3 227.9 399 229.9C403.7 231.8 408.3 233.7 413 235.6C417.7 237.4 424.7 240.1 427 241" stroke="#ff2a00" stroke-width="9.4"/><path d="M273 179.7C275.3 180.7 282.3 183.7 287 185.6C291.7 187.5 296.3 189.3 301 191C305.7 192.8 310.3 194.4 315 196C319.7 197.6 324.3 199.1 329 200.8C333.7 202.5 338.3 204.6 343 206.3C347.7 208.1 352.3 209.6 357 211.5C361.7 213.3 366.3 215.4 371 217.5C375.7 219.6 380.3 221.8 385 223.8C389.7 225.9 394.3 227.9 399 229.9C403.7 231.8 408.3 233.7 413 235.6C417.7 237.4 424.7 240.1 427 241" stroke="#000" stroke-width="3.4" opacity="0.6"/><path d="M273 179.7C275.3 180.7 282.3 183.7 287 185.6C291.7 187.5 296.3 189.3 301 191C305.7 192.8 310.3 194.4 315 196C319.7 197.6 324.3 199.1 329 200.8C333.7 202.5 338.3 204.6 343 206.3C347.7 208.1 352.3 209.6 357 211.5C361.7 213.3 366.3 215.4 371 217.5C375.7 219.6 380.3 221.8 385 223.8C389.7 225.9 394.3 227.9 399 229.9C403.7 231.8 408.3 233.7 413 235.6C417.7 237.4 424.7 240.1 427 241" stroke="#000" stroke-width="10.4" stroke-dasharray="4.6 17.1 5.2 17.7 4.7 22.6 4.4 16.1 3.3 14.1" stroke-dashoffset="5.7" opacity="0.25"/><path d="M273 197C275.3 197.9 282.3 200.8 287 202.6C291.7 204.3 296.3 205.8 301 207.5C305.7 209.2 310.3 211.1 315 212.8C319.7 214.4 324.3 215.7 329 217.4C333.7 219.1 338.3 221 343 223C347.7 224.9 352.3 226.9 357 228.9C361.7 230.8 366.3 232.8 371 234.8C375.7 236.8 380.3 239 385 240.9C389.7 242.9 394.3 244.8 399 246.6C403.7 248.4 408.3 250.1 413 251.9C417.7 253.7 424.7 256.7 427 257.6" stroke="#ff2a00" stroke-width="9.4"/><path d="M273 197C275.3 197.9 282.3 200.8 287 202.6C291.7 204.3 296.3 205.8 301 207.5C305.7 209.2 310.3 211.1 315 212.8C319.7 214.4 324.3 215.7 329 217.4C333.7 219.1 338.3 221 343 223C347.7 224.9 352.3 226.9 357 228.9C361.7 230.8 366.3 232.8 371 234.8C375.7 236.8 380.3 239 385 240.9C389.7 242.9 394.3 244.8 399 246.6C403.7 248.4 408.3 250.1 413 251.9C417.7 253.7 424.7 256.7 427 257.6" stroke="#000" stroke-width="3.4" opacity="0.6"/><path d="M273 197C275.3 197.9 282.3 200.8 287 202.6C291.7 204.3 296.3 205.8 301 207.5C305.7 209.2 310.3 211.1 315 212.8C319.7 214.4 324.3 215.7 329 217.4C333.7 219.1 338.3 221 343 223C347.7 224.9 352.3 226.9 357 228.9C361.7 230.8 366.3 232.8 371 234.8C375.7 236.8 380.3 239 385 240.9C389.7 242.9 394.3 244.8 399 246.6C403.7 248.4 408.3 250.1 413 251.9C417.7 253.7 424.7 256.7 427 257.6" stroke="#000" stroke-width="10.4" stroke-dasharray="6.3 14.8 8.7 14.2 10.2 17.5 5.4 17.6 5 16.1" stroke-dashoffset="22.4" opacity="0.25"/><path d="M273 213.3C275.3 214.1 282.3 216.5 287 218.1C291.7 219.8 296.3 221.6 301 223.3C305.7 224.9 310.3 226.2 315 227.9C319.7 229.7 324.3 232 329 233.9C333.7 235.8 338.3 237.5 343 239.4C347.7 241.3 352.3 243.4 357 245.4C361.7 247.4 366.3 249.5 371 251.4C375.7 253.3 380.3 255 385 256.8C389.7 258.6 394.3 260.3 399 262.2C403.7 264 408.3 265.9 413 267.8C417.7 269.7 424.7 272.6 427 273.6" stroke="#ff2a00" stroke-width="9.4"/><path d="M273 213.3C275.3 214.1 282.3 216.5 287 218.1C291.7 219.8 296.3 221.6 301 223.3C305.7 224.9 310.3 226.2 315 227.9C319.7 229.7 324.3 232 329 233.9C333.7 235.8 338.3 237.5 343 239.4C347.7 241.3 352.3 243.4 357 245.4C361.7 247.4 366.3 249.5 371 251.4C375.7 253.3 380.3 255 385 256.8C389.7 258.6 394.3 260.3 399 262.2C403.7 264 408.3 265.9 413 267.8C417.7 269.7 424.7 272.6 427 273.6" stroke="#000" stroke-width="3.4" opacity="0.6"/><path d="M273 213.3C275.3 214.1 282.3 216.5 287 218.1C291.7 219.8 296.3 221.6 301 223.3C305.7 224.9 310.3 226.2 315 227.9C319.7 229.7 324.3 232 329 233.9C333.7 235.8 338.3 237.5 343 239.4C347.7 241.3 352.3 243.4 357 245.4C361.7 247.4 366.3 249.5 371 251.4C375.7 253.3 380.3 255 385 256.8C389.7 258.6 394.3 260.3 399 262.2C403.7 264 408.3 265.9 413 267.8C417.7 269.7 424.7 272.6 427 273.6" stroke="#000" stroke-width="10.4" stroke-dasharray="11.2 22.5 9.8 15.7 8.8 9.4 9 13.1 3.8 10.8" stroke-dashoffset="21.2" opacity="0.25"/><path d="M273 229.5C275.3 230.3 282.3 232.5 287 234.1C291.7 235.8 296.3 237.5 301 239.2C305.7 240.8 310.3 242.4 315 244.3C319.7 246.1 324.3 248.2 329 250.2C333.7 252.1 338.3 254.1 343 256C347.7 257.9 352.3 259.9 357 261.8C361.7 263.6 366.3 265.3 371 267.1C375.7 268.9 380.3 270.7 385 272.5C389.7 274.3 394.3 276.1 399 278C403.7 279.9 408.3 281.9 413 283.9C417.7 285.9 424.7 289 427 290" stroke="#ff2a00" stroke-width="9.4"/><path d="M273 229.5C275.3 230.3 282.3 232.5 287 234.1C291.7 235.8 296.3 237.5 301 239.2C305.7 240.8 310.3 242.4 315 244.3C319.7 246.1 324.3 248.2 329 250.2C333.7 252.1 338.3 254.1 343 256C347.7 257.9 352.3 259.9 357 261.8C361.7 263.6 366.3 265.3 371 267.1C375.7 268.9 380.3 270.7 385 272.5C389.7 274.3 394.3 276.1 399 278C403.7 279.9 408.3 281.9 413 283.9C417.7 285.9 424.7 289 427 290" stroke="#000" stroke-width="3.4" opacity="0.6"/><path d="M273 229.5C275.3 230.3 282.3 232.5 287 234.1C291.7 235.8 296.3 237.5 301 239.2C305.7 240.8 310.3 242.4 315 244.3C319.7 246.1 324.3 248.2 329 250.2C333.7 252.1 338.3 254.1 343 256C347.7 257.9 352.3 259.9 357 261.8C361.7 263.6 366.3 265.3 371 267.1C375.7 268.9 380.3 270.7 385 272.5C389.7 274.3 394.3 276.1 399 278C403.7 279.9 408.3 281.9 413 283.9C417.7 285.9 424.7 289 427 290" stroke="#000" stroke-width="10.4" stroke-dasharray="10.2 16.2 10.9 6.8 10.7 13.8 6.3 12.3 6 20.2" stroke-dashoffset="10.5" opacity="0.25"/><path d="M273 245.2C275.3 246 282.3 248.2 287 249.9C291.7 251.6 296.3 253.5 301 255.3C305.7 257 310.3 258.4 315 260.3C319.7 262.2 324.3 264.9 329 266.8C333.7 268.7 338.3 270.1 343 272C347.7 273.8 352.3 275.9 357 277.8C361.7 279.7 366.3 281.4 371 283.1C375.7 284.9 380.3 286.6 385 288.4C389.7 290.2 394.3 292 399 293.9C403.7 295.8 408.3 297.8 413 299.9C417.7 301.9 424.7 305.2 427 306.3" stroke="#ff2a00" stroke-width="9.4"/><path d="M273 245.2C275.3 246 282.3 248.2 287 249.9C291.7 251.6 296.3 253.5 301 255.3C305.7 257 310.3 258.4 315 260.3C319.7 262.2 324.3 264.9 329 266.8C333.7 268.7 338.3 270.1 343 272C347.7 273.8 352.3 275.9 357 277.8C361.7 279.7 366.3 281.4 371 283.1C375.7 284.9 380.3 286.6 385 288.4C389.7 290.2 394.3 292 399 293.9C403.7 295.8 408.3 297.8 413 299.9C417.7 301.9 424.7 305.2 427 306.3" stroke="#000" stroke-width="3.4" opacity="0.6"/><path d="M273 245.2C275.3 246 282.3 248.2 287 249.9C291.7 251.6 296.3 253.5 301 255.3C305.7 257 310.3 258.4 315 260.3C319.7 262.2 324.3 264.9 329 266.8C333.7 268.7 338.3 270.1 343 272C347.7 273.8 352.3 275.9 357 277.8C361.7 279.7 366.3 281.4 371 283.1C375.7 284.9 380.3 286.6 385 288.4C389.7 290.2 394.3 292 399 293.9C403.7 295.8 408.3 297.8 413 299.9C417.7 301.9 424.7 305.2 427 306.3" stroke="#000" stroke-width="10.4" stroke-dasharray="10.4 17.6 9.7 20.9 3.1 22.2 4.1 11.5 7.3 14" stroke-dashoffset="16.4" opacity="0.25"/><path d="M273 261.3C275.3 262.1 282.3 264.5 287 266.2C291.7 267.9 296.3 269.7 301 271.6C305.7 273.5 310.3 275.5 315 277.5C319.7 279.5 324.3 281.6 329 283.5C333.7 285.3 338.3 286.8 343 288.5C347.7 290.2 352.3 292 357 293.8C361.7 295.6 366.3 297.3 371 299.1C375.7 300.8 380.3 302.6 385 304.5C389.7 306.4 394.3 308.5 399 310.6C403.7 312.6 408.3 314.9 413 317C417.7 319.2 424.7 322.3 427 323.4" stroke="#ff2a00" stroke-width="9.4"/><path d="M273 261.3C275.3 262.1 282.3 264.5 287 266.2C291.7 267.9 296.3 269.7 301 271.6C305.7 273.5 310.3 275.5 315 277.5C319.7 279.5 324.3 281.6 329 283.5C333.7 285.3 338.3 286.8 343 288.5C347.7 290.2 352.3 292 357 293.8C361.7 295.6 366.3 297.3 371 299.1C375.7 300.8 380.3 302.6 385 304.5C389.7 306.4 394.3 308.5 399 310.6C403.7 312.6 408.3 314.9 413 317C417.7 319.2 424.7 322.3 427 323.4" stroke="#000" stroke-width="3.4" opacity="0.6"/><path d="M273 261.3C275.3 262.1 282.3 264.5 287 266.2C291.7 267.9 296.3 269.7 301 271.6C305.7 273.5 310.3 275.5 315 277.5C319.7 279.5 324.3 281.6 329 283.5C333.7 285.3 338.3 286.8 343 288.5C347.7 290.2 352.3 292 357 293.8C361.7 295.6 366.3 297.3 371 299.1C375.7 300.8 380.3 302.6 385 304.5C389.7 306.4 394.3 308.5 399 310.6C403.7 312.6 408.3 314.9 413 317C417.7 319.2 424.7 322.3 427 323.4" stroke="#000" stroke-width="10.4" stroke-dasharray="3.9 16.6 10.9 14.1 8.5 13.4 8.5 6.7 7.3 13.6" stroke-dashoffset="21.6" opacity="0.25"/><path d="M273 277.4C275.3 278.3 282.3 280.5 287 282.4C291.7 284.3 296.3 286.8 301 288.7C305.7 290.7 310.3 292.4 315 294.2C319.7 295.9 324.3 297.6 329 299.3C333.7 301 338.3 302.8 343 304.5C347.7 306.3 352.3 308 357 309.7C361.7 311.4 366.3 313.1 371 314.9C375.7 316.8 380.3 318.8 385 320.8C389.7 322.7 394.3 324.6 399 326.7C403.7 328.8 408.3 331.3 413 333.4C417.7 335.5 424.7 338.4 427 339.4" stroke="#ff2a00" stroke-width="9.4"/><path d="M273 277.4C275.3 278.3 282.3 280.5 287 282.4C291.7 284.3 296.3 286.8 301 288.7C305.7 290.7 310.3 292.4 315 294.2C319.7 295.9 324.3 297.6 329 299.3C333.7 301 338.3 302.8 343 304.5C347.7 306.3 352.3 308 357 309.7C361.7 311.4 366.3 313.1 371 314.9C375.7 316.8 380.3 318.8 385 320.8C389.7 322.7 394.3 324.6 399 326.7C403.7 328.8 408.3 331.3 413 333.4C417.7 335.5 424.7 338.4 427 339.4" stroke="#000" stroke-width="3.4" opacity="0.6"/><path d="M273 277.4C275.3 278.3 282.3 280.5 287 282.4C291.7 284.3 296.3 286.8 301 288.7C305.7 290.7 310.3 292.4 315 294.2C319.7 295.9 324.3 297.6 329 299.3C333.7 301 338.3 302.8 343 304.5C347.7 306.3 352.3 308 357 309.7C361.7 311.4 366.3 313.1 371 314.9C375.7 316.8 380.3 318.8 385 320.8C389.7 322.7 394.3 324.6 399 326.7C403.7 328.8 408.3 331.3 413 333.4C417.7 335.5 424.7 338.4 427 339.4" stroke="#000" stroke-width="10.4" stroke-dasharray="8.5 22.3 3.5 12.5 4 24.2 11.5 16.3 3.6 21.5" stroke-dashoffset="24" opacity="0.25"/><path d="M273 293.7C275.3 294.6 282.3 297.3 287 299.2C291.7 301.1 296.3 303 301 304.8C305.7 306.6 310.3 308.3 315 310C319.7 311.7 324.3 313.3 329 315C333.7 316.7 338.3 318.3 343 320.1C347.7 321.9 352.3 323.7 357 325.6C361.7 327.5 366.3 329.4 371 331.4C375.7 333.4 380.3 335.4 385 337.4C389.7 339.4 394.3 341.4 399 343.4C403.7 345.5 408.3 347.9 413 349.8C417.7 351.8 424.7 354.2 427 355.1" stroke="#ff2a00" stroke-width="9.4"/><path d="M273 293.7C275.3 294.6 282.3 297.3 287 299.2C291.7 301.1 296.3 303 301 304.8C305.7 306.6 310.3 308.3 315 310C319.7 311.7 324.3 313.3 329 315C333.7 316.7 338.3 318.3 343 320.1C347.7 321.9 352.3 323.7 357 325.6C361.7 327.5 366.3 329.4 371 331.4C375.7 333.4 380.3 335.4 385 337.4C389.7 339.4 394.3 341.4 399 343.4C403.7 345.5 408.3 347.9 413 349.8C417.7 351.8 424.7 354.2 427 355.1" stroke="#000" stroke-width="3.4" opacity="0.6"/><path d="M273 293.7C275.3 294.6 282.3 297.3 287 299.2C291.7 301.1 296.3 303 301 304.8C305.7 306.6 310.3 308.3 315 310C319.7 311.7 324.3 313.3 329 315C333.7 316.7 338.3 318.3 343 320.1C347.7 321.9 352.3 323.7 357 325.6C361.7 327.5 366.3 329.4 371 331.4C375.7 333.4 380.3 335.4 385 337.4C389.7 339.4 394.3 341.4 399 343.4C403.7 345.5 408.3 347.9 413 349.8C417.7 351.8 424.7 354.2 427 355.1" stroke="#000" stroke-width="10.4" stroke-dasharray="7.1 20.4 7.7 14 6.7 23.5 8.7 17.8 9.9 20.4" stroke-dashoffset="19.8" opacity="0.25"/></g>
<g fill="none" style="mix-blend-mode:screen">
<g fill="#1fa01f" opacity="0.9"><circle cx="325.3" cy="294.2" r="0.7"/><circle cx="355.3" cy="277.3" r="0.4"/><circle cx="390.3" cy="270.7" r="0.7"/><circle cx="394.7" cy="217.9" r="0.5"/><circle cx="315.9" cy="190.3" r="0.8"/><circle cx="352.2" cy="207.7" r="0.7"/><circle cx="408.2" cy="295.5" r="0.5"/><circle cx="322" cy="174.4" r="0.7"/><circle cx="315.6" cy="293.3" r="0.5"/><circle cx="407.3" cy="221.6" r="0.6"/><circle cx="293.6" cy="200.9" r="0.7"/><circle cx="328" cy="203.5" r="0.7"/><circle cx="396.7" cy="249.7" r="0.7"/><circle cx="307.5" cy="256.3" r="0.8"/><circle cx="403.9" cy="209.2" r="0.6"/><circle cx="311.6" cy="301.8" r="0.5"/><circle cx="389.4" cy="185.1" r="0.8"/><circle cx="335.5" cy="191.5" r="0.5"/><circle cx="306.9" cy="238.8" r="0.8"/><circle cx="336.1" cy="176.3" r="0.7"/><circle cx="316.2" cy="272.8" r="0.5"/><circle cx="296" cy="283.4" r="0.8"/><circle cx="364.9" cy="203.2" r="0.6"/><circle cx="304.2" cy="211" r="0.6"/><circle cx="342.9" cy="291.6" r="0.5"/><circle cx="283.3" cy="183.4" r="0.5"/><circle cx="323.6" cy="280.2" r="0.5"/><circle cx="289.2" cy="246" r="0.4"/><circle cx="353.2" cy="199.5" r="0.6"/><circle cx="359.3" cy="269.3" r="0.8"/><circle cx="409.7" cy="188" r="0.5"/><circle cx="383.1" cy="232.9" r="0.4"/><circle cx="376.9" cy="251.6" r="0.6"/><circle cx="289.7" cy="212.6" r="0.8"/><circle cx="337.2" cy="187.5" r="0.8"/><circle cx="368.7" cy="284.9" r="0.8"/><circle cx="406.4" cy="245.3" r="0.6"/><circle cx="342.2" cy="195.2" r="0.6"/><circle cx="397.8" cy="195.3" r="0.7"/><circle cx="306.5" cy="217.9" r="0.6"/></g>
<path d="M273 83C275.3 83.9 282.3 86.5 287 88.1C291.7 89.8 296.3 91.2 301 92.8C305.7 94.5 310.3 96.2 315 98C319.7 99.8 324.3 101.6 329 103.4C333.7 105.3 338.3 107.1 343 109C347.7 111 352.3 113 357 115C361.7 117 366.3 119 371 121C375.7 122.9 380.3 124.9 385 126.7C389.7 128.5 394.3 130 399 131.8C403.7 133.6 408.3 135.6 413 137.5C417.7 139.4 424.7 142.2 427 143.1" stroke="#30c020" stroke-width="2.3" stroke-linecap="round" stroke-dasharray="0.6 3.2 0.6 5 0.9 5.5 0.9 3.8 0.4 4.9 0.6 4.4 1 2.9 0.1 3.4 0.5 3.5" stroke-dashoffset="8" opacity="1"/>
<path d="M273 80.4C275.3 81.3 282.3 83.9 287 85.6C291.7 87.2 296.3 88.7 301 90.3C305.7 92 310.3 93.7 315 95.4C319.7 97.2 324.3 99 329 100.8C333.7 102.7 338.3 104.5 343 106.4C347.7 108.3 352.3 110.4 357 112.4C361.7 114.4 366.3 116.4 371 118.4C375.7 120.3 380.3 122.3 385 124.1C389.7 125.9 394.3 127.5 399 129.3C403.7 131.1 408.3 133.1 413 134.9C417.7 136.8 424.7 139.6 427 140.5" stroke="#90c010" stroke-width="2.2" stroke-linecap="round" stroke-dasharray="0.8 1.9 0.7 2.5 0.9 1.3 0.9 2.9 1.3 3.5 0.8 3.1 1.1 1.2 1.2 3.5" stroke-dashoffset="2.5" opacity="0.9"/>
<path d="M273 85.6C275.3 86.5 282.3 89.1 287 90.7C291.7 92.3 296.3 93.7 301 95.4C305.7 97 310.3 98.8 315 100.5C319.7 102.3 324.3 104.2 329 106.1C333.7 107.9 338.3 109.8 343 111.7C347.7 113.6 352.3 115.7 357 117.7C361.7 119.7 366.3 121.7 371 123.6C375.7 125.5 380.3 127.4 385 129.2C389.7 131 394.3 132.5 399 134.3C403.7 136.1 408.3 138.1 413 140C417.7 141.9 424.7 144.8 427 145.7" stroke="#90c010" stroke-width="2.2" stroke-linecap="round" stroke-dasharray="0.8 1.7 1.2 3.3 0.6 2 1.3 3.2 1.6 3 1.2 1.7 0.6 1.9 1.2 2.4" stroke-dashoffset="3.9" opacity="0.9"/>
<path d="M273 99.5C275.3 100.3 282.3 102.6 287 104.2C291.7 105.7 296.3 107.3 301 108.9C305.7 110.6 310.3 112.3 315 114.1C319.7 115.9 324.3 117.9 329 119.8C333.7 121.7 338.3 123.7 343 125.6C347.7 127.6 352.3 129.6 357 131.6C361.7 133.5 366.3 135.6 371 137.4C375.7 139.3 380.3 140.9 385 142.7C389.7 144.5 394.3 146.5 399 148.3C403.7 150.1 408.3 151.6 413 153.5C417.7 155.4 424.7 158.7 427 159.8" stroke="#30c020" stroke-width="2.3" stroke-linecap="round" stroke-dasharray="0.2 5.5 0.5 3.4 0.5 3.4 0.2 4.3 0.5 3.4 0.5 3.6 1 3.7 0.5 3.4 0.9 4.7" stroke-dashoffset="6.8" opacity="1"/>
<path d="M273 96.9C275.3 97.7 282.3 100.1 287 101.6C291.7 103.2 296.3 104.7 301 106.4C305.7 108 310.3 109.7 315 111.5C319.7 113.3 324.3 115.3 329 117.2C333.7 119.1 338.3 121 343 123C347.7 124.9 352.3 127 357 128.9C361.7 130.9 366.3 133 371 134.8C375.7 136.7 380.3 138.3 385 140.1C389.7 142 394.3 144 399 145.8C403.7 147.6 408.3 149 413 150.9C417.7 152.8 424.7 156.1 427 157.2" stroke="#90c010" stroke-width="2.2" stroke-linecap="round" stroke-dasharray="0.6 1.4 0.5 3.1 0.3 3.5 0.9 2.6 1.5 3 0.9 1.2 1 2.1 1.2 1.4" stroke-dashoffset="3.7" opacity="0.9"/>
<path d="M273 102.1C275.3 102.8 282.3 105.1 287 106.7C291.7 108.3 296.3 109.8 301 111.5C305.7 113.2 310.3 114.9 315 116.7C319.7 118.6 324.3 120.6 329 122.5C333.7 124.4 338.3 126.3 343 128.3C347.7 130.2 352.3 132.3 357 134.2C361.7 136.2 366.3 138.2 371 140C375.7 141.8 380.3 143.4 385 145.2C389.7 147 394.3 149.1 399 150.9C403.7 152.7 408.3 154.2 413 156.1C417.7 158 424.7 161.4 427 162.4" stroke="#90c010" stroke-width="2.2" stroke-linecap="round" stroke-dasharray="0.5 3.4 0.8 1.1 0.3 2.7 0.6 3.2 0.9 2.4 1 3 0.9 1.1 1.4 3.1" stroke-dashoffset="0.9" opacity="0.9"/>
<path d="M273 115.3C275.3 116.1 282.3 118.6 287 120.2C291.7 121.9 296.3 123.4 301 125.1C305.7 126.8 310.3 128.5 315 130.4C319.7 132.3 324.3 134.8 329 136.7C333.7 138.6 338.3 140 343 141.9C347.7 143.9 352.3 146.3 357 148.1C361.7 150 366.3 151.4 371 153.1C375.7 154.9 380.3 156.8 385 158.6C389.7 160.4 394.3 162.3 399 164.2C403.7 166.1 408.3 168 413 170.1C417.7 172.1 424.7 175.5 427 176.6" stroke="#30c020" stroke-width="2.3" stroke-linecap="round" stroke-dasharray="0.3 3.5 0.6 3.9 0.3 5.5 0.2 3.7 0.9 5.8 0.8 3.9 0.9 5.8 0.1 3.2 0.5 2.9" stroke-dashoffset="3.1" opacity="1"/>
<path d="M273 112.8C275.3 113.6 282.3 116.1 287 117.7C291.7 119.3 296.3 120.8 301 122.5C305.7 124.2 310.3 125.8 315 127.8C319.7 129.7 324.3 132.1 329 134C333.7 135.9 338.3 137.4 343 139.3C347.7 141.2 352.3 143.7 357 145.6C361.7 147.4 366.3 148.8 371 150.6C375.7 152.3 380.3 154.2 385 156.1C389.7 157.9 394.3 159.7 399 161.6C403.7 163.5 408.3 165.4 413 167.4C417.7 169.5 424.7 172.9 427 173.9" stroke="#90c010" stroke-width="2.2" stroke-linecap="round" stroke-dasharray="1.3 1.2 0.4 1.1 0.4 1.2 1.1 3.1 0.5 3.2 1.6 2.7 1 2.1 1 1.6" stroke-dashoffset="4.3" opacity="0.9"/>
<path d="M273 117.8C275.3 118.7 282.3 121.1 287 122.8C291.7 124.4 296.3 126 301 127.7C305.7 129.4 310.3 131.1 315 133.1C319.7 135 324.3 137.4 329 139.3C333.7 141.3 338.3 142.7 343 144.6C347.7 146.5 352.3 148.9 357 150.7C361.7 152.6 366.3 153.9 371 155.7C375.7 157.4 380.3 159.3 385 161.2C389.7 163 394.3 164.8 399 166.8C403.7 168.7 408.3 170.6 413 172.7C417.7 174.8 424.7 178.2 427 179.3" stroke="#90c010" stroke-width="2.2" stroke-linecap="round" stroke-dasharray="1.4 3 0.3 1.8 0.3 1.5 1.1 2.9 1.3 1.3 1.3 2.1 1.5 3.3 1.1 1.5" stroke-dashoffset="0.4" opacity="0.9"/>
<path d="M273 131.3C275.3 132.1 282.3 134.5 287 136.2C291.7 137.9 296.3 139.7 301 141.5C305.7 143.3 310.3 145.2 315 147.1C319.7 149 324.3 151 329 152.8C333.7 154.7 338.3 156.4 343 158.3C347.7 160.1 352.3 162 357 163.8C361.7 165.7 366.3 167.4 371 169.1C375.7 170.8 380.3 172.4 385 174.3C389.7 176.1 394.3 178.1 399 180.2C403.7 182.2 408.3 184.4 413 186.6C417.7 188.7 424.7 191.8 427 192.8" stroke="#30c020" stroke-width="2.3" stroke-linecap="round" stroke-dasharray="0.2 5.5 0.9 3.1 0.2 4.4 0.7 5.9 0.7 5.2 0.2 4.1 0.2 2.9 0.5 3.9 0.4 4.4" stroke-dashoffset="6.9" opacity="1"/>
<path d="M273 128.8C275.3 129.6 282.3 131.9 287 133.6C291.7 135.3 296.3 137 301 138.8C305.7 140.6 310.3 142.5 315 144.4C319.7 146.3 324.3 148.3 329 150.2C333.7 152.1 338.3 153.8 343 155.7C347.7 157.5 352.3 159.5 357 161.3C361.7 163.1 366.3 164.8 371 166.6C375.7 168.3 380.3 169.9 385 171.7C389.7 173.5 394.3 175.5 399 177.5C403.7 179.5 408.3 181.8 413 183.9C417.7 186 424.7 189.1 427 190.2" stroke="#90c010" stroke-width="2.2" stroke-linecap="round" stroke-dasharray="1.3 2.7 1.2 1.2 1.4 2.4 1.5 1.8 0.6 1.8 1.5 2 1.4 2.8 0.9 3" stroke-dashoffset="1.5" opacity="0.9"/>
<path d="M273 133.9C275.3 134.7 282.3 137.1 287 138.8C291.7 140.5 296.3 142.3 301 144.1C305.7 146 310.3 147.8 315 149.7C319.7 151.6 324.3 153.6 329 155.5C333.7 157.3 338.3 159 343 160.8C347.7 162.7 352.3 164.6 357 166.4C361.7 168.2 366.3 169.9 371 171.7C375.7 173.4 380.3 175 385 176.9C389.7 178.7 394.3 180.7 399 182.8C403.7 184.9 408.3 187.1 413 189.2C417.7 191.3 424.7 194.4 427 195.5" stroke="#90c010" stroke-width="2.2" stroke-linecap="round" stroke-dasharray="1.3 2.8 1 2.5 0.6 3.4 0.2 1.1 1.2 3 1.4 2.8 1.5 2.6 0.3 2.1" stroke-dashoffset="6" opacity="0.9"/>
<path d="M273 147C275.3 147.8 282.3 150.4 287 152.2C291.7 154 296.3 156 301 158C305.7 159.9 310.3 161.8 315 163.6C319.7 165.5 324.3 167.1 329 169C333.7 170.8 338.3 172.9 343 174.7C347.7 176.4 352.3 178 357 179.7C361.7 181.4 366.3 183 371 184.8C375.7 186.6 380.3 188.7 385 190.6C389.7 192.6 394.3 194.6 399 196.6C403.7 198.7 408.3 201 413 203.1C417.7 205.2 424.7 208.1 427 209.1" stroke="#30c020" stroke-width="2.3" stroke-linecap="round" stroke-dasharray="0.2 6 0.5 3.9 0.5 2.9 1 3.6 0.4 4.2 0.9 4 0.2 5 0.8 5.8 0.4 4.8" stroke-dashoffset="5.1" opacity="1"/>
<path d="M273 144.4C275.3 145.3 282.3 147.7 287 149.5C291.7 151.4 296.3 153.4 301 155.3C305.7 157.2 310.3 159.1 315 161C319.7 162.8 324.3 164.5 329 166.4C333.7 168.2 338.3 170.3 343 172.1C347.7 173.9 352.3 175.5 357 177.2C361.7 178.8 366.3 180.4 371 182.2C375.7 184 380.3 186 385 188C389.7 190 394.3 191.9 399 194C403.7 196.1 408.3 198.4 413 200.4C417.7 202.5 424.7 205.5 427 206.5" stroke="#90c010" stroke-width="2.2" stroke-linecap="round" stroke-dasharray="0.2 1.5 0.7 3.3 0.8 3 1.1 2.2 0.8 2.1 0.7 2 0.4 1.8 1.2 1.7" stroke-dashoffset="5.2" opacity="0.9"/>
<path d="M273 149.6C275.3 150.4 282.3 153 287 154.8C291.7 156.7 296.3 158.7 301 160.6C305.7 162.5 310.3 164.4 315 166.3C319.7 168.1 324.3 169.7 329 171.6C333.7 173.4 338.3 175.4 343 177.2C347.7 179 352.3 180.5 357 182.2C361.7 183.9 366.3 185.6 371 187.4C375.7 189.2 380.3 191.3 385 193.3C389.7 195.3 394.3 197.2 399 199.3C403.7 201.4 408.3 203.7 413 205.7C417.7 207.8 424.7 210.7 427 211.6" stroke="#90c010" stroke-width="2.2" stroke-linecap="round" stroke-dasharray="0.6 2.3 0.3 3.2 1.2 2.5 1.1 1.4 1.4 2.3 0.4 1.3 0.4 2.7 0.6 1.9" stroke-dashoffset="8.3" opacity="0.9"/>
<path d="M273 163.3C275.3 164.2 282.3 167 287 168.8C291.7 170.7 296.3 172.7 301 174.6C305.7 176.5 310.3 178.3 315 180.1C319.7 181.9 324.3 183.5 329 185.2C333.7 186.9 338.3 188.7 343 190.4C347.7 192.1 352.3 193.7 357 195.5C361.7 197.2 366.3 199 371 201C375.7 202.9 380.3 205.1 385 207.2C389.7 209.3 394.3 211.7 399 213.7C403.7 215.8 408.3 217.7 413 219.6C417.7 221.5 424.7 224.2 427 225.2" stroke="#30c020" stroke-width="2.3" stroke-linecap="round" stroke-dasharray="0.2 5.2 0.7 6 0.8 3 1 2.8 0.2 2.9 0.7 3.6 0.7 5.7 0.3 2.6 0.6 5.5" stroke-dashoffset="8.1" opacity="1"/>
<path d="M273 160.7C275.3 161.6 282.3 164.3 287 166.2C291.7 168.1 296.3 170 301 171.9C305.7 173.8 310.3 175.7 315 177.5C319.7 179.3 324.3 181 329 182.7C333.7 184.4 338.3 186.1 343 187.8C347.7 189.5 352.3 191.1 357 192.9C361.7 194.6 366.3 196.4 371 198.3C375.7 200.3 380.3 202.4 385 204.5C389.7 206.6 394.3 209 399 211.1C403.7 213.2 408.3 215.1 413 217C417.7 218.9 424.7 221.7 427 222.6" stroke="#90c010" stroke-width="2.2" stroke-linecap="round" stroke-dasharray="1.2 2.7 0.7 3.3 1.1 2.8 0.7 1.6 1.1 1.2 0.5 1.4 1 2.3 0.9 3.2" stroke-dashoffset="0.9" opacity="0.9"/>
<path d="M273 165.9C275.3 166.9 282.3 169.6 287 171.5C291.7 173.4 296.3 175.3 301 177.2C305.7 179.1 310.3 180.9 315 182.7C319.7 184.5 324.3 186.1 329 187.8C333.7 189.5 338.3 191.2 343 192.9C347.7 194.6 352.3 196.3 357 198C361.7 199.8 366.3 201.6 371 203.6C375.7 205.6 380.3 207.7 385 209.8C389.7 212 394.3 214.3 399 216.4C403.7 218.4 408.3 220.3 413 222.2C417.7 224.1 424.7 226.8 427 227.7" stroke="#90c010" stroke-width="2.2" stroke-linecap="round" stroke-dasharray="1.4 2.8 0.7 1.8 0.8 1.9 0.8 2.4 1.5 1.3 0.5 2.7 1.3 3.5 1.5 1.3" stroke-dashoffset="2.8" opacity="0.9"/>
<path d="M273 179.7C275.3 180.7 282.3 183.7 287 185.6C291.7 187.5 296.3 189.3 301 191C305.7 192.8 310.3 194.4 315 196C319.7 197.6 324.3 199.1 329 200.8C333.7 202.5 338.3 204.6 343 206.3C347.7 208.1 352.3 209.6 357 211.5C361.7 213.3 366.3 215.4 371 217.5C375.7 219.6 380.3 221.8 385 223.8C389.7 225.9 394.3 227.9 399 229.9C403.7 231.8 408.3 233.7 413 235.6C417.7 237.4 424.7 240.1 427 241" stroke="#30c020" stroke-width="2.3" stroke-linecap="round" stroke-dasharray="0.6 2.9 0.2 3.6 0.8 4.4 0.5 4.3 0.8 3.3 0.2 5.5 0.9 5.1 1.1 5 0.6 3.4" stroke-dashoffset="6.5" opacity="1"/>
<path d="M273 177.1C275.3 178 282.3 181.1 287 183C291.7 184.8 296.3 186.7 301 188.4C305.7 190.2 310.3 191.8 315 193.5C319.7 195.1 324.3 196.5 329 198.3C333.7 200 338.3 202 343 203.8C347.7 205.5 352.3 207 357 208.8C361.7 210.7 366.3 212.8 371 214.8C375.7 216.9 380.3 219.1 385 221.2C389.7 223.2 394.3 225.3 399 227.3C403.7 229.3 408.3 231.1 413 233C417.7 234.9 424.7 237.6 427 238.5" stroke="#90c010" stroke-width="2.2" stroke-linecap="round" stroke-dasharray="0.6 1.6 0.5 3.3 0.3 1.3 1.1 3.3 1.4 3.2 1.5 2.6 0.4 2 0.6 3.4" stroke-dashoffset="0.9" opacity="0.9"/>
<path d="M273 182.4C275.3 183.4 282.3 186.4 287 188.2C291.7 190.1 296.3 191.9 301 193.6C305.7 195.3 310.3 196.9 315 198.5C319.7 200.2 324.3 201.6 329 203.3C333.7 205.1 338.3 207.1 343 208.9C347.7 210.7 352.3 212.2 357 214.1C361.7 216 366.3 218.1 371 220.2C375.7 222.2 380.3 224.4 385 226.5C389.7 228.5 394.3 230.5 399 232.5C403.7 234.4 408.3 236.3 413 238.1C417.7 240 424.7 242.7 427 243.6" stroke="#90c010" stroke-width="2.2" stroke-linecap="round" stroke-dasharray="1.4 3.1 0.3 2.1 0.5 1.4 0.8 1.4 1.5 1.5 0.9 2 0.5 2.5 0.9 2.1" stroke-dashoffset="0.1" opacity="0.9"/>
<path d="M273 197C275.3 197.9 282.3 200.8 287 202.6C291.7 204.3 296.3 205.8 301 207.5C305.7 209.2 310.3 211.1 315 212.8C319.7 214.4 324.3 215.7 329 217.4C333.7 219.1 338.3 221 343 223C347.7 224.9 352.3 226.9 357 228.9C361.7 230.8 366.3 232.8 371 234.8C375.7 236.8 380.3 239 385 240.9C389.7 242.9 394.3 244.8 399 246.6C403.7 248.4 408.3 250.1 413 251.9C417.7 253.7 424.7 256.7 427 257.6" stroke="#30c020" stroke-width="2.3" stroke-linecap="round" stroke-dasharray="0.9 2.9 0.5 3.6 0.5 4.5 0.8 5.5 0.8 5.7 1.1 3.4 0.7 2.9 0.7 4.8 0.8 5" stroke-dashoffset="3.5" opacity="1"/>
<path d="M273 194.3C275.3 195.3 282.3 198.2 287 200C291.7 201.7 296.3 203.2 301 204.9C305.7 206.6 310.3 208.6 315 210.3C319.7 211.9 324.3 213.1 329 214.8C333.7 216.5 338.3 218.4 343 220.3C347.7 222.2 352.3 224.2 357 226.2C361.7 228.2 366.3 230.2 371 232.2C375.7 234.2 380.3 236.3 385 238.3C389.7 240.3 394.3 242.2 399 244C403.7 245.9 408.3 247.5 413 249.4C417.7 251.2 424.7 254.1 427 255.1" stroke="#90c010" stroke-width="2.2" stroke-linecap="round" stroke-dasharray="0.8 1.5 0.8 2.4 1.3 3.3 1.6 2.6 1.5 1.5 0.3 2 1.4 1.5 1 3.3" stroke-dashoffset="1.4" opacity="0.9"/>
<path d="M273 199.6C275.3 200.6 282.3 203.4 287 205.2C291.7 206.9 296.3 208.3 301 210C305.7 211.7 310.3 213.7 315 215.3C319.7 217 324.3 218.2 329 219.9C333.7 221.6 338.3 223.7 343 225.6C347.7 227.5 352.3 229.5 357 231.5C361.7 233.5 366.3 235.5 371 237.5C375.7 239.5 380.3 241.6 385 243.5C389.7 245.5 394.3 247.3 399 249.1C403.7 251 408.3 252.6 413 254.4C417.7 256.3 424.7 259.2 427 260.2" stroke="#90c010" stroke-width="2.2" stroke-linecap="round" stroke-dasharray="1.4 2.8 0.8 1.1 0.8 1.2 1.4 3.3 0.6 3.2 1 3 1.6 2.8 0.9 1.3" stroke-dashoffset="0.2" opacity="0.9"/>
<path d="M273 213.3C275.3 214.1 282.3 216.5 287 218.1C291.7 219.8 296.3 221.6 301 223.3C305.7 224.9 310.3 226.2 315 227.9C319.7 229.7 324.3 232 329 233.9C333.7 235.8 338.3 237.5 343 239.4C347.7 241.3 352.3 243.4 357 245.4C361.7 247.4 366.3 249.5 371 251.4C375.7 253.3 380.3 255 385 256.8C389.7 258.6 394.3 260.3 399 262.2C403.7 264 408.3 265.9 413 267.8C417.7 269.7 424.7 272.6 427 273.6" stroke="#30c020" stroke-width="2.3" stroke-linecap="round" stroke-dasharray="1.1 4.5 0.6 3.7 0.6 4.3 0.4 4.8 0.9 5.9 0.4 3.7 0.9 3.3 0.3 3.2 0.5 4.2" stroke-dashoffset="5.1" opacity="1"/>
<path d="M273 210.7C275.3 211.5 282.3 213.9 287 215.6C291.7 217.2 296.3 219.1 301 220.7C305.7 222.4 310.3 223.6 315 225.4C319.7 227.1 324.3 229.4 329 231.3C333.7 233.2 338.3 234.8 343 236.7C347.7 238.6 352.3 240.7 357 242.8C361.7 244.8 366.3 246.9 371 248.8C375.7 250.7 380.3 252.4 385 254.2C389.7 256 394.3 257.8 399 259.6C403.7 261.5 408.3 263.3 413 265.2C417.7 267.1 424.7 270 427 271" stroke="#90c010" stroke-width="2.2" stroke-linecap="round" stroke-dasharray="0.9 1.2 1.4 3 0.5 1.9 1.1 3.2 0.8 1.5 1.5 1.6 0.4 2.1 1.3 1.5" stroke-dashoffset="3.5" opacity="0.9"/>
<path d="M273 215.9C275.3 216.7 282.3 219 287 220.7C291.7 222.3 296.3 224.2 301 225.8C305.7 227.5 310.3 228.7 315 230.5C319.7 232.3 324.3 234.6 329 236.6C333.7 238.5 338.3 240.1 343 242C347.7 243.9 352.3 246.1 357 248.1C361.7 250.1 366.3 252.1 371 254C375.7 255.9 380.3 257.6 385 259.3C389.7 261.1 394.3 262.9 399 264.7C403.7 266.5 408.3 268.4 413 270.3C417.7 272.3 424.7 275.2 427 276.2" stroke="#90c010" stroke-width="2.2" stroke-linecap="round" stroke-dasharray="1.5 2.2 0.7 1.2 0.3 2.3 0.5 1.1 0.9 2.4 1.1 3.4 1 1.4 0.9 3.3" stroke-dashoffset="6.5" opacity="0.9"/>
<path d="M273 229.5C275.3 230.3 282.3 232.5 287 234.1C291.7 235.8 296.3 237.5 301 239.2C305.7 240.8 310.3 242.4 315 244.3C319.7 246.1 324.3 248.2 329 250.2C333.7 252.1 338.3 254.1 343 256C347.7 257.9 352.3 259.9 357 261.8C361.7 263.6 366.3 265.3 371 267.1C375.7 268.9 380.3 270.7 385 272.5C389.7 274.3 394.3 276.1 399 278C403.7 279.9 408.3 281.9 413 283.9C417.7 285.9 424.7 289 427 290" stroke="#30c020" stroke-width="2.3" stroke-linecap="round" stroke-dasharray="0.8 4 0.4 3.5 0.5 5.1 0.3 3 0.2 3.2 1 4.2 0.9 5 0.2 3.1 0.8 2.6" stroke-dashoffset="7.3" opacity="1"/>
<path d="M273 227C275.3 227.7 282.3 230 287 231.6C291.7 233.2 296.3 234.9 301 236.6C305.7 238.3 310.3 239.8 315 241.6C319.7 243.5 324.3 245.6 329 247.5C333.7 249.5 338.3 251.4 343 253.4C347.7 255.3 352.3 257.3 357 259.2C361.7 261 366.3 262.7 371 264.5C375.7 266.4 380.3 268.2 385 270C389.7 271.8 394.3 273.6 399 275.4C403.7 277.3 408.3 279.3 413 281.3C417.7 283.3 424.7 286.3 427 287.3" stroke="#90c010" stroke-width="2.2" stroke-linecap="round" stroke-dasharray="0.7 1.6 1.2 3.5 0.8 3.1 1 2.1 0.5 1.8 1.6 1.4 0.7 2.5 0.5 2.7" stroke-dashoffset="8.3" opacity="0.9"/>
<path d="M273 232.1C275.3 232.8 282.3 235.1 287 236.7C291.7 238.3 296.3 240 301 241.7C305.7 243.4 310.3 245 315 246.9C319.7 248.7 324.3 250.9 329 252.8C333.7 254.8 338.3 256.7 343 258.7C347.7 260.6 352.3 262.6 357 264.4C361.7 266.2 366.3 267.9 371 269.7C375.7 271.4 380.3 273.3 385 275.1C389.7 276.9 394.3 278.6 399 280.6C403.7 282.5 408.3 284.5 413 286.5C417.7 288.5 424.7 291.6 427 292.6" stroke="#90c010" stroke-width="2.2" stroke-linecap="round" stroke-dasharray="1.4 2.7 0.3 2.7 0.7 3.1 0.3 2.1 1.6 2.4 0.4 1.2 0.5 2.6 1.6 2.4" stroke-dashoffset="0.1" opacity="0.9"/>
<path d="M273 245.2C275.3 246 282.3 248.2 287 249.9C291.7 251.6 296.3 253.5 301 255.3C305.7 257 310.3 258.4 315 260.3C319.7 262.2 324.3 264.9 329 266.8C333.7 268.7 338.3 270.1 343 272C347.7 273.8 352.3 275.9 357 277.8C361.7 279.7 366.3 281.4 371 283.1C375.7 284.9 380.3 286.6 385 288.4C389.7 290.2 394.3 292 399 293.9C403.7 295.8 408.3 297.8 413 299.9C417.7 301.9 424.7 305.2 427 306.3" stroke="#30c020" stroke-width="2.3" stroke-linecap="round" stroke-dasharray="0.5 4.5 0.7 2.6 0.5 2.6 1 4.3 0.6 2.6 1 3.6 0.6 5.7 1 5.8 0.2 5.4" stroke-dashoffset="1.5" opacity="1"/>
<path d="M273 242.6C275.3 243.4 282.3 245.7 287 247.3C291.7 249 296.3 251 301 252.7C305.7 254.4 310.3 255.8 315 257.7C319.7 259.6 324.3 262.2 329 264.1C333.7 266.1 338.3 267.5 343 269.3C347.7 271.2 352.3 273.3 357 275.2C361.7 277.1 366.3 278.8 371 280.6C375.7 282.4 380.3 284.1 385 285.8C389.7 287.6 394.3 289.4 399 291.3C403.7 293.2 408.3 295.1 413 297.2C417.7 299.3 424.7 302.6 427 303.7" stroke="#90c010" stroke-width="2.2" stroke-linecap="round" stroke-dasharray="1.3 2.8 0.8 3.1 0.4 2.1 0.7 2.5 0.5 2.3 1.5 1.3 0.3 1.5 1.2 2.1" stroke-dashoffset="7.8" opacity="0.9"/>
<path d="M273 247.7C275.3 248.5 282.3 250.8 287 252.5C291.7 254.2 296.3 256.1 301 257.9C305.7 259.7 310.3 261 315 263C319.7 264.9 324.3 267.5 329 269.5C333.7 271.4 338.3 272.8 343 274.6C347.7 276.4 352.3 278.5 357 280.4C361.7 282.2 366.3 283.9 371 285.7C375.7 287.4 380.3 289.1 385 290.9C389.7 292.7 394.3 294.6 399 296.5C403.7 298.4 408.3 300.4 413 302.5C417.7 304.6 424.7 307.9 427 309" stroke="#90c010" stroke-width="2.2" stroke-linecap="round" stroke-dasharray="0.4 2.8 0.2 1.4 0.9 2 1.2 2.1 0.5 1.1 0.8 1.3 0.5 1 1.2 1.2" stroke-dashoffset="6.3" opacity="0.9"/>
<path d="M273 261.3C275.3 262.1 282.3 264.5 287 266.2C291.7 267.9 296.3 269.7 301 271.6C305.7 273.5 310.3 275.5 315 277.5C319.7 279.5 324.3 281.6 329 283.5C333.7 285.3 338.3 286.8 343 288.5C347.7 290.2 352.3 292 357 293.8C361.7 295.6 366.3 297.3 371 299.1C375.7 300.8 380.3 302.6 385 304.5C389.7 306.4 394.3 308.5 399 310.6C403.7 312.6 408.3 314.9 413 317C417.7 319.2 424.7 322.3 427 323.4" stroke="#30c020" stroke-width="2.3" stroke-linecap="round" stroke-dasharray="0.5 3.5 0.8 3 0.7 2.7 0.4 2.9 0.3 5.5 0.3 6 0.1 4.1 1.1 4.2 0.6 3.8" stroke-dashoffset="5.9" opacity="1"/>
<path d="M273 258.8C275.3 259.6 282.3 261.9 287 263.6C291.7 265.3 296.3 267.1 301 268.9C305.7 270.8 310.3 272.8 315 274.8C319.7 276.8 324.3 279 329 280.8C333.7 282.7 338.3 284.2 343 286C347.7 287.7 352.3 289.5 357 291.3C361.7 293 366.3 294.7 371 296.5C375.7 298.3 380.3 300 385 301.9C389.7 303.8 394.3 305.8 399 307.9C403.7 310 408.3 312.2 413 314.4C417.7 316.5 424.7 319.7 427 320.7" stroke="#90c010" stroke-width="2.2" stroke-linecap="round" stroke-dasharray="1.1 2.6 1.5 1.6 0.2 1.3 0.7 2 1.1 2.5 1.3 2 0.3 3.3 0.7 2" stroke-dashoffset="4.8" opacity="0.9"/>
<path d="M273 263.9C275.3 264.7 282.3 267.1 287 268.8C291.7 270.5 296.3 272.4 301 274.3C305.7 276.2 310.3 278.2 315 280.1C319.7 282.1 324.3 284.3 329 286.1C333.7 287.9 338.3 289.4 343 291.1C347.7 292.8 352.3 294.6 357 296.3C361.7 298.1 366.3 299.8 371 301.6C375.7 303.4 380.3 305.2 385 307.1C389.7 309.1 394.3 311.1 399 313.2C403.7 315.3 408.3 317.5 413 319.7C417.7 321.8 424.7 325 427 326" stroke="#90c010" stroke-width="2.2" stroke-linecap="round" stroke-dasharray="0.9 3.1 0.9 2.3 1.4 1.8 1.4 3.4 1.6 1.9 1.1 1.9 0.3 2.9 0.3 2.8" stroke-dashoffset="5.9" opacity="0.9"/>
<path d="M273 277.4C275.3 278.3 282.3 280.5 287 282.4C291.7 284.3 296.3 286.8 301 288.7C305.7 290.7 310.3 292.4 315 294.2C319.7 295.9 324.3 297.6 329 299.3C333.7 301 338.3 302.8 343 304.5C347.7 306.3 352.3 308 357 309.7C361.7 311.4 366.3 313.1 371 314.9C375.7 316.8 380.3 318.8 385 320.8C389.7 322.7 394.3 324.6 399 326.7C403.7 328.8 408.3 331.3 413 333.4C417.7 335.5 424.7 338.4 427 339.4" stroke="#30c020" stroke-width="2.3" stroke-linecap="round" stroke-dasharray="0.5 6 0.1 4 0.7 5.9 0.7 2.9 0.9 5.5 0.7 3.8 0.5 5.1 0.8 2.8 0.8 3.4" stroke-dashoffset="9" opacity="1"/>
<path d="M273 274.8C275.3 275.6 282.3 277.9 287 279.7C291.7 281.6 296.3 284.1 301 286.1C305.7 288 310.3 289.7 315 291.5C319.7 293.3 324.3 295 329 296.7C333.7 298.5 338.3 300.3 343 302C347.7 303.7 352.3 305.4 357 307.1C361.7 308.9 366.3 310.5 371 312.3C375.7 314.2 380.3 316.2 385 318.1C389.7 320.1 394.3 321.9 399 324C403.7 326.2 408.3 328.6 413 330.7C417.7 332.9 424.7 335.8 427 336.8" stroke="#90c010" stroke-width="2.2" stroke-linecap="round" stroke-dasharray="0.3 2.6 1.4 1.2 1.1 3 1.1 3.3 0.5 2.8 1.3 1.5 0.7 2.3 0.8 1.3" stroke-dashoffset="7.9" opacity="0.9"/>
<path d="M273 280C275.3 280.9 282.3 283.2 287 285C291.7 286.9 296.3 289.4 301 291.4C305.7 293.3 310.3 295 315 296.8C319.7 298.5 324.3 300.1 329 301.9C333.7 303.6 338.3 305.3 343 307.1C347.7 308.8 352.3 310.5 357 312.2C361.7 314 366.3 315.7 371 317.5C375.7 319.4 380.3 321.4 385 323.4C389.7 325.4 394.3 327.3 399 329.4C403.7 331.5 408.3 333.9 413 336C417.7 338.1 424.7 340.9 427 341.9" stroke="#90c010" stroke-width="2.2" stroke-linecap="round" stroke-dasharray="1.2 3.4 1.3 1.7 1.3 1.7 0.5 3 0.9 3.3 1.2 1.5 0.6 1.9 0.4 1.9" stroke-dashoffset="3" opacity="0.9"/>
<path d="M273 293.7C275.3 294.6 282.3 297.3 287 299.2C291.7 301.1 296.3 303 301 304.8C305.7 306.6 310.3 308.3 315 310C319.7 311.7 324.3 313.3 329 315C333.7 316.7 338.3 318.3 343 320.1C347.7 321.9 352.3 323.7 357 325.6C361.7 327.5 366.3 329.4 371 331.4C375.7 333.4 380.3 335.4 385 337.4C389.7 339.4 394.3 341.4 399 343.4C403.7 345.5 408.3 347.9 413 349.8C417.7 351.8 424.7 354.2 427 355.1" stroke="#30c020" stroke-width="2.3" stroke-linecap="round" stroke-dasharray="0.2 4.1 0.1 5.9 1 5.6 0.7 3.8 0.6 3.9 0.8 4.3 0.3 5.9 0.7 5.6 0.4 4.3" stroke-dashoffset="8.7" opacity="1"/>
<path d="M273 291C275.3 291.9 282.3 294.7 287 296.5C291.7 298.4 296.3 300.4 301 302.2C305.7 304 310.3 305.7 315 307.4C319.7 309.1 324.3 310.7 329 312.4C333.7 314.1 338.3 315.8 343 317.6C347.7 319.3 352.3 321.1 357 323C361.7 324.9 366.3 326.8 371 328.8C375.7 330.7 380.3 332.7 385 334.7C389.7 336.7 394.3 338.7 399 340.8C403.7 342.9 408.3 345.3 413 347.2C417.7 349.2 424.7 351.6 427 352.5" stroke="#90c010" stroke-width="2.2" stroke-linecap="round" stroke-dasharray="1.5 2 0.8 1.6 1.4 2.4 1.1 3.1 1.3 2.9 0.9 3 1.5 1.6 0.6 1.4" stroke-dashoffset="3.8" opacity="0.9"/>
<path d="M273 296.3C275.3 297.3 282.3 300 287 301.9C291.7 303.7 296.3 305.7 301 307.5C305.7 309.2 310.3 310.9 315 312.5C319.7 314.2 324.3 315.8 329 317.5C333.7 319.2 338.3 320.9 343 322.7C347.7 324.4 352.3 326.3 357 328.2C361.7 330.1 366.3 332.1 371 334.1C375.7 336 380.3 338.1 385 340.1C389.7 342.1 394.3 344 399 346.1C403.7 348.1 408.3 350.5 413 352.4C417.7 354.3 424.7 356.7 427 357.6" stroke="#90c010" stroke-width="2.2" stroke-linecap="round" stroke-dasharray="1.4 1.4 1.3 1.8 0.9 2.9 0.3 2.8 1.5 2.6 1.6 1.5 1.2 1.6 1.1 2.7" stroke-dashoffset="5" opacity="0.9"/>
</g>
</g>
<g clip-path="url(#ci4)"><g filter="url(#bl2)"><rect x="358.5" y="248.7" width="56" height="57.3" fill="#000"/>
<g fill="none"><path d="M351.5 229.1C353.8 230.2 360.8 233.4 365.5 235.6C370.2 237.8 374.8 240.2 379.5 242.4C384.2 244.6 388.8 246.7 393.5 249C398.2 251.2 402.8 253.6 407.5 255.9C412.2 258.1 419.2 261.3 421.5 262.3" stroke="#ff2a00" stroke-width="11.5"/><path d="M351.5 229.1C353.8 230.2 360.8 233.4 365.5 235.6C370.2 237.8 374.8 240.2 379.5 242.4C384.2 244.6 388.8 246.7 393.5 249C398.2 251.2 402.8 253.6 407.5 255.9C412.2 258.1 419.2 261.3 421.5 262.3" stroke="#000" stroke-width="4.2" opacity="0.6"/><path d="M351.5 229.1C353.8 230.2 360.8 233.4 365.5 235.6C370.2 237.8 374.8 240.2 379.5 242.4C384.2 244.6 388.8 246.7 393.5 249C398.2 251.2 402.8 253.6 407.5 255.9C412.2 258.1 419.2 261.3 421.5 262.3" stroke="#000" stroke-width="12.5" stroke-dasharray="6.7 8.7 10.3 15 3.7 15.1 7.7 14.8 4.5 21.8" stroke-dashoffset="1.7" opacity="0.25"/><path d="M351.5 258.2C353.8 259.3 360.8 262.7 365.5 264.9C370.2 267.1 374.8 269.3 379.5 271.5C384.2 273.8 388.8 276.1 393.5 278.4C398.2 280.6 402.8 282.6 407.5 284.9C412.2 287.1 419.2 290.8 421.5 291.9" stroke="#ff2a00" stroke-width="11.5"/><path d="M351.5 258.2C353.8 259.3 360.8 262.7 365.5 264.9C370.2 267.1 374.8 269.3 379.5 271.5C384.2 273.8 388.8 276.1 393.5 278.4C398.2 280.6 402.8 282.6 407.5 284.9C412.2 287.1 419.2 290.8 421.5 291.9" stroke="#000" stroke-width="4.2" opacity="0.6"/><path d="M351.5 258.2C353.8 259.3 360.8 262.7 365.5 264.9C370.2 267.1 374.8 269.3 379.5 271.5C384.2 273.8 388.8 276.1 393.5 278.4C398.2 280.6 402.8 282.6 407.5 284.9C412.2 287.1 419.2 290.8 421.5 291.9" stroke="#000" stroke-width="12.5" stroke-dasharray="3.1 18.8 11.7 18.1 8.9 8.7 10.7 6.2 4 23.3" stroke-dashoffset="2.2" opacity="0.25"/><path d="M351.5 290.7C353.8 291.8 360.8 294.9 365.5 297.1C370.2 299.3 374.8 301.6 379.5 303.8C384.2 306.1 388.8 308.2 393.5 310.4C398.2 312.7 402.8 314.8 407.5 317.2C412.2 319.5 419.2 323.1 421.5 324.3" stroke="#ff2a00" stroke-width="11.5"/><path d="M351.5 290.7C353.8 291.8 360.8 294.9 365.5 297.1C370.2 299.3 374.8 301.6 379.5 303.8C384.2 306.1 388.8 308.2 393.5 310.4C398.2 312.7 402.8 314.8 407.5 317.2C412.2 319.5 419.2 323.1 421.5 324.3" stroke="#000" stroke-width="4.2" opacity="0.6"/><path d="M351.5 290.7C353.8 291.8 360.8 294.9 365.5 297.1C370.2 299.3 374.8 301.6 379.5 303.8C384.2 306.1 388.8 308.2 393.5 310.4C398.2 312.7 402.8 314.8 407.5 317.2C412.2 319.5 419.2 323.1 421.5 324.3" stroke="#000" stroke-width="12.5" stroke-dasharray="11.9 8.6 9.5 9.3 11.2 9.9 8.6 22.4 11.1 8.8" stroke-dashoffset="8.3" opacity="0.25"/></g>
<g fill="none" style="mix-blend-mode:screen"><g fill="#1fa01f" opacity="0.8"><circle cx="380.1" cy="276.3" r="1"/><circle cx="390" cy="295.2" r="0.6"/><circle cx="361.9" cy="287.5" r="1"/><circle cx="409.2" cy="265.6" r="1.1"/><circle cx="410.3" cy="280.5" r="1.2"/><circle cx="371" cy="263" r="0.9"/><circle cx="384.1" cy="255.1" r="0.7"/><circle cx="401" cy="298.9" r="1.1"/><circle cx="385.1" cy="294" r="1.1"/><circle cx="365.5" cy="277.2" r="1.1"/></g><path d="M351.5 229.1C353.8 230.2 360.8 233.4 365.5 235.6C370.2 237.8 374.8 240.2 379.5 242.4C384.2 244.6 388.8 246.7 393.5 249C398.2 251.2 402.8 253.6 407.5 255.9C412.2 258.1 419.2 261.3 421.5 262.3" stroke="#40d020" stroke-width="3.4" stroke-linecap="round" stroke-dasharray="1.6 3.1 1.3 4.8 1.1 3.4 1.6 2.7 1.4 4.6 1.5 5.3 1.8 2.8 0.9 5.5 0.8 4.7" stroke-dashoffset="4.1" opacity="1"/><path d="M351.5 225.7C353.8 226.8 360.8 230 365.5 232.2C370.2 234.4 374.8 236.8 379.5 239C384.2 241.2 388.8 243.3 393.5 245.6C398.2 247.8 402.8 250.2 407.5 252.5C412.2 254.7 419.2 257.9 421.5 258.9" stroke="#a0d010" stroke-width="2.4" stroke-linecap="round" stroke-dasharray="2.3 3.8 0.5 2.8 1.7 4.7 0.9 2.6 1.8 2.5 1.8 2.7 1.5 4.1 1.4 3.7" stroke-dashoffset="8.6" opacity="0.9"/><path d="M351.5 232.5C353.8 233.6 360.8 236.8 365.5 239C370.2 241.2 374.8 243.6 379.5 245.8C384.2 248 388.8 250.1 393.5 252.4C398.2 254.6 402.8 257 407.5 259.3C412.2 261.5 419.2 264.7 421.5 265.7" stroke="#a0d010" stroke-width="2.4" stroke-linecap="round" stroke-dasharray="1.1 4.6 1.7 3.1 1.7 4.5 1.8 4.5 0.6 2.8 1.7 2.3 0.8 4 2 3" stroke-dashoffset="0.5" opacity="0.9"/><path d="M351.5 258.2C353.8 259.3 360.8 262.7 365.5 264.9C370.2 267.1 374.8 269.3 379.5 271.5C384.2 273.8 388.8 276.1 393.5 278.4C398.2 280.6 402.8 282.6 407.5 284.9C412.2 287.1 419.2 290.8 421.5 291.9" stroke="#40d020" stroke-width="3.4" stroke-linecap="round" stroke-dasharray="1 4.4 1.4 5.2 0.6 5.3 1.2 2.6 0.8 5.1 1.7 4.2 1.7 3.9 1.4 3.4 0.6 3.4" stroke-dashoffset="5.6" opacity="1"/><path d="M351.5 254.8C353.8 255.9 360.8 259.3 365.5 261.5C370.2 263.7 374.8 265.9 379.5 268.1C384.2 270.4 388.8 272.7 393.5 275C398.2 277.2 402.8 279.2 407.5 281.5C412.2 283.7 419.2 287.4 421.5 288.5" stroke="#a0d010" stroke-width="2.4" stroke-linecap="round" stroke-dasharray="0.6 3.6 1.9 2.9 2 3.2 1.2 2.5 0.9 4.4 0.5 3.3 1.6 3.7 1 3.6" stroke-dashoffset="4.8" opacity="0.9"/><path d="M351.5 261.6C353.8 262.7 360.8 266.1 365.5 268.3C370.2 270.5 374.8 272.7 379.5 274.9C384.2 277.2 388.8 279.5 393.5 281.8C398.2 284 402.8 286 407.5 288.3C412.2 290.5 419.2 294.2 421.5 295.3" stroke="#a0d010" stroke-width="2.4" stroke-linecap="round" stroke-dasharray="1.7 4.4 2.3 4.5 1.9 2.6 0.6 3.7 0.6 2.7 2.4 3.4 1.9 3 0.8 4.6" stroke-dashoffset="7.6" opacity="0.9"/><path d="M351.5 290.7C353.8 291.8 360.8 294.9 365.5 297.1C370.2 299.3 374.8 301.6 379.5 303.8C384.2 306.1 388.8 308.2 393.5 310.4C398.2 312.7 402.8 314.8 407.5 317.2C412.2 319.5 419.2 323.1 421.5 324.3" stroke="#40d020" stroke-width="3.4" stroke-linecap="round" stroke-dasharray="0.4 4 1.6 4.3 1.2 2.9 1.8 3.5 0.9 3 1.6 2.9 1.1 3.3 1.6 2.6 0.8 4" stroke-dashoffset="5" opacity="1"/><path d="M351.5 287.3C353.8 288.4 360.8 291.5 365.5 293.7C370.2 295.9 374.8 298.2 379.5 300.4C384.2 302.7 388.8 304.8 393.5 307C398.2 309.3 402.8 311.4 407.5 313.8C412.2 316.1 419.2 319.7 421.5 320.9" stroke="#a0d010" stroke-width="2.4" stroke-linecap="round" stroke-dasharray="2 4.4 0.7 2.9 2.3 2.2 0.7 3.6 1.1 2 1.7 4.4 0.8 2.1 2 1.9" stroke-dashoffset="8.5" opacity="0.9"/><path d="M351.5 294.1C353.8 295.2 360.8 298.3 365.5 300.5C370.2 302.7 374.8 305 379.5 307.2C384.2 309.5 388.8 311.6 393.5 313.8C398.2 316.1 402.8 318.2 407.5 320.6C412.2 322.9 419.2 326.5 421.5 327.7" stroke="#a0d010" stroke-width="2.4" stroke-linecap="round" stroke-dasharray="0.5 2.6 1 2.5 2.2 2.1 1.8 2.1 0.6 4.4 0.7 4.2 2.1 3.3 1.7 3.9" stroke-dashoffset="1" opacity="0.9"/></g>
</g></g>
<path d="M362.0 303V252.2H411" fill="none" stroke="#fff" stroke-width="1.1"/>
</g>
<text x="287" y="186.5" font-size="12" font-weight="bold" fill="#fff">D</text>
<path d="M75.9 56.7L56.3 89.5" stroke="#fff" stroke-width="2" stroke-dasharray="8 2.1"/>
<rect x="333" y="296.2" width="23" height="2" fill="#fff"/>
<rect x="391.4" y="297.2" width="16.8" height="2" fill="#fff"/>
<polyline points="173.3,93.9 174.2,93.5 175,93.9 175.9,93.9 176.2,93.4 176.8,94.9 177.7,93.7 178.2,93.6 178.5,92.5 179.4,91 180.1,90.7 180.3,89.8 181.2,86.8 181.7,84.1 182,90.7 182,89 182.9,78.1 183,77 183.7,72.8 183.8,71.9 184.3,70.9 184.7,72.1 184.9,73 185.5,77.7 185.5,78 186.2,82.1 186.4,84.2 186.9,90.1 187.3,89 188.2,90.2 188.9,88.5 189,89.5 189.9,90.1 190.8,91.5 190.8,90.8 191.7,92.2 192.5,93.2 192.7,93.7 193.4,93.3 194.3,92.2 195.2,93.1 195.7,93.7 196,92.8 196.9,93.8 197.8,93.8 198.6,94 198.7,94.7 199.5,95.6 200.4,94.4 201.3,93.6 201.5,94.1 202.2,93.4 203,92.8 203.9,93.4 204.4,92 204.8,90.9 205.7,87.3 206.3,85.1 206.5,85 207.4,83.9 208.3,84.7 208.3,84.8 209.2,78.5 209.4,78.4 210,77 210.7,73.6 210.9,71.8 211.4,69.5 211.8,69.4 212,68.2 212.6,69.8 212.7,70.4 213.2,74.1 213.5,75.3 213.9,76.9 214.4,79 214.6,79.6 215.1,87.1 215.3,87.5 216.2,87.2 217,87.6 217.9,89.7 218.8,92.2 219,92.3 219.7,92.7 220.5,94.7 221.4,94.2 221.9,93.6 222.3,93.6 223.2,95.1 224,93.5 224.9,94.6 225.8,94.5 226.7,94.2 226.8,93.9 227.5,95.3 228.4,93.7 229.3,94.2 230.2,94.7 231,94.2 231.6,95.3 231.9,94 232.8,90.8 233.6,89 233.7,88.5 234.5,86.9 235.4,85.4 235.5,84.7 236.3,84.3 236.3,84.4 237,80.4 237.2,78 237.6,75.4 238,70.8 238.3,68.6 238.9,66 239.5,68.6 239.8,70.2 240.2,75.2 240.7,80.1 240.9,80.2 241.5,83.8 242.3,87.5 242.4,88 243.3,87.6 244.2,88.5 245,87.2 245.2,89.4 245.9,90.2 246.8,91.1 247.7,93.3 248.1,93.4 248.5,92.1 249.4,94.1 250.3,95.1 251.1,95.8 251.2,94.6 252,94.6 252.9,94.9 253.8,95.3 254.7,94.9 255.5,94.9 256.4,95.6 257.3,94.8 257.9,96.5" fill="none" stroke="#22c422" stroke-width="1.35" stroke-linejoin="round"/>
<polyline points="173.3,94.9 174.2,95.6 174.8,95.9 175,96.7 175.9,94.9 176.2,94.2 176.8,88.9 177.3,86.4 177.7,94 177.7,95.4 178,79.4 178.5,71.8 178.6,70.4 179.3,58.7 179.4,57.9 179.9,54.3 180.3,56.3 180.5,58.9 181.2,71 181.2,71 181.9,81.6 182,85.4 182.5,91 182.9,91.4 183.8,91.5 184.5,90.6 184.7,90.4 185.5,91.4 186.4,92 186.4,91.2 187.2,80.8 187.3,80.1 187.9,71.9 188.2,65.9 188.6,59.8 189,55.7 189.1,55.3 189.7,59.9 189.9,62.9 190.4,72.5 190.8,77.6 191.1,82 191.7,93.2 191.8,95.1 192.5,95.8 193.4,96.4 193.7,96.9 194.3,96.1 195.2,96 196,96.8 196.6,95.8 196.9,96.2 197.8,96.7 198.7,97.2 199.5,97.1 199.5,98.3 200.4,97 201.3,96.4 202.2,97.1 202.5,95.8 203,96 203.9,95.3 204.4,95.7 204.8,87.5 205.1,78.9 205.7,68.1 205.8,65.6 206.4,49.6 206.5,48 207,43.6 207.4,46.3 207.6,49.6 208.3,65.6 208.3,65.6 209,78.4 209.2,81 209.7,88.3 210,89.1 210.2,89.9 210.9,90.8 211.8,91.7 212.2,90.5 212.7,91.1 213.5,86.2 213.9,83.5 214.4,81 214.6,78.2 215.3,68 216,56.1 216.2,53.2 216.6,51.6 217,56.2 217.1,56.4 217.8,69.1 217.9,69.9 218.5,79.5 218.8,83.5 219.2,86.2 219.7,88.9 220.5,92.8 221.4,95.4 221.9,95.3 222.3,95.4 223.2,95.8 224,96 224.8,96.7 224.9,96.3 225.8,95.7 226.7,96.9 227.5,97.8 227.7,96.4 228.4,96.7 229.3,95.7 230.2,96.3 230.6,96.3 231,95.1 231.9,87.1 232.1,86.1 232.6,95.4 232.8,93.1 233.5,72.2 233.7,69.3 234.1,61.6 234.5,58.3 234.7,57.5 235.3,61.9 235.4,63.1 236,73.1 236.3,78.4 236.7,83.3 237.2,89.9 237.4,90.4 238,89.6 238.9,90.8 239.8,90.3 240.4,90.4 240.7,88.8 241,85.9 241.5,81.5 241.7,79.9 242.4,69.5 242.4,69.5 243.1,57.1 243.3,55.5 243.7,52.4 244.2,56.1 244.3,57.2 244.9,70 245,72.7 245.6,80.8 245.9,83.5 246.3,86.9 246.7,93.6 246.8,94.4 247.7,95.4 248.5,94.5 249.4,95.4 250.1,95 250.3,94.9 251.2,96.7 252,96.2 252.9,96.3 253,96.2 253.8,96.4 254.7,96.8 255.5,97 255.9,97.9 256.4,97.2 257.3,97.5 257.9,97" fill="none" stroke="#ff1a1a" stroke-width="1.35" stroke-linejoin="round"/>
<path d="M173.3 28.6V103.5H260.8" fill="none" stroke="#444" stroke-width="0.9"/>
<text x="170.9" y="105.4" font-size="5.5" font-weight="bold" text-anchor="end" fill="#111">0</text>
<text x="170.9" y="94.7" font-size="5.5" font-weight="bold" text-anchor="end" fill="#111">1000</text>
<text x="170.9" y="84" font-size="5.5" font-weight="bold" text-anchor="end" fill="#111">2000</text>
<text x="170.9" y="73.3" font-size="5.5" font-weight="bold" text-anchor="end" fill="#111">3000</text>
<text x="170.9" y="62.6" font-size="5.5" font-weight="bold" text-anchor="end" fill="#111">4000</text>
<text x="170.9" y="51.9" font-size="5.5" font-weight="bold" text-anchor="end" fill="#111">5000</text>
<text x="170.9" y="41.2" font-size="5.5" font-weight="bold" text-anchor="end" fill="#111">6000</text>
<text x="170.9" y="30.5" font-size="5.5" font-weight="bold" text-anchor="end" fill="#111">7000</text>
<text x="173.3" y="111.6" font-size="5.8" font-weight="bold" text-anchor="middle" fill="#111">0</text>
<text x="183" y="111.6" font-size="5.8" font-weight="bold" text-anchor="middle" fill="#111">1</text>
<text x="192.7" y="111.6" font-size="5.8" font-weight="bold" text-anchor="middle" fill="#111">2</text>
<text x="202.5" y="111.6" font-size="5.8" font-weight="bold" text-anchor="middle" fill="#111">3</text>
<text x="212.2" y="111.6" font-size="5.8" font-weight="bold" text-anchor="middle" fill="#111">4</text>
<text x="221.9" y="111.6" font-size="5.8" font-weight="bold" text-anchor="middle" fill="#111">5</text>
<text x="231.6" y="111.6" font-size="5.8" font-weight="bold" text-anchor="middle" fill="#111">6</text>
<text x="241.3" y="111.6" font-size="5.8" font-weight="bold" text-anchor="middle" fill="#111">7</text>
<text x="251.1" y="111.6" font-size="5.8" font-weight="bold" text-anchor="middle" fill="#111">8</text>
<text x="260.8" y="111.6" font-size="5.8" font-weight="bold" text-anchor="middle" fill="#111">9</text>
<path d="M171.3 103.5H173.3M171.3 92.8H173.3M171.3 82.1H173.3M171.3 71.4H173.3M171.3 60.7H173.3M171.3 50H173.3M171.3 39.3H173.3M171.3 28.6H173.3M173.3 103.5V105.3M183 103.5V105.3M192.7 103.5V105.3M202.5 103.5V105.3M212.2 103.5V105.3M221.9 103.5V105.3M231.6 103.5V105.3M241.3 103.5V105.3M251.1 103.5V105.3M260.8 103.5V105.3" stroke="#444" stroke-width="0.8"/>
<text x="216.8" y="126.2" font-size="9.3" font-weight="bold" text-anchor="middle">Distance (µm)</text>
<text transform="translate(150.5,63.6) rotate(-90)" font-size="9.3" font-weight="bold" text-anchor="middle">Fluorescence</text>
<path d="M177.7 34.5h5.3" stroke="#ff1a1a" stroke-width="1.3"/>
<path d="M177.7 40.3h5.3" stroke="#22c422" stroke-width="1.3"/>
<text x="184.9" y="36.2" font-size="5.1" font-weight="bold" fill="#222">RyR1</text>
<text x="184.9" y="42" font-size="5.1" font-weight="bold" fill="#222">STIM1</text>
<polyline points="446.2,89.5 447.1,87.9 447.9,87.3 448.1,86.8 448.8,85.8 449.7,88.4 450.1,86.9 450.6,86.1 451.4,84.3 452,82.6 452.3,81.1 453.2,78.4 453.3,77.5 454,75.6 454.1,74.7 454.7,72.1 454.9,70 455.3,66.6 455.8,65.5 455.9,64.7 456.5,66.2 456.7,68 457.2,70.2 457.6,72.3 457.9,74 458.4,76 458.5,74.4 459.3,76.7 459.3,77.4 460.2,79.4 460.8,78.8 461.1,80.8 461.9,80.5 462.7,81.2 462.8,83.8 463.7,82.8 464.6,85.3 464.7,86.1 465.4,87.1 466.3,87.9 466.6,88.3 467.2,88.9 468.1,90.5 468.9,89.8 469.5,89.8 469.8,89.5 470.7,90.1 471.6,89.5 472.4,89.4 472.4,90.3 473.3,90 474.2,89.9 475.1,89.5 475.4,89.1 475.9,90.3 476.8,88.5 477.7,86.8 478.3,87.8 478.6,87.1 479.4,84.2 480.3,85 481.2,83.5 481.2,83 482.1,81.9 482.9,80.1 483.8,77.8 484.1,77.1 484.7,75.7 485.6,73 486.1,71.5 486.4,72.3 486.5,71.4 487.3,69.6 487.5,69.3 488.2,66.9 488.8,66 489.1,66.3 489.4,67.5 489.9,71.6 490,71 490.7,74.4 490.8,74.8 491.4,77.1 491.7,80.4 491.9,79.1 492.6,83.2 493.3,86.8 493.4,85.1 494.3,87.1 495.2,86.9 495.8,87.6 496.1,86.8 496.9,87.1 497.8,86.8 498.7,86.5 499.6,85.6 499.7,87.3 500.4,86.1 501.3,87.3 502.2,88.8 502.6,88.6 503.1,88.8 503.9,88.3 504.8,87.3 505.5,87.9 505.7,86.9 506.6,85.7 507.4,84.5 508.3,82.4 508.4,83.3 509.2,81.8 510.1,79.3 510.4,80 510.9,71.5 511.6,69.4 511.8,68.2 512.3,66.1 512.7,63.8 513,62.2 513.6,60.7 514.1,62.5 514.4,65 514.8,67.2 515.3,69.7 515.5,71.1 516.2,74.4 517.1,78.5 517.2,78.8 517.9,81 518.8,80.8 519.7,82.3 520.1,82.5 520.6,83.6 521.4,84.9 522.3,87.8 522.5,87.7 523.2,87.9 524.1,87.7 524.9,87.8 525.8,87.4 526.7,83.6 526.9,84.1 527.6,84.7 528.4,87.5 528.8,88.9 529.3,88.6 530.2,88.8 531.1,88.3 531.9,87.5 532.7,88.5" fill="none" stroke="#22c422" stroke-width="1.35" stroke-linejoin="round"/>
<polyline points="446.2,92.1 447.1,91.3 447.7,92.8 447.9,90.6 448.8,88.9 449.1,87.9 449.7,78.9 450,76.3 450.6,84.4 450.6,83.8 451.4,66.1 451.4,64.4 452,59.1 452.3,58.1 452.6,56.4 453.2,59.5 453.9,67.7 454.1,69.2 454.6,75.2 454.9,76.5 455.2,78.6 455.8,82.9 455.9,83.7 456.7,83.7 457.6,84 458.4,83.7 458.8,84.2 459.3,83.7 460.2,85.6 460.8,85.1 461.1,81.9 461.6,73.3 461.9,69.7 462.2,66.5 462.8,59.4 462.9,58.9 463.5,56.1 463.7,57 464.1,59.7 464.6,66.7 464.8,69.2 465.4,76.6 466.1,82.3 466.3,84.9 466.6,90.2 467.2,91.1 468.1,92.8 468.9,92.7 469.5,92.8 469.8,93.1 470.7,93.3 471.6,92.6 472.4,92.6 472.4,94.1 473.3,92.7 474.2,94.1 475.1,93.4 475.4,93 475.9,92.6 476.8,92.5 477.7,91.1 478.3,89.6 478.6,88.5 479.4,80.3 479.7,78.6 480.2,78.4 480.3,78.7 481.1,66.8 481.2,65.4 481.8,57.8 482.1,55.8 482.4,54.5 482.9,56.8 482.9,56.8 483.6,63 483.8,64.5 484.3,68.2 484.7,69.2 485,71.6 485.6,75.9 486.4,77.5 487.3,79.1 488,78.2 488.2,78.4 489.1,78.3 489.9,77.9 490.4,66 490.8,63.4 491.1,62.6 491.7,58.2 491.8,57.2 492.5,50.7 492.6,50.3 493.1,48.2 493.4,49.8 493.6,52 494.3,62 495,70.4 495.2,72.3 495.7,75.2 496.1,79.5 496.9,85.1 497.8,89.8 498.2,90 498.7,92 499.6,94 500.4,93.8 501.3,93.2 501.6,93 502.2,92.5 503.1,93 503.9,93.5 504.5,92.4 504.8,92.7 505.7,91.9 506.6,89.8 506.9,87.9 507.4,82.1 507.9,73 508.3,68.5 508.6,65.6 509.2,58.6 509.3,57.4 509.9,54.2 510.1,54 510.4,57.5 510.9,63.2 511.1,66.1 511.8,74.4 512.5,78.7 512.7,79 513.3,80.6 513.6,80.8 514.4,80.7 515.3,81.7 515.7,81.3 516.2,81.1 517.1,76.2 517.1,75 517.7,71.9 517.9,69.8 518.4,65 518.8,60.5 519.1,57.2 519.7,54.2 520.3,57.7 520.6,61.4 520.9,66.7 521.4,72.9 521.6,74.5 522.3,78.6 523,88.7 523.2,89.1 524.1,90.1 524.9,90 525.8,91 525.9,89.9 526.7,91.2 527.6,90.5 528.4,89.3 528.8,89.4 529.3,90 530.2,89.4 531.1,89.6 531.9,88.7 532.7,88.8" fill="none" stroke="#ff1a1a" stroke-width="1.35" stroke-linejoin="round"/>
<path d="M446.2 28.5V103.6H533.7" fill="none" stroke="#444" stroke-width="0.9"/>
<text x="443.8" y="105.5" font-size="5.5" font-weight="bold" text-anchor="end" fill="#111">0</text>
<text x="443.8" y="94.8" font-size="5.5" font-weight="bold" text-anchor="end" fill="#111">1000</text>
<text x="443.8" y="84" font-size="5.5" font-weight="bold" text-anchor="end" fill="#111">2000</text>
<text x="443.8" y="73.3" font-size="5.5" font-weight="bold" text-anchor="end" fill="#111">3000</text>
<text x="443.8" y="62.6" font-size="5.5" font-weight="bold" text-anchor="end" fill="#111">4000</text>
<text x="443.8" y="51.9" font-size="5.5" font-weight="bold" text-anchor="end" fill="#111">5000</text>
<text x="443.8" y="41.1" font-size="5.5" font-weight="bold" text-anchor="end" fill="#111">6000</text>
<text x="443.8" y="30.4" font-size="5.5" font-weight="bold" text-anchor="end" fill="#111">7000</text>
<text x="446.2" y="111.7" font-size="5.8" font-weight="bold" text-anchor="middle" fill="#111">0</text>
<text x="455.9" y="111.7" font-size="5.8" font-weight="bold" text-anchor="middle" fill="#111">1</text>
<text x="465.6" y="111.7" font-size="5.8" font-weight="bold" text-anchor="middle" fill="#111">2</text>
<text x="475.4" y="111.7" font-size="5.8" font-weight="bold" text-anchor="middle" fill="#111">3</text>
<text x="485.1" y="111.7" font-size="5.8" font-weight="bold" text-anchor="middle" fill="#111">4</text>
<text x="494.8" y="111.7" font-size="5.8" font-weight="bold" text-anchor="middle" fill="#111">5</text>
<text x="504.5" y="111.7" font-size="5.8" font-weight="bold" text-anchor="middle" fill="#111">6</text>
<text x="514.2" y="111.7" font-size="5.8" font-weight="bold" text-anchor="middle" fill="#111">7</text>
<text x="524" y="111.7" font-size="5.8" font-weight="bold" text-anchor="middle" fill="#111">8</text>
<text x="533.7" y="111.7" font-size="5.8" font-weight="bold" text-anchor="middle" fill="#111">9</text>
<path d="M444.2 103.6H446.2M444.2 92.9H446.2M444.2 82.1H446.2M444.2 71.4H446.2M444.2 60.7H446.2M444.2 50H446.2M444.2 39.2H446.2M444.2 28.5H446.2M446.2 103.6V105.4M455.9 103.6V105.4M465.6 103.6V105.4M475.4 103.6V105.4M485.1 103.6V105.4M494.8 103.6V105.4M504.5 103.6V105.4M514.2 103.6V105.4M524 103.6V105.4M533.7 103.6V105.4" stroke="#444" stroke-width="0.8"/>
<text x="489.7" y="126.3" font-size="9.3" font-weight="bold" text-anchor="middle">Distance (µm)</text>
<text transform="translate(423.4,63.7) rotate(-90)" font-size="9.3" font-weight="bold" text-anchor="middle">Fluorescence</text>
<path d="M450.6 34.4h5.3" stroke="#ff1a1a" stroke-width="1.3"/>
<path d="M450.6 40.2h5.3" stroke="#22c422" stroke-width="1.3"/>
<text x="457.8" y="36.1" font-size="5.1" font-weight="bold" fill="#222">RyR1</text>
<text x="457.8" y="41.9" font-size="5.1" font-weight="bold" fill="#222">STIM1</text>
<polyline points="173,237.5 173.9,238.6 174.7,239.4 175.4,239.1 175.6,239.9 176.5,240.1 177.4,236.4 177.9,236 178.2,230.7 178.5,224.4 179.1,220.2 179.2,218.9 179.9,213.7 180,213 180.5,211.6 180.9,212 181.1,212.8 181.7,215.9 181.7,215.9 182.4,219.3 182.6,218.2 183.1,220.4 183.5,221.6 184.4,226.6 185.2,229.1 185.2,229.1 186.1,229.1 187,229.1 187.1,229.5 187.9,228.3 188.7,222 188.8,222.9 189.5,219.9 189.6,220.4 190.2,216 190.5,213.1 190.9,210.5 191.4,209 191.5,208.4 192.1,210.3 192.2,211.3 192.7,215.4 193.1,218.8 193.4,219 194,222.4 194.1,222.6 194.9,227.5 195.7,231.8 196.6,234.1 197.3,235.7 197.5,234.8 198.4,236.8 199.2,239.6 199.7,240.4 200.1,239.5 201,238.4 201.9,238.8 202.2,239.7 202.7,238 203.6,236.2 204.1,236.3 204.5,236.6 205.4,239.3 206,240.9 206.2,241 207.1,241.1 208,240.1 208.9,238.7 209,237.1 209.6,221.3 209.7,220.7 210.3,217 210.6,214.5 211,211.6 211.5,209.5 211.6,209.5 212.2,211.3 212.4,213.7 212.9,215.9 213.2,218.1 213.5,220.1 214.1,222.6 214.2,223.4 215,226.5 215.3,225.7 215.9,227 216.7,225.6 217.6,226 217.7,224.9 218.5,221.4 219.4,212.7 220,207.6 220.2,205.2 220.7,199.4 221.1,193.6 221.4,189.6 222,185.9 222.6,190.7 222.9,195.6 223.3,203.1 223.7,211.7 223.9,213.6 224.6,220.6 224.6,220.4 225.5,236.8 225.5,235.9 226.4,238.4 227.2,237.5 228.1,238.9 228.4,238.2 229,239.3 229.9,237.4 230.7,236.2 230.8,235.1 231.6,236.7 232.5,236.9 233.3,238.9 233.4,237.4 234.2,238.7 235.1,239.1 236,238.7 236.2,237.2 236.9,237 237.7,235.4 238.6,233.1 239.2,222 239.5,219.8 239.9,219.4 240.4,215.7 240.6,214.3 241.2,208.5 241.2,208.5 241.8,206.3 242.1,207.4 242.4,208.2 243,212.2 243.1,213.3 243.8,217.5 243.9,217.9 244.4,220.1 244.7,221.2 245.6,229.3 245.9,229.9 246.5,231 247.4,230.6 248.2,228.9 248.3,230.1 249.1,231.1 250,230.1 250.8,226.2 250.9,225.3 251.6,208.4 251.7,206.6 252.3,203.4 252.6,200.1 253,197.3 253.5,194.4 253.6,195 254.2,199.2 254.4,200.9 254.8,210.4 255.2,216.8 255.5,219.4 256.1,224.6 256.2,225.3 256.6,236.3 257,238.1 257.9,240.9 258.7,241.8 259,241 259.6,241.6 260.5,240.9" fill="none" stroke="#22c422" stroke-width="1.35" stroke-linejoin="round"/>
<polyline points="173,240.2 173.9,240.3 174.7,240.2 174.9,241.1 175.6,240 176.5,239.7 177.4,238 177.4,238.3 177.9,223.9 178.2,221.7 178.5,218 179.1,210.9 179.2,210.1 179.9,199.6 180,198.5 180.5,195.7 180.9,197 181.1,198.8 181.7,206.9 181.7,206.9 182.4,213.8 182.6,215.1 183.1,218 183.5,222.2 184.4,230.6 185.2,235.4 185.2,235.4 186.1,235.2 187,234.7 187.6,234.9 187.9,234.9 188.7,229.8 189,229.2 189.5,228.7 189.6,228 190.4,216.3 190.5,214.5 191.1,207.2 191.4,204 191.7,203.7 192.2,206.4 192.9,213.6 193.1,215.1 193.6,219.9 194,221.7 194.3,224 194.9,227.4 195.7,232.2 196.6,235.2 196.8,235.9 197.5,238.3 198.4,239.4 199.2,240.9 199.2,240.5 200.1,241.8 201,241.8 201.9,242.5 202.2,242.2 202.7,242.6 203.6,242.8 204.5,242.4 205.1,242.7 205.4,242.5 206.2,242.6 207.1,241.8 208,242.1 208,241.2 208.9,233.6 209,234.3 209.4,233.2 209.7,229.7 210.3,216.2 210.6,210.7 211,203.1 211.5,198.4 211.6,198.1 212.2,200.9 212.4,202.2 212.9,208.1 213.2,212.3 213.5,214.2 214.1,217.9 214.2,218.2 214.8,228.5 215,229.8 215.9,232.8 216.7,234.4 217.6,233.6 218.5,233.1 218.7,233.9 219.4,222.9 220,217.6 220.2,215.4 220.7,210.1 221.1,204.4 221.4,201.1 222,197.7 222.6,201.3 222.9,205.1 223.3,210.6 223.7,216.2 223.9,218.6 224.6,223.4 224.6,223.5 225,237.9 225.5,239.7 226.4,240.1 227.2,240.6 227.4,240.7 228.1,241.2 229,241.3 229.9,241.8 230.7,241.6 231.3,241.8 231.6,241.9 232.5,241.5 233.4,240.6 234.2,242.3 235.1,240.8 235.2,240.7 236,241.4 236.9,239.6 237.6,238.4 237.7,238.3 238.6,227.4 239.2,223.1 239.5,221.4 239.6,221.1 239.9,217.1 240.4,211.3 240.6,208.8 241.2,198.8 241.2,198.8 241.8,195 242.1,195.8 242.4,198.2 243,206.4 243.1,206.6 243.8,213.6 243.9,214.5 244.4,218.2 244.7,221.2 245.4,230.9 245.6,231.6 246.5,232.5 247.4,231.8 247.8,233.7 248.2,232.1 249.1,231.9 250,232 250.3,231.6 250.9,216.7 251,215.9 251.6,211.8 251.7,210.1 252.3,205.3 252.6,201.5 253,197.4 253.5,194.8 253.6,194.5 254.2,199.2 254.4,201.9 254.8,211.7 255.2,217.6 255.5,221.6 256.1,226.7 256.2,228.4 256.6,238.7 257,238 257.9,239.6 258.7,239.3 259.6,238.8 260.5,239.9" fill="none" stroke="#ff1a1a" stroke-width="1.35" stroke-linejoin="round"/>
<path d="M173 175.2V250.2H260.5" fill="none" stroke="#444" stroke-width="0.9"/>
<text x="170.6" y="252.1" font-size="5.5" font-weight="bold" text-anchor="end" fill="#111">0</text>
<text x="170.6" y="241.4" font-size="5.5" font-weight="bold" text-anchor="end" fill="#111">1000</text>
<text x="170.6" y="230.7" font-size="5.5" font-weight="bold" text-anchor="end" fill="#111">2000</text>
<text x="170.6" y="220" font-size="5.5" font-weight="bold" text-anchor="end" fill="#111">3000</text>
<text x="170.6" y="209.2" font-size="5.5" font-weight="bold" text-anchor="end" fill="#111">4000</text>
<text x="170.6" y="198.5" font-size="5.5" font-weight="bold" text-anchor="end" fill="#111">5000</text>
<text x="170.6" y="187.8" font-size="5.5" font-weight="bold" text-anchor="end" fill="#111">6000</text>
<text x="170.6" y="177.1" font-size="5.5" font-weight="bold" text-anchor="end" fill="#111">7000</text>
<text x="173" y="258.3" font-size="5.8" font-weight="bold" text-anchor="middle" fill="#111">0</text>
<text x="182.7" y="258.3" font-size="5.8" font-weight="bold" text-anchor="middle" fill="#111">1</text>
<text x="192.4" y="258.3" font-size="5.8" font-weight="bold" text-anchor="middle" fill="#111">2</text>
<text x="202.2" y="258.3" font-size="5.8" font-weight="bold" text-anchor="middle" fill="#111">3</text>
<text x="211.9" y="258.3" font-size="5.8" font-weight="bold" text-anchor="middle" fill="#111">4</text>
<text x="221.6" y="258.3" font-size="5.8" font-weight="bold" text-anchor="middle" fill="#111">5</text>
<text x="231.3" y="258.3" font-size="5.8" font-weight="bold" text-anchor="middle" fill="#111">6</text>
<text x="241" y="258.3" font-size="5.8" font-weight="bold" text-anchor="middle" fill="#111">7</text>
<text x="250.8" y="258.3" font-size="5.8" font-weight="bold" text-anchor="middle" fill="#111">8</text>
<text x="260.5" y="258.3" font-size="5.8" font-weight="bold" text-anchor="middle" fill="#111">9</text>
<path d="M171 250.2H173M171 239.5H173M171 228.8H173M171 218.1H173M171 207.3H173M171 196.6H173M171 185.9H173M171 175.2H173M173 250.2V252M182.7 250.2V252M192.4 250.2V252M202.2 250.2V252M211.9 250.2V252M221.6 250.2V252M231.3 250.2V252M241 250.2V252M250.8 250.2V252M260.5 250.2V252" stroke="#444" stroke-width="0.8"/>
<text x="216.5" y="272.9" font-size="9.3" font-weight="bold" text-anchor="middle">Distance (µm)</text>
<text transform="translate(150.2,210.3) rotate(-90)" font-size="9.3" font-weight="bold" text-anchor="middle">Fluorescence</text>
<path d="M177.4 181.1h5.3" stroke="#ff1a1a" stroke-width="1.3"/>
<path d="M177.4 186.9h5.3" stroke="#22c422" stroke-width="1.3"/>
<text x="184.6" y="182.8" font-size="5.1" font-weight="bold" fill="#222">RyR1</text>
<text x="184.6" y="188.6" font-size="5.1" font-weight="bold" fill="#222">ORAI1</text>
<polyline points="446.4,233 447.3,234.8 448.1,234.2 448.8,234.2 449,236.1 449.9,235.4 450.8,234 451.3,234 451.6,233.3 452.5,231.9 453.2,228.9 453.4,228.4 454.3,226.3 455.1,222.3 455.1,222.7 456,216.8 456.4,214.4 456.9,214.6 457.1,213.9 457.8,213.1 458.5,212.1 458.6,212.4 459,211.7 459.3,214.4 459.5,213 459.6,212.1 460,213.8 460.3,213.1 460.4,212.7 460.7,212.8 461.3,210.3 461.4,211.6 461.7,214.4 462,211.2 462.1,210.9 462.5,212.1 463,213.8 463.2,214.4 463.9,216.4 463.9,216.4 464.4,224.7 464.8,224.8 465.6,225.6 466.5,225 466.8,225.1 467.4,225.8 468.3,228.3 468.8,230.4 469.1,231.4 470,235.2 470.7,236.8 470.9,236.9 471.8,239.3 472.6,239.2 473.1,239.4 473.5,239.5 474.4,239.2 475.3,237.7 475.6,239.2 476.1,237.5 477,237.8 477.9,235.1 478.5,233.7 478.8,232.8 479.6,230.9 480.5,229.3 480.9,229.7 481.4,229.5 482.3,228.3 483.1,228.6 483.3,229.2 484,228.6 484.9,227.5 485.3,225.9 485.8,223.4 486.5,217.2 486.6,217.5 487.2,215.6 487.5,213.9 487.9,212.3 488.4,209 488.6,208.4 489.2,206.9 489.3,207.2 489.8,208.5 490.1,210.5 490.4,212.8 491,216 491.1,216.4 491.8,218.4 491.9,219.5 492.1,223.1 492.8,225.7 493.6,227 494,228.4 494.5,228.6 495.4,228.9 496,229 496.3,228.6 497.1,232.3 497.9,234 498,233 498.9,235.1 499.8,235.1 500.6,236.5 500.8,236 501.5,236.4 502.4,235.5 503.3,234.4 503.7,236 504.1,234.7 505,235.5 505.9,237 506.7,237.9 506.8,236.9 507.6,236.8 508.5,235.2 509.4,234 509.6,232.7 510.3,232.8 511.1,231.7 512,229.2 512.5,228.2 512.9,226.9 513.8,226.1 514.4,224.9 514.6,223.4 515.2,221.6 515.5,220.5 515.9,219.8 516.4,217.6 516.6,216.6 517.3,213.4 517.8,212.2 518.1,215.5 518.1,215.5 518.8,215.1 519,214.4 519.5,214.4 519.9,212 520.2,213.6 520.8,213.3 520.8,213.3 521.3,213.6 521.6,214.4 522,214.4 522.5,215.3 522.7,215.1 523.4,215.5 523.7,226.1 524.3,227.3 525.1,228.4 526,229.3 526.1,228.7 526.9,230.3 527.8,231.9 528,233.7 528.6,234.3 529.5,236.7 530,237.8 530.4,238 531.3,238.7 532.1,237.5 532.9,239.7" fill="none" stroke="#22c422" stroke-width="1.35" stroke-linejoin="round"/>
<polyline points="446.4,241.7 447.3,240.7 448.1,240.4 448.3,239.9 449,240 449.9,236.8 450.8,236.4 450.8,237.1 451.6,237.5 452.2,237.7 452.5,229 452.6,225.6 453.3,220.6 453.4,220.4 454,212.9 454.3,207.3 454.7,203.1 455.1,199.9 455.2,199.3 455.8,202.2 456,203.8 456.5,209.6 456.9,213.6 457.2,215.9 457.8,219 457.9,219.4 458.6,224.8 459.5,228.3 459.7,227.3 460.4,227.8 461.3,225.7 461.5,224.9 462.1,222.5 463,216.9 463.2,215.5 463.9,210.8 463.9,210.8 464.6,203.4 464.8,201.5 465.3,194.6 465.6,191.8 465.8,191.3 466.4,194.6 466.5,194.7 467.1,203.4 467.4,206.8 467.8,210.8 468.3,214 468.5,215.5 469.1,223.1 470,235.6 470.7,240.4 470.9,240 471.8,240 472.6,240.4 473.5,241 473.6,241.2 474.4,240 475.3,240.5 476.1,241.1 476.5,240.5 477,240.4 477.9,240 478.5,239.4 478.8,237.9 479.6,234.3 480.5,229.9 480.9,228.9 481.4,228.6 482.3,227.8 482.4,227.5 482.9,217.9 483.1,216 483.6,212.8 484,208 484.3,205.1 484.9,196.8 485,195.8 485.6,192.3 485.8,193.4 486.2,196.4 486.6,204 486.8,207.2 487.5,216.3 487.5,216.3 488.2,222.9 488.4,223.7 489.2,229.2 489.3,228.9 490.1,230.5 491,230.2 491.1,231.1 491.9,228.9 492.8,227.6 493.1,226.1 493.3,211.2 493.6,208.6 494,206 494.5,201 494.7,197.8 495.4,188 496,184.3 496.3,186.6 496.6,188.4 497.1,197.9 497.2,199.4 497.9,208.6 498,209.7 498.6,214.4 498.9,222.1 499.4,236.1 499.8,236.9 500.6,240.1 501.5,240.4 501.8,241.6 502.4,241.1 503.3,241.1 504.1,240.9 504.7,240.9 505,242.1 505.9,241.8 506.8,240.3 507.6,241 508.5,241.1 509.4,238.7 510.1,237.8 510.3,238.2 511.1,232.3 512,223.5 512.7,217 512.9,214.5 513.4,205.6 513.8,196.6 514.1,192 514.6,186.9 515.2,191.4 515.5,195.9 515.9,203.4 516.4,211.1 516.6,213.5 517.3,219.7 517.3,219.1 518.1,229.1 518.3,228.6 519,228.8 519.8,229.7 519.9,228.3 520.8,227.9 521.6,226.5 521.7,225.4 522.1,211.2 522.5,207.9 522.8,205.9 523.4,198.4 523.5,197.4 524.2,187.3 524.3,186.5 524.7,183.4 525.1,185.4 525.3,188.1 526,200.6 526,200.6 526.7,211.1 526.9,213 527.4,217.8 527.8,227.8 528,233.3 528.6,237.8 529.5,238.4 530,239.6 530.4,239.8 531.3,239.5 532.1,239.6 532.9,239.4" fill="none" stroke="#ff1a1a" stroke-width="1.35" stroke-linejoin="round"/>
<path d="M446.4 174.6V249.9H533.9" fill="none" stroke="#444" stroke-width="0.9"/>
<text x="444" y="251.8" font-size="5.5" font-weight="bold" text-anchor="end" fill="#111">0</text>
<text x="444" y="241" font-size="5.5" font-weight="bold" text-anchor="end" fill="#111">1000</text>
<text x="444" y="230.3" font-size="5.5" font-weight="bold" text-anchor="end" fill="#111">2000</text>
<text x="444" y="219.5" font-size="5.5" font-weight="bold" text-anchor="end" fill="#111">3000</text>
<text x="444" y="208.8" font-size="5.5" font-weight="bold" text-anchor="end" fill="#111">4000</text>
<text x="444" y="198" font-size="5.5" font-weight="bold" text-anchor="end" fill="#111">5000</text>
<text x="444" y="187.3" font-size="5.5" font-weight="bold" text-anchor="end" fill="#111">6000</text>
<text x="444" y="176.5" font-size="5.5" font-weight="bold" text-anchor="end" fill="#111">7000</text>
<text x="446.4" y="258" font-size="5.8" font-weight="bold" text-anchor="middle" fill="#111">0</text>
<text x="456.1" y="258" font-size="5.8" font-weight="bold" text-anchor="middle" fill="#111">1</text>
<text x="465.8" y="258" font-size="5.8" font-weight="bold" text-anchor="middle" fill="#111">2</text>
<text x="475.6" y="258" font-size="5.8" font-weight="bold" text-anchor="middle" fill="#111">3</text>
<text x="485.3" y="258" font-size="5.8" font-weight="bold" text-anchor="middle" fill="#111">4</text>
<text x="495" y="258" font-size="5.8" font-weight="bold" text-anchor="middle" fill="#111">5</text>
<text x="504.7" y="258" font-size="5.8" font-weight="bold" text-anchor="middle" fill="#111">6</text>
<text x="514.4" y="258" font-size="5.8" font-weight="bold" text-anchor="middle" fill="#111">7</text>
<text x="524.2" y="258" font-size="5.8" font-weight="bold" text-anchor="middle" fill="#111">8</text>
<text x="533.9" y="258" font-size="5.8" font-weight="bold" text-anchor="middle" fill="#111">9</text>
<path d="M444.4 249.9H446.4M444.4 239.1H446.4M444.4 228.4H446.4M444.4 217.6H446.4M444.4 206.9H446.4M444.4 196.1H446.4M444.4 185.4H446.4M444.4 174.6H446.4M446.4 249.9V251.7M456.1 249.9V251.7M465.8 249.9V251.7M475.6 249.9V251.7M485.3 249.9V251.7M495 249.9V251.7M504.7 249.9V251.7M514.4 249.9V251.7M524.2 249.9V251.7M533.9 249.9V251.7" stroke="#444" stroke-width="0.8"/>
<text x="489.9" y="272.6" font-size="9.3" font-weight="bold" text-anchor="middle">Distance (µm)</text>
<text transform="translate(423.6,210) rotate(-90)" font-size="9.3" font-weight="bold" text-anchor="middle">Fluorescence</text>
<path d="M450.8 180.5h5.3" stroke="#ff1a1a" stroke-width="1.3"/>
<path d="M450.8 186.3h5.3" stroke="#22c422" stroke-width="1.3"/>
<text x="458" y="182.2" font-size="5.1" font-weight="bold" fill="#222">RyR1</text>
<text x="458" y="188" font-size="5.1" font-weight="bold" fill="#222">ORAI1</text>
<path d="M172.3 145.9H258.6M172.3 145.9v1.6M193.9 145.9v1.3M215.5 145.9v1.3M237 145.9v1.3M258.6 145.9v1.6" fill="none" stroke="#555" stroke-width="0.8"/>
<text x="172.3" y="156.5" font-size="7.9" font-weight="bold" text-anchor="middle" fill="#111">0.0</text>
<text x="215.5" y="156.5" font-size="7.9" font-weight="bold" text-anchor="middle" fill="#111">0.5</text>
<text x="258.6" y="156.5" font-size="7.9" font-weight="bold" text-anchor="middle" fill="#111">1.0</text>
<text x="215" y="163.7" font-size="7.35" font-weight="bold" text-anchor="middle" fill="#111">Pearson's coefficient</text>
<text x="247.7" y="142.8" font-size="6.6" font-weight="bold" text-anchor="middle" fill="#111">n=10</text>
<path d="M184.5 136.5H190.9M184.5 135.5v2M190.9 135.5v2" stroke="#444" stroke-width="0.6" fill="none"/>
<circle cx="187.7" cy="136.5" r="1.35" fill="#000"/>
<path d="M445.4 145.8H531.6M445.4 145.8v1.6M466.9 145.8v1.3M488.5 145.8v1.3M510 145.8v1.3M531.6 145.8v1.6" fill="none" stroke="#555" stroke-width="0.8"/>
<text x="445.4" y="156.4" font-size="7.9" font-weight="bold" text-anchor="middle" fill="#111">0.0</text>
<text x="488.5" y="156.4" font-size="7.9" font-weight="bold" text-anchor="middle" fill="#111">0.5</text>
<text x="531.6" y="156.4" font-size="7.9" font-weight="bold" text-anchor="middle" fill="#111">1.0</text>
<text x="488.1" y="163.6" font-size="7.35" font-weight="bold" text-anchor="middle" fill="#111">Pearson's coefficient</text>
<text x="520.8" y="142.7" font-size="6.6" font-weight="bold" text-anchor="middle" fill="#111">n=10</text>
<path d="M454 136.5H461.3M454 135.5v2M461.3 135.5v2" stroke="#444" stroke-width="0.6" fill="none"/>
<circle cx="457.6" cy="136.5" r="1.35" fill="#000"/>
<path d="M173 295H258.4M173 295v1.6M194.3 295v1.3M215.7 295v1.3M237.1 295v1.3M258.4 295v1.6" fill="none" stroke="#555" stroke-width="0.8"/>
<text x="173" y="305.6" font-size="7.9" font-weight="bold" text-anchor="middle" fill="#111">0.0</text>
<text x="215.7" y="305.6" font-size="7.9" font-weight="bold" text-anchor="middle" fill="#111">0.5</text>
<text x="258.4" y="305.6" font-size="7.9" font-weight="bold" text-anchor="middle" fill="#111">1.0</text>
<text x="215.7" y="314.9" font-size="7.35" font-weight="bold" text-anchor="middle" fill="#111">Pearson's coefficient</text>
<text x="248.4" y="291.9" font-size="6.6" font-weight="bold" text-anchor="middle" fill="#111">n=10</text>
<path d="M214 283.8H231.1M214 282.8v2M231.1 282.8v2" stroke="#444" stroke-width="0.6" fill="none"/>
<circle cx="222.5" cy="283.8" r="1.35" fill="#000"/>
<path d="M445.8 295H531.6M445.8 295v1.6M467.2 295v1.3M488.7 295v1.3M510.1 295v1.3M531.6 295v1.6" fill="none" stroke="#555" stroke-width="0.8"/>
<text x="445.8" y="305.6" font-size="7.9" font-weight="bold" text-anchor="middle" fill="#111">0.0</text>
<text x="488.7" y="305.6" font-size="7.9" font-weight="bold" text-anchor="middle" fill="#111">0.5</text>
<text x="531.6" y="305.6" font-size="7.9" font-weight="bold" text-anchor="middle" fill="#111">1.0</text>
<text x="488.5" y="314.9" font-size="7.35" font-weight="bold" text-anchor="middle" fill="#111">Pearson's coefficient</text>
<text x="521.2" y="291.9" font-size="6.6" font-weight="bold" text-anchor="middle" fill="#111">n=10</text>
<path d="M458.3 287.3H466.7M458.3 286.3v2M466.7 286.3v2" stroke="#444" stroke-width="0.6" fill="none"/>
<circle cx="462.5" cy="287.3" r="1.35" fill="#000"/>
<text x="462.5" y="284.3" font-size="6.5" text-anchor="middle" font-family="DejaVu Sans, sans-serif" fill="#111">★</text>
</svg>
</body></html>
